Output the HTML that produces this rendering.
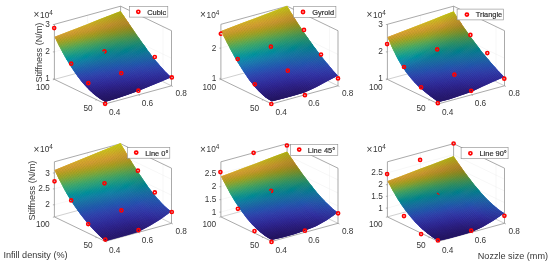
<!DOCTYPE html>
<html><head><meta charset="utf-8"><title>Stiffness surfaces</title>
<style>html,body{margin:0;padding:0;background:#fff}svg{display:block}text{font-family:"Liberation Sans",Arial,sans-serif;fill:#363636}</style>
</head><body>
<svg width="550" height="265" viewBox="0 0 550 265">
<rect width="550" height="265" fill="#fff"/>
<g><polyline points="54.4,51.8 120.6,33.7 171.5,58.2" fill="none" stroke="#efefef" stroke-width="0.5"/>
<line x1="163" y1="81.7" x2="163" y2="26.6" stroke="#efefef" stroke-width="0.5"/>
<line x1="87.5" y1="70.3" x2="87.5" y2="15.2" stroke="#efefef" stroke-width="0.5"/>
<polyline points="54.4,79.4 120.6,61.3 171.5,85.8" fill="none" stroke="#b0b0b0" stroke-width="0.6"/>
<polyline points="54.4,24.3 120.6,6.2 171.5,30.7" fill="none" stroke="#858585" stroke-width="0.7"/>
<line x1="120.6" y1="61.3" x2="120.6" y2="6.2" stroke="#858585" stroke-width="0.7"/>
<line x1="171.5" y1="85.8" x2="171.5" y2="30.7" stroke="#858585" stroke-width="0.7"/>
<line x1="54.4" y1="79.4" x2="54.4" y2="24.3" stroke="#858585" stroke-width="0.7"/>
<polyline points="54.4,79.4 105.3,103.9 171.5,85.8" fill="none" stroke="#858585" stroke-width="0.7"/>
<line x1="52.9" y1="24.5" x2="54.4" y2="24.5" stroke="#858585" stroke-width="0.6"/>
<line x1="52.9" y1="51.9" x2="54.4" y2="51.9" stroke="#858585" stroke-width="0.6"/>
<line x1="52.9" y1="78.9" x2="54.4" y2="78.9" stroke="#858585" stroke-width="0.6"/>
<line x1="105.3" y1="103.9" x2="106.6" y2="104.6" stroke="#858585" stroke-width="0.6"/>
<line x1="138.4" y1="94.8" x2="139.8" y2="95.5" stroke="#858585" stroke-width="0.6"/>
<line x1="171.5" y1="85.8" x2="172.8" y2="86.5" stroke="#858585" stroke-width="0.6"/>
<line x1="54.4" y1="79.4" x2="52.9" y2="79.8" stroke="#858585" stroke-width="0.6"/>
<line x1="96.8" y1="99.8" x2="95.4" y2="100.2" stroke="#858585" stroke-width="0.6"/>
<defs><linearGradient id="c00g0" gradientUnits="userSpaceOnUse" x1="54.8" y1="37.7" x2="121" y2="11.6"><stop offset="0" stop-color="#efb33b"/><stop offset="0.25" stop-color="#f4c033"/><stop offset="0.5" stop-color="#eccc2a"/><stop offset="0.75" stop-color="#dacf21"/><stop offset="1" stop-color="#cece14"/></linearGradient><linearGradient id="c00g1" gradientUnits="userSpaceOnUse" x1="55.6" y1="39.3" x2="121.8" y2="12.7"><stop offset="0" stop-color="#e1b32f"/><stop offset="0.25" stop-color="#f4b739"/><stop offset="0.5" stop-color="#efc42e"/><stop offset="0.75" stop-color="#dbc924"/><stop offset="1" stop-color="#cdca19"/></linearGradient><linearGradient id="c00g2" gradientUnits="userSpaceOnUse" x1="56.4" y1="40.9" x2="122.6" y2="13.9"><stop offset="0" stop-color="#d2b627"/><stop offset="0.25" stop-color="#ecb339"/><stop offset="0.5" stop-color="#f0bc32"/><stop offset="0.75" stop-color="#ddc227"/><stop offset="1" stop-color="#cdc51d"/></linearGradient><linearGradient id="c00g3" gradientUnits="userSpaceOnUse" x1="57.2" y1="42.5" x2="123.4" y2="15"><stop offset="0" stop-color="#c1b928"/><stop offset="0.25" stop-color="#e0b32e"/><stop offset="0.5" stop-color="#efb538"/><stop offset="0.75" stop-color="#e0bb2a"/><stop offset="1" stop-color="#cdc020"/></linearGradient><linearGradient id="c00g4" gradientUnits="userSpaceOnUse" x1="58" y1="44.1" x2="124.2" y2="16.2"><stop offset="0" stop-color="#aebd31"/><stop offset="0.25" stop-color="#d2b627"/><stop offset="0.5" stop-color="#e9af39"/><stop offset="0.75" stop-color="#e1b52d"/><stop offset="1" stop-color="#cebb22"/></linearGradient><linearGradient id="c00g5" gradientUnits="userSpaceOnUse" x1="58.8" y1="45.6" x2="125" y2="17.4"><stop offset="0" stop-color="#9ac03e"/><stop offset="0.25" stop-color="#c3b927"/><stop offset="0.5" stop-color="#dfae30"/><stop offset="0.75" stop-color="#e2ae31"/><stop offset="1" stop-color="#d0b625"/></linearGradient><linearGradient id="c00g6" gradientUnits="userSpaceOnUse" x1="59.6" y1="47.2" x2="125.8" y2="18.5"><stop offset="0" stop-color="#85c34e"/><stop offset="0.25" stop-color="#b2bc2e"/><stop offset="0.5" stop-color="#d2b028"/><stop offset="0.75" stop-color="#e1a836"/><stop offset="1" stop-color="#d3b127"/></linearGradient><linearGradient id="c00g7" gradientUnits="userSpaceOnUse" x1="60.4" y1="48.7" x2="126.6" y2="19.7"><stop offset="0" stop-color="#70c45e"/><stop offset="0.25" stop-color="#a0bf39"/><stop offset="0.5" stop-color="#c5b225"/><stop offset="0.75" stop-color="#daa535"/><stop offset="1" stop-color="#d5ac2a"/></linearGradient><linearGradient id="c00g8" gradientUnits="userSpaceOnUse" x1="61.2" y1="50.2" x2="127.4" y2="20.9"><stop offset="0" stop-color="#5dc46d"/><stop offset="0.25" stop-color="#8dc046"/><stop offset="0.5" stop-color="#b7b427"/><stop offset="0.75" stop-color="#d1a52d"/><stop offset="1" stop-color="#d6a62e"/></linearGradient><linearGradient id="c00g9" gradientUnits="userSpaceOnUse" x1="62" y1="51.7" x2="128.2" y2="22"><stop offset="0" stop-color="#4bc37c"/><stop offset="0.25" stop-color="#7ac254"/><stop offset="0.5" stop-color="#a7b62f"/><stop offset="0.75" stop-color="#c7a626"/><stop offset="1" stop-color="#d6a232"/></linearGradient><linearGradient id="c00g10" gradientUnits="userSpaceOnUse" x1="62.8" y1="53.1" x2="129" y2="23.2"><stop offset="0" stop-color="#3cc188"/><stop offset="0.25" stop-color="#67c262"/><stop offset="0.5" stop-color="#97b839"/><stop offset="0.75" stop-color="#bca823"/><stop offset="1" stop-color="#d39e33"/></linearGradient><linearGradient id="c00g11" gradientUnits="userSpaceOnUse" x1="63.5" y1="54.5" x2="129.7" y2="24.4"><stop offset="0" stop-color="#32be94"/><stop offset="0.25" stop-color="#56c06f"/><stop offset="0.5" stop-color="#87b944"/><stop offset="0.75" stop-color="#b1aa24"/><stop offset="1" stop-color="#cc9d2f"/></linearGradient><linearGradient id="c00g12" gradientUnits="userSpaceOnUse" x1="64.3" y1="56" x2="130.5" y2="25.5"><stop offset="0" stop-color="#2aba9e"/><stop offset="0.25" stop-color="#47be7b"/><stop offset="0.5" stop-color="#76ba50"/><stop offset="0.75" stop-color="#a4ac2a"/><stop offset="1" stop-color="#c59d28"/></linearGradient><linearGradient id="c00g13" gradientUnits="userSpaceOnUse" x1="65.1" y1="57.3" x2="131.3" y2="26.7"><stop offset="0" stop-color="#1cb6a8"/><stop offset="0.25" stop-color="#3abc85"/><stop offset="0.5" stop-color="#66ba5b"/><stop offset="0.75" stop-color="#97ad31"/><stop offset="1" stop-color="#bc9f23"/></linearGradient><linearGradient id="c00g14" gradientUnits="userSpaceOnUse" x1="65.9" y1="58.7" x2="132.1" y2="27.8"><stop offset="0" stop-color="#09b1b1"/><stop offset="0.25" stop-color="#31b88f"/><stop offset="0.5" stop-color="#57b867"/><stop offset="0.75" stop-color="#89af3a"/><stop offset="1" stop-color="#b3a121"/></linearGradient><linearGradient id="c00g15" gradientUnits="userSpaceOnUse" x1="66.7" y1="60.1" x2="132.9" y2="29"><stop offset="0" stop-color="#01acb9"/><stop offset="0.25" stop-color="#2ab497"/><stop offset="0.5" stop-color="#49b771"/><stop offset="0.75" stop-color="#7bb044"/><stop offset="1" stop-color="#a9a323"/></linearGradient><linearGradient id="c00g16" gradientUnits="userSpaceOnUse" x1="67.5" y1="61.4" x2="133.7" y2="30.2"><stop offset="0" stop-color="#08a6c0"/><stop offset="0.25" stop-color="#1fb0a0"/><stop offset="0.5" stop-color="#3cb47b"/><stop offset="0.75" stop-color="#6db04f"/><stop offset="1" stop-color="#9ea528"/></linearGradient><linearGradient id="c00g17" gradientUnits="userSpaceOnUse" x1="68.3" y1="62.7" x2="134.5" y2="31.3"><stop offset="0" stop-color="#13a0c6"/><stop offset="0.25" stop-color="#0faba8"/><stop offset="0.5" stop-color="#33b284"/><stop offset="0.75" stop-color="#5fb058"/><stop offset="1" stop-color="#93a72e"/></linearGradient><linearGradient id="c00g18" gradientUnits="userSpaceOnUse" x1="69.1" y1="64" x2="135.3" y2="32.5"><stop offset="0" stop-color="#1999c9"/><stop offset="0.25" stop-color="#02a7af"/><stop offset="0.5" stop-color="#2cae8b"/><stop offset="0.75" stop-color="#52b062"/><stop offset="1" stop-color="#87a836"/></linearGradient><linearGradient id="c00g19" gradientUnits="userSpaceOnUse" x1="69.9" y1="65.3" x2="136.1" y2="33.6"><stop offset="0" stop-color="#1d91ca"/><stop offset="0.25" stop-color="#03a2b5"/><stop offset="0.5" stop-color="#26ab93"/><stop offset="0.75" stop-color="#46ae6c"/><stop offset="1" stop-color="#7baa3f"/></linearGradient><linearGradient id="c00g20" gradientUnits="userSpaceOnUse" x1="70.7" y1="66.5" x2="136.9" y2="34.8"><stop offset="0" stop-color="#208acb"/><stop offset="0.25" stop-color="#0d9cbb"/><stop offset="0.5" stop-color="#1ba79a"/><stop offset="0.75" stop-color="#3bad74"/><stop offset="1" stop-color="#6eaa48"/></linearGradient><linearGradient id="c00g21" gradientUnits="userSpaceOnUse" x1="71.5" y1="67.8" x2="137.7" y2="35.9"><stop offset="0" stop-color="#2283cc"/><stop offset="0.25" stop-color="#1597bf"/><stop offset="0.5" stop-color="#0ca3a1"/><stop offset="0.75" stop-color="#32ab7c"/><stop offset="1" stop-color="#62ab51"/></linearGradient><linearGradient id="c00g22" gradientUnits="userSpaceOnUse" x1="72.3" y1="69" x2="138.5" y2="37.1"><stop offset="0" stop-color="#257ccd"/><stop offset="0.25" stop-color="#1990c1"/><stop offset="0.5" stop-color="#019fa8"/><stop offset="0.75" stop-color="#2ca883"/><stop offset="1" stop-color="#56ab5b"/></linearGradient><linearGradient id="c00g23" gradientUnits="userSpaceOnUse" x1="73.1" y1="70.2" x2="139.3" y2="38.2"><stop offset="0" stop-color="#2676cf"/><stop offset="0.25" stop-color="#1d8ac2"/><stop offset="0.5" stop-color="#039bae"/><stop offset="0.75" stop-color="#27a58a"/><stop offset="1" stop-color="#4baa64"/></linearGradient><linearGradient id="c00g24" gradientUnits="userSpaceOnUse" x1="73.9" y1="71.3" x2="140.1" y2="39.4"><stop offset="0" stop-color="#276fd0"/><stop offset="0.25" stop-color="#1f84c3"/><stop offset="0.5" stop-color="#0b97b3"/><stop offset="0.75" stop-color="#1fa291"/><stop offset="1" stop-color="#40a96c"/></linearGradient><linearGradient id="c00g25" gradientUnits="userSpaceOnUse" x1="74.7" y1="72.5" x2="140.9" y2="40.5"><stop offset="0" stop-color="#2869d1"/><stop offset="0.25" stop-color="#217ec5"/><stop offset="0.5" stop-color="#1392b7"/><stop offset="0.75" stop-color="#14a098"/><stop offset="1" stop-color="#37a874"/></linearGradient><linearGradient id="c00g26" gradientUnits="userSpaceOnUse" x1="75.5" y1="73.6" x2="141.7" y2="41.6"><stop offset="0" stop-color="#2c63d1"/><stop offset="0.25" stop-color="#2479c7"/><stop offset="0.5" stop-color="#188dba"/><stop offset="0.75" stop-color="#079d9e"/><stop offset="1" stop-color="#30a67b"/></linearGradient><linearGradient id="c00g27" gradientUnits="userSpaceOnUse" x1="76.3" y1="74.7" x2="142.5" y2="42.7"><stop offset="0" stop-color="#315ed1"/><stop offset="0.25" stop-color="#2573c9"/><stop offset="0.5" stop-color="#1b88bc"/><stop offset="0.75" stop-color="#0199a4"/><stop offset="1" stop-color="#2aa481"/></linearGradient><linearGradient id="c00g28" gradientUnits="userSpaceOnUse" x1="77.1" y1="75.8" x2="143.3" y2="43.9"><stop offset="0" stop-color="#3559d0"/><stop offset="0.25" stop-color="#266ecb"/><stop offset="0.5" stop-color="#1d83be"/><stop offset="0.75" stop-color="#0496aa"/><stop offset="1" stop-color="#26a288"/></linearGradient><linearGradient id="c00g29" gradientUnits="userSpaceOnUse" x1="77.9" y1="76.9" x2="144.1" y2="45"><stop offset="0" stop-color="#3754d0"/><stop offset="0.25" stop-color="#2769cd"/><stop offset="0.5" stop-color="#1f7ec0"/><stop offset="0.75" stop-color="#0d93af"/><stop offset="1" stop-color="#1e9f8f"/></linearGradient><linearGradient id="c00g30" gradientUnits="userSpaceOnUse" x1="78.7" y1="77.9" x2="144.9" y2="46.1"><stop offset="0" stop-color="#3950cf"/><stop offset="0.25" stop-color="#2a64cf"/><stop offset="0.5" stop-color="#217ac2"/><stop offset="0.75" stop-color="#138fb4"/><stop offset="1" stop-color="#149d95"/></linearGradient><linearGradient id="c00g31" gradientUnits="userSpaceOnUse" x1="79.5" y1="79" x2="145.7" y2="47.2"><stop offset="0" stop-color="#3a4ccd"/><stop offset="0.25" stop-color="#2f60d1"/><stop offset="0.5" stop-color="#2475c5"/><stop offset="0.75" stop-color="#178bb7"/><stop offset="1" stop-color="#089b9c"/></linearGradient><linearGradient id="c00g32" gradientUnits="userSpaceOnUse" x1="80.2" y1="80" x2="146.4" y2="48.3"><stop offset="0" stop-color="#3a48cb"/><stop offset="0.25" stop-color="#335bd1"/><stop offset="0.5" stop-color="#2571c9"/><stop offset="0.75" stop-color="#1a87ba"/><stop offset="1" stop-color="#0198a2"/></linearGradient><linearGradient id="c00g33" gradientUnits="userSpaceOnUse" x1="81" y1="81" x2="147.2" y2="49.4"><stop offset="0" stop-color="#3b45c9"/><stop offset="0.25" stop-color="#3657d0"/><stop offset="0.5" stop-color="#266dcb"/><stop offset="0.75" stop-color="#1d83bc"/><stop offset="1" stop-color="#0396a8"/></linearGradient><linearGradient id="c00g34" gradientUnits="userSpaceOnUse" x1="81.8" y1="81.9" x2="148" y2="50.4"><stop offset="0" stop-color="#3b41c7"/><stop offset="0.25" stop-color="#3853cf"/><stop offset="0.5" stop-color="#2768ce"/><stop offset="0.75" stop-color="#1f7fbe"/><stop offset="1" stop-color="#0a93ad"/></linearGradient><linearGradient id="c00g35" gradientUnits="userSpaceOnUse" x1="82.6" y1="82.9" x2="148.8" y2="51.5"><stop offset="0" stop-color="#3b3ec4"/><stop offset="0.25" stop-color="#394fce"/><stop offset="0.5" stop-color="#2b64cf"/><stop offset="0.75" stop-color="#217bc1"/><stop offset="1" stop-color="#1190b2"/></linearGradient><linearGradient id="c00g36" gradientUnits="userSpaceOnUse" x1="83.4" y1="83.8" x2="149.6" y2="52.6"><stop offset="0" stop-color="#3b3bc2"/><stop offset="0.25" stop-color="#3a4bcd"/><stop offset="0.5" stop-color="#2f5fd1"/><stop offset="0.75" stop-color="#2377c4"/><stop offset="1" stop-color="#168cb6"/></linearGradient><linearGradient id="c00g37" gradientUnits="userSpaceOnUse" x1="84.2" y1="84.7" x2="150.4" y2="53.6"><stop offset="0" stop-color="#3a38bf"/><stop offset="0.25" stop-color="#3a48cb"/><stop offset="0.5" stop-color="#335bd1"/><stop offset="0.75" stop-color="#2573c7"/><stop offset="1" stop-color="#1988b9"/></linearGradient><linearGradient id="c00g38" gradientUnits="userSpaceOnUse" x1="85" y1="85.6" x2="151.2" y2="54.7"><stop offset="0" stop-color="#3a35bc"/><stop offset="0.25" stop-color="#3b44c9"/><stop offset="0.5" stop-color="#3657d0"/><stop offset="0.75" stop-color="#256fca"/><stop offset="1" stop-color="#1c85bb"/></linearGradient><linearGradient id="c00g39" gradientUnits="userSpaceOnUse" x1="85.8" y1="86.5" x2="152" y2="55.7"><stop offset="0" stop-color="#3a33b9"/><stop offset="0.25" stop-color="#3b41c7"/><stop offset="0.5" stop-color="#3853cf"/><stop offset="0.75" stop-color="#266bcc"/><stop offset="1" stop-color="#1e81bd"/></linearGradient><linearGradient id="c00g40" gradientUnits="userSpaceOnUse" x1="86.6" y1="87.4" x2="152.8" y2="56.7"><stop offset="0" stop-color="#3930b5"/><stop offset="0.25" stop-color="#3b3ec4"/><stop offset="0.5" stop-color="#394fce"/><stop offset="0.75" stop-color="#2867ce"/><stop offset="1" stop-color="#1f7dbf"/></linearGradient><linearGradient id="c00g41" gradientUnits="userSpaceOnUse" x1="87.4" y1="88.2" x2="153.6" y2="57.7"><stop offset="0" stop-color="#392eb2"/><stop offset="0.25" stop-color="#3b3bc2"/><stop offset="0.5" stop-color="#3a4ccd"/><stop offset="0.75" stop-color="#2c63d0"/><stop offset="1" stop-color="#2279c2"/></linearGradient><linearGradient id="c00g42" gradientUnits="userSpaceOnUse" x1="88.2" y1="89" x2="154.4" y2="58.7"><stop offset="0" stop-color="#382dae"/><stop offset="0.25" stop-color="#3a38bf"/><stop offset="0.5" stop-color="#3a49cb"/><stop offset="0.75" stop-color="#305ed1"/><stop offset="1" stop-color="#2476c5"/></linearGradient><linearGradient id="c00g43" gradientUnits="userSpaceOnUse" x1="89" y1="89.8" x2="155.2" y2="59.7"><stop offset="0" stop-color="#382bab"/><stop offset="0.25" stop-color="#3a36bc"/><stop offset="0.5" stop-color="#3b45ca"/><stop offset="0.75" stop-color="#345ad1"/><stop offset="1" stop-color="#2572c8"/></linearGradient><linearGradient id="c00g44" gradientUnits="userSpaceOnUse" x1="89.8" y1="90.6" x2="156" y2="60.7"><stop offset="0" stop-color="#372aa7"/><stop offset="0.25" stop-color="#3a33b9"/><stop offset="0.5" stop-color="#3b42c7"/><stop offset="0.75" stop-color="#3657d0"/><stop offset="1" stop-color="#256ecb"/></linearGradient><linearGradient id="c00g45" gradientUnits="userSpaceOnUse" x1="90.6" y1="91.4" x2="156.8" y2="61.7"><stop offset="0" stop-color="#3728a4"/><stop offset="0.25" stop-color="#3a31b6"/><stop offset="0.5" stop-color="#3b3fc5"/><stop offset="0.75" stop-color="#3853cf"/><stop offset="1" stop-color="#266acd"/></linearGradient><linearGradient id="c00g46" gradientUnits="userSpaceOnUse" x1="91.4" y1="92.1" x2="157.6" y2="62.7"><stop offset="0" stop-color="#3627a1"/><stop offset="0.25" stop-color="#392fb3"/><stop offset="0.5" stop-color="#3b3dc3"/><stop offset="0.75" stop-color="#3950cf"/><stop offset="1" stop-color="#2966ce"/></linearGradient><linearGradient id="c00g47" gradientUnits="userSpaceOnUse" x1="92.2" y1="92.8" x2="158.4" y2="63.6"><stop offset="0" stop-color="#36269e"/><stop offset="0.25" stop-color="#392daf"/><stop offset="0.5" stop-color="#3b3ac1"/><stop offset="0.75" stop-color="#3a4ccd"/><stop offset="1" stop-color="#2c62d0"/></linearGradient><linearGradient id="c00g48" gradientUnits="userSpaceOnUse" x1="93" y1="93.5" x2="159.2" y2="64.5"><stop offset="0" stop-color="#36259b"/><stop offset="0.25" stop-color="#382cac"/><stop offset="0.5" stop-color="#3a37be"/><stop offset="0.75" stop-color="#3a49cc"/><stop offset="1" stop-color="#305ed1"/></linearGradient><linearGradient id="c00g49" gradientUnits="userSpaceOnUse" x1="93.8" y1="94.2" x2="160" y2="65.5"><stop offset="0" stop-color="#352499"/><stop offset="0.25" stop-color="#382aa9"/><stop offset="0.5" stop-color="#3a35bb"/><stop offset="0.75" stop-color="#3b46ca"/><stop offset="1" stop-color="#335bd1"/></linearGradient><linearGradient id="c00g50" gradientUnits="userSpaceOnUse" x1="94.6" y1="94.9" x2="160.8" y2="66.4"><stop offset="0" stop-color="#352396"/><stop offset="0.25" stop-color="#3729a5"/><stop offset="0.5" stop-color="#3a33b8"/><stop offset="0.75" stop-color="#3b44c8"/><stop offset="1" stop-color="#3657d0"/></linearGradient><linearGradient id="c00g51" gradientUnits="userSpaceOnUse" x1="95.4" y1="95.5" x2="161.6" y2="67.3"><stop offset="0" stop-color="#342394"/><stop offset="0.25" stop-color="#3728a2"/><stop offset="0.5" stop-color="#3931b6"/><stop offset="0.75" stop-color="#3b41c6"/><stop offset="1" stop-color="#3754d0"/></linearGradient><linearGradient id="c00g52" gradientUnits="userSpaceOnUse" x1="96.2" y1="96.1" x2="162.4" y2="68.2"><stop offset="0" stop-color="#342293"/><stop offset="0.25" stop-color="#36279f"/><stop offset="0.5" stop-color="#392fb2"/><stop offset="0.75" stop-color="#3b3ec4"/><stop offset="1" stop-color="#3951cf"/></linearGradient><linearGradient id="c00g53" gradientUnits="userSpaceOnUse" x1="96.9" y1="96.7" x2="163.1" y2="69"><stop offset="0" stop-color="#342291"/><stop offset="0.25" stop-color="#36269d"/><stop offset="0.5" stop-color="#392daf"/><stop offset="0.75" stop-color="#3b3cc2"/><stop offset="1" stop-color="#394ece"/></linearGradient><linearGradient id="c00g54" gradientUnits="userSpaceOnUse" x1="97.7" y1="97.3" x2="163.9" y2="69.9"><stop offset="0" stop-color="#34218f"/><stop offset="0.25" stop-color="#35259a"/><stop offset="0.5" stop-color="#382cac"/><stop offset="0.75" stop-color="#3b3ac0"/><stop offset="1" stop-color="#3a4bcc"/></linearGradient><linearGradient id="c00g55" gradientUnits="userSpaceOnUse" x1="98.5" y1="97.9" x2="164.7" y2="70.7"><stop offset="0" stop-color="#33218e"/><stop offset="0.25" stop-color="#352498"/><stop offset="0.5" stop-color="#382aa9"/><stop offset="0.75" stop-color="#3a37be"/><stop offset="1" stop-color="#3a48cb"/></linearGradient><linearGradient id="c00g56" gradientUnits="userSpaceOnUse" x1="99.3" y1="98.4" x2="165.5" y2="71.6"><stop offset="0" stop-color="#33208d"/><stop offset="0.25" stop-color="#352396"/><stop offset="0.5" stop-color="#3729a6"/><stop offset="0.75" stop-color="#3a35bc"/><stop offset="1" stop-color="#3b45c9"/></linearGradient><linearGradient id="c00g57" gradientUnits="userSpaceOnUse" x1="100.1" y1="98.9" x2="166.3" y2="72.4"><stop offset="0" stop-color="#33208c"/><stop offset="0.25" stop-color="#342394"/><stop offset="0.5" stop-color="#3728a3"/><stop offset="0.75" stop-color="#3a33b9"/><stop offset="1" stop-color="#3b43c8"/></linearGradient><linearGradient id="c00g58" gradientUnits="userSpaceOnUse" x1="100.9" y1="99.4" x2="167.1" y2="73.2"><stop offset="0" stop-color="#33208c"/><stop offset="0.25" stop-color="#342292"/><stop offset="0.5" stop-color="#3627a0"/><stop offset="0.75" stop-color="#3a31b7"/><stop offset="1" stop-color="#3b40c6"/></linearGradient><linearGradient id="c00g59" gradientUnits="userSpaceOnUse" x1="101.7" y1="99.9" x2="167.9" y2="74"><stop offset="0" stop-color="#33208b"/><stop offset="0.25" stop-color="#342291"/><stop offset="0.5" stop-color="#36269e"/><stop offset="0.75" stop-color="#3930b4"/><stop offset="1" stop-color="#3b3ec4"/></linearGradient><linearGradient id="c00g60" gradientUnits="userSpaceOnUse" x1="102.5" y1="100.4" x2="168.7" y2="74.7"><stop offset="0" stop-color="#33208b"/><stop offset="0.25" stop-color="#34218f"/><stop offset="0.5" stop-color="#36259b"/><stop offset="0.75" stop-color="#392eb1"/><stop offset="1" stop-color="#3b3cc2"/></linearGradient><linearGradient id="c00g61" gradientUnits="userSpaceOnUse" x1="103.3" y1="100.9" x2="169.5" y2="75.5"><stop offset="0" stop-color="#33208a"/><stop offset="0.25" stop-color="#33218e"/><stop offset="0.5" stop-color="#352599"/><stop offset="0.75" stop-color="#392daf"/><stop offset="1" stop-color="#3b3ac1"/></linearGradient><linearGradient id="c00g62" gradientUnits="userSpaceOnUse" x1="104.1" y1="101.3" x2="170.3" y2="76.2"><stop offset="0" stop-color="#331f8a"/><stop offset="0.25" stop-color="#33208d"/><stop offset="0.5" stop-color="#352498"/><stop offset="0.75" stop-color="#382cac"/><stop offset="1" stop-color="#3a38bf"/></linearGradient><linearGradient id="c00g63" gradientUnits="userSpaceOnUse" x1="104.9" y1="101.7" x2="171.1" y2="77"><stop offset="0" stop-color="#331f8a"/><stop offset="0.25" stop-color="#33208c"/><stop offset="0.5" stop-color="#352396"/><stop offset="0.75" stop-color="#382baa"/><stop offset="1" stop-color="#3a36bd"/></linearGradient></defs>
<clipPath id="c00"><polygon points="54.4,36.8 55.2,38.5 56,40.1 56.8,41.7 57.6,43.3 58.4,44.9 59.2,46.4 60,47.9 60.8,49.4 61.6,50.9 62.4,52.4 63.1,53.8 63.9,55.2 64.7,56.7 65.5,58 66.3,59.4 67.1,60.7 67.9,62.1 68.7,63.4 69.5,64.6 70.3,65.9 71.1,67.1 71.9,68.4 72.7,69.6 73.5,70.7 74.3,71.9 75.1,73.1 75.9,74.2 76.7,75.3 77.5,76.4 78.3,77.4 79.1,78.5 79.8,79.5 80.6,80.5 81.4,81.5 82.2,82.4 83,83.4 83.8,84.3 84.6,85.2 85.4,86.1 86.2,86.9 87,87.8 87.8,88.6 88.6,89.4 89.4,90.2 90.2,91 91,91.7 91.8,92.5 92.6,93.2 93.4,93.9 94.2,94.5 95,95.2 95.8,95.8 96.6,96.4 97.3,97 98.1,97.6 98.9,98.1 99.7,98.7 100.5,99.2 101.3,99.7 102.1,100.2 102.9,100.6 103.7,101.1 104.5,101.5 105.3,101.9 116.3,98.8 127.4,94.9 138.4,91.1 149.4,86.6 160.5,82 171.5,77.3 170.7,76.6 169.9,75.9 169.1,75.1 168.3,74.4 167.5,73.6 166.7,72.8 165.9,72 165.1,71.2 164.3,70.3 163.5,69.5 162.8,68.6 162,67.7 161.2,66.8 160.4,65.9 159.6,65 158.8,64.1 158,63.1 157.2,62.2 156.4,61.2 155.6,60.2 154.8,59.2 154,58.2 153.2,57.2 152.4,56.2 151.6,55.2 150.8,54.1 150,53.1 149.2,52 148.4,51 147.6,49.9 146.8,48.8 146.1,47.7 145.3,46.6 144.5,45.5 143.7,44.4 142.9,43.3 142.1,42.2 141.3,41.1 140.5,39.9 139.7,38.8 138.9,37.7 138.1,36.5 137.3,35.4 136.5,34.2 135.7,33.1 134.9,31.9 134.1,30.8 133.3,29.6 132.5,28.4 131.7,27.3 130.9,26.1 130.1,24.9 129.3,23.8 128.6,22.6 127.8,21.4 127,20.3 126.2,19.1 125.4,17.9 124.6,16.8 123.8,15.6 123,14.5 122.2,13.3 121.4,12.2 120.6,11 109.6,15.3 98.5,19.6 87.5,23.9 76.5,28.2 65.4,32.5"/></clipPath>
<g clip-path="url(#c00)" stroke-width="1" stroke-linejoin="round"><polygon points="54.4,36.8 65.4,32.5 76.5,28.2 87.5,23.9 98.5,19.6 109.6,15.3 120.6,11 121.4,12.2 110.4,16.5 99.3,20.9 88.3,25.3 77.3,29.7 66.2,34.1 55.2,38.5" fill="url(#c00g0)" stroke="url(#c00g0)"/><polygon points="55.2,38.5 66.2,34.1 77.3,29.7 88.3,25.3 99.3,20.9 110.4,16.5 121.4,12.2 122.2,13.3 111.2,17.8 100.1,22.2 89.1,26.7 78.1,31.2 67,35.6 56,40.1" fill="url(#c00g1)" stroke="url(#c00g1)"/><polygon points="56,40.1 67,35.6 78.1,31.2 89.1,26.7 100.1,22.2 111.2,17.8 122.2,13.3 123,14.5 112,19 100.9,23.6 89.9,28.1 78.9,32.6 67.8,37.2 56.8,41.7" fill="url(#c00g2)" stroke="url(#c00g2)"/><polygon points="56.8,41.7 67.8,37.2 78.9,32.6 89.9,28.1 100.9,23.6 112,19 123,14.5 123.8,15.6 112.7,20.2 101.7,24.9 90.7,29.5 79.6,34.1 68.6,38.7 57.6,43.3" fill="url(#c00g3)" stroke="url(#c00g3)"/><polygon points="57.6,43.3 68.6,38.7 79.6,34.1 90.7,29.5 101.7,24.9 112.7,20.2 123.8,15.6 124.6,16.8 113.5,21.5 102.5,26.2 91.5,30.9 80.4,35.5 69.4,40.2 58.4,44.9" fill="url(#c00g4)" stroke="url(#c00g4)"/><polygon points="58.4,44.9 69.4,40.2 80.4,35.5 91.5,30.9 102.5,26.2 113.5,21.5 124.6,16.8 125.4,17.9 114.3,22.7 103.3,27.5 92.3,32.2 81.2,37 70.2,41.7 59.2,46.4" fill="url(#c00g5)" stroke="url(#c00g5)"/><polygon points="59.2,46.4 70.2,41.7 81.2,37 92.3,32.2 103.3,27.5 114.3,22.7 125.4,17.9 126.2,19.1 115.1,23.9 104.1,28.8 93.1,33.6 82,38.4 71,43.2 60,47.9" fill="url(#c00g6)" stroke="url(#c00g6)"/><polygon points="60,47.9 71,43.2 82,38.4 93.1,33.6 104.1,28.8 115.1,23.9 126.2,19.1 127,20.3 115.9,25.2 104.9,30 93.9,34.9 82.8,39.8 71.8,44.6 60.8,49.4" fill="url(#c00g7)" stroke="url(#c00g7)"/><polygon points="60.8,49.4 71.8,44.6 82.8,39.8 93.9,34.9 104.9,30 115.9,25.2 127,20.3 127.8,21.4 116.7,26.4 105.7,31.3 94.7,36.3 83.6,41.2 72.6,46.1 61.6,50.9" fill="url(#c00g8)" stroke="url(#c00g8)"/><polygon points="61.6,50.9 72.6,46.1 83.6,41.2 94.7,36.3 105.7,31.3 116.7,26.4 127.8,21.4 128.6,22.6 117.5,27.6 106.5,32.6 95.5,37.6 84.4,42.5 73.4,47.5 62.4,52.4" fill="url(#c00g9)" stroke="url(#c00g9)"/><polygon points="62.4,52.4 73.4,47.5 84.4,42.5 95.5,37.6 106.5,32.6 117.5,27.6 128.6,22.6 129.3,23.8 118.3,28.8 107.3,33.9 96.2,38.9 85.2,43.9 74.2,48.9 63.1,53.8" fill="url(#c00g10)" stroke="url(#c00g10)"/><polygon points="63.1,53.8 74.2,48.9 85.2,43.9 96.2,38.9 107.3,33.9 118.3,28.8 129.3,23.8 130.1,24.9 119.1,30 108.1,35.1 97,40.2 86,45.2 75,50.3 63.9,55.2" fill="url(#c00g11)" stroke="url(#c00g11)"/><polygon points="63.9,55.2 75,50.3 86,45.2 97,40.2 108.1,35.1 119.1,30 130.1,24.9 130.9,26.1 119.9,31.2 108.9,36.4 97.8,41.5 86.8,46.6 75.8,51.6 64.7,56.7" fill="url(#c00g12)" stroke="url(#c00g12)"/><polygon points="64.7,56.7 75.8,51.6 86.8,46.6 97.8,41.5 108.9,36.4 119.9,31.2 130.9,26.1 131.7,27.3 120.7,32.5 109.7,37.6 98.6,42.8 87.6,47.9 76.6,53 65.5,58" fill="url(#c00g13)" stroke="url(#c00g13)"/><polygon points="65.5,58 76.6,53 87.6,47.9 98.6,42.8 109.7,37.6 120.7,32.5 131.7,27.3 132.5,28.4 121.5,33.7 110.5,38.9 99.4,44.1 88.4,49.2 77.4,54.3 66.3,59.4" fill="url(#c00g14)" stroke="url(#c00g14)"/><polygon points="66.3,59.4 77.4,54.3 88.4,49.2 99.4,44.1 110.5,38.9 121.5,33.7 132.5,28.4 133.3,29.6 122.3,34.9 111.3,40.1 100.2,45.4 89.2,50.5 78.2,55.7 67.1,60.7" fill="url(#c00g15)" stroke="url(#c00g15)"/><polygon points="67.1,60.7 78.2,55.7 89.2,50.5 100.2,45.4 111.3,40.1 122.3,34.9 133.3,29.6 134.1,30.8 123.1,36.1 112.1,41.3 101,46.6 90,51.8 79,57 67.9,62.1" fill="url(#c00g16)" stroke="url(#c00g16)"/><polygon points="67.9,62.1 79,57 90,51.8 101,46.6 112.1,41.3 123.1,36.1 134.1,30.8 134.9,31.9 123.9,37.2 112.8,42.6 101.8,47.9 90.8,53.1 79.7,58.3 68.7,63.4" fill="url(#c00g17)" stroke="url(#c00g17)"/><polygon points="68.7,63.4 79.7,58.3 90.8,53.1 101.8,47.9 112.8,42.6 123.9,37.2 134.9,31.9 135.7,33.1 124.7,38.4 113.6,43.8 102.6,49.1 91.6,54.3 80.5,59.5 69.5,64.6" fill="url(#c00g18)" stroke="url(#c00g18)"/><polygon points="69.5,64.6 80.5,59.5 91.6,54.3 102.6,49.1 113.6,43.8 124.7,38.4 135.7,33.1 136.5,34.2 125.5,39.6 114.4,45 103.4,50.3 92.4,55.6 81.3,60.8 70.3,65.9" fill="url(#c00g19)" stroke="url(#c00g19)"/><polygon points="70.3,65.9 81.3,60.8 92.4,55.6 103.4,50.3 114.4,45 125.5,39.6 136.5,34.2 137.3,35.4 126.3,40.8 115.2,46.2 104.2,51.5 93.2,56.8 82.1,62 71.1,67.1" fill="url(#c00g20)" stroke="url(#c00g20)"/><polygon points="71.1,67.1 82.1,62 93.2,56.8 104.2,51.5 115.2,46.2 126.3,40.8 137.3,35.4 138.1,36.5 127.1,41.9 116,47.4 105,52.8 94,58 82.9,63.3 71.9,68.4" fill="url(#c00g21)" stroke="url(#c00g21)"/><polygon points="71.9,68.4 82.9,63.3 94,58 105,52.8 116,47.4 127.1,41.9 138.1,36.5 138.9,37.7 127.9,43.1 116.8,48.5 105.8,53.9 94.8,59.2 83.7,64.5 72.7,69.6" fill="url(#c00g22)" stroke="url(#c00g22)"/><polygon points="72.7,69.6 83.7,64.5 94.8,59.2 105.8,53.9 116.8,48.5 127.9,43.1 138.9,37.7 139.7,38.8 128.7,44.3 117.6,49.7 106.6,55.1 95.6,60.4 84.5,65.6 73.5,70.7" fill="url(#c00g23)" stroke="url(#c00g23)"/><polygon points="73.5,70.7 84.5,65.6 95.6,60.4 106.6,55.1 117.6,49.7 128.7,44.3 139.7,38.8 140.5,39.9 129.4,45.4 118.4,50.9 107.4,56.3 96.3,61.5 85.3,66.8 74.3,71.9" fill="url(#c00g24)" stroke="url(#c00g24)"/><polygon points="74.3,71.9 85.3,66.8 96.3,61.5 107.4,56.3 118.4,50.9 129.4,45.4 140.5,39.9 141.3,41.1 130.2,46.5 119.2,52 108.2,57.5 97.1,62.7 86.1,68 75.1,73.1" fill="url(#c00g25)" stroke="url(#c00g25)"/><polygon points="75.1,73.1 86.1,68 97.1,62.7 108.2,57.5 119.2,52 130.2,46.5 141.3,41.1 142.1,42.2 131,47.7 120,53.2 109,58.6 97.9,63.8 86.9,69.1 75.9,74.2" fill="url(#c00g26)" stroke="url(#c00g26)"/><polygon points="75.9,74.2 86.9,69.1 97.9,63.8 109,58.6 120,53.2 131,47.7 142.1,42.2 142.9,43.3 131.8,48.8 120.8,54.3 109.8,59.7 98.7,65 87.7,70.2 76.7,75.3" fill="url(#c00g27)" stroke="url(#c00g27)"/><polygon points="76.7,75.3 87.7,70.2 98.7,65 109.8,59.7 120.8,54.3 131.8,48.8 142.9,43.3 143.7,44.4 132.6,49.9 121.6,55.4 110.6,60.9 99.5,66.1 88.5,71.3 77.5,76.4" fill="url(#c00g28)" stroke="url(#c00g28)"/><polygon points="77.5,76.4 88.5,71.3 99.5,66.1 110.6,60.9 121.6,55.4 132.6,49.9 143.7,44.4 144.5,45.5 133.4,51 122.4,56.5 111.4,62 100.3,67.2 89.3,72.4 78.3,77.4" fill="url(#c00g29)" stroke="url(#c00g29)"/><polygon points="78.3,77.4 89.3,72.4 100.3,67.2 111.4,62 122.4,56.5 133.4,51 144.5,45.5 145.3,46.6 134.2,52.1 123.2,57.6 112.2,63.1 101.1,68.3 90.1,73.5 79.1,78.5" fill="url(#c00g30)" stroke="url(#c00g30)"/><polygon points="79.1,78.5 90.1,73.5 101.1,68.3 112.2,63.1 123.2,57.6 134.2,52.1 145.3,46.6 146.1,47.7 135,53.2 124,58.7 113,64.1 101.9,69.3 90.9,74.5 79.8,79.5" fill="url(#c00g31)" stroke="url(#c00g31)"/><polygon points="79.8,79.5 90.9,74.5 101.9,69.3 113,64.1 124,58.7 135,53.2 146.1,47.7 146.8,48.8 135.8,54.3 124.8,59.8 113.7,65.2 102.7,70.4 91.7,75.6 80.6,80.5" fill="url(#c00g32)" stroke="url(#c00g32)"/><polygon points="80.6,80.5 91.7,75.6 102.7,70.4 113.7,65.2 124.8,59.8 135.8,54.3 146.8,48.8 147.6,49.9 136.6,55.4 125.6,60.8 114.5,66.3 103.5,71.4 92.5,76.6 81.4,81.5" fill="url(#c00g33)" stroke="url(#c00g33)"/><polygon points="81.4,81.5 92.5,76.6 103.5,71.4 114.5,66.3 125.6,60.8 136.6,55.4 147.6,49.9 148.4,51 137.4,56.4 126.4,61.9 115.3,67.3 104.3,72.4 93.3,77.6 82.2,82.4" fill="url(#c00g34)" stroke="url(#c00g34)"/><polygon points="82.2,82.4 93.3,77.6 104.3,72.4 115.3,67.3 126.4,61.9 137.4,56.4 148.4,51 149.2,52 138.2,57.5 127.2,62.9 116.1,68.3 105.1,73.4 94.1,78.6 83,83.4" fill="url(#c00g35)" stroke="url(#c00g35)"/><polygon points="83,83.4 94.1,78.6 105.1,73.4 116.1,68.3 127.2,62.9 138.2,57.5 149.2,52 150,53.1 139,58.5 128,64 116.9,69.4 105.9,74.4 94.9,79.5 83.8,84.3" fill="url(#c00g36)" stroke="url(#c00g36)"/><polygon points="83.8,84.3 94.9,79.5 105.9,74.4 116.9,69.4 128,64 139,58.5 150,53.1 150.8,54.1 139.8,59.6 128.8,65 117.7,70.4 106.7,75.4 95.7,80.5 84.6,85.2" fill="url(#c00g37)" stroke="url(#c00g37)"/><polygon points="84.6,85.2 95.7,80.5 106.7,75.4 117.7,70.4 128.8,65 139.8,59.6 150.8,54.1 151.6,55.2 140.6,60.6 129.6,66 118.5,71.4 107.5,76.4 96.5,81.4 85.4,86.1" fill="url(#c00g38)" stroke="url(#c00g38)"/><polygon points="85.4,86.1 96.5,81.4 107.5,76.4 118.5,71.4 129.6,66 140.6,60.6 151.6,55.2 152.4,56.2 141.4,61.6 130.3,67 119.3,72.3 108.3,77.3 97.2,82.3 86.2,86.9" fill="url(#c00g39)" stroke="url(#c00g39)"/><polygon points="86.2,86.9 97.2,82.3 108.3,77.3 119.3,72.3 130.3,67 141.4,61.6 152.4,56.2 153.2,57.2 142.2,62.6 131.1,68 120.1,73.3 109.1,78.2 98,83.2 87,87.8" fill="url(#c00g40)" stroke="url(#c00g40)"/><polygon points="87,87.8 98,83.2 109.1,78.2 120.1,73.3 131.1,68 142.2,62.6 153.2,57.2 154,58.2 143,63.6 131.9,68.9 120.9,74.2 109.9,79.1 98.8,84.1 87.8,88.6" fill="url(#c00g41)" stroke="url(#c00g41)"/><polygon points="87.8,88.6 98.8,84.1 109.9,79.1 120.9,74.2 131.9,68.9 143,63.6 154,58.2 154.8,59.2 143.8,64.6 132.7,69.9 121.7,75.2 110.7,80 99.6,84.9 88.6,89.4" fill="url(#c00g42)" stroke="url(#c00g42)"/><polygon points="88.6,89.4 99.6,84.9 110.7,80 121.7,75.2 132.7,69.9 143.8,64.6 154.8,59.2 155.6,60.2 144.6,65.6 133.5,70.8 122.5,76.1 111.5,80.9 100.4,85.8 89.4,90.2" fill="url(#c00g43)" stroke="url(#c00g43)"/><polygon points="89.4,90.2 100.4,85.8 111.5,80.9 122.5,76.1 133.5,70.8 144.6,65.6 155.6,60.2 156.4,61.2 145.4,66.5 134.3,71.8 123.3,77 112.3,81.8 101.2,86.6 90.2,91" fill="url(#c00g44)" stroke="url(#c00g44)"/><polygon points="90.2,91 101.2,86.6 112.3,81.8 123.3,77 134.3,71.8 145.4,66.5 156.4,61.2 157.2,62.2 146.2,67.5 135.1,72.7 124.1,77.9 113.1,82.6 102,87.4 91,91.7" fill="url(#c00g45)" stroke="url(#c00g45)"/><polygon points="91,91.7 102,87.4 113.1,82.6 124.1,77.9 135.1,72.7 146.2,67.5 157.2,62.2 158,63.1 146.9,68.4 135.9,73.6 124.9,78.8 113.8,83.5 102.8,88.2 91.8,92.5" fill="url(#c00g46)" stroke="url(#c00g46)"/><polygon points="91.8,92.5 102.8,88.2 113.8,83.5 124.9,78.8 135.9,73.6 146.9,68.4 158,63.1 158.8,64.1 147.7,69.3 136.7,74.5 125.7,79.6 114.6,84.3 103.6,88.9 92.6,93.2" fill="url(#c00g47)" stroke="url(#c00g47)"/><polygon points="92.6,93.2 103.6,88.9 114.6,84.3 125.7,79.6 136.7,74.5 147.7,69.3 158.8,64.1 159.6,65 148.5,70.2 137.5,75.4 126.5,80.5 115.4,85.1 104.4,89.7 93.4,93.9" fill="url(#c00g48)" stroke="url(#c00g48)"/><polygon points="93.4,93.9 104.4,89.7 115.4,85.1 126.5,80.5 137.5,75.4 148.5,70.2 159.6,65 160.4,65.9 149.3,71.1 138.3,76.2 127.3,81.3 116.2,85.8 105.2,90.4 94.2,94.5" fill="url(#c00g49)" stroke="url(#c00g49)"/><polygon points="94.2,94.5 105.2,90.4 116.2,85.8 127.3,81.3 138.3,76.2 149.3,71.1 160.4,65.9 161.2,66.8 150.1,72 139.1,77.1 128.1,82.1 117,86.6 106,91.1 95,95.2" fill="url(#c00g50)" stroke="url(#c00g50)"/><polygon points="95,95.2 106,91.1 117,86.6 128.1,82.1 139.1,77.1 150.1,72 161.2,66.8 162,67.7 150.9,72.8 139.9,77.9 128.9,82.9 117.8,87.3 106.8,91.8 95.8,95.8" fill="url(#c00g51)" stroke="url(#c00g51)"/><polygon points="95.8,95.8 106.8,91.8 117.8,87.3 128.9,82.9 139.9,77.9 150.9,72.8 162,67.7 162.8,68.6 151.7,73.7 140.7,78.7 129.7,83.7 118.6,88.1 107.6,92.5 96.6,96.4" fill="url(#c00g52)" stroke="url(#c00g52)"/><polygon points="96.6,96.4 107.6,92.5 118.6,88.1 129.7,83.7 140.7,78.7 151.7,73.7 162.8,68.6 163.5,69.5 152.5,74.5 141.5,79.5 130.4,84.4 119.4,88.8 108.4,93.2 97.3,97" fill="url(#c00g53)" stroke="url(#c00g53)"/><polygon points="97.3,97 108.4,93.2 119.4,88.8 130.4,84.4 141.5,79.5 152.5,74.5 163.5,69.5 164.3,70.3 153.3,75.3 142.3,80.3 131.2,85.2 120.2,89.5 109.2,93.8 98.1,97.6" fill="url(#c00g54)" stroke="url(#c00g54)"/><polygon points="98.1,97.6 109.2,93.8 120.2,89.5 131.2,85.2 142.3,80.3 153.3,75.3 164.3,70.3 165.1,71.2 154.1,76.1 143.1,81.1 132,85.9 121,90.2 110,94.4 98.9,98.1" fill="url(#c00g55)" stroke="url(#c00g55)"/><polygon points="98.9,98.1 110,94.4 121,90.2 132,85.9 143.1,81.1 154.1,76.1 165.1,71.2 165.9,72 154.9,76.9 143.9,81.8 132.8,86.6 121.8,90.8 110.8,95 99.7,98.7" fill="url(#c00g56)" stroke="url(#c00g56)"/><polygon points="99.7,98.7 110.8,95 121.8,90.8 132.8,86.6 143.9,81.8 154.9,76.9 165.9,72 166.7,72.8 155.7,77.7 144.7,82.5 133.6,87.3 122.6,91.5 111.6,95.6 100.5,99.2" fill="url(#c00g57)" stroke="url(#c00g57)"/><polygon points="100.5,99.2 111.6,95.6 122.6,91.5 133.6,87.3 144.7,82.5 155.7,77.7 166.7,72.8 167.5,73.6 156.5,78.5 145.5,83.3 134.4,88 123.4,92.1 112.4,96.2 101.3,99.7" fill="url(#c00g58)" stroke="url(#c00g58)"/><polygon points="101.3,99.7 112.4,96.2 123.4,92.1 134.4,88 145.5,83.3 156.5,78.5 167.5,73.6 168.3,74.4 157.3,79.2 146.3,84 135.2,88.7 124.2,92.7 113.2,96.7 102.1,100.2" fill="url(#c00g59)" stroke="url(#c00g59)"/><polygon points="102.1,100.2 113.2,96.7 124.2,92.7 135.2,88.7 146.3,84 157.3,79.2 168.3,74.4 169.1,75.1 158.1,79.9 147,84.7 136,89.3 125,93.3 113.9,97.3 102.9,100.6" fill="url(#c00g60)" stroke="url(#c00g60)"/><polygon points="102.9,100.6 113.9,97.3 125,93.3 136,89.3 147,84.7 158.1,79.9 169.1,75.1 169.9,75.9 158.9,80.6 147.8,85.3 136.8,89.9 125.8,93.8 114.7,97.8 103.7,101.1" fill="url(#c00g61)" stroke="url(#c00g61)"/><polygon points="103.7,101.1 114.7,97.8 125.8,93.8 136.8,89.9 147.8,85.3 158.9,80.6 169.9,75.9 170.7,76.6 159.7,81.3 148.6,86 137.6,90.5 126.6,94.4 115.5,98.3 104.5,101.5" fill="url(#c00g62)" stroke="url(#c00g62)"/><polygon points="104.5,101.5 115.5,98.3 126.6,94.4 137.6,90.5 148.6,86 159.7,81.3 170.7,76.6 171.5,77.3 160.5,82 149.4,86.6 138.4,91.1 127.4,94.9 116.3,98.8 105.3,101.9" fill="url(#c00g63)" stroke="url(#c00g63)"/><g fill="none" stroke="#000" stroke-width="0.5"><polyline stroke-opacity="0.27" points="54.4,36.83 70.95,30.37 87.5,23.92 104.05,17.46 120.6,11.01"/><polyline stroke-opacity="0.27" points="54.93,37.93 71.48,31.39 88.03,24.85 104.58,18.31 121.13,11.78"/><polyline stroke-opacity="0.27" points="55.46,39.02 72.01,32.4 88.56,25.79 105.11,19.16 121.66,12.54"/><polyline stroke-opacity="0.27" points="55.99,40.1 72.54,33.41 89.09,26.71 105.64,20.01 122.19,13.31"/><polyline stroke-opacity="0.27" points="56.52,41.18 73.07,34.41 89.62,27.64 106.17,20.86 122.72,14.08"/><polyline stroke-opacity="0.27" points="57.05,42.24 73.6,35.41 90.15,28.56 106.7,21.71 123.25,14.85"/><polyline stroke-opacity="0.27" points="57.58,43.3 74.13,36.4 90.68,29.48 107.23,22.56 123.78,15.62"/><polyline stroke-opacity="0.27" points="58.11,44.34 74.66,37.38 91.21,30.4 107.76,23.4 124.31,16.4"/><polyline stroke-opacity="0.27" points="58.64,45.38 75.19,38.36 91.74,31.31 108.29,24.24 124.84,17.17"/><polyline stroke-opacity="0.27" points="59.17,46.41 75.72,39.33 92.27,32.22 108.82,25.09 125.37,17.95"/><polyline stroke-opacity="0.27" points="59.7,47.43 76.25,40.29 92.8,33.12 109.35,25.93 125.9,18.72"/><polyline stroke-opacity="0.27" points="60.23,48.44 76.78,41.25 93.33,34.03 109.88,26.76 126.43,19.5"/><polyline stroke-opacity="0.27" points="60.76,49.44 77.31,42.2 93.86,34.92 110.41,27.6 126.96,20.27"/><polyline stroke-opacity="0.27" points="61.29,50.43 77.84,43.14 94.39,35.82 110.94,28.44 127.49,21.05"/><polyline stroke-opacity="0.27" points="61.82,51.41 78.37,44.08 94.92,36.7 111.47,29.27 128.02,21.83"/><polyline stroke-opacity="0.27" points="62.35,52.38 78.9,45.01 95.45,37.59 112,30.1 128.55,22.6"/><polyline stroke-opacity="0.27" points="62.88,53.35 79.43,45.94 95.98,38.47 112.53,30.93 129.08,23.38"/><polyline stroke-opacity="0.27" points="63.41,54.3 79.96,46.86 96.51,39.35 113.06,31.76 129.61,24.16"/><polyline stroke-opacity="0.27" points="63.94,55.25 80.49,47.77 97.04,40.22 113.59,32.58 130.14,24.94"/><polyline stroke-opacity="0.27" points="64.47,56.19 81.02,48.67 97.57,41.09 114.12,33.41 130.67,25.71"/><polyline stroke-opacity="0.27" points="65,57.12 81.55,49.57 98.1,41.95 114.65,34.23 131.2,26.49"/><polyline stroke-opacity="0.27" points="65.53,58.03 82.08,50.46 98.63,42.81 115.18,35.05 131.73,27.27"/><polyline stroke-opacity="0.27" points="66.06,58.95 82.61,51.35 99.16,43.66 115.71,35.86 132.26,28.04"/><polyline stroke-opacity="0.27" points="66.59,59.85 83.14,52.23 99.69,44.51 116.24,36.67 132.79,28.82"/><polyline stroke-opacity="0.27" points="67.12,60.74 83.68,53.1 100.23,45.36 116.78,37.49 133.33,29.59"/><polyline stroke-opacity="0.27" points="67.66,61.62 84.21,53.97 100.76,46.2 117.31,38.29 133.86,30.37"/><polyline stroke-opacity="0.27" points="68.19,62.5 84.74,54.82 101.29,47.03 117.84,39.1 134.39,31.14"/><polyline stroke-opacity="0.27" points="68.72,63.36 85.27,55.68 101.82,47.87 118.37,39.9 134.92,31.91"/><polyline stroke-opacity="0.27" points="69.25,64.22 85.8,56.52 102.35,48.69 118.9,40.7 135.45,32.68"/><polyline stroke-opacity="0.27" points="69.78,65.07 86.33,57.36 102.88,49.51 119.43,41.5 135.98,33.45"/><polyline stroke-opacity="0.27" points="70.31,65.9 86.86,58.19 103.41,50.33 119.96,42.29 136.51,34.22"/><polyline stroke-opacity="0.27" points="70.84,66.73 87.39,59.01 103.94,51.14 120.49,43.08 137.04,34.99"/><polyline stroke-opacity="0.27" points="71.37,67.55 87.92,59.83 104.47,51.95 121.02,43.87 137.57,35.75"/><polyline stroke-opacity="0.27" points="71.9,68.37 88.45,60.64 105,52.75 121.55,44.65 138.1,36.52"/><polyline stroke-opacity="0.27" points="72.43,69.17 88.98,61.45 105.53,53.55 122.08,45.43 138.63,37.28"/><polyline stroke-opacity="0.27" points="72.96,69.96 89.51,62.24 106.06,54.34 122.61,46.21 139.16,38.04"/><polyline stroke-opacity="0.27" points="73.49,70.75 90.04,63.03 106.59,55.13 123.14,46.98 139.69,38.8"/><polyline stroke-opacity="0.27" points="74.02,71.52 90.57,63.82 107.12,55.91 123.67,47.75 140.22,39.55"/><polyline stroke-opacity="0.27" points="74.55,72.29 91.1,64.59 107.65,56.68 124.2,48.52 140.75,40.31"/><polyline stroke-opacity="0.27" points="75.08,73.05 91.63,65.36 108.18,57.45 124.73,49.28 141.28,41.06"/><polyline stroke-opacity="0.27" points="75.61,73.8 92.16,66.12 108.71,58.22 125.26,50.04 141.81,41.81"/><polyline stroke-opacity="0.27" points="76.14,74.54 92.69,66.88 109.24,58.98 125.79,50.79 142.34,42.56"/><polyline stroke-opacity="0.27" points="76.67,75.27 93.22,67.62 109.77,59.73 126.32,51.55 142.87,43.31"/><polyline stroke-opacity="0.27" points="77.2,76 93.75,68.36 110.3,60.48 126.85,52.29 143.4,44.05"/><polyline stroke-opacity="0.27" points="77.73,76.71 94.28,69.1 110.83,61.23 127.38,53.04 143.93,44.79"/><polyline stroke-opacity="0.27" points="78.26,77.42 94.81,69.82 111.36,61.97 127.91,53.77 144.46,45.53"/><polyline stroke-opacity="0.27" points="78.79,78.11 95.34,70.54 111.89,62.7 128.44,54.51 144.99,46.26"/><polyline stroke-opacity="0.27" points="79.32,78.8 95.87,71.26 112.42,63.42 128.97,55.24 145.52,46.99"/><polyline stroke-opacity="0.27" points="79.85,79.48 96.4,71.96 112.95,64.15 129.5,55.97 146.05,47.72"/><polyline stroke-opacity="0.27" points="80.38,80.15 96.93,72.66 113.48,64.86 130.03,56.69 146.58,48.45"/><polyline stroke-opacity="0.27" points="80.91,80.81 97.46,73.35 114.01,65.57 130.56,57.4 147.11,49.17"/><polyline stroke-opacity="0.27" points="81.44,81.46 97.99,74.03 114.54,66.27 131.09,58.12 147.64,49.89"/><polyline stroke-opacity="0.27" points="81.97,82.11 98.52,74.71 115.07,66.97 131.62,58.82 148.17,50.61"/><polyline stroke-opacity="0.27" points="82.5,82.74 99.05,75.37 115.6,67.66 132.15,59.53 148.7,51.32"/><polyline stroke-opacity="0.27" points="83.03,83.37 99.58,76.04 116.13,68.35 132.68,60.23 149.23,52.03"/><polyline stroke-opacity="0.27" points="83.56,83.99 100.11,76.69 116.66,69.03 133.21,60.92 149.76,52.74"/><polyline stroke-opacity="0.27" points="84.09,84.6 100.64,77.34 117.19,69.7 133.74,61.61 150.29,53.44"/><polyline stroke-opacity="0.27" points="84.62,85.2 101.17,77.97 117.72,70.37 134.27,62.29 150.82,54.14"/><polyline stroke-opacity="0.27" points="85.15,85.79 101.7,78.61 118.25,71.03 134.8,62.97 151.35,54.83"/><polyline stroke-opacity="0.27" points="85.68,86.37 102.23,79.23 118.78,71.69 135.33,63.64 151.88,55.52"/><polyline stroke-opacity="0.27" points="86.21,86.95 102.76,79.85 119.31,72.34 135.86,64.31 152.41,56.2"/><polyline stroke-opacity="0.27" points="86.74,87.51 103.29,80.46 119.84,72.98 136.39,64.98 152.94,56.89"/><polyline stroke-opacity="0.27" points="87.27,88.07 103.82,81.06 120.37,73.61 136.92,65.63 153.47,57.56"/><polyline stroke-opacity="0.27" points="87.8,88.62 104.35,81.65 120.9,74.24 137.45,66.29 154,58.24"/><polyline stroke-opacity="0.27" points="88.33,89.16 104.88,82.24 121.43,74.87 137.98,66.93 154.53,58.9"/><polyline stroke-opacity="0.27" points="88.86,89.69 105.41,82.82 121.96,75.48 138.51,67.57 155.06,59.57"/><polyline stroke-opacity="0.27" points="89.39,90.21 105.94,83.39 122.49,76.09 139.04,68.21 155.59,60.23"/><polyline stroke-opacity="0.27" points="89.92,90.72 106.47,83.95 123.02,76.7 139.57,68.84 156.12,60.88"/><polyline stroke-opacity="0.27" points="90.45,91.23 107,84.51 123.55,77.3 140.1,69.46 156.65,61.53"/><polyline stroke-opacity="0.27" points="90.98,91.72 107.53,85.06 124.08,77.89 140.63,70.08 157.18,62.17"/><polyline stroke-opacity="0.27" points="91.51,92.21 108.06,85.6 124.61,78.47 141.16,70.69 157.71,62.81"/><polyline stroke-opacity="0.27" points="92.04,92.69 108.59,86.13 125.14,79.05 141.69,71.3 158.24,63.44"/><polyline stroke-opacity="0.27" points="92.57,93.16 109.12,86.66 125.67,79.62 142.22,71.9 158.78,64.07"/><polyline stroke-opacity="0.27" points="93.11,93.62 109.66,87.18 126.21,80.18 142.76,72.49 159.31,64.7"/><polyline stroke-opacity="0.27" points="93.64,94.08 110.19,87.69 126.74,80.74 143.29,73.08 159.84,65.31"/><polyline stroke-opacity="0.27" points="94.17,94.52 110.72,88.19 127.27,81.29 143.82,73.66 160.37,65.92"/><polyline stroke-opacity="0.27" points="94.7,94.96 111.25,88.69 127.8,81.83 144.35,74.24 160.9,66.53"/><polyline stroke-opacity="0.27" points="95.23,95.39 111.78,89.18 128.33,82.36 144.88,74.81 161.43,67.13"/><polyline stroke-opacity="0.27" points="95.76,95.81 112.31,89.66 128.86,82.89 145.41,75.37 161.96,67.72"/><polyline stroke-opacity="0.27" points="96.29,96.22 112.84,90.13 129.39,83.41 145.94,75.93 162.49,68.31"/><polyline stroke-opacity="0.27" points="96.82,96.62 113.37,90.59 129.92,83.93 146.47,76.48 163.02,68.9"/><polyline stroke-opacity="0.27" points="97.35,97.01 113.9,91.05 130.45,84.43 147,77.02 163.55,69.47"/><polyline stroke-opacity="0.27" points="97.88,97.4 114.43,91.5 130.98,84.93 147.53,77.56 164.08,70.04"/><polyline stroke-opacity="0.27" points="98.41,97.78 114.96,91.94 131.51,85.43 148.06,78.08 164.61,70.6"/><polyline stroke-opacity="0.27" points="98.94,98.14 115.49,92.37 132.04,85.91 148.59,78.61 165.14,71.16"/><polyline stroke-opacity="0.27" points="99.47,98.5 116.02,92.79 132.57,86.39 149.12,79.12 165.67,71.71"/><polyline stroke-opacity="0.27" points="100,98.85 116.55,93.21 133.1,86.86 149.65,79.63 166.2,72.25"/><polyline stroke-opacity="0.27" points="100.53,99.2 117.08,93.62 133.63,87.32 150.18,80.13 166.73,72.79"/><polyline stroke-opacity="0.27" points="101.06,99.53 117.61,94.02 134.16,87.78 150.71,80.62 167.26,73.32"/><polyline stroke-opacity="0.27" points="101.59,99.86 118.14,94.41 134.69,88.22 151.24,81.11 167.79,73.84"/><polyline stroke-opacity="0.27" points="102.12,100.18 118.67,94.8 135.22,88.66 151.77,81.59 168.32,74.36"/><polyline stroke-opacity="0.27" points="102.65,100.48 119.2,95.18 135.75,89.1 152.3,82.06 168.85,74.87"/><polyline stroke-opacity="0.27" points="103.18,100.79 119.73,95.54 136.28,89.52 152.83,82.53 169.38,75.37"/><polyline stroke-opacity="0.27" points="103.71,101.08 120.26,95.91 136.81,89.94 153.36,82.98 169.91,75.87"/><polyline stroke-opacity="0.27" points="104.24,101.36 120.79,96.26 137.34,90.35 153.89,83.43 170.44,76.35"/><polyline stroke-opacity="0.27" points="104.77,101.64 121.32,96.6 137.87,90.75 154.42,83.87 170.97,76.83"/><polyline stroke-opacity="0.27" points="105.3,101.9 121.85,96.94 138.4,91.14 154.95,84.31 171.5,77.3"/></g><g fill="none" stroke="#000" stroke-opacity="0.2" stroke-width="0.35"><polyline points="54.4,36.83 58.64,45.38 62.88,53.35 67.12,60.74 71.37,67.55 75.61,73.8 79.85,79.48 84.09,84.6 88.33,89.16 92.57,93.16 96.82,96.62 101.06,99.53 105.3,101.9"/><polyline points="55.72,36.31 59.97,44.82 64.21,52.76 68.45,60.13 72.69,66.94 76.93,73.19 81.17,78.89 85.42,84.03 89.66,88.62 93.9,92.66 98.14,96.16 102.38,99.12 106.62,101.54"/><polyline points="57.05,35.79 61.29,44.26 65.53,52.17 69.77,59.52 74.01,66.33 78.26,72.59 82.5,78.3 86.74,83.46 90.98,88.08 95.22,92.16 99.46,95.7 103.71,98.7 107.95,101.17"/><polyline points="58.37,35.28 62.61,43.69 66.86,51.57 71.1,58.92 75.34,65.72 79.58,71.98 83.82,77.7 88.06,82.89 92.31,87.54 96.55,91.65 100.79,95.23 105.03,98.28 109.27,100.79"/><polyline points="59.7,34.76 63.94,43.13 68.18,50.98 72.42,58.31 76.66,65.1 80.9,71.37 85.15,77.11 89.39,82.32 93.63,87 97.87,91.15 102.11,94.77 106.35,97.86 110.6,100.42"/><polyline points="61.02,34.24 65.26,42.57 69.5,50.39 73.75,57.7 77.99,64.49 82.23,70.76 86.47,76.51 90.71,81.75 94.95,86.45 99.19,90.64 103.44,94.3 107.68,97.43 111.92,100.04"/><polyline points="62.34,33.73 66.59,42.01 70.83,49.8 75.07,57.09 79.31,63.87 83.55,70.15 87.79,75.92 92.04,81.17 96.28,85.91 100.52,90.13 104.76,93.83 109,97.01 113.24,99.66"/><polyline points="63.67,33.21 67.91,41.45 72.15,49.21 76.39,56.48 80.63,63.26 84.88,69.54 89.12,75.32 93.36,80.6 97.6,85.36 101.84,89.62 106.08,93.36 110.33,96.58 114.57,99.27"/><polyline points="64.99,32.7 69.23,40.89 73.48,48.62 77.72,55.87 81.96,62.64 86.2,68.93 90.44,74.72 94.68,80.02 98.93,84.82 103.17,89.11 107.41,92.89 111.65,96.15 115.89,98.89"/><polyline points="66.32,32.18 70.56,40.33 74.8,48.02 79.04,55.26 83.28,62.03 87.52,68.32 91.77,74.13 96.01,79.45 100.25,84.27 104.49,88.59 108.73,92.41 112.97,95.71 117.22,98.5"/><polyline points="67.64,31.66 71.88,39.76 76.12,47.43 80.37,54.65 84.61,61.41 88.85,67.7 93.09,73.52 97.33,78.86 101.57,83.71 105.81,88.06 110.06,91.91 114.3,95.26 118.54,98.09"/><polyline points="68.96,31.15 73.21,39.2 77.45,46.83 81.69,54.03 85.93,60.78 90.17,67.07 94.41,72.9 98.66,78.25 102.9,83.13 107.14,87.51 111.38,91.4 115.62,94.78 119.86,97.64"/><polyline points="70.29,30.63 74.53,38.64 78.77,46.24 83.01,53.41 87.25,60.15 91.5,66.44 95.74,72.27 99.98,77.64 104.22,82.54 108.46,86.95 112.7,90.86 116.95,94.28 121.19,97.18"/><polyline points="71.61,30.11 75.85,38.07 80.1,45.64 84.34,52.79 88.58,59.52 92.82,65.8 97.06,71.64 101.3,77.03 105.55,81.94 109.79,86.37 114.03,90.32 118.27,93.76 122.51,96.7"/><polyline points="72.94,29.6 77.18,37.51 81.42,45.04 85.66,52.17 89.9,58.88 94.14,65.17 98.39,71.01 102.63,76.41 106.87,81.34 111.11,85.79 115.35,89.77 119.59,93.24 123.84,96.21"/><polyline points="74.26,29.08 78.5,36.95 82.74,44.44 86.98,51.54 91.23,58.24 95.47,64.53 99.71,70.38 103.95,75.78 108.19,80.73 112.43,85.22 116.68,89.22 120.92,92.72 125.16,95.72"/><polyline points="75.58,28.56 79.83,36.38 84.07,43.84 88.31,50.92 92.55,57.61 96.79,63.89 101.03,69.75 105.28,75.17 109.52,80.14 113.76,84.64 118,88.67 122.24,92.21 126.48,95.24"/><polyline points="76.91,28.05 81.15,35.82 85.39,43.24 89.63,50.3 93.87,56.98 98.12,63.26 102.36,69.12 106.6,74.55 110.84,79.54 115.08,84.08 119.32,88.13 123.57,91.71 127.81,94.78"/><polyline points="78.23,27.53 82.47,35.25 86.72,42.65 90.96,49.69 95.2,56.35 99.44,62.63 103.68,68.5 107.92,73.95 112.17,78.96 116.41,83.52 120.65,87.61 124.89,91.22 129.13,94.32"/><polyline points="79.56,27.02 83.8,34.69 88.04,42.05 92.28,49.07 96.52,55.72 100.76,62 105.01,67.88 109.25,73.34 113.49,78.38 117.73,82.97 121.97,87.09 126.21,90.73 130.46,93.88"/><polyline points="80.88,26.5 85.12,34.13 89.36,41.45 93.61,48.45 97.85,55.1 102.09,61.37 106.33,67.26 110.57,72.74 114.81,77.8 119.05,82.41 123.3,86.57 127.54,90.25 131.78,93.43"/><polyline points="82.2,25.98 86.45,33.57 90.69,40.86 94.93,47.83 99.17,54.47 103.41,60.75 107.65,66.64 111.9,72.14 116.14,77.22 120.38,81.86 124.62,86.05 128.86,89.77 133.1,92.99"/><polyline points="83.53,25.47 87.77,33 92.01,40.26 96.25,47.22 100.49,53.84 104.74,60.12 108.98,66.02 113.22,71.54 117.46,76.64 121.7,81.31 125.94,85.53 130.19,89.28 134.43,92.54"/><polyline points="84.85,24.95 89.09,32.44 93.34,39.67 97.58,46.6 101.82,53.21 106.06,59.49 110.3,65.4 114.54,70.93 118.79,76.05 123.03,80.75 127.27,85 131.51,88.79 135.75,92.08"/><polyline points="86.18,24.43 90.42,31.88 94.66,39.07 98.9,45.98 103.14,52.58 107.38,58.86 111.63,64.78 115.87,70.32 120.11,75.46 124.35,80.19 128.59,84.47 132.83,88.29 137.08,91.62"/><polyline points="87.5,23.92 91.74,31.31 95.98,38.47 100.23,45.36 104.47,51.95 108.71,58.22 112.95,64.15 117.19,69.7 121.43,74.87 125.67,79.62 129.92,83.93 134.16,87.78 138.4,91.14"/><polyline points="88.82,23.4 93.07,30.75 97.31,37.87 101.55,44.73 105.79,51.31 110.03,57.58 114.27,63.51 118.52,69.08 122.76,74.26 127,79.03 131.24,83.37 135.48,87.25 139.72,90.64"/><polyline points="90.15,22.88 94.39,30.18 98.63,37.27 102.87,44.11 107.11,50.67 111.36,56.93 115.6,62.86 119.84,68.44 124.08,73.64 128.32,78.43 132.56,82.79 136.81,86.7 141.05,90.12"/><polyline points="91.47,22.37 95.71,29.62 99.96,36.67 104.2,43.48 108.44,50.03 112.68,56.28 116.92,62.21 121.16,67.8 125.41,73.01 129.65,77.82 133.89,82.2 138.13,86.13 142.37,89.58"/><polyline points="92.8,21.85 97.04,29.05 101.28,36.06 105.52,42.85 109.76,49.38 114,55.62 118.25,61.56 122.49,67.15 126.73,72.37 130.97,77.2 135.21,81.6 139.45,85.56 143.7,89.03"/><polyline points="94.12,21.34 98.36,28.49 102.6,35.46 106.84,42.22 111.09,48.73 115.33,54.97 119.57,60.9 123.81,66.49 128.05,71.73 132.29,76.57 136.54,81 140.78,84.97 145.02,88.47"/><polyline points="95.44,20.82 99.69,27.92 103.93,34.85 108.17,41.58 112.41,48.08 116.65,54.31 120.89,60.24 125.14,65.84 129.38,71.09 133.62,75.94 137.86,80.39 142.1,84.39 146.34,87.91"/><polyline points="96.77,20.3 101.01,27.35 105.25,34.25 109.49,40.95 113.73,47.43 117.98,53.65 122.22,59.58 126.46,65.18 130.7,70.44 134.94,75.32 139.18,79.78 143.43,83.8 147.67,87.35"/><polyline points="98.09,19.79 102.33,26.79 106.58,33.65 110.82,40.32 115.06,46.78 119.3,52.99 123.54,58.92 127.78,64.53 132.03,69.8 136.27,74.69 140.51,79.18 144.75,83.22 148.99,86.79"/><polyline points="99.42,19.27 103.66,26.22 107.9,33.04 112.14,39.69 116.38,46.13 120.62,52.33 124.87,58.26 129.11,63.88 133.35,69.16 137.59,74.07 141.83,78.58 146.07,82.64 150.32,86.24"/><polyline points="100.74,18.75 104.98,25.66 109.22,32.44 113.47,39.06 117.71,45.49 121.95,51.68 126.19,57.61 130.43,63.23 134.67,68.53 138.92,73.45 143.16,77.98 147.4,82.07 151.64,85.69"/><polyline points="102.06,18.24 106.31,25.09 110.55,31.84 114.79,38.43 119.03,44.84 123.27,51.02 127.51,56.95 131.76,62.58 136,67.89 140.24,72.83 144.48,77.38 148.72,81.49 152.96,85.14"/><polyline points="103.39,17.72 107.63,24.53 111.87,31.23 116.11,37.8 120.35,44.19 124.6,50.37 128.84,56.29 133.08,61.93 137.32,67.25 141.56,72.21 145.8,76.78 150.05,80.91 154.29,84.58"/><polyline points="104.71,17.21 108.95,23.96 113.2,30.63 117.44,37.17 121.68,43.54 125.92,49.71 130.16,55.64 134.4,61.28 138.65,66.61 142.89,71.59 147.13,76.18 151.37,80.34 155.61,84.03"/><polyline points="106.04,16.69 110.28,23.39 114.52,30.03 118.76,36.54 123,42.89 127.24,49.05 131.49,54.98 135.73,60.63 139.97,65.97 144.21,70.97 148.45,75.57 152.69,79.76 156.94,83.48"/><polyline points="107.36,16.17 111.6,22.83 115.84,29.42 120.09,35.91 124.33,42.25 128.57,48.4 132.81,54.32 137.05,59.98 141.29,65.33 145.53,70.34 149.78,74.97 154.02,79.18 158.26,82.92"/><polyline points="108.68,15.66 112.93,22.26 117.17,28.82 121.41,35.28 125.65,41.6 129.89,47.74 134.13,53.66 138.38,59.33 142.62,64.69 146.86,69.72 151.1,74.37 155.34,78.6 159.58,82.36"/><polyline points="110.01,15.14 114.25,21.7 118.49,28.21 122.73,34.65 126.97,40.95 131.22,47.08 135.46,53.01 139.7,58.68 143.94,64.05 148.18,69.1 152.42,73.76 156.67,78.01 160.91,81.81"/><polyline points="111.33,14.62 115.57,21.13 119.82,27.61 124.06,34.01 128.3,40.3 132.54,46.43 136.78,52.35 141.02,58.02 145.27,63.41 149.51,68.47 153.75,73.16 157.99,77.43 162.23,81.25"/><polyline points="112.66,14.11 116.9,20.57 121.14,27.01 125.38,33.38 129.62,39.65 133.86,45.77 138.11,51.69 142.35,57.37 146.59,62.77 150.83,67.84 155.07,72.55 159.31,76.85 163.56,80.69"/><polyline points="113.98,13.59 118.22,20 122.46,26.4 126.71,32.75 130.95,39 135.19,45.11 139.43,51.03 143.67,56.72 147.91,62.13 152.16,67.22 156.4,71.94 160.64,76.26 164.88,80.13"/><polyline points="115.3,13.07 119.55,19.43 123.79,25.8 128.03,32.12 132.27,38.35 136.51,44.45 140.75,50.37 145,56.06 149.24,61.48 153.48,66.59 157.72,71.34 161.96,75.68 166.2,79.56"/><polyline points="116.63,12.56 120.87,18.87 125.11,25.19 129.35,31.49 133.59,37.7 137.84,43.79 142.08,49.71 146.32,55.41 150.56,60.84 154.8,65.96 159.04,70.73 163.29,75.09 167.53,79"/><polyline points="117.95,12.04 122.19,18.3 126.44,24.59 130.68,30.86 134.92,37.05 139.16,43.13 143.4,49.05 147.64,54.75 151.89,60.19 156.13,65.33 160.37,70.12 164.61,74.5 168.85,78.44"/><polyline points="119.28,11.53 123.52,17.74 127.76,23.99 132,30.22 136.24,36.4 140.48,42.47 144.73,48.39 148.97,54.09 153.21,59.55 157.45,64.7 161.69,69.51 165.93,73.91 170.18,77.87"/><polyline points="120.6,11.01 124.84,17.17 129.08,23.38 133.33,29.59 137.57,35.75 141.81,41.81 146.05,47.72 150.29,53.44 154.53,58.9 158.78,64.07 163.02,68.9 167.26,73.32 171.5,77.3"/></g></g>
<g fill="none" stroke="#ff0000" stroke-width="1.6"><circle cx="54.2" cy="28.1" r="1.55"/><circle cx="71.2" cy="63.7" r="1.55"/><circle cx="88.3" cy="83.2" r="1.55"/><circle cx="105.1" cy="103.8" r="1.55"/><circle cx="121.3" cy="73.2" r="1.55"/><circle cx="138.4" cy="90.7" r="1.55"/><circle cx="154.8" cy="57" r="1.55"/><circle cx="171.8" cy="77.4" r="1.55"/><path d="M102.9,51.5 A1.55,1.55 0 1 1 104.4,53"/></g>
<rect x="129.4" y="6.3" width="38.4" height="10.8" fill="#fff" stroke="#8a8a8a" stroke-width="0.6"/>
<circle cx="138.3" cy="11.8" r="1.55" fill="none" stroke="#ff0000" stroke-width="1.7"/>
<text transform="translate(147.2,14.5) scale(0.94,1)" font-size="7.9" fill="#151515" stroke="#151515" stroke-width="0.18">Cubic</text>
<text transform="translate(49.8,27) scale(0.94,1)" font-size="8.8" text-anchor="end">3</text>
<text transform="translate(49.8,54.4) scale(0.94,1)" font-size="8.8" text-anchor="end">2</text>
<text transform="translate(49.8,81.4) scale(0.94,1)" font-size="8.8" text-anchor="end">1</text>
<text transform="translate(49.7,89.5) scale(0.94,1)" font-size="8.8" text-anchor="end">100</text>
<text transform="translate(92.7,110.6) scale(0.94,1)" font-size="8.8" text-anchor="end">50</text>
<text transform="translate(108.9,115) scale(0.94,1)" font-size="8.8" text-anchor="start">0.4</text>
<text transform="translate(141.7,105.7) scale(0.94,1)" font-size="8.8" text-anchor="start">0.6</text>
<text transform="translate(175.4,96.4) scale(0.94,1)" font-size="8.8" text-anchor="start">0.8</text>
<text x="33.4" y="18.1" font-size="10" fill="#999">×</text>
<text transform="translate(40.1,17.9) scale(0.94,1)" font-size="8.8">10<tspan dy="-3.3" font-size="6.8">4</tspan></text></g>
<g><polyline points="220.9,48 287.1,29.9 338,54.4" fill="none" stroke="#efefef" stroke-width="0.5"/>
<line x1="329.5" y1="81.7" x2="329.5" y2="26.6" stroke="#efefef" stroke-width="0.5"/>
<line x1="254" y1="70.3" x2="254" y2="15.2" stroke="#efefef" stroke-width="0.5"/>
<polyline points="220.9,79.4 287.1,61.3 338,85.8" fill="none" stroke="#b0b0b0" stroke-width="0.6"/>
<polyline points="220.9,24.3 287.1,6.2 338,30.7" fill="none" stroke="#858585" stroke-width="0.7"/>
<line x1="287.1" y1="61.3" x2="287.1" y2="6.2" stroke="#858585" stroke-width="0.7"/>
<line x1="338" y1="85.8" x2="338" y2="30.7" stroke="#858585" stroke-width="0.7"/>
<line x1="220.9" y1="79.4" x2="220.9" y2="24.3" stroke="#858585" stroke-width="0.7"/>
<polyline points="220.9,79.4 271.8,103.9 338,85.8" fill="none" stroke="#858585" stroke-width="0.7"/>
<line x1="219.4" y1="48.1" x2="220.9" y2="48.1" stroke="#858585" stroke-width="0.6"/>
<line x1="219.4" y1="78.4" x2="220.9" y2="78.4" stroke="#858585" stroke-width="0.6"/>
<line x1="271.8" y1="103.9" x2="273.2" y2="104.6" stroke="#858585" stroke-width="0.6"/>
<line x1="304.9" y1="94.8" x2="306.2" y2="95.5" stroke="#858585" stroke-width="0.6"/>
<line x1="338" y1="85.8" x2="339.4" y2="86.5" stroke="#858585" stroke-width="0.6"/>
<line x1="220.9" y1="79.4" x2="219.5" y2="79.8" stroke="#858585" stroke-width="0.6"/>
<line x1="263.3" y1="99.8" x2="261.9" y2="100.2" stroke="#858585" stroke-width="0.6"/>
<defs><linearGradient id="c01g0" gradientUnits="userSpaceOnUse" x1="221.3" y1="31.9" x2="287.5" y2="6.4"><stop offset="0" stop-color="#f4ba37"/><stop offset="0.25" stop-color="#f2c72e"/><stop offset="0.5" stop-color="#edd428"/><stop offset="0.75" stop-color="#e7de21"/><stop offset="1" stop-color="#e3e216"/></linearGradient><linearGradient id="c01g1" gradientUnits="userSpaceOnUse" x1="222.1" y1="33.5" x2="288.3" y2="7.7"><stop offset="0" stop-color="#f0b43a"/><stop offset="0.25" stop-color="#f4bf34"/><stop offset="0.5" stop-color="#f0cc2c"/><stop offset="0.75" stop-color="#e7d625"/><stop offset="1" stop-color="#e0dc1c"/></linearGradient><linearGradient id="c01g2" gradientUnits="userSpaceOnUse" x1="222.9" y1="35.1" x2="289.1" y2="9"><stop offset="0" stop-color="#e5b332"/><stop offset="0.25" stop-color="#f4b739"/><stop offset="0.5" stop-color="#f3c430"/><stop offset="0.75" stop-color="#e9cf28"/><stop offset="1" stop-color="#ded520"/></linearGradient><linearGradient id="c01g3" gradientUnits="userSpaceOnUse" x1="223.7" y1="36.7" x2="289.9" y2="10.3"><stop offset="0" stop-color="#d8b429"/><stop offset="0.25" stop-color="#edb339"/><stop offset="0.5" stop-color="#f4bd35"/><stop offset="0.75" stop-color="#ebc72b"/><stop offset="1" stop-color="#dece23"/></linearGradient><linearGradient id="c01g4" gradientUnits="userSpaceOnUse" x1="224.5" y1="38.3" x2="290.7" y2="11.6"><stop offset="0" stop-color="#c9b726"/><stop offset="0.25" stop-color="#e2b32f"/><stop offset="0.5" stop-color="#f3b63a"/><stop offset="0.75" stop-color="#edc02f"/><stop offset="1" stop-color="#dec725"/></linearGradient><linearGradient id="c01g5" gradientUnits="userSpaceOnUse" x1="225.3" y1="39.8" x2="291.5" y2="12.8"><stop offset="0" stop-color="#b9bb2b"/><stop offset="0.25" stop-color="#d5b528"/><stop offset="0.5" stop-color="#ebb239"/><stop offset="0.75" stop-color="#eeb933"/><stop offset="1" stop-color="#e0c128"/></linearGradient><linearGradient id="c01g6" gradientUnits="userSpaceOnUse" x1="226.1" y1="41.4" x2="292.3" y2="14.1"><stop offset="0" stop-color="#a8be35"/><stop offset="0.25" stop-color="#c7b826"/><stop offset="0.5" stop-color="#e1b22f"/><stop offset="0.75" stop-color="#edb237"/><stop offset="1" stop-color="#e2ba2b"/></linearGradient><linearGradient id="c01g7" gradientUnits="userSpaceOnUse" x1="226.9" y1="42.9" x2="293.1" y2="15.4"><stop offset="0" stop-color="#96c141"/><stop offset="0.25" stop-color="#b8bb2b"/><stop offset="0.5" stop-color="#d5b428"/><stop offset="0.75" stop-color="#e8ae39"/><stop offset="1" stop-color="#e3b42e"/></linearGradient><linearGradient id="c01g8" gradientUnits="userSpaceOnUse" x1="227.7" y1="44.5" x2="293.9" y2="16.6"><stop offset="0" stop-color="#83c34f"/><stop offset="0.25" stop-color="#a8be34"/><stop offset="0.5" stop-color="#c8b625"/><stop offset="0.75" stop-color="#dead32"/><stop offset="1" stop-color="#e2ad32"/></linearGradient><linearGradient id="c01g9" gradientUnits="userSpaceOnUse" x1="228.5" y1="46" x2="294.7" y2="17.9"><stop offset="0" stop-color="#70c45d"/><stop offset="0.25" stop-color="#97c140"/><stop offset="0.5" stop-color="#bab929"/><stop offset="0.75" stop-color="#d4ad29"/><stop offset="1" stop-color="#e1a836"/></linearGradient><linearGradient id="c01g10" gradientUnits="userSpaceOnUse" x1="229.3" y1="47.5" x2="295.5" y2="19.1"><stop offset="0" stop-color="#5ec46c"/><stop offset="0.25" stop-color="#85c34d"/><stop offset="0.5" stop-color="#aabc31"/><stop offset="0.75" stop-color="#c9af25"/><stop offset="1" stop-color="#daa435"/></linearGradient><linearGradient id="c01g11" gradientUnits="userSpaceOnUse" x1="230" y1="49" x2="296.2" y2="20.4"><stop offset="0" stop-color="#4ec479"/><stop offset="0.25" stop-color="#73c45b"/><stop offset="0.5" stop-color="#9bbe3c"/><stop offset="0.75" stop-color="#bcb125"/><stop offset="1" stop-color="#d2a42e"/></linearGradient><linearGradient id="c01g12" gradientUnits="userSpaceOnUse" x1="230.8" y1="50.4" x2="297" y2="21.6"><stop offset="0" stop-color="#40c285"/><stop offset="0.25" stop-color="#62c468"/><stop offset="0.5" stop-color="#8abf47"/><stop offset="0.75" stop-color="#afb329"/><stop offset="1" stop-color="#c9a427"/></linearGradient><linearGradient id="c01g13" gradientUnits="userSpaceOnUse" x1="231.6" y1="51.9" x2="297.8" y2="22.9"><stop offset="0" stop-color="#35c090"/><stop offset="0.25" stop-color="#53c375"/><stop offset="0.5" stop-color="#7ac053"/><stop offset="0.75" stop-color="#a2b531"/><stop offset="1" stop-color="#bfa523"/></linearGradient><linearGradient id="c01g14" gradientUnits="userSpaceOnUse" x1="232.4" y1="53.3" x2="298.6" y2="24.1"><stop offset="0" stop-color="#2ebd9a"/><stop offset="0.25" stop-color="#44c180"/><stop offset="0.5" stop-color="#69c15f"/><stop offset="0.75" stop-color="#94b639"/><stop offset="1" stop-color="#b5a622"/></linearGradient><linearGradient id="c01g15" gradientUnits="userSpaceOnUse" x1="233.2" y1="54.8" x2="299.4" y2="25.3"><stop offset="0" stop-color="#24b9a4"/><stop offset="0.25" stop-color="#39bf8a"/><stop offset="0.5" stop-color="#5ac06b"/><stop offset="0.75" stop-color="#86b743"/><stop offset="1" stop-color="#aaa825"/></linearGradient><linearGradient id="c01g16" gradientUnits="userSpaceOnUse" x1="234" y1="56.2" x2="300.2" y2="26.5"><stop offset="0" stop-color="#15b5ae"/><stop offset="0.25" stop-color="#31bc94"/><stop offset="0.5" stop-color="#4cbe76"/><stop offset="0.75" stop-color="#77b84e"/><stop offset="1" stop-color="#9fa92a"/></linearGradient><linearGradient id="c01g17" gradientUnits="userSpaceOnUse" x1="234.8" y1="57.6" x2="301" y2="27.7"><stop offset="0" stop-color="#04b1b7"/><stop offset="0.25" stop-color="#2ab89c"/><stop offset="0.5" stop-color="#3fbc80"/><stop offset="0.75" stop-color="#69b858"/><stop offset="1" stop-color="#93ab31"/></linearGradient><linearGradient id="c01g18" gradientUnits="userSpaceOnUse" x1="235.6" y1="59" x2="301.8" y2="28.9"><stop offset="0" stop-color="#02adbf"/><stop offset="0.25" stop-color="#1eb4a6"/><stop offset="0.5" stop-color="#35ba89"/><stop offset="0.75" stop-color="#5bb762"/><stop offset="1" stop-color="#88ac38"/></linearGradient><linearGradient id="c01g19" gradientUnits="userSpaceOnUse" x1="236.4" y1="60.3" x2="302.6" y2="30.1"><stop offset="0" stop-color="#0ca8c6"/><stop offset="0.25" stop-color="#0eb1ae"/><stop offset="0.5" stop-color="#2eb792"/><stop offset="0.75" stop-color="#4fb66c"/><stop offset="1" stop-color="#7cad41"/></linearGradient><linearGradient id="c01g20" gradientUnits="userSpaceOnUse" x1="237.2" y1="61.7" x2="303.4" y2="31.2"><stop offset="0" stop-color="#16a2cb"/><stop offset="0.25" stop-color="#02acb5"/><stop offset="0.5" stop-color="#28b39a"/><stop offset="0.75" stop-color="#43b474"/><stop offset="1" stop-color="#70ad4a"/></linearGradient><linearGradient id="c01g21" gradientUnits="userSpaceOnUse" x1="238" y1="63" x2="304.2" y2="32.4"><stop offset="0" stop-color="#1b9bcf"/><stop offset="0.25" stop-color="#04a8bc"/><stop offset="0.5" stop-color="#1db0a2"/><stop offset="0.75" stop-color="#38b27c"/><stop offset="1" stop-color="#63ad52"/></linearGradient><linearGradient id="c01g22" gradientUnits="userSpaceOnUse" x1="238.8" y1="64.4" x2="305" y2="33.6"><stop offset="0" stop-color="#1f95d0"/><stop offset="0.25" stop-color="#0ea3c2"/><stop offset="0.5" stop-color="#0daca9"/><stop offset="0.75" stop-color="#31b084"/><stop offset="1" stop-color="#58ad5a"/></linearGradient><linearGradient id="c01g23" gradientUnits="userSpaceOnUse" x1="239.6" y1="65.7" x2="305.8" y2="34.7"><stop offset="0" stop-color="#218ed1"/><stop offset="0.25" stop-color="#169dc7"/><stop offset="0.5" stop-color="#02a8b0"/><stop offset="0.75" stop-color="#2cad8a"/><stop offset="1" stop-color="#4eac63"/></linearGradient><linearGradient id="c01g24" gradientUnits="userSpaceOnUse" x1="240.4" y1="67" x2="306.6" y2="35.9"><stop offset="0" stop-color="#2388d3"/><stop offset="0.25" stop-color="#1a97ca"/><stop offset="0.5" stop-color="#03a4b7"/><stop offset="0.75" stop-color="#26aa91"/><stop offset="1" stop-color="#44ab6a"/></linearGradient><linearGradient id="c01g25" gradientUnits="userSpaceOnUse" x1="241.2" y1="68.2" x2="307.4" y2="37"><stop offset="0" stop-color="#2681d4"/><stop offset="0.25" stop-color="#1e91cb"/><stop offset="0.5" stop-color="#0c9fbc"/><stop offset="0.75" stop-color="#1da798"/><stop offset="1" stop-color="#3aa971"/></linearGradient><linearGradient id="c01g26" gradientUnits="userSpaceOnUse" x1="242" y1="69.5" x2="308.2" y2="38.2"><stop offset="0" stop-color="#287ad6"/><stop offset="0.25" stop-color="#208bcc"/><stop offset="0.5" stop-color="#149ac1"/><stop offset="0.75" stop-color="#10a49f"/><stop offset="1" stop-color="#33a878"/></linearGradient><linearGradient id="c01g27" gradientUnits="userSpaceOnUse" x1="242.8" y1="70.7" x2="309" y2="39.3"><stop offset="0" stop-color="#2874d7"/><stop offset="0.25" stop-color="#2284cd"/><stop offset="0.5" stop-color="#1995c4"/><stop offset="0.75" stop-color="#05a0a5"/><stop offset="1" stop-color="#2da67e"/></linearGradient><linearGradient id="c01g28" gradientUnits="userSpaceOnUse" x1="243.6" y1="71.9" x2="309.8" y2="40.4"><stop offset="0" stop-color="#296dd7"/><stop offset="0.25" stop-color="#257ecf"/><stop offset="0.5" stop-color="#1c8fc6"/><stop offset="0.75" stop-color="#019daa"/><stop offset="1" stop-color="#29a484"/></linearGradient><linearGradient id="c01g29" gradientUnits="userSpaceOnUse" x1="244.4" y1="73.1" x2="310.6" y2="41.5"><stop offset="0" stop-color="#2d67d7"/><stop offset="0.25" stop-color="#2778d1"/><stop offset="0.5" stop-color="#1f89c7"/><stop offset="0.75" stop-color="#0599af"/><stop offset="1" stop-color="#24a28a"/></linearGradient><linearGradient id="c01g30" gradientUnits="userSpaceOnUse" x1="245.2" y1="74.3" x2="311.4" y2="42.7"><stop offset="0" stop-color="#3160d6"/><stop offset="0.25" stop-color="#2772d2"/><stop offset="0.5" stop-color="#2184c8"/><stop offset="0.75" stop-color="#0e95b4"/><stop offset="1" stop-color="#1d9f90"/></linearGradient><linearGradient id="c01g31" gradientUnits="userSpaceOnUse" x1="246" y1="75.5" x2="312.2" y2="43.8"><stop offset="0" stop-color="#355bd4"/><stop offset="0.25" stop-color="#286cd3"/><stop offset="0.5" stop-color="#237eca"/><stop offset="0.75" stop-color="#1491b8"/><stop offset="1" stop-color="#139d96"/></linearGradient><linearGradient id="c01g32" gradientUnits="userSpaceOnUse" x1="246.7" y1="76.6" x2="312.9" y2="44.9"><stop offset="0" stop-color="#3755d1"/><stop offset="0.25" stop-color="#2b67d3"/><stop offset="0.5" stop-color="#2579cc"/><stop offset="0.75" stop-color="#188dbb"/><stop offset="1" stop-color="#089b9c"/></linearGradient><linearGradient id="c01g33" gradientUnits="userSpaceOnUse" x1="247.5" y1="77.7" x2="313.7" y2="45.9"><stop offset="0" stop-color="#3951cf"/><stop offset="0.25" stop-color="#2f61d3"/><stop offset="0.5" stop-color="#2674ce"/><stop offset="0.75" stop-color="#1b89bc"/><stop offset="1" stop-color="#0199a1"/></linearGradient><linearGradient id="c01g34" gradientUnits="userSpaceOnUse" x1="248.3" y1="78.8" x2="314.5" y2="47"><stop offset="0" stop-color="#3a4dcd"/><stop offset="0.25" stop-color="#335cd2"/><stop offset="0.5" stop-color="#276ed0"/><stop offset="0.75" stop-color="#1d84be"/><stop offset="1" stop-color="#0196a6"/></linearGradient><linearGradient id="c01g35" gradientUnits="userSpaceOnUse" x1="249.1" y1="79.9" x2="315.3" y2="48.1"><stop offset="0" stop-color="#3a49cc"/><stop offset="0.25" stop-color="#3657d1"/><stop offset="0.5" stop-color="#2869d1"/><stop offset="0.75" stop-color="#1f80bf"/><stop offset="1" stop-color="#0794ab"/></linearGradient><linearGradient id="c01g36" gradientUnits="userSpaceOnUse" x1="249.9" y1="81" x2="316.1" y2="49.2"><stop offset="0" stop-color="#3b45c9"/><stop offset="0.25" stop-color="#3852cf"/><stop offset="0.5" stop-color="#2c64d1"/><stop offset="0.75" stop-color="#207cc2"/><stop offset="1" stop-color="#0f91b0"/></linearGradient><linearGradient id="c01g37" gradientUnits="userSpaceOnUse" x1="250.7" y1="82" x2="316.9" y2="50.2"><stop offset="0" stop-color="#3b42c7"/><stop offset="0.25" stop-color="#394ece"/><stop offset="0.5" stop-color="#305fd1"/><stop offset="0.75" stop-color="#2378c4"/><stop offset="1" stop-color="#148eb4"/></linearGradient><linearGradient id="c01g38" gradientUnits="userSpaceOnUse" x1="251.5" y1="83.1" x2="317.7" y2="51.3"><stop offset="0" stop-color="#3b3ec5"/><stop offset="0.25" stop-color="#3a4bcc"/><stop offset="0.5" stop-color="#345ad1"/><stop offset="0.75" stop-color="#2574c7"/><stop offset="1" stop-color="#178bb7"/></linearGradient><linearGradient id="c01g39" gradientUnits="userSpaceOnUse" x1="252.3" y1="84.1" x2="318.5" y2="52.3"><stop offset="0" stop-color="#3b3bc2"/><stop offset="0.25" stop-color="#3b47cb"/><stop offset="0.5" stop-color="#3756d0"/><stop offset="0.75" stop-color="#2570ca"/><stop offset="1" stop-color="#1a88b9"/></linearGradient><linearGradient id="c01g40" gradientUnits="userSpaceOnUse" x1="253.1" y1="85" x2="319.3" y2="53.4"><stop offset="0" stop-color="#3a38bf"/><stop offset="0.25" stop-color="#3b44c8"/><stop offset="0.5" stop-color="#3852cf"/><stop offset="0.75" stop-color="#266ccc"/><stop offset="1" stop-color="#1c84bb"/></linearGradient><linearGradient id="c01g41" gradientUnits="userSpaceOnUse" x1="253.9" y1="86" x2="320.1" y2="54.4"><stop offset="0" stop-color="#3a36bc"/><stop offset="0.25" stop-color="#3b40c6"/><stop offset="0.5" stop-color="#394ece"/><stop offset="0.75" stop-color="#2868ce"/><stop offset="1" stop-color="#1e81bd"/></linearGradient><linearGradient id="c01g42" gradientUnits="userSpaceOnUse" x1="254.7" y1="86.9" x2="320.9" y2="55.4"><stop offset="0" stop-color="#3a33b9"/><stop offset="0.25" stop-color="#3b3dc3"/><stop offset="0.5" stop-color="#3a4acc"/><stop offset="0.75" stop-color="#2b64cf"/><stop offset="1" stop-color="#1f7dbf"/></linearGradient><linearGradient id="c01g43" gradientUnits="userSpaceOnUse" x1="255.5" y1="87.9" x2="321.7" y2="56.4"><stop offset="0" stop-color="#3931b5"/><stop offset="0.25" stop-color="#3b3ac1"/><stop offset="0.5" stop-color="#3b47ca"/><stop offset="0.75" stop-color="#2f5fd1"/><stop offset="1" stop-color="#217ac2"/></linearGradient><linearGradient id="c01g44" gradientUnits="userSpaceOnUse" x1="256.3" y1="88.8" x2="322.5" y2="57.4"><stop offset="0" stop-color="#392fb2"/><stop offset="0.25" stop-color="#3a37be"/><stop offset="0.5" stop-color="#3b43c8"/><stop offset="0.75" stop-color="#335bd1"/><stop offset="1" stop-color="#2477c4"/></linearGradient><linearGradient id="c01g45" gradientUnits="userSpaceOnUse" x1="257.1" y1="89.6" x2="323.3" y2="58.4"><stop offset="0" stop-color="#382dae"/><stop offset="0.25" stop-color="#3a35bb"/><stop offset="0.5" stop-color="#3b40c6"/><stop offset="0.75" stop-color="#3558d0"/><stop offset="1" stop-color="#2573c7"/></linearGradient><linearGradient id="c01g46" gradientUnits="userSpaceOnUse" x1="257.9" y1="90.5" x2="324.1" y2="59.4"><stop offset="0" stop-color="#382baa"/><stop offset="0.25" stop-color="#3a32b7"/><stop offset="0.5" stop-color="#3b3dc3"/><stop offset="0.75" stop-color="#3754d0"/><stop offset="1" stop-color="#2570ca"/></linearGradient><linearGradient id="c01g47" gradientUnits="userSpaceOnUse" x1="258.7" y1="91.3" x2="324.9" y2="60.4"><stop offset="0" stop-color="#372aa7"/><stop offset="0.25" stop-color="#3930b4"/><stop offset="0.5" stop-color="#3b3ac0"/><stop offset="0.75" stop-color="#3950cf"/><stop offset="1" stop-color="#266ccc"/></linearGradient><linearGradient id="c01g48" gradientUnits="userSpaceOnUse" x1="259.5" y1="92.1" x2="325.7" y2="61.4"><stop offset="0" stop-color="#3728a4"/><stop offset="0.25" stop-color="#392eb0"/><stop offset="0.5" stop-color="#3a37bd"/><stop offset="0.75" stop-color="#3a4dce"/><stop offset="1" stop-color="#2769cd"/></linearGradient><linearGradient id="c01g49" gradientUnits="userSpaceOnUse" x1="260.3" y1="92.9" x2="326.5" y2="62.4"><stop offset="0" stop-color="#3627a0"/><stop offset="0.25" stop-color="#382cad"/><stop offset="0.5" stop-color="#3a34ba"/><stop offset="0.75" stop-color="#3a4acc"/><stop offset="1" stop-color="#2965cf"/></linearGradient><linearGradient id="c01g50" gradientUnits="userSpaceOnUse" x1="261.1" y1="93.7" x2="327.3" y2="63.4"><stop offset="0" stop-color="#36269d"/><stop offset="0.25" stop-color="#382aa9"/><stop offset="0.5" stop-color="#3a32b7"/><stop offset="0.75" stop-color="#3b47ca"/><stop offset="1" stop-color="#2d61d0"/></linearGradient><linearGradient id="c01g51" gradientUnits="userSpaceOnUse" x1="261.9" y1="94.4" x2="328.1" y2="64.3"><stop offset="0" stop-color="#36259b"/><stop offset="0.25" stop-color="#3729a5"/><stop offset="0.5" stop-color="#392fb3"/><stop offset="0.75" stop-color="#3b44c9"/><stop offset="1" stop-color="#315ed1"/></linearGradient><linearGradient id="c01g52" gradientUnits="userSpaceOnUse" x1="262.7" y1="95.1" x2="328.9" y2="65.3"><stop offset="0" stop-color="#352498"/><stop offset="0.25" stop-color="#3728a2"/><stop offset="0.5" stop-color="#392daf"/><stop offset="0.75" stop-color="#3b41c7"/><stop offset="1" stop-color="#345ad1"/></linearGradient><linearGradient id="c01g53" gradientUnits="userSpaceOnUse" x1="263.4" y1="95.8" x2="329.6" y2="66.2"><stop offset="0" stop-color="#352396"/><stop offset="0.25" stop-color="#36269e"/><stop offset="0.5" stop-color="#382bab"/><stop offset="0.75" stop-color="#3b3ec4"/><stop offset="1" stop-color="#3657d0"/></linearGradient><linearGradient id="c01g54" gradientUnits="userSpaceOnUse" x1="264.2" y1="96.4" x2="330.4" y2="67.2"><stop offset="0" stop-color="#342394"/><stop offset="0.25" stop-color="#36259b"/><stop offset="0.5" stop-color="#372aa7"/><stop offset="0.75" stop-color="#3b3cc2"/><stop offset="1" stop-color="#3854d0"/></linearGradient><linearGradient id="c01g55" gradientUnits="userSpaceOnUse" x1="265" y1="97.1" x2="331.2" y2="68.1"><stop offset="0" stop-color="#342293"/><stop offset="0.25" stop-color="#352498"/><stop offset="0.5" stop-color="#3728a3"/><stop offset="0.75" stop-color="#3b39c0"/><stop offset="1" stop-color="#3950cf"/></linearGradient><linearGradient id="c01g56" gradientUnits="userSpaceOnUse" x1="265.8" y1="97.7" x2="332" y2="69"><stop offset="0" stop-color="#342291"/><stop offset="0.25" stop-color="#352396"/><stop offset="0.5" stop-color="#3627a0"/><stop offset="0.75" stop-color="#3a36bd"/><stop offset="1" stop-color="#3a4dce"/></linearGradient><linearGradient id="c01g57" gradientUnits="userSpaceOnUse" x1="266.6" y1="98.3" x2="332.8" y2="69.9"><stop offset="0" stop-color="#342190"/><stop offset="0.25" stop-color="#342294"/><stop offset="0.5" stop-color="#36269c"/><stop offset="0.75" stop-color="#3a34ba"/><stop offset="1" stop-color="#3a4bcc"/></linearGradient><linearGradient id="c01g58" gradientUnits="userSpaceOnUse" x1="267.4" y1="98.8" x2="333.6" y2="70.8"><stop offset="0" stop-color="#33218f"/><stop offset="0.25" stop-color="#342291"/><stop offset="0.5" stop-color="#352499"/><stop offset="0.75" stop-color="#3a32b7"/><stop offset="1" stop-color="#3a48cb"/></linearGradient><linearGradient id="c01g59" gradientUnits="userSpaceOnUse" x1="268.2" y1="99.4" x2="334.4" y2="71.7"><stop offset="0" stop-color="#33218e"/><stop offset="0.25" stop-color="#342190"/><stop offset="0.5" stop-color="#352396"/><stop offset="0.75" stop-color="#3930b4"/><stop offset="1" stop-color="#3b45c9"/></linearGradient><linearGradient id="c01g60" gradientUnits="userSpaceOnUse" x1="269" y1="99.9" x2="335.2" y2="72.6"><stop offset="0" stop-color="#33208d"/><stop offset="0.25" stop-color="#33218e"/><stop offset="0.5" stop-color="#342293"/><stop offset="0.75" stop-color="#392eb1"/><stop offset="1" stop-color="#3b42c7"/></linearGradient><linearGradient id="c01g61" gradientUnits="userSpaceOnUse" x1="269.8" y1="100.4" x2="336" y2="73.5"><stop offset="0" stop-color="#33208c"/><stop offset="0.25" stop-color="#33208c"/><stop offset="0.5" stop-color="#342190"/><stop offset="0.75" stop-color="#382cad"/><stop offset="1" stop-color="#3b40c6"/></linearGradient><linearGradient id="c01g62" gradientUnits="userSpaceOnUse" x1="270.6" y1="100.8" x2="336.8" y2="74.4"><stop offset="0" stop-color="#33208c"/><stop offset="0.25" stop-color="#33208b"/><stop offset="0.5" stop-color="#33218e"/><stop offset="0.75" stop-color="#382baa"/><stop offset="1" stop-color="#3b3dc3"/></linearGradient><linearGradient id="c01g63" gradientUnits="userSpaceOnUse" x1="271.4" y1="101.3" x2="337.6" y2="75.3"><stop offset="0" stop-color="#33208c"/><stop offset="0.25" stop-color="#33208a"/><stop offset="0.5" stop-color="#33208c"/><stop offset="0.75" stop-color="#3729a6"/><stop offset="1" stop-color="#3b3bc1"/></linearGradient></defs>
<clipPath id="c01"><polygon points="220.9,31.1 221.7,32.7 222.5,34.3 223.3,35.9 224.1,37.5 224.9,39 225.7,40.6 226.5,42.2 227.3,43.7 228.1,45.2 228.9,46.7 229.6,48.2 230.4,49.7 231.2,51.2 232,52.6 232.8,54.1 233.6,55.5 234.4,56.9 235.2,58.3 236,59.7 236.8,61 237.6,62.4 238.4,63.7 239.2,65 240,66.3 240.8,67.6 241.6,68.9 242.4,70.1 243.2,71.3 244,72.5 244.8,73.7 245.6,74.9 246.4,76 247.1,77.2 247.9,78.3 248.7,79.4 249.5,80.5 250.3,81.5 251.1,82.6 251.9,83.6 252.7,84.6 253.5,85.5 254.3,86.5 255.1,87.4 255.9,88.3 256.7,89.2 257.5,90.1 258.3,90.9 259.1,91.7 259.9,92.5 260.7,93.3 261.5,94 262.3,94.7 263.1,95.4 263.8,96.1 264.6,96.8 265.4,97.4 266.2,98 267,98.6 267.8,99.1 268.6,99.6 269.4,100.1 270.2,100.6 271,101 271.8,101.5 282.8,98.8 293.9,95.8 304.9,92.5 315.9,87.5 327,81.4 338,75.7 337.2,74.8 336.4,74 335.6,73.1 334.8,72.2 334,71.3 333.2,70.4 332.4,69.5 331.6,68.5 330.8,67.6 330,66.7 329.3,65.7 328.5,64.8 327.7,63.8 326.9,62.9 326.1,61.9 325.3,60.9 324.5,59.9 323.7,58.9 322.9,57.9 322.1,56.9 321.3,55.9 320.5,54.9 319.7,53.9 318.9,52.8 318.1,51.8 317.3,50.7 316.5,49.7 315.7,48.6 314.9,47.6 314.1,46.5 313.3,45.4 312.6,44.3 311.8,43.2 311,42.1 310.2,41 309.4,39.9 308.6,38.7 307.8,37.6 307,36.5 306.2,35.3 305.4,34.2 304.6,33 303.8,31.8 303,30.7 302.2,29.5 301.4,28.3 300.6,27.1 299.8,25.9 299,24.7 298.2,23.5 297.4,22.2 296.6,21 295.8,19.8 295.1,18.5 294.3,17.3 293.5,16 292.7,14.8 291.9,13.5 291.1,12.2 290.3,10.9 289.5,9.6 288.7,8.3 287.9,7 287.1,5.7 276.1,9.9 265,14.2 254,18.4 243,22.6 231.9,26.8"/></clipPath>
<g clip-path="url(#c01)" stroke-width="1" stroke-linejoin="round"><polygon points="220.9,31.1 231.9,26.8 243,22.6 254,18.4 265,14.2 276.1,9.9 287.1,5.7 287.9,7 276.9,11.3 265.8,15.6 254.8,19.9 243.8,24.1 232.7,28.4 221.7,32.7" fill="url(#c01g0)" stroke="url(#c01g0)"/><polygon points="221.7,32.7 232.7,28.4 243.8,24.1 254.8,19.9 265.8,15.6 276.9,11.3 287.9,7 288.7,8.3 277.7,12.7 266.6,17 255.6,21.3 244.6,25.6 233.5,30 222.5,34.3" fill="url(#c01g1)" stroke="url(#c01g1)"/><polygon points="222.5,34.3 233.5,30 244.6,25.6 255.6,21.3 266.6,17 277.7,12.7 288.7,8.3 289.5,9.6 278.5,14 267.4,18.4 256.4,22.8 245.4,27.2 234.3,31.5 223.3,35.9" fill="url(#c01g2)" stroke="url(#c01g2)"/><polygon points="223.3,35.9 234.3,31.5 245.4,27.2 256.4,22.8 267.4,18.4 278.5,14 289.5,9.6 290.3,10.9 279.2,15.4 268.2,19.8 257.2,24.3 246.1,28.7 235.1,33.1 224.1,37.5" fill="url(#c01g3)" stroke="url(#c01g3)"/><polygon points="224.1,37.5 235.1,33.1 246.1,28.7 257.2,24.3 268.2,19.8 279.2,15.4 290.3,10.9 291.1,12.2 280,16.7 269,21.2 258,25.7 246.9,30.2 235.9,34.6 224.9,39" fill="url(#c01g4)" stroke="url(#c01g4)"/><polygon points="224.9,39 235.9,34.6 246.9,30.2 258,25.7 269,21.2 280,16.7 291.1,12.2 291.9,13.5 280.8,18 269.8,22.6 258.8,27.2 247.7,31.6 236.7,36.1 225.7,40.6" fill="url(#c01g5)" stroke="url(#c01g5)"/><polygon points="225.7,40.6 236.7,36.1 247.7,31.6 258.8,27.2 269.8,22.6 280.8,18 291.9,13.5 292.7,14.8 281.6,19.4 270.6,24 259.6,28.6 248.5,33.1 237.5,37.6 226.5,42.2" fill="url(#c01g6)" stroke="url(#c01g6)"/><polygon points="226.5,42.2 237.5,37.6 248.5,33.1 259.6,28.6 270.6,24 281.6,19.4 292.7,14.8 293.5,16 282.4,20.7 271.4,25.4 260.4,30 249.3,34.6 238.3,39.2 227.3,43.7" fill="url(#c01g7)" stroke="url(#c01g7)"/><polygon points="227.3,43.7 238.3,39.2 249.3,34.6 260.4,30 271.4,25.4 282.4,20.7 293.5,16 294.3,17.3 283.2,22 272.2,26.8 261.2,31.5 250.1,36.1 239.1,40.6 228.1,45.2" fill="url(#c01g8)" stroke="url(#c01g8)"/><polygon points="228.1,45.2 239.1,40.6 250.1,36.1 261.2,31.5 272.2,26.8 283.2,22 294.3,17.3 295.1,18.5 284,23.3 273,28.1 262,32.9 250.9,37.5 239.9,42.1 228.9,46.7" fill="url(#c01g9)" stroke="url(#c01g9)"/><polygon points="228.9,46.7 239.9,42.1 250.9,37.5 262,32.9 273,28.1 284,23.3 295.1,18.5 295.8,19.8 284.8,24.6 273.8,29.5 262.7,34.3 251.7,38.9 240.7,43.6 229.6,48.2" fill="url(#c01g10)" stroke="url(#c01g10)"/><polygon points="229.6,48.2 240.7,43.6 251.7,38.9 262.7,34.3 273.8,29.5 284.8,24.6 295.8,19.8 296.6,21 285.6,25.9 274.6,30.8 263.5,35.7 252.5,40.4 241.5,45.1 230.4,49.7" fill="url(#c01g11)" stroke="url(#c01g11)"/><polygon points="230.4,49.7 241.5,45.1 252.5,40.4 263.5,35.7 274.6,30.8 285.6,25.9 296.6,21 297.4,22.2 286.4,27.2 275.4,32.2 264.3,37.1 253.3,41.8 242.3,46.5 231.2,51.2" fill="url(#c01g12)" stroke="url(#c01g12)"/><polygon points="231.2,51.2 242.3,46.5 253.3,41.8 264.3,37.1 275.4,32.2 286.4,27.2 297.4,22.2 298.2,23.5 287.2,28.5 276.2,33.5 265.1,38.4 254.1,43.2 243.1,47.9 232,52.6" fill="url(#c01g13)" stroke="url(#c01g13)"/><polygon points="232,52.6 243.1,47.9 254.1,43.2 265.1,38.4 276.2,33.5 287.2,28.5 298.2,23.5 299,24.7 288,29.7 277,34.8 265.9,39.8 254.9,44.6 243.9,49.4 232.8,54.1" fill="url(#c01g14)" stroke="url(#c01g14)"/><polygon points="232.8,54.1 243.9,49.4 254.9,44.6 265.9,39.8 277,34.8 288,29.7 299,24.7 299.8,25.9 288.8,31 277.8,36.2 266.7,41.2 255.7,46 244.7,50.8 233.6,55.5" fill="url(#c01g15)" stroke="url(#c01g15)"/><polygon points="233.6,55.5 244.7,50.8 255.7,46 266.7,41.2 277.8,36.2 288.8,31 299.8,25.9 300.6,27.1 289.6,32.2 278.6,37.5 267.5,42.5 256.5,47.4 245.5,52.2 234.4,56.9" fill="url(#c01g16)" stroke="url(#c01g16)"/><polygon points="234.4,56.9 245.5,52.2 256.5,47.4 267.5,42.5 278.6,37.5 289.6,32.2 300.6,27.1 301.4,28.3 290.4,33.5 279.3,38.8 268.3,43.9 257.3,48.7 246.2,53.5 235.2,58.3" fill="url(#c01g17)" stroke="url(#c01g17)"/><polygon points="235.2,58.3 246.2,53.5 257.3,48.7 268.3,43.9 279.3,38.8 290.4,33.5 301.4,28.3 302.2,29.5 291.2,34.7 280.1,40.1 269.1,45.2 258.1,50.1 247,54.9 236,59.7" fill="url(#c01g18)" stroke="url(#c01g18)"/><polygon points="236,59.7 247,54.9 258.1,50.1 269.1,45.2 280.1,40.1 291.2,34.7 302.2,29.5 303,30.7 292,36 280.9,41.3 269.9,46.5 258.9,51.4 247.8,56.3 236.8,61" fill="url(#c01g19)" stroke="url(#c01g19)"/><polygon points="236.8,61 247.8,56.3 258.9,51.4 269.9,46.5 280.9,41.3 292,36 303,30.7 303.8,31.8 292.8,37.2 281.7,42.6 270.7,47.8 259.7,52.8 248.6,57.6 237.6,62.4" fill="url(#c01g20)" stroke="url(#c01g20)"/><polygon points="237.6,62.4 248.6,57.6 259.7,52.8 270.7,47.8 281.7,42.6 292.8,37.2 303.8,31.8 304.6,33 293.6,38.4 282.5,43.9 271.5,49.2 260.5,54.1 249.4,58.9 238.4,63.7" fill="url(#c01g21)" stroke="url(#c01g21)"/><polygon points="238.4,63.7 249.4,58.9 260.5,54.1 271.5,49.2 282.5,43.9 293.6,38.4 304.6,33 305.4,34.2 294.4,39.6 283.3,45.1 272.3,50.4 261.3,55.4 250.2,60.2 239.2,65" fill="url(#c01g22)" stroke="url(#c01g22)"/><polygon points="239.2,65 250.2,60.2 261.3,55.4 272.3,50.4 283.3,45.1 294.4,39.6 305.4,34.2 306.2,35.3 295.2,40.8 284.1,46.4 273.1,51.7 262.1,56.7 251,61.5 240,66.3" fill="url(#c01g23)" stroke="url(#c01g23)"/><polygon points="240,66.3 251,61.5 262.1,56.7 273.1,51.7 284.1,46.4 295.2,40.8 306.2,35.3 307,36.5 295.9,42 284.9,47.6 273.9,53 262.8,57.9 251.8,62.8 240.8,67.6" fill="url(#c01g24)" stroke="url(#c01g24)"/><polygon points="240.8,67.6 251.8,62.8 262.8,57.9 273.9,53 284.9,47.6 295.9,42 307,36.5 307.8,37.6 296.7,43.2 285.7,48.9 274.7,54.3 263.6,59.2 252.6,64.1 241.6,68.9" fill="url(#c01g25)" stroke="url(#c01g25)"/><polygon points="241.6,68.9 252.6,64.1 263.6,59.2 274.7,54.3 285.7,48.9 296.7,43.2 307.8,37.6 308.6,38.7 297.5,44.3 286.5,50.1 275.5,55.5 264.4,60.5 253.4,65.3 242.4,70.1" fill="url(#c01g26)" stroke="url(#c01g26)"/><polygon points="242.4,70.1 253.4,65.3 264.4,60.5 275.5,55.5 286.5,50.1 297.5,44.3 308.6,38.7 309.4,39.9 298.3,45.5 287.3,51.3 276.3,56.7 265.2,61.7 254.2,66.6 243.2,71.3" fill="url(#c01g27)" stroke="url(#c01g27)"/><polygon points="243.2,71.3 254.2,66.6 265.2,61.7 276.3,56.7 287.3,51.3 298.3,45.5 309.4,39.9 310.2,41 299.1,46.7 288.1,52.5 277.1,58 266,62.9 255,67.8 244,72.5" fill="url(#c01g28)" stroke="url(#c01g28)"/><polygon points="244,72.5 255,67.8 266,62.9 277.1,58 288.1,52.5 299.1,46.7 310.2,41 311,42.1 299.9,47.8 288.9,53.7 277.9,59.2 266.8,64.1 255.8,69 244.8,73.7" fill="url(#c01g29)" stroke="url(#c01g29)"/><polygon points="244.8,73.7 255.8,69 266.8,64.1 277.9,59.2 288.9,53.7 299.9,47.8 311,42.1 311.8,43.2 300.7,48.9 289.7,54.8 278.7,60.4 267.6,65.3 256.6,70.2 245.6,74.9" fill="url(#c01g30)" stroke="url(#c01g30)"/><polygon points="245.6,74.9 256.6,70.2 267.6,65.3 278.7,60.4 289.7,54.8 300.7,48.9 311.8,43.2 312.6,44.3 301.5,50.1 290.5,56 279.5,61.6 268.4,66.5 257.4,71.4 246.4,76" fill="url(#c01g31)" stroke="url(#c01g31)"/><polygon points="246.4,76 257.4,71.4 268.4,66.5 279.5,61.6 290.5,56 301.5,50.1 312.6,44.3 313.3,45.4 302.3,51.2 291.3,57.2 280.2,62.8 269.2,67.7 258.2,72.5 247.1,77.2" fill="url(#c01g32)" stroke="url(#c01g32)"/><polygon points="247.1,77.2 258.2,72.5 269.2,67.7 280.2,62.8 291.3,57.2 302.3,51.2 313.3,45.4 314.1,46.5 303.1,52.3 292.1,58.3 281,63.9 270,68.8 259,73.6 247.9,78.3" fill="url(#c01g33)" stroke="url(#c01g33)"/><polygon points="247.9,78.3 259,73.6 270,68.8 281,63.9 292.1,58.3 303.1,52.3 314.1,46.5 314.9,47.6 303.9,53.4 292.9,59.5 281.8,65.1 270.8,70 259.8,74.8 248.7,79.4" fill="url(#c01g34)" stroke="url(#c01g34)"/><polygon points="248.7,79.4 259.8,74.8 270.8,70 281.8,65.1 292.9,59.5 303.9,53.4 314.9,47.6 315.7,48.6 304.7,54.5 293.7,60.6 282.6,66.2 271.6,71.1 260.6,75.9 249.5,80.5" fill="url(#c01g35)" stroke="url(#c01g35)"/><polygon points="249.5,80.5 260.6,75.9 271.6,71.1 282.6,66.2 293.7,60.6 304.7,54.5 315.7,48.6 316.5,49.7 305.5,55.6 294.5,61.7 283.4,67.3 272.4,72.2 261.4,77 250.3,81.5" fill="url(#c01g36)" stroke="url(#c01g36)"/><polygon points="250.3,81.5 261.4,77 272.4,72.2 283.4,67.3 294.5,61.7 305.5,55.6 316.5,49.7 317.3,50.7 306.3,56.7 295.3,62.8 284.2,68.5 273.2,73.3 262.2,78 251.1,82.6" fill="url(#c01g37)" stroke="url(#c01g37)"/><polygon points="251.1,82.6 262.2,78 273.2,73.3 284.2,68.5 295.3,62.8 306.3,56.7 317.3,50.7 318.1,51.8 307.1,57.7 296.1,63.9 285,69.6 274,74.4 263,79.1 251.9,83.6" fill="url(#c01g38)" stroke="url(#c01g38)"/><polygon points="251.9,83.6 263,79.1 274,74.4 285,69.6 296.1,63.9 307.1,57.7 318.1,51.8 318.9,52.8 307.9,58.8 296.8,65 285.8,70.7 274.8,75.5 263.7,80.1 252.7,84.6" fill="url(#c01g39)" stroke="url(#c01g39)"/><polygon points="252.7,84.6 263.7,80.1 274.8,75.5 285.8,70.7 296.8,65 307.9,58.8 318.9,52.8 319.7,53.9 308.7,59.9 297.6,66.1 286.6,71.7 275.6,76.5 264.5,81.1 253.5,85.5" fill="url(#c01g40)" stroke="url(#c01g40)"/><polygon points="253.5,85.5 264.5,81.1 275.6,76.5 286.6,71.7 297.6,66.1 308.7,59.9 319.7,53.9 320.5,54.9 309.5,60.9 298.4,67.1 287.4,72.8 276.4,77.5 265.3,82.1 254.3,86.5" fill="url(#c01g41)" stroke="url(#c01g41)"/><polygon points="254.3,86.5 265.3,82.1 276.4,77.5 287.4,72.8 298.4,67.1 309.5,60.9 320.5,54.9 321.3,55.9 310.3,61.9 299.2,68.2 288.2,73.8 277.2,78.5 266.1,83.1 255.1,87.4" fill="url(#c01g42)" stroke="url(#c01g42)"/><polygon points="255.1,87.4 266.1,83.1 277.2,78.5 288.2,73.8 299.2,68.2 310.3,61.9 321.3,55.9 322.1,56.9 311.1,62.9 300,69.2 289,74.9 278,79.5 266.9,84 255.9,88.3" fill="url(#c01g43)" stroke="url(#c01g43)"/><polygon points="255.9,88.3 266.9,84 278,79.5 289,74.9 300,69.2 311.1,62.9 322.1,56.9 322.9,57.9 311.9,64 300.8,70.2 289.8,75.9 278.8,80.5 267.7,85 256.7,89.2" fill="url(#c01g44)" stroke="url(#c01g44)"/><polygon points="256.7,89.2 267.7,85 278.8,80.5 289.8,75.9 300.8,70.2 311.9,64 322.9,57.9 323.7,58.9 312.7,65 301.6,71.3 290.6,76.9 279.6,81.5 268.5,85.9 257.5,90.1" fill="url(#c01g45)" stroke="url(#c01g45)"/><polygon points="257.5,90.1 268.5,85.9 279.6,81.5 290.6,76.9 301.6,71.3 312.7,65 323.7,58.9 324.5,59.9 313.4,66 302.4,72.3 291.4,77.9 280.3,82.4 269.3,86.8 258.3,90.9" fill="url(#c01g46)" stroke="url(#c01g46)"/><polygon points="258.3,90.9 269.3,86.8 280.3,82.4 291.4,77.9 302.4,72.3 313.4,66 324.5,59.9 325.3,60.9 314.2,66.9 303.2,73.3 292.2,78.9 281.1,83.4 270.1,87.7 259.1,91.7" fill="url(#c01g47)" stroke="url(#c01g47)"/><polygon points="259.1,91.7 270.1,87.7 281.1,83.4 292.2,78.9 303.2,73.3 314.2,66.9 325.3,60.9 326.1,61.9 315,67.9 304,74.2 293,79.9 281.9,84.3 270.9,88.5 259.9,92.5" fill="url(#c01g48)" stroke="url(#c01g48)"/><polygon points="259.9,92.5 270.9,88.5 281.9,84.3 293,79.9 304,74.2 315,67.9 326.1,61.9 326.9,62.9 315.8,68.9 304.8,75.2 293.8,80.8 282.7,85.2 271.7,89.4 260.7,93.3" fill="url(#c01g49)" stroke="url(#c01g49)"/><polygon points="260.7,93.3 271.7,89.4 282.7,85.2 293.8,80.8 304.8,75.2 315.8,68.9 326.9,62.9 327.7,63.8 316.6,69.8 305.6,76.2 294.6,81.7 283.5,86.1 272.5,90.2 261.5,94" fill="url(#c01g50)" stroke="url(#c01g50)"/><polygon points="261.5,94 272.5,90.2 283.5,86.1 294.6,81.7 305.6,76.2 316.6,69.8 327.7,63.8 328.5,64.8 317.4,70.8 306.4,77.1 295.4,82.7 284.3,86.9 273.3,91 262.3,94.7" fill="url(#c01g51)" stroke="url(#c01g51)"/><polygon points="262.3,94.7 273.3,91 284.3,86.9 295.4,82.7 306.4,77.1 317.4,70.8 328.5,64.8 329.3,65.7 318.2,71.7 307.2,78 296.2,83.6 285.1,87.8 274.1,91.8 263.1,95.4" fill="url(#c01g52)" stroke="url(#c01g52)"/><polygon points="263.1,95.4 274.1,91.8 285.1,87.8 296.2,83.6 307.2,78 318.2,71.7 329.3,65.7 330,66.7 319,72.6 308,79 296.9,84.5 285.9,88.6 274.9,92.5 263.8,96.1" fill="url(#c01g53)" stroke="url(#c01g53)"/><polygon points="263.8,96.1 274.9,92.5 285.9,88.6 296.9,84.5 308,79 319,72.6 330,66.7 330.8,67.6 319.8,73.6 308.8,79.9 297.7,85.3 286.7,89.4 275.7,93.2 264.6,96.8" fill="url(#c01g54)" stroke="url(#c01g54)"/><polygon points="264.6,96.8 275.7,93.2 286.7,89.4 297.7,85.3 308.8,79.9 319.8,73.6 330.8,67.6 331.6,68.5 320.6,74.5 309.6,80.8 298.5,86.2 287.5,90.2 276.5,94 265.4,97.4" fill="url(#c01g55)" stroke="url(#c01g55)"/><polygon points="265.4,97.4 276.5,94 287.5,90.2 298.5,86.2 309.6,80.8 320.6,74.5 331.6,68.5 332.4,69.5 321.4,75.4 310.4,81.7 299.3,87 288.3,91 277.3,94.7 266.2,98" fill="url(#c01g56)" stroke="url(#c01g56)"/><polygon points="266.2,98 277.3,94.7 288.3,91 299.3,87 310.4,81.7 321.4,75.4 332.4,69.5 333.2,70.4 322.2,76.3 311.2,82.5 300.1,87.9 289.1,91.7 278.1,95.3 267,98.6" fill="url(#c01g57)" stroke="url(#c01g57)"/><polygon points="267,98.6 278.1,95.3 289.1,91.7 300.1,87.9 311.2,82.5 322.2,76.3 333.2,70.4 334,71.3 323,77.1 312,83.4 300.9,88.7 289.9,92.5 278.9,96 267.8,99.1" fill="url(#c01g58)" stroke="url(#c01g58)"/><polygon points="267.8,99.1 278.9,96 289.9,92.5 300.9,88.7 312,83.4 323,77.1 334,71.3 334.8,72.2 323.8,78 312.8,84.2 301.7,89.5 290.7,93.2 279.7,96.6 268.6,99.6" fill="url(#c01g59)" stroke="url(#c01g59)"/><polygon points="268.6,99.6 279.7,96.6 290.7,93.2 301.7,89.5 312.8,84.2 323.8,78 334.8,72.2 335.6,73.1 324.6,78.9 313.5,85.1 302.5,90.3 291.5,93.9 280.4,97.2 269.4,100.1" fill="url(#c01g60)" stroke="url(#c01g60)"/><polygon points="269.4,100.1 280.4,97.2 291.5,93.9 302.5,90.3 313.5,85.1 324.6,78.9 335.6,73.1 336.4,74 325.4,79.7 314.3,85.9 303.3,91 292.3,94.5 281.2,97.8 270.2,100.6" fill="url(#c01g61)" stroke="url(#c01g61)"/><polygon points="270.2,100.6 281.2,97.8 292.3,94.5 303.3,91 314.3,85.9 325.4,79.7 336.4,74 337.2,74.8 326.2,80.5 315.1,86.7 304.1,91.8 293.1,95.2 282,98.3 271,101" fill="url(#c01g62)" stroke="url(#c01g62)"/><polygon points="271,101 282,98.3 293.1,95.2 304.1,91.8 315.1,86.7 326.2,80.5 337.2,74.8 338,75.7 327,81.4 315.9,87.5 304.9,92.5 293.9,95.8 282.8,98.8 271.8,101.5" fill="url(#c01g63)" stroke="url(#c01g63)"/><g fill="none" stroke="#000" stroke-width="0.5"><polyline stroke-opacity="0.27" points="220.9,31.06 237.45,24.72 254,18.38 270.55,12.04 287.1,5.7"/><polyline stroke-opacity="0.27" points="221.43,32.14 237.98,25.75 254.53,19.36 271.08,12.97 287.63,6.58"/><polyline stroke-opacity="0.27" points="221.96,33.21 238.51,26.78 255.06,20.34 271.61,13.9 288.16,7.45"/><polyline stroke-opacity="0.27" points="222.49,34.29 239.04,27.81 255.59,21.33 272.14,14.82 288.69,8.32"/><polyline stroke-opacity="0.27" points="223.02,35.35 239.57,28.83 256.12,22.3 272.67,15.75 289.22,9.19"/><polyline stroke-opacity="0.27" points="223.55,36.41 240.1,29.85 256.65,23.28 273.2,16.67 289.75,10.05"/><polyline stroke-opacity="0.27" points="224.08,37.47 240.63,30.87 257.18,24.25 273.73,17.59 290.28,10.91"/><polyline stroke-opacity="0.27" points="224.61,38.52 241.16,31.88 257.71,25.22 274.26,18.5 290.81,11.77"/><polyline stroke-opacity="0.27" points="225.14,39.56 241.69,32.89 258.24,26.19 274.79,19.41 291.34,12.63"/><polyline stroke-opacity="0.27" points="225.67,40.6 242.22,33.89 258.77,27.15 275.32,20.32 291.87,13.48"/><polyline stroke-opacity="0.27" points="226.2,41.64 242.75,34.89 259.3,28.12 275.85,21.23 292.4,14.33"/><polyline stroke-opacity="0.27" points="226.73,42.67 243.28,35.88 259.83,29.07 276.38,22.13 292.93,15.17"/><polyline stroke-opacity="0.27" points="227.26,43.69 243.81,36.87 260.36,30.03 276.91,23.03 293.46,16.02"/><polyline stroke-opacity="0.27" points="227.79,44.71 244.34,37.86 260.89,30.98 277.44,23.93 293.99,16.86"/><polyline stroke-opacity="0.27" points="228.32,45.72 244.87,38.84 261.42,31.92 277.97,24.82 294.52,17.69"/><polyline stroke-opacity="0.27" points="228.85,46.72 245.4,39.82 261.95,32.87 278.5,25.71 295.05,18.53"/><polyline stroke-opacity="0.27" points="229.38,47.72 245.93,40.79 262.48,33.81 279.03,26.59 295.58,19.36"/><polyline stroke-opacity="0.27" points="229.91,48.71 246.46,41.75 263.01,34.74 279.56,27.48 296.11,20.18"/><polyline stroke-opacity="0.27" points="230.44,49.7 246.99,42.72 263.54,35.67 280.09,28.36 296.64,21.01"/><polyline stroke-opacity="0.27" points="230.97,50.68 247.52,43.67 264.07,36.6 280.62,29.23 297.17,21.83"/><polyline stroke-opacity="0.27" points="231.5,51.65 248.05,44.62 264.6,37.53 281.15,30.11 297.7,22.65"/><polyline stroke-opacity="0.27" points="232.03,52.62 248.58,45.57 265.13,38.45 281.68,30.97 298.23,23.46"/><polyline stroke-opacity="0.27" points="232.56,53.58 249.11,46.51 265.66,39.36 282.21,31.84 298.76,24.27"/><polyline stroke-opacity="0.27" points="233.09,54.54 249.64,47.45 266.19,40.27 282.74,32.7 299.29,25.08"/><polyline stroke-opacity="0.27" points="233.62,55.48 250.18,48.38 266.73,41.18 283.28,33.56 299.83,25.89"/><polyline stroke-opacity="0.27" points="234.16,56.43 250.71,49.3 267.26,42.08 283.81,34.41 300.36,26.69"/><polyline stroke-opacity="0.27" points="234.69,57.36 251.24,50.22 267.79,42.98 284.34,35.27 300.89,27.49"/><polyline stroke-opacity="0.27" points="235.22,58.29 251.77,51.13 268.32,43.88 284.87,36.11 301.42,28.29"/><polyline stroke-opacity="0.27" points="235.75,59.21 252.3,52.04 268.85,44.77 285.4,36.96 301.95,29.08"/><polyline stroke-opacity="0.27" points="236.28,60.12 252.83,52.95 269.38,45.65 285.93,37.8 302.48,29.87"/><polyline stroke-opacity="0.27" points="236.81,61.03 253.36,53.84 269.91,46.53 286.46,38.63 303.01,30.66"/><polyline stroke-opacity="0.27" points="237.34,61.93 253.89,54.73 270.44,47.41 286.99,39.47 303.54,31.45"/><polyline stroke-opacity="0.27" points="237.87,62.82 254.42,55.62 270.97,48.28 287.52,40.29 304.07,32.23"/><polyline stroke-opacity="0.27" points="238.4,63.7 254.95,56.5 271.5,49.15 288.05,41.12 304.6,33"/><polyline stroke-opacity="0.27" points="238.93,64.58 255.48,57.37 272.03,50.01 288.58,41.94 305.13,33.78"/><polyline stroke-opacity="0.27" points="239.46,65.45 256.01,58.24 272.56,50.87 289.11,42.76 305.66,34.55"/><polyline stroke-opacity="0.27" points="239.99,66.31 256.54,59.1 273.09,51.72 289.64,43.57 306.19,35.32"/><polyline stroke-opacity="0.27" points="240.52,67.17 257.07,59.96 273.62,52.57 290.17,44.38 306.72,36.09"/><polyline stroke-opacity="0.27" points="241.05,68.02 257.6,60.8 274.15,53.42 290.7,45.18 307.25,36.85"/><polyline stroke-opacity="0.27" points="241.58,68.86 258.13,61.65 274.68,54.26 291.23,45.98 307.78,37.61"/><polyline stroke-opacity="0.27" points="242.11,69.69 258.66,62.48 275.21,55.09 291.76,46.78 308.31,38.37"/><polyline stroke-opacity="0.27" points="242.64,70.51 259.19,63.31 275.74,55.92 292.29,47.57 308.84,39.12"/><polyline stroke-opacity="0.27" points="243.17,71.33 259.72,64.14 276.27,56.74 292.82,48.36 309.37,39.87"/><polyline stroke-opacity="0.27" points="243.7,72.13 260.25,64.95 276.8,57.56 293.35,49.15 309.9,40.62"/><polyline stroke-opacity="0.27" points="244.23,72.93 260.78,65.76 277.33,58.37 293.88,49.93 310.43,41.36"/><polyline stroke-opacity="0.27" points="244.76,73.73 261.31,66.57 277.86,59.18 294.41,50.71 310.96,42.1"/><polyline stroke-opacity="0.27" points="245.29,74.51 261.84,67.36 278.39,59.98 294.94,51.48 311.49,42.84"/><polyline stroke-opacity="0.27" points="245.82,75.28 262.37,68.15 278.92,60.78 295.47,52.25 312.02,43.57"/><polyline stroke-opacity="0.27" points="246.35,76.05 262.9,68.94 279.45,61.57 296,53.01 312.55,44.31"/><polyline stroke-opacity="0.27" points="246.88,76.81 263.43,69.71 279.98,62.36 296.53,53.77 313.08,45.03"/><polyline stroke-opacity="0.27" points="247.41,77.56 263.96,70.48 280.51,63.14 297.06,54.53 313.61,45.76"/><polyline stroke-opacity="0.27" points="247.94,78.3 264.49,71.24 281.04,63.92 297.59,55.28 314.14,46.48"/><polyline stroke-opacity="0.27" points="248.47,79.03 265.02,72 281.57,64.69 298.12,56.03 314.67,47.2"/><polyline stroke-opacity="0.27" points="249,79.75 265.55,72.75 282.1,65.45 298.65,56.77 315.2,47.92"/><polyline stroke-opacity="0.27" points="249.53,80.47 266.08,73.49 282.63,66.21 299.18,57.51 315.73,48.63"/><polyline stroke-opacity="0.27" points="250.06,81.17 266.61,74.22 283.16,66.97 299.71,58.24 316.26,49.34"/><polyline stroke-opacity="0.27" points="250.59,81.87 267.14,74.95 283.69,67.72 300.24,58.97 316.79,50.05"/><polyline stroke-opacity="0.27" points="251.12,82.55 267.67,75.67 284.22,68.46 300.77,59.7 317.32,50.75"/><polyline stroke-opacity="0.27" points="251.65,83.23 268.2,76.38 284.75,69.2 301.3,60.42 317.85,51.45"/><polyline stroke-opacity="0.27" points="252.18,83.9 268.73,77.08 285.28,69.93 301.83,61.13 318.38,52.15"/><polyline stroke-opacity="0.27" points="252.71,84.56 269.26,77.78 285.81,70.65 302.36,61.85 318.91,52.84"/><polyline stroke-opacity="0.27" points="253.24,85.21 269.79,78.47 286.34,71.37 302.89,62.55 319.44,53.53"/><polyline stroke-opacity="0.27" points="253.77,85.85 270.32,79.15 286.87,72.09 303.42,63.26 319.97,54.22"/><polyline stroke-opacity="0.27" points="254.3,86.48 270.85,79.82 287.4,72.79 303.95,63.95 320.5,54.9"/><polyline stroke-opacity="0.27" points="254.83,87.1 271.38,80.49 287.93,73.49 304.48,64.65 321.03,55.59"/><polyline stroke-opacity="0.27" points="255.36,87.71 271.91,81.15 288.46,74.19 305.01,65.34 321.56,56.26"/><polyline stroke-opacity="0.27" points="255.89,88.32 272.44,81.8 288.99,74.88 305.54,66.02 322.09,56.94"/><polyline stroke-opacity="0.27" points="256.42,88.91 272.97,82.44 289.52,75.56 306.07,66.7 322.62,57.61"/><polyline stroke-opacity="0.27" points="256.95,89.49 273.5,83.07 290.05,76.24 306.6,67.38 323.15,58.28"/><polyline stroke-opacity="0.27" points="257.48,90.06 274.03,83.7 290.58,76.91 307.13,68.05 323.68,58.94"/><polyline stroke-opacity="0.27" points="258.01,90.62 274.56,84.32 291.11,77.58 307.66,68.72 324.21,59.61"/><polyline stroke-opacity="0.27" points="258.54,91.18 275.09,84.93 291.64,78.23 308.19,69.38 324.74,60.27"/><polyline stroke-opacity="0.27" points="259.07,91.72 275.62,85.53 292.18,78.89 308.73,70.03 325.27,60.92"/><polyline stroke-opacity="0.27" points="259.61,92.25 276.16,86.12 292.71,79.53 309.26,70.69 325.81,61.57"/><polyline stroke-opacity="0.27" points="260.14,92.77 276.69,86.71 293.24,80.17 309.79,71.33 326.34,62.22"/><polyline stroke-opacity="0.27" points="260.67,93.28 277.22,87.28 293.77,80.8 310.32,71.98 326.87,62.87"/><polyline stroke-opacity="0.27" points="261.2,93.78 277.75,87.85 294.3,81.43 310.85,72.61 327.4,63.51"/><polyline stroke-opacity="0.27" points="261.73,94.27 278.28,88.41 294.83,82.05 311.38,73.25 327.93,64.15"/><polyline stroke-opacity="0.27" points="262.26,94.75 278.81,88.96 295.36,82.66 311.91,73.87 328.46,64.79"/><polyline stroke-opacity="0.27" points="262.79,95.22 279.34,89.5 295.89,83.27 312.44,74.5 328.99,65.42"/><polyline stroke-opacity="0.27" points="263.32,95.67 279.87,90.04 296.42,83.87 312.97,75.11 329.52,66.06"/><polyline stroke-opacity="0.27" points="263.85,96.12 280.4,90.56 296.95,84.46 313.5,75.73 330.05,66.68"/><polyline stroke-opacity="0.27" points="264.38,96.56 280.93,91.08 297.48,85.05 314.03,76.34 330.58,67.31"/><polyline stroke-opacity="0.27" points="264.91,96.98 281.46,91.59 298.01,85.63 314.56,76.94 331.11,67.93"/><polyline stroke-opacity="0.27" points="265.44,97.39 281.99,92.08 298.54,86.2 315.09,77.54 331.64,68.55"/><polyline stroke-opacity="0.27" points="265.97,97.8 282.52,92.57 299.07,86.77 315.62,78.13 332.17,69.16"/><polyline stroke-opacity="0.27" points="266.5,98.19 283.05,93.05 299.6,87.33 316.15,78.72 332.7,69.77"/><polyline stroke-opacity="0.27" points="267.03,98.57 283.58,93.53 300.13,87.88 316.68,79.3 333.23,70.38"/><polyline stroke-opacity="0.27" points="267.56,98.93 284.11,93.99 300.66,88.43 317.21,79.88 333.76,70.98"/><polyline stroke-opacity="0.27" points="268.09,99.29 284.64,94.44 301.19,88.96 317.74,80.45 334.29,71.59"/><polyline stroke-opacity="0.27" points="268.62,99.64 285.17,94.88 301.72,89.5 318.27,81.02 334.82,72.18"/><polyline stroke-opacity="0.27" points="269.15,99.97 285.7,95.32 302.25,90.02 318.8,81.58 335.35,72.78"/><polyline stroke-opacity="0.27" points="269.68,100.29 286.23,95.74 302.78,90.54 319.33,82.14 335.88,73.37"/><polyline stroke-opacity="0.27" points="270.21,100.6 286.76,96.16 303.31,91.05 319.86,82.69 336.41,73.96"/><polyline stroke-opacity="0.27" points="270.74,100.9 287.29,96.56 303.84,91.55 320.39,83.24 336.94,74.55"/><polyline stroke-opacity="0.27" points="271.27,101.18 287.82,96.96 304.37,92.05 320.92,83.78 337.47,75.13"/><polyline stroke-opacity="0.27" points="271.8,101.46 288.35,97.35 304.9,92.53 321.45,84.32 338,75.71"/></g><g fill="none" stroke="#000" stroke-opacity="0.2" stroke-width="0.35"><polyline points="220.9,31.06 225.14,39.56 229.38,47.72 233.62,55.48 237.87,62.82 242.11,69.69 246.35,76.05 250.59,81.87 254.83,87.1 259.07,91.72 263.32,95.67 267.56,98.93 271.8,101.46"/><polyline points="222.22,30.55 226.47,39.03 230.71,47.17 234.95,54.92 239.19,62.25 243.43,69.12 247.67,75.49 251.92,81.33 256.16,86.59 260.4,91.25 264.64,95.25 268.88,98.57 273.12,101.16"/><polyline points="223.55,30.04 227.79,38.5 232.03,46.62 236.27,54.36 240.51,61.68 244.76,68.55 249,74.94 253.24,80.79 257.48,86.08 261.72,90.77 265.96,94.82 270.21,98.2 274.45,100.87"/><polyline points="224.87,29.53 229.11,37.96 233.36,46.06 237.6,53.79 241.84,61.11 246.08,67.98 250.32,74.38 254.56,80.25 258.81,85.57 263.05,90.3 267.29,94.4 271.53,97.83 275.77,100.57"/><polyline points="226.2,29.03 230.44,37.43 234.68,45.51 238.92,53.23 243.16,60.54 247.4,67.41 251.65,73.82 255.89,79.71 260.13,85.05 264.37,89.82 268.61,93.96 272.85,97.46 277.1,100.26"/><polyline points="227.52,28.52 231.76,36.9 236,44.96 240.25,52.66 244.49,59.97 248.73,66.84 252.97,73.25 257.21,79.16 261.45,84.53 265.69,89.33 269.94,93.53 274.18,97.08 278.42,99.95"/><polyline points="228.84,28.01 233.09,36.36 237.33,44.4 241.57,52.09 245.81,59.39 250.05,66.27 254.29,72.69 258.54,78.61 262.78,84.01 267.02,88.84 271.26,93.08 275.5,96.69 279.74,99.63"/><polyline points="230.17,27.51 234.41,35.83 238.65,43.85 242.89,51.52 247.13,58.82 251.38,65.69 255.62,72.12 259.86,78.06 264.1,83.48 268.34,88.35 272.58,92.63 276.83,96.29 281.07,99.3"/><polyline points="231.49,27 235.73,35.29 239.98,43.29 244.22,50.95 248.46,58.24 252.7,65.11 256.94,71.55 261.18,77.5 265.43,82.94 269.67,87.85 273.91,92.17 278.15,95.89 282.39,98.96"/><polyline points="232.82,26.49 237.06,34.76 241.3,42.74 245.54,50.38 249.78,57.66 254.02,64.53 258.27,70.97 262.51,76.94 266.75,82.4 270.99,87.33 275.23,91.7 279.47,95.47 283.72,98.61"/><polyline points="234.14,25.98 238.38,34.22 242.62,42.18 246.87,49.81 251.11,57.07 255.35,63.94 259.59,70.39 263.83,76.37 268.07,81.86 272.31,86.82 276.56,91.23 280.8,95.05 285.04,98.25"/><polyline points="235.46,25.48 239.71,33.69 243.95,41.62 248.19,49.24 252.43,56.49 256.67,63.36 260.91,69.81 265.16,75.8 269.4,81.31 273.64,86.3 277.88,90.75 282.12,94.62 286.36,97.89"/><polyline points="236.79,24.97 241.03,33.15 245.27,41.07 249.51,48.66 253.75,55.91 258,62.77 262.24,69.23 266.48,75.23 270.72,80.76 274.96,85.79 279.2,90.28 283.45,94.2 287.69,97.53"/><polyline points="238.11,24.46 242.35,32.62 246.6,40.51 250.84,48.09 255.08,55.33 259.32,62.19 263.56,68.65 267.8,74.66 272.05,80.22 276.29,85.27 280.53,89.8 284.77,93.78 289.01,97.17"/><polyline points="239.44,23.96 243.68,32.08 247.92,39.95 252.16,47.52 256.4,54.75 260.64,61.6 264.89,68.06 269.13,74.1 273.37,79.67 277.61,84.76 281.85,89.33 286.09,93.35 290.34,96.8"/><polyline points="240.76,23.45 245,31.55 249.24,39.4 253.49,46.94 257.73,54.16 261.97,61.02 266.21,67.48 270.45,73.53 274.69,79.12 278.94,84.24 283.18,88.85 287.42,92.93 291.66,96.44"/><polyline points="242.08,22.94 246.33,31.01 250.57,38.84 254.81,46.37 259.05,53.58 263.29,60.43 267.53,66.9 271.78,72.96 276.02,78.58 280.26,83.72 284.5,88.38 288.74,92.5 292.98,96.08"/><polyline points="243.41,22.44 247.65,30.48 251.89,38.28 256.13,45.8 260.37,53 264.62,59.85 268.86,66.32 273.1,72.39 277.34,78.03 281.58,83.21 285.82,87.9 290.07,92.08 294.31,95.72"/><polyline points="244.73,21.93 248.97,29.94 253.22,37.72 257.46,45.23 261.7,52.42 265.94,59.26 270.18,65.74 274.42,71.82 278.67,77.48 282.91,82.69 287.15,87.42 291.39,91.65 295.63,95.36"/><polyline points="246.06,21.42 250.3,29.41 254.54,37.17 258.78,44.65 263.02,51.83 267.26,58.68 271.51,65.16 275.75,71.25 279.99,76.93 284.23,82.17 288.47,86.94 292.71,91.22 296.96,94.98"/><polyline points="247.38,20.91 251.62,28.87 255.86,36.61 260.11,44.08 264.35,51.24 268.59,58.08 272.83,64.57 277.07,70.67 281.31,76.37 285.56,81.63 289.8,86.44 294.04,90.77 298.28,94.6"/><polyline points="248.7,20.41 252.95,28.34 257.19,36.05 261.43,43.5 265.67,50.66 269.91,57.49 274.15,63.98 278.4,70.09 282.64,75.8 286.88,81.1 291.12,85.94 295.36,90.32 299.6,94.2"/><polyline points="250.03,19.9 254.27,27.8 258.51,35.49 262.75,42.92 266.99,50.06 271.24,56.89 275.48,63.38 279.72,69.5 283.96,75.23 288.2,80.55 292.44,85.43 296.69,89.86 300.93,93.8"/><polyline points="251.35,19.39 255.59,27.26 259.84,34.93 264.08,42.34 268.32,49.47 272.56,56.29 276.8,62.78 281.04,68.91 285.29,74.66 289.53,80 293.77,84.92 298.01,89.38 302.25,93.38"/><polyline points="252.68,18.89 256.92,26.73 261.16,34.37 265.4,41.76 269.64,48.88 273.88,55.69 278.13,62.18 282.37,68.31 286.61,74.08 290.85,79.44 295.09,84.4 299.33,88.91 303.58,92.96"/><polyline points="254,18.38 258.24,26.19 262.48,33.81 266.73,41.18 270.97,48.28 275.21,55.09 279.45,61.57 283.69,67.72 287.93,73.49 292.18,78.89 296.42,83.87 300.66,88.43 304.9,92.53"/><polyline points="255.32,17.87 259.57,25.65 263.81,33.24 268.05,40.6 272.29,47.68 276.53,54.48 280.77,60.96 285.02,67.1 289.26,72.89 293.5,78.3 297.74,83.32 301.98,87.91 306.22,92.07"/><polyline points="256.65,17.36 260.89,25.11 265.13,32.67 269.37,40 273.61,47.07 277.86,53.85 282.1,60.32 286.34,66.46 290.58,72.25 294.82,77.68 299.06,82.71 303.31,87.34 307.55,91.54"/><polyline points="257.97,16.86 262.21,24.57 266.46,32.1 270.7,39.4 274.94,46.44 279.18,53.2 283.42,59.66 287.66,65.8 291.91,71.59 296.15,77.02 300.39,82.08 304.63,86.73 308.87,90.97"/><polyline points="259.3,16.35 263.54,24.03 267.78,31.53 272.02,38.8 276.26,45.81 280.5,52.55 284.75,58.99 288.99,65.12 293.23,70.91 297.47,76.34 301.71,81.41 305.95,86.08 310.2,90.35"/><polyline points="260.62,15.84 264.86,23.49 269.1,30.95 273.35,38.19 277.59,45.18 281.83,51.89 286.07,58.31 290.31,64.42 294.55,70.21 298.8,75.65 303.04,80.72 307.28,85.42 311.52,89.71"/><polyline points="261.94,15.34 266.19,22.95 270.43,30.38 274.67,37.58 278.91,44.54 283.15,51.23 287.39,57.63 291.64,63.73 295.88,69.5 300.12,74.94 304.36,80.02 308.6,84.74 312.84,89.06"/><polyline points="263.27,14.83 267.51,22.41 271.75,29.8 275.99,36.97 280.23,43.9 284.48,50.56 288.72,56.95 292.96,63.03 297.2,68.8 301.44,74.24 305.68,79.33 309.93,84.05 314.17,88.41"/><polyline points="264.59,14.32 268.83,21.86 273.08,29.22 277.32,36.36 281.56,43.26 285.8,49.89 290.04,56.25 294.28,62.32 298.53,68.08 302.77,73.51 307.01,78.6 311.25,83.35 315.49,87.72"/><polyline points="265.92,13.82 270.16,21.32 274.4,28.64 278.64,35.74 282.88,42.6 287.12,49.21 291.37,55.54 295.61,61.58 299.85,67.32 304.09,72.75 308.33,77.84 312.57,82.59 316.82,86.98"/><polyline points="267.24,13.31 271.48,20.77 275.72,28.05 279.97,35.12 284.21,41.94 288.45,48.51 292.69,54.81 296.93,60.83 301.17,66.56 305.42,71.97 309.66,77.06 313.9,81.81 318.14,86.22"/><polyline points="268.56,12.8 272.81,20.23 277.05,27.47 281.29,34.49 285.53,41.28 289.77,47.81 294.01,54.09 298.26,60.08 302.5,65.78 306.74,71.18 310.98,76.27 315.22,81.03 319.46,85.44"/><polyline points="269.89,12.29 274.13,19.69 278.37,26.89 282.61,33.87 286.85,40.62 291.1,47.12 295.34,53.37 299.58,59.34 303.82,65.02 308.06,70.41 312.3,75.49 316.55,80.25 320.79,84.69"/><polyline points="271.21,11.79 275.45,19.14 279.7,26.3 283.94,33.25 288.18,39.97 292.42,46.44 296.66,52.66 300.9,58.61 305.15,64.28 309.39,69.66 313.63,74.74 317.87,79.51 322.11,83.96"/><polyline points="272.54,11.28 276.78,18.6 281.02,25.72 285.26,32.63 289.5,39.32 293.74,45.76 297.99,51.95 302.23,57.88 306.47,63.54 310.71,68.92 314.95,74 319.19,78.78 323.44,83.25"/><polyline points="273.86,10.77 278.1,18.05 282.34,25.14 286.59,32.02 290.83,38.67 295.07,45.08 299.31,51.25 303.55,57.16 307.79,62.8 312.04,68.17 316.28,73.26 320.52,78.05 324.76,82.54"/><polyline points="275.18,10.27 279.43,17.51 283.67,24.56 287.91,31.4 292.15,38.02 296.39,44.4 300.63,50.55 304.88,56.44 309.12,62.07 313.36,67.43 317.6,72.52 321.84,77.32 326.08,81.83"/><polyline points="276.51,9.76 280.75,16.97 284.99,23.98 289.23,30.79 293.47,37.37 297.72,43.73 301.96,49.84 306.2,55.72 310.44,61.34 314.68,66.69 318.92,71.78 323.17,76.6 327.41,81.13"/><polyline points="277.83,9.25 282.07,16.42 286.32,23.4 290.56,30.17 294.8,36.72 299.04,43.05 303.28,49.15 307.52,55 311.77,60.61 316.01,65.96 320.25,71.05 324.49,75.88 328.73,80.43"/><polyline points="279.16,8.74 283.4,15.88 287.64,22.82 291.88,29.56 296.12,36.08 300.36,42.38 304.61,48.45 308.85,54.28 313.09,59.88 317.33,65.23 321.57,70.33 325.81,75.16 330.06,79.74"/><polyline points="280.48,8.24 284.72,15.34 288.96,22.24 293.21,28.95 297.45,35.43 301.69,41.7 305.93,47.75 310.17,53.57 314.41,59.16 318.66,64.5 322.9,69.6 327.14,74.45 331.38,79.05"/><polyline points="281.8,7.73 286.05,14.8 290.29,21.67 294.53,28.33 298.77,34.79 303.01,41.03 307.25,47.06 311.5,52.86 315.74,58.43 319.98,63.78 324.22,68.88 328.46,73.75 332.7,78.37"/><polyline points="283.13,7.22 287.37,14.25 291.61,21.09 295.85,27.72 300.09,34.15 304.34,40.36 308.58,46.37 312.82,52.15 317.06,57.72 321.3,63.06 325.54,68.17 329.79,73.05 334.03,77.69"/><polyline points="284.45,6.72 288.69,13.71 292.94,20.51 297.18,27.11 301.42,33.51 305.66,39.7 309.9,45.68 314.14,51.45 318.39,57 322.63,62.34 326.87,67.46 331.11,72.35 335.35,77.03"/><polyline points="285.78,6.21 290.02,13.17 294.26,19.93 298.5,26.5 302.74,32.87 306.98,39.03 311.23,44.99 315.47,50.75 319.71,56.29 323.95,61.63 328.19,66.75 332.43,71.67 336.68,76.36"/><polyline points="287.1,5.7 291.34,12.63 295.58,19.36 299.83,25.89 304.07,32.23 308.31,38.37 312.55,44.31 316.79,50.05 321.03,55.59 325.27,60.92 329.52,66.06 333.76,70.98 338,75.71"/></g></g>
<g fill="none" stroke="#ff0000" stroke-width="1.6"><circle cx="237.7" cy="59.1" r="1.55"/><circle cx="254.8" cy="84.3" r="1.55"/><circle cx="271.3" cy="104" r="1.55"/><circle cx="270.9" cy="46.7" r="1.55"/><circle cx="287.8" cy="70.7" r="1.55"/><circle cx="304.9" cy="95.2" r="1.55"/><circle cx="304" cy="29.9" r="1.55"/><circle cx="321" cy="54.6" r="1.55"/><circle cx="338" cy="78.4" r="1.55"/><path d="M222.09,32.7 A1.55,1.55 0 1 0 222.09,34.7"/></g>
<rect x="293.7" y="6.5" width="42.2" height="10.8" fill="#fff" stroke="#8a8a8a" stroke-width="0.6"/>
<circle cx="303" cy="12" r="1.55" fill="none" stroke="#ff0000" stroke-width="1.7"/>
<text transform="translate(312.3,14.7) scale(0.94,1)" font-size="7.9" fill="#151515" stroke="#151515" stroke-width="0.18">Gyroid</text>
<text transform="translate(216.3,50.6) scale(0.94,1)" font-size="8.8" text-anchor="end">2</text>
<text transform="translate(216.3,80.9) scale(0.94,1)" font-size="8.8" text-anchor="end">1</text>
<text transform="translate(216.2,89.5) scale(0.94,1)" font-size="8.8" text-anchor="end">100</text>
<text transform="translate(259.2,110.6) scale(0.94,1)" font-size="8.8" text-anchor="end">50</text>
<text transform="translate(275.4,115) scale(0.94,1)" font-size="8.8" text-anchor="start">0.4</text>
<text transform="translate(308.2,105.7) scale(0.94,1)" font-size="8.8" text-anchor="start">0.6</text>
<text transform="translate(341.9,96.4) scale(0.94,1)" font-size="8.8" text-anchor="start">0.8</text>
<text x="199.9" y="18.1" font-size="10" fill="#999">×</text>
<text transform="translate(206.6,17.9) scale(0.94,1)" font-size="8.8">10<tspan dy="-3.3" font-size="6.8">4</tspan></text></g>
<g><polyline points="387.4,51.8 453.6,33.7 504.5,58.2" fill="none" stroke="#efefef" stroke-width="0.5"/>
<line x1="496" y1="81.7" x2="496" y2="26.6" stroke="#efefef" stroke-width="0.5"/>
<line x1="420.5" y1="70.3" x2="420.5" y2="15.2" stroke="#efefef" stroke-width="0.5"/>
<polyline points="387.4,79.4 453.6,61.3 504.5,85.8" fill="none" stroke="#b0b0b0" stroke-width="0.6"/>
<polyline points="387.4,24.3 453.6,6.2 504.5,30.7" fill="none" stroke="#858585" stroke-width="0.7"/>
<line x1="453.6" y1="61.3" x2="453.6" y2="6.2" stroke="#858585" stroke-width="0.7"/>
<line x1="504.5" y1="85.8" x2="504.5" y2="30.7" stroke="#858585" stroke-width="0.7"/>
<line x1="387.4" y1="79.4" x2="387.4" y2="24.3" stroke="#858585" stroke-width="0.7"/>
<polyline points="387.4,79.4 438.3,103.9 504.5,85.8" fill="none" stroke="#858585" stroke-width="0.7"/>
<line x1="385.9" y1="24.5" x2="387.4" y2="24.5" stroke="#858585" stroke-width="0.6"/>
<line x1="385.9" y1="51.9" x2="387.4" y2="51.9" stroke="#858585" stroke-width="0.6"/>
<line x1="385.9" y1="78.9" x2="387.4" y2="78.9" stroke="#858585" stroke-width="0.6"/>
<line x1="438.3" y1="103.9" x2="439.7" y2="104.6" stroke="#858585" stroke-width="0.6"/>
<line x1="471.4" y1="94.8" x2="472.8" y2="95.5" stroke="#858585" stroke-width="0.6"/>
<line x1="504.5" y1="85.8" x2="505.9" y2="86.5" stroke="#858585" stroke-width="0.6"/>
<line x1="387.4" y1="79.4" x2="385.9" y2="79.8" stroke="#858585" stroke-width="0.6"/>
<line x1="429.8" y1="99.8" x2="428.4" y2="100.2" stroke="#858585" stroke-width="0.6"/>
<defs><linearGradient id="c02g0" gradientUnits="userSpaceOnUse" x1="387.8" y1="38.1" x2="454" y2="11.9"><stop offset="0" stop-color="#efb33b"/><stop offset="0.25" stop-color="#f4bf33"/><stop offset="0.5" stop-color="#efcf2a"/><stop offset="0.75" stop-color="#eadd23"/><stop offset="1" stop-color="#dcdb15"/></linearGradient><linearGradient id="c02g1" gradientUnits="userSpaceOnUse" x1="388.6" y1="40" x2="454.8" y2="13.2"><stop offset="0" stop-color="#deb32c"/><stop offset="0.25" stop-color="#f3b63a"/><stop offset="0.5" stop-color="#f3c52f"/><stop offset="0.75" stop-color="#ead527"/><stop offset="1" stop-color="#d9d51b"/></linearGradient><linearGradient id="c02g2" gradientUnits="userSpaceOnUse" x1="389.4" y1="41.9" x2="455.6" y2="14.4"><stop offset="0" stop-color="#cab726"/><stop offset="0.25" stop-color="#e7b234"/><stop offset="0.5" stop-color="#f4bc35"/><stop offset="0.75" stop-color="#eccc2a"/><stop offset="1" stop-color="#d7ce1f"/></linearGradient><linearGradient id="c02g3" gradientUnits="userSpaceOnUse" x1="390.2" y1="43.7" x2="456.4" y2="15.7"><stop offset="0" stop-color="#b4bc2e"/><stop offset="0.25" stop-color="#d7b529"/><stop offset="0.5" stop-color="#f2b53a"/><stop offset="0.75" stop-color="#eec32e"/><stop offset="1" stop-color="#d7c722"/></linearGradient><linearGradient id="c02g4" gradientUnits="userSpaceOnUse" x1="391" y1="45.5" x2="457.2" y2="16.9"><stop offset="0" stop-color="#9cc03d"/><stop offset="0.25" stop-color="#c6b826"/><stop offset="0.5" stop-color="#e7b234"/><stop offset="0.75" stop-color="#efbb32"/><stop offset="1" stop-color="#d7c025"/></linearGradient><linearGradient id="c02g5" gradientUnits="userSpaceOnUse" x1="391.8" y1="47.3" x2="458" y2="18.1"><stop offset="0" stop-color="#83c34f"/><stop offset="0.25" stop-color="#b3bc2e"/><stop offset="0.5" stop-color="#dab42a"/><stop offset="0.75" stop-color="#edb337"/><stop offset="1" stop-color="#d9ba27"/></linearGradient><linearGradient id="c02g6" gradientUnits="userSpaceOnUse" x1="392.6" y1="49" x2="458.8" y2="19.3"><stop offset="0" stop-color="#6bc461"/><stop offset="0.25" stop-color="#9ec03b"/><stop offset="0.5" stop-color="#cbb726"/><stop offset="0.75" stop-color="#e7ad39"/><stop offset="1" stop-color="#dbb32a"/></linearGradient><linearGradient id="c02g7" gradientUnits="userSpaceOnUse" x1="393.4" y1="50.7" x2="459.6" y2="20.5"><stop offset="0" stop-color="#55c473"/><stop offset="0.25" stop-color="#89c24b"/><stop offset="0.5" stop-color="#bbba29"/><stop offset="0.75" stop-color="#dbab30"/><stop offset="1" stop-color="#dbad2d"/></linearGradient><linearGradient id="c02g8" gradientUnits="userSpaceOnUse" x1="394.2" y1="52.3" x2="460.4" y2="21.7"><stop offset="0" stop-color="#42c383"/><stop offset="0.25" stop-color="#74c45b"/><stop offset="0.5" stop-color="#aabd32"/><stop offset="0.75" stop-color="#cfac28"/><stop offset="1" stop-color="#daa731"/></linearGradient><linearGradient id="c02g9" gradientUnits="userSpaceOnUse" x1="395" y1="53.9" x2="461.2" y2="22.9"><stop offset="0" stop-color="#35c091"/><stop offset="0.25" stop-color="#60c56a"/><stop offset="0.5" stop-color="#98bf3e"/><stop offset="0.75" stop-color="#c2ad24"/><stop offset="1" stop-color="#d8a134"/></linearGradient><linearGradient id="c02g10" gradientUnits="userSpaceOnUse" x1="395.8" y1="55.5" x2="462" y2="24.1"><stop offset="0" stop-color="#2cbd9d"/><stop offset="0.25" stop-color="#4fc479"/><stop offset="0.5" stop-color="#85c04b"/><stop offset="0.75" stop-color="#b5ae25"/><stop offset="1" stop-color="#d19f32"/></linearGradient><linearGradient id="c02g11" gradientUnits="userSpaceOnUse" x1="396.5" y1="57" x2="462.7" y2="25.3"><stop offset="0" stop-color="#1eb9aa"/><stop offset="0.25" stop-color="#3fc186"/><stop offset="0.5" stop-color="#73bf58"/><stop offset="0.75" stop-color="#a7af2b"/><stop offset="1" stop-color="#c99e2b"/></linearGradient><linearGradient id="c02g12" gradientUnits="userSpaceOnUse" x1="397.3" y1="58.5" x2="463.5" y2="26.4"><stop offset="0" stop-color="#09b5b6"/><stop offset="0.25" stop-color="#34be90"/><stop offset="0.5" stop-color="#61be64"/><stop offset="0.75" stop-color="#98b032"/><stop offset="1" stop-color="#c09f25"/></linearGradient><linearGradient id="c02g13" gradientUnits="userSpaceOnUse" x1="398.1" y1="59.9" x2="464.3" y2="27.6"><stop offset="0" stop-color="#01b0bf"/><stop offset="0.25" stop-color="#2cba99"/><stop offset="0.5" stop-color="#51bc6f"/><stop offset="0.75" stop-color="#89b13c"/><stop offset="1" stop-color="#b6a022"/></linearGradient><linearGradient id="c02g14" gradientUnits="userSpaceOnUse" x1="398.9" y1="61.3" x2="465.1" y2="28.8"><stop offset="0" stop-color="#0ba9c7"/><stop offset="0.25" stop-color="#22b4a3"/><stop offset="0.5" stop-color="#43b979"/><stop offset="0.75" stop-color="#7ab146"/><stop offset="1" stop-color="#aca122"/></linearGradient><linearGradient id="c02g15" gradientUnits="userSpaceOnUse" x1="399.7" y1="62.7" x2="465.9" y2="29.9"><stop offset="0" stop-color="#16a2cc"/><stop offset="0.25" stop-color="#11afaa"/><stop offset="0.5" stop-color="#37b582"/><stop offset="0.75" stop-color="#6cb04f"/><stop offset="1" stop-color="#a1a325"/></linearGradient><linearGradient id="c02g16" gradientUnits="userSpaceOnUse" x1="400.5" y1="64" x2="466.7" y2="31"><stop offset="0" stop-color="#1b9ace"/><stop offset="0.25" stop-color="#02aab1"/><stop offset="0.5" stop-color="#2fb189"/><stop offset="0.75" stop-color="#5db059"/><stop offset="1" stop-color="#96a42b"/></linearGradient><linearGradient id="c02g17" gradientUnits="userSpaceOnUse" x1="401.3" y1="65.3" x2="467.5" y2="32.2"><stop offset="0" stop-color="#1f92ce"/><stop offset="0.25" stop-color="#03a3b7"/><stop offset="0.5" stop-color="#29ad90"/><stop offset="0.75" stop-color="#51ae62"/><stop offset="1" stop-color="#8ba632"/></linearGradient><linearGradient id="c02g18" gradientUnits="userSpaceOnUse" x1="402.1" y1="66.6" x2="468.3" y2="33.3"><stop offset="0" stop-color="#2189cd"/><stop offset="0.25" stop-color="#0d9dbb"/><stop offset="0.5" stop-color="#20a897"/><stop offset="0.75" stop-color="#45ac6b"/><stop offset="1" stop-color="#7fa73a"/></linearGradient><linearGradient id="c02g19" gradientUnits="userSpaceOnUse" x1="402.9" y1="67.8" x2="469.1" y2="34.4"><stop offset="0" stop-color="#2381cd"/><stop offset="0.25" stop-color="#1596be"/><stop offset="0.5" stop-color="#13a49d"/><stop offset="0.75" stop-color="#3aaa72"/><stop offset="1" stop-color="#73a843"/></linearGradient><linearGradient id="c02g20" gradientUnits="userSpaceOnUse" x1="403.7" y1="69" x2="469.9" y2="35.5"><stop offset="0" stop-color="#257acd"/><stop offset="0.25" stop-color="#1990c0"/><stop offset="0.5" stop-color="#06a0a3"/><stop offset="0.75" stop-color="#32a879"/><stop offset="1" stop-color="#68a84b"/></linearGradient><linearGradient id="c02g21" gradientUnits="userSpaceOnUse" x1="404.5" y1="70.2" x2="470.7" y2="36.6"><stop offset="0" stop-color="#2673cd"/><stop offset="0.25" stop-color="#1c89c0"/><stop offset="0.5" stop-color="#019ba8"/><stop offset="0.75" stop-color="#2ca580"/><stop offset="1" stop-color="#5ca853"/></linearGradient><linearGradient id="c02g22" gradientUnits="userSpaceOnUse" x1="405.3" y1="71.3" x2="471.5" y2="37.7"><stop offset="0" stop-color="#266cce"/><stop offset="0.25" stop-color="#1e83c0"/><stop offset="0.5" stop-color="#0697ad"/><stop offset="0.75" stop-color="#27a386"/><stop offset="1" stop-color="#51a85c"/></linearGradient><linearGradient id="c02g23" gradientUnits="userSpaceOnUse" x1="406.1" y1="72.4" x2="472.3" y2="38.8"><stop offset="0" stop-color="#2867ce"/><stop offset="0.25" stop-color="#207ec1"/><stop offset="0.5" stop-color="#0f93b2"/><stop offset="0.75" stop-color="#21a08c"/><stop offset="1" stop-color="#47a864"/></linearGradient><linearGradient id="c02g24" gradientUnits="userSpaceOnUse" x1="406.9" y1="73.5" x2="473.1" y2="39.9"><stop offset="0" stop-color="#2c62d0"/><stop offset="0.25" stop-color="#2279c3"/><stop offset="0.5" stop-color="#158eb5"/><stop offset="0.75" stop-color="#189e93"/><stop offset="1" stop-color="#3ea76c"/></linearGradient><linearGradient id="c02g25" gradientUnits="userSpaceOnUse" x1="407.7" y1="74.5" x2="473.9" y2="41"><stop offset="0" stop-color="#315dd1"/><stop offset="0.25" stop-color="#2474c6"/><stop offset="0.5" stop-color="#188ab8"/><stop offset="0.75" stop-color="#0c9b99"/><stop offset="1" stop-color="#36a673"/></linearGradient><linearGradient id="c02g26" gradientUnits="userSpaceOnUse" x1="408.5" y1="75.6" x2="474.7" y2="42.1"><stop offset="0" stop-color="#3459d1"/><stop offset="0.25" stop-color="#2570c9"/><stop offset="0.5" stop-color="#1b86ba"/><stop offset="0.75" stop-color="#03999f"/><stop offset="1" stop-color="#2fa579"/></linearGradient><linearGradient id="c02g27" gradientUnits="userSpaceOnUse" x1="409.3" y1="76.6" x2="475.5" y2="43.1"><stop offset="0" stop-color="#3755d0"/><stop offset="0.25" stop-color="#266ccc"/><stop offset="0.5" stop-color="#1d82bc"/><stop offset="0.75" stop-color="#0197a5"/><stop offset="1" stop-color="#2ba380"/></linearGradient><linearGradient id="c02g28" gradientUnits="userSpaceOnUse" x1="410.1" y1="77.5" x2="476.3" y2="44.2"><stop offset="0" stop-color="#3851cf"/><stop offset="0.25" stop-color="#2868ce"/><stop offset="0.5" stop-color="#1f7ebf"/><stop offset="0.75" stop-color="#0694aa"/><stop offset="1" stop-color="#26a186"/></linearGradient><linearGradient id="c02g29" gradientUnits="userSpaceOnUse" x1="410.9" y1="78.5" x2="477.1" y2="45.2"><stop offset="0" stop-color="#394ece"/><stop offset="0.25" stop-color="#2b63cf"/><stop offset="0.5" stop-color="#217ac2"/><stop offset="0.75" stop-color="#0e91af"/><stop offset="1" stop-color="#219f8c"/></linearGradient><linearGradient id="c02g30" gradientUnits="userSpaceOnUse" x1="411.7" y1="79.4" x2="477.9" y2="46.3"><stop offset="0" stop-color="#3a4bcd"/><stop offset="0.25" stop-color="#2f5fd1"/><stop offset="0.5" stop-color="#2476c4"/><stop offset="0.75" stop-color="#148eb3"/><stop offset="1" stop-color="#189e92"/></linearGradient><linearGradient id="c02g31" gradientUnits="userSpaceOnUse" x1="412.5" y1="80.3" x2="478.7" y2="47.3"><stop offset="0" stop-color="#3a48cb"/><stop offset="0.25" stop-color="#335bd1"/><stop offset="0.5" stop-color="#2572c8"/><stop offset="0.75" stop-color="#178bb7"/><stop offset="1" stop-color="#0d9c98"/></linearGradient><linearGradient id="c02g32" gradientUnits="userSpaceOnUse" x1="413.2" y1="81.2" x2="479.4" y2="48.3"><stop offset="0" stop-color="#3b45c9"/><stop offset="0.25" stop-color="#3658d0"/><stop offset="0.5" stop-color="#256fca"/><stop offset="0.75" stop-color="#1a88b9"/><stop offset="1" stop-color="#049a9e"/></linearGradient><linearGradient id="c02g33" gradientUnits="userSpaceOnUse" x1="414" y1="82" x2="480.2" y2="49.4"><stop offset="0" stop-color="#3b42c7"/><stop offset="0.25" stop-color="#3754d0"/><stop offset="0.5" stop-color="#266bcd"/><stop offset="0.75" stop-color="#1c84bb"/><stop offset="1" stop-color="#0197a4"/></linearGradient><linearGradient id="c02g34" gradientUnits="userSpaceOnUse" x1="414.8" y1="82.9" x2="481" y2="50.4"><stop offset="0" stop-color="#3b40c5"/><stop offset="0.25" stop-color="#3951cf"/><stop offset="0.5" stop-color="#2867ce"/><stop offset="0.75" stop-color="#1e81bd"/><stop offset="1" stop-color="#0495a9"/></linearGradient><linearGradient id="c02g35" gradientUnits="userSpaceOnUse" x1="415.6" y1="83.7" x2="481.8" y2="51.4"><stop offset="0" stop-color="#3b3dc3"/><stop offset="0.25" stop-color="#394ece"/><stop offset="0.5" stop-color="#2b63d0"/><stop offset="0.75" stop-color="#1f7dbf"/><stop offset="1" stop-color="#0b92ae"/></linearGradient><linearGradient id="c02g36" gradientUnits="userSpaceOnUse" x1="416.4" y1="84.5" x2="482.6" y2="52.4"><stop offset="0" stop-color="#3b3bc1"/><stop offset="0.25" stop-color="#3a4bcc"/><stop offset="0.5" stop-color="#2f5fd1"/><stop offset="0.75" stop-color="#217ac2"/><stop offset="1" stop-color="#1190b2"/></linearGradient><linearGradient id="c02g37" gradientUnits="userSpaceOnUse" x1="417.2" y1="85.3" x2="483.4" y2="53.4"><stop offset="0" stop-color="#3a39bf"/><stop offset="0.25" stop-color="#3a48cb"/><stop offset="0.5" stop-color="#335bd1"/><stop offset="0.75" stop-color="#2476c4"/><stop offset="1" stop-color="#158db5"/></linearGradient><linearGradient id="c02g38" gradientUnits="userSpaceOnUse" x1="418" y1="86" x2="484.2" y2="54.4"><stop offset="0" stop-color="#3a37bd"/><stop offset="0.25" stop-color="#3b45c9"/><stop offset="0.5" stop-color="#3558d0"/><stop offset="0.75" stop-color="#2573c7"/><stop offset="1" stop-color="#1889b8"/></linearGradient><linearGradient id="c02g39" gradientUnits="userSpaceOnUse" x1="418.8" y1="86.8" x2="485" y2="55.3"><stop offset="0" stop-color="#3a35bb"/><stop offset="0.25" stop-color="#3b43c8"/><stop offset="0.5" stop-color="#3754d0"/><stop offset="0.75" stop-color="#256fca"/><stop offset="1" stop-color="#1b86ba"/></linearGradient><linearGradient id="c02g40" gradientUnits="userSpaceOnUse" x1="419.6" y1="87.5" x2="485.8" y2="56.3"><stop offset="0" stop-color="#3a33b9"/><stop offset="0.25" stop-color="#3b40c6"/><stop offset="0.5" stop-color="#3951cf"/><stop offset="0.75" stop-color="#266ccc"/><stop offset="1" stop-color="#1d83bc"/></linearGradient><linearGradient id="c02g41" gradientUnits="userSpaceOnUse" x1="420.4" y1="88.2" x2="486.6" y2="57.3"><stop offset="0" stop-color="#3a31b6"/><stop offset="0.25" stop-color="#3b3ec4"/><stop offset="0.5" stop-color="#394ece"/><stop offset="0.75" stop-color="#2768ce"/><stop offset="1" stop-color="#1f7fbe"/></linearGradient><linearGradient id="c02g42" gradientUnits="userSpaceOnUse" x1="421.2" y1="88.9" x2="487.4" y2="58.2"><stop offset="0" stop-color="#3930b4"/><stop offset="0.25" stop-color="#3b3bc2"/><stop offset="0.5" stop-color="#3a4bcd"/><stop offset="0.75" stop-color="#2965cf"/><stop offset="1" stop-color="#207cc0"/></linearGradient><linearGradient id="c02g43" gradientUnits="userSpaceOnUse" x1="422" y1="89.6" x2="488.2" y2="59.2"><stop offset="0" stop-color="#392eb1"/><stop offset="0.25" stop-color="#3b39c0"/><stop offset="0.5" stop-color="#3a48cb"/><stop offset="0.75" stop-color="#2d61d0"/><stop offset="1" stop-color="#2279c3"/></linearGradient><linearGradient id="c02g44" gradientUnits="userSpaceOnUse" x1="422.8" y1="90.3" x2="489" y2="60.1"><stop offset="0" stop-color="#392daf"/><stop offset="0.25" stop-color="#3a37be"/><stop offset="0.5" stop-color="#3b46ca"/><stop offset="0.75" stop-color="#315ed1"/><stop offset="1" stop-color="#2475c5"/></linearGradient><linearGradient id="c02g45" gradientUnits="userSpaceOnUse" x1="423.6" y1="91" x2="489.8" y2="61.1"><stop offset="0" stop-color="#382cad"/><stop offset="0.25" stop-color="#3a35bb"/><stop offset="0.5" stop-color="#3b43c8"/><stop offset="0.75" stop-color="#345ad1"/><stop offset="1" stop-color="#2572c8"/></linearGradient><linearGradient id="c02g46" gradientUnits="userSpaceOnUse" x1="424.4" y1="91.6" x2="490.6" y2="62"><stop offset="0" stop-color="#382baa"/><stop offset="0.25" stop-color="#3a33b9"/><stop offset="0.5" stop-color="#3b40c6"/><stop offset="0.75" stop-color="#3657d0"/><stop offset="1" stop-color="#256ecb"/></linearGradient><linearGradient id="c02g47" gradientUnits="userSpaceOnUse" x1="425.2" y1="92.3" x2="491.4" y2="62.9"><stop offset="0" stop-color="#382aa8"/><stop offset="0.25" stop-color="#3a31b6"/><stop offset="0.5" stop-color="#3b3ec4"/><stop offset="0.75" stop-color="#3754d0"/><stop offset="1" stop-color="#266bcc"/></linearGradient><linearGradient id="c02g48" gradientUnits="userSpaceOnUse" x1="426" y1="92.9" x2="492.2" y2="63.8"><stop offset="0" stop-color="#3729a6"/><stop offset="0.25" stop-color="#3930b4"/><stop offset="0.5" stop-color="#3b3bc2"/><stop offset="0.75" stop-color="#3951cf"/><stop offset="1" stop-color="#2867ce"/></linearGradient><linearGradient id="c02g49" gradientUnits="userSpaceOnUse" x1="426.8" y1="93.5" x2="493" y2="64.7"><stop offset="0" stop-color="#3728a4"/><stop offset="0.25" stop-color="#392eb1"/><stop offset="0.5" stop-color="#3b39c0"/><stop offset="0.75" stop-color="#394ece"/><stop offset="1" stop-color="#2b64cf"/></linearGradient><linearGradient id="c02g50" gradientUnits="userSpaceOnUse" x1="427.6" y1="94.2" x2="493.8" y2="65.6"><stop offset="0" stop-color="#3728a1"/><stop offset="0.25" stop-color="#382dae"/><stop offset="0.5" stop-color="#3a37bd"/><stop offset="0.75" stop-color="#3a4bcd"/><stop offset="1" stop-color="#2e60d1"/></linearGradient><linearGradient id="c02g51" gradientUnits="userSpaceOnUse" x1="428.4" y1="94.8" x2="494.6" y2="66.5"><stop offset="0" stop-color="#36279f"/><stop offset="0.25" stop-color="#382bab"/><stop offset="0.5" stop-color="#3a34bb"/><stop offset="0.75" stop-color="#3a48cb"/><stop offset="1" stop-color="#325dd1"/></linearGradient><linearGradient id="c02g52" gradientUnits="userSpaceOnUse" x1="429.2" y1="95.4" x2="495.4" y2="67.4"><stop offset="0" stop-color="#36269e"/><stop offset="0.25" stop-color="#382aa8"/><stop offset="0.5" stop-color="#3a32b8"/><stop offset="0.75" stop-color="#3b46ca"/><stop offset="1" stop-color="#3459d1"/></linearGradient><linearGradient id="c02g53" gradientUnits="userSpaceOnUse" x1="429.9" y1="96" x2="496.1" y2="68.3"><stop offset="0" stop-color="#36259c"/><stop offset="0.25" stop-color="#3729a5"/><stop offset="0.5" stop-color="#3930b5"/><stop offset="0.75" stop-color="#3b43c8"/><stop offset="1" stop-color="#3756d0"/></linearGradient><linearGradient id="c02g54" gradientUnits="userSpaceOnUse" x1="430.7" y1="96.6" x2="496.9" y2="69.2"><stop offset="0" stop-color="#35259a"/><stop offset="0.25" stop-color="#3728a3"/><stop offset="0.5" stop-color="#392fb2"/><stop offset="0.75" stop-color="#3b41c6"/><stop offset="1" stop-color="#3853cf"/></linearGradient><linearGradient id="c02g55" gradientUnits="userSpaceOnUse" x1="431.5" y1="97.2" x2="497.7" y2="70"><stop offset="0" stop-color="#352498"/><stop offset="0.25" stop-color="#3627a0"/><stop offset="0.5" stop-color="#392daf"/><stop offset="0.75" stop-color="#3b3ec4"/><stop offset="1" stop-color="#3950cf"/></linearGradient><linearGradient id="c02g56" gradientUnits="userSpaceOnUse" x1="432.3" y1="97.8" x2="498.5" y2="70.9"><stop offset="0" stop-color="#352497"/><stop offset="0.25" stop-color="#36269d"/><stop offset="0.5" stop-color="#382bab"/><stop offset="0.75" stop-color="#3b3cc2"/><stop offset="1" stop-color="#3a4dce"/></linearGradient><linearGradient id="c02g57" gradientUnits="userSpaceOnUse" x1="433.1" y1="98.4" x2="499.3" y2="71.7"><stop offset="0" stop-color="#352395"/><stop offset="0.25" stop-color="#35259b"/><stop offset="0.5" stop-color="#382aa8"/><stop offset="0.75" stop-color="#3b3ac0"/><stop offset="1" stop-color="#3a4acc"/></linearGradient><linearGradient id="c02g58" gradientUnits="userSpaceOnUse" x1="433.9" y1="98.9" x2="500.1" y2="72.6"><stop offset="0" stop-color="#342294"/><stop offset="0.25" stop-color="#352498"/><stop offset="0.5" stop-color="#3729a4"/><stop offset="0.75" stop-color="#3a37be"/><stop offset="1" stop-color="#3a47cb"/></linearGradient><linearGradient id="c02g59" gradientUnits="userSpaceOnUse" x1="434.7" y1="99.5" x2="500.9" y2="73.4"><stop offset="0" stop-color="#342292"/><stop offset="0.25" stop-color="#352396"/><stop offset="0.5" stop-color="#3727a1"/><stop offset="0.75" stop-color="#3a35bc"/><stop offset="1" stop-color="#3b45c9"/></linearGradient><linearGradient id="c02g60" gradientUnits="userSpaceOnUse" x1="435.5" y1="100.1" x2="501.7" y2="74.2"><stop offset="0" stop-color="#342190"/><stop offset="0.25" stop-color="#342294"/><stop offset="0.5" stop-color="#36269e"/><stop offset="0.75" stop-color="#3a33b9"/><stop offset="1" stop-color="#3b42c7"/></linearGradient><linearGradient id="c02g61" gradientUnits="userSpaceOnUse" x1="436.3" y1="100.7" x2="502.5" y2="75.1"><stop offset="0" stop-color="#33218f"/><stop offset="0.25" stop-color="#342291"/><stop offset="0.5" stop-color="#36259b"/><stop offset="0.75" stop-color="#3a31b6"/><stop offset="1" stop-color="#3b40c6"/></linearGradient><linearGradient id="c02g62" gradientUnits="userSpaceOnUse" x1="437.1" y1="101.3" x2="503.3" y2="75.9"><stop offset="0" stop-color="#33218e"/><stop offset="0.25" stop-color="#34218f"/><stop offset="0.5" stop-color="#352498"/><stop offset="0.75" stop-color="#392fb3"/><stop offset="1" stop-color="#3b3dc4"/></linearGradient><linearGradient id="c02g63" gradientUnits="userSpaceOnUse" x1="437.9" y1="101.9" x2="504.1" y2="76.7"><stop offset="0" stop-color="#33208c"/><stop offset="0.25" stop-color="#33208d"/><stop offset="0.5" stop-color="#352395"/><stop offset="0.75" stop-color="#392eb0"/><stop offset="1" stop-color="#3b3bc2"/></linearGradient></defs>
<clipPath id="c02"><polygon points="387.4,37.1 388.2,39 389,40.9 389.8,42.8 390.6,44.6 391.4,46.4 392.2,48.2 393,49.9 393.8,51.5 394.6,53.1 395.4,54.7 396.1,56.2 396.9,57.7 397.7,59.2 398.5,60.6 399.3,62 400.1,63.3 400.9,64.7 401.7,65.9 402.5,67.2 403.3,68.4 404.1,69.6 404.9,70.7 405.7,71.9 406.5,72.9 407.3,74 408.1,75 408.9,76.1 409.7,77 410.5,78 411.3,78.9 412.1,79.9 412.9,80.7 413.6,81.6 414.4,82.5 415.2,83.3 416,84.1 416.8,84.9 417.6,85.7 418.4,86.4 419.2,87.2 420,87.9 420.8,88.6 421.6,89.3 422.4,90 423.2,90.6 424,91.3 424.8,92 425.6,92.6 426.4,93.2 427.2,93.9 428,94.5 428.8,95.1 429.6,95.7 430.3,96.3 431.1,96.9 431.9,97.5 432.7,98.1 433.5,98.7 434.3,99.2 435.1,99.8 435.9,100.4 436.7,101 437.5,101.6 438.3,102.2 449.3,99.6 460.4,95.7 471.4,92 482.4,86.8 493.5,81.8 504.5,77.1 503.7,76.3 502.9,75.5 502.1,74.6 501.3,73.8 500.5,73 499.7,72.1 498.9,71.3 498.1,70.4 497.3,69.6 496.5,68.7 495.8,67.8 495,67 494.2,66.1 493.4,65.2 492.6,64.3 491.8,63.4 491,62.4 490.2,61.5 489.4,60.6 488.6,59.6 487.8,58.7 487,57.7 486.2,56.8 485.4,55.8 484.6,54.8 483.8,53.9 483,52.9 482.2,51.9 481.4,50.9 480.6,49.9 479.8,48.8 479.1,47.8 478.3,46.8 477.5,45.8 476.7,44.7 475.9,43.7 475.1,42.6 474.3,41.5 473.5,40.5 472.7,39.4 471.9,38.3 471.1,37.2 470.3,36.1 469.5,35 468.7,33.9 467.9,32.7 467.1,31.6 466.3,30.5 465.5,29.3 464.7,28.2 463.9,27 463.1,25.9 462.3,24.7 461.6,23.5 460.8,22.3 460,21.1 459.2,19.9 458.4,18.7 457.6,17.5 456.8,16.3 456,15 455.2,13.8 454.4,12.6 453.6,11.3 442.6,15.6 431.5,19.9 420.5,24.2 409.5,28.5 398.4,32.8"/></clipPath>
<g clip-path="url(#c02)" stroke-width="1" stroke-linejoin="round"><polygon points="387.4,37.1 398.4,32.8 409.5,28.5 420.5,24.2 431.5,19.9 442.6,15.6 453.6,11.3 454.4,12.6 443.4,17 432.3,21.4 421.3,25.8 410.3,30.2 399.2,34.6 388.2,39" fill="url(#c02g0)" stroke="url(#c02g0)"/><polygon points="388.2,39 399.2,34.6 410.3,30.2 421.3,25.8 432.3,21.4 443.4,17 454.4,12.6 455.2,13.8 444.2,18.3 433.1,22.9 422.1,27.4 411.1,31.9 400,36.4 389,40.9" fill="url(#c02g1)" stroke="url(#c02g1)"/><polygon points="389,40.9 400,36.4 411.1,31.9 422.1,27.4 433.1,22.9 444.2,18.3 455.2,13.8 456,15 445,19.7 433.9,24.3 422.9,29 411.9,33.6 400.8,38.2 389.8,42.8" fill="url(#c02g2)" stroke="url(#c02g2)"/><polygon points="389.8,42.8 400.8,38.2 411.9,33.6 422.9,29 433.9,24.3 445,19.7 456,15 456.8,16.3 445.7,21 434.7,25.8 423.7,30.5 412.6,35.2 401.6,39.9 390.6,44.6" fill="url(#c02g3)" stroke="url(#c02g3)"/><polygon points="390.6,44.6 401.6,39.9 412.6,35.2 423.7,30.5 434.7,25.8 445.7,21 456.8,16.3 457.6,17.5 446.5,22.3 435.5,27.2 424.5,32 413.4,36.8 402.4,41.6 391.4,46.4" fill="url(#c02g4)" stroke="url(#c02g4)"/><polygon points="391.4,46.4 402.4,41.6 413.4,36.8 424.5,32 435.5,27.2 446.5,22.3 457.6,17.5 458.4,18.7 447.3,23.6 436.3,28.6 425.3,33.5 414.2,38.4 403.2,43.3 392.2,48.2" fill="url(#c02g5)" stroke="url(#c02g5)"/><polygon points="392.2,48.2 403.2,43.3 414.2,38.4 425.3,33.5 436.3,28.6 447.3,23.6 458.4,18.7 459.2,19.9 448.1,24.9 437.1,29.9 426.1,35 415,40 404,44.9 393,49.9" fill="url(#c02g6)" stroke="url(#c02g6)"/><polygon points="393,49.9 404,44.9 415,40 426.1,35 437.1,29.9 448.1,24.9 459.2,19.9 460,21.1 448.9,26.2 437.9,31.3 426.9,36.4 415.8,41.5 404.8,46.5 393.8,51.5" fill="url(#c02g7)" stroke="url(#c02g7)"/><polygon points="393.8,51.5 404.8,46.5 415.8,41.5 426.9,36.4 437.9,31.3 448.9,26.2 460,21.1 460.8,22.3 449.7,27.5 438.7,32.7 427.7,37.8 416.6,43 405.6,48.1 394.6,53.1" fill="url(#c02g8)" stroke="url(#c02g8)"/><polygon points="394.6,53.1 405.6,48.1 416.6,43 427.7,37.8 438.7,32.7 449.7,27.5 460.8,22.3 461.6,23.5 450.5,28.7 439.5,34 428.5,39.2 417.4,44.4 406.4,49.6 395.4,54.7" fill="url(#c02g9)" stroke="url(#c02g9)"/><polygon points="395.4,54.7 406.4,49.6 417.4,44.4 428.5,39.2 439.5,34 450.5,28.7 461.6,23.5 462.3,24.7 451.3,30 440.3,35.3 429.2,40.6 418.2,45.9 407.2,51.1 396.1,56.2" fill="url(#c02g10)" stroke="url(#c02g10)"/><polygon points="396.1,56.2 407.2,51.1 418.2,45.9 429.2,40.6 440.3,35.3 451.3,30 462.3,24.7 463.1,25.9 452.1,31.2 441.1,36.6 430,42 419,47.3 408,52.5 396.9,57.7" fill="url(#c02g11)" stroke="url(#c02g11)"/><polygon points="396.9,57.7 408,52.5 419,47.3 430,42 441.1,36.6 452.1,31.2 463.1,25.9 463.9,27 452.9,32.4 441.9,37.9 430.8,43.3 419.8,48.6 408.8,54 397.7,59.2" fill="url(#c02g12)" stroke="url(#c02g12)"/><polygon points="397.7,59.2 408.8,54 419.8,48.6 430.8,43.3 441.9,37.9 452.9,32.4 463.9,27 464.7,28.2 453.7,33.6 442.7,39.1 431.6,44.6 420.6,50 409.6,55.4 398.5,60.6" fill="url(#c02g13)" stroke="url(#c02g13)"/><polygon points="398.5,60.6 409.6,55.4 420.6,50 431.6,44.6 442.7,39.1 453.7,33.6 464.7,28.2 465.5,29.3 454.5,34.8 443.5,40.4 432.4,45.9 421.4,51.3 410.4,56.7 399.3,62" fill="url(#c02g14)" stroke="url(#c02g14)"/><polygon points="399.3,62 410.4,56.7 421.4,51.3 432.4,45.9 443.5,40.4 454.5,34.8 465.5,29.3 466.3,30.5 455.3,36 444.3,41.6 433.2,47.2 422.2,52.6 411.2,58.1 400.1,63.3" fill="url(#c02g15)" stroke="url(#c02g15)"/><polygon points="400.1,63.3 411.2,58.1 422.2,52.6 433.2,47.2 444.3,41.6 455.3,36 466.3,30.5 467.1,31.6 456.1,37.2 445.1,42.8 434,48.5 423,53.9 412,59.4 400.9,64.7" fill="url(#c02g16)" stroke="url(#c02g16)"/><polygon points="400.9,64.7 412,59.4 423,53.9 434,48.5 445.1,42.8 456.1,37.2 467.1,31.6 467.9,32.7 456.9,38.4 445.8,44 434.8,49.7 423.8,55.1 412.7,60.6 401.7,65.9" fill="url(#c02g17)" stroke="url(#c02g17)"/><polygon points="401.7,65.9 412.7,60.6 423.8,55.1 434.8,49.7 445.8,44 456.9,38.4 467.9,32.7 468.7,33.9 457.7,39.5 446.6,45.2 435.6,50.9 424.6,56.4 413.5,61.9 402.5,67.2" fill="url(#c02g18)" stroke="url(#c02g18)"/><polygon points="402.5,67.2 413.5,61.9 424.6,56.4 435.6,50.9 446.6,45.2 457.7,39.5 468.7,33.9 469.5,35 458.5,40.6 447.4,46.4 436.4,52.1 425.4,57.6 414.3,63.1 403.3,68.4" fill="url(#c02g19)" stroke="url(#c02g19)"/><polygon points="403.3,68.4 414.3,63.1 425.4,57.6 436.4,52.1 447.4,46.4 458.5,40.6 469.5,35 470.3,36.1 459.3,41.8 448.2,47.5 437.2,53.3 426.2,58.8 415.1,64.3 404.1,69.6" fill="url(#c02g20)" stroke="url(#c02g20)"/><polygon points="404.1,69.6 415.1,64.3 426.2,58.8 437.2,53.3 448.2,47.5 459.3,41.8 470.3,36.1 471.1,37.2 460.1,42.9 449,48.6 438,54.4 427,59.9 415.9,65.4 404.9,70.7" fill="url(#c02g21)" stroke="url(#c02g21)"/><polygon points="404.9,70.7 415.9,65.4 427,59.9 438,54.4 449,48.6 460.1,42.9 471.1,37.2 471.9,38.3 460.9,44 449.8,49.8 438.8,55.6 427.8,61.1 416.7,66.6 405.7,71.9" fill="url(#c02g22)" stroke="url(#c02g22)"/><polygon points="405.7,71.9 416.7,66.6 427.8,61.1 438.8,55.6 449.8,49.8 460.9,44 471.9,38.3 472.7,39.4 461.7,45.1 450.6,50.9 439.6,56.7 428.6,62.2 417.5,67.7 406.5,72.9" fill="url(#c02g23)" stroke="url(#c02g23)"/><polygon points="406.5,72.9 417.5,67.7 428.6,62.2 439.6,56.7 450.6,50.9 461.7,45.1 472.7,39.4 473.5,40.5 462.4,46.2 451.4,52 440.4,57.8 429.3,63.3 418.3,68.8 407.3,74" fill="url(#c02g24)" stroke="url(#c02g24)"/><polygon points="407.3,74 418.3,68.8 429.3,63.3 440.4,57.8 451.4,52 462.4,46.2 473.5,40.5 474.3,41.5 463.2,47.3 452.2,53 441.2,58.9 430.1,64.4 419.1,69.9 408.1,75" fill="url(#c02g25)" stroke="url(#c02g25)"/><polygon points="408.1,75 419.1,69.9 430.1,64.4 441.2,58.9 452.2,53 463.2,47.3 474.3,41.5 475.1,42.6 464,48.3 453,54.1 442,60 430.9,65.4 419.9,70.9 408.9,76.1" fill="url(#c02g26)" stroke="url(#c02g26)"/><polygon points="408.9,76.1 419.9,70.9 430.9,65.4 442,60 453,54.1 464,48.3 475.1,42.6 475.9,43.7 464.8,49.4 453.8,55.2 442.8,61 431.7,66.5 420.7,71.9 409.7,77" fill="url(#c02g27)" stroke="url(#c02g27)"/><polygon points="409.7,77 420.7,71.9 431.7,66.5 442.8,61 453.8,55.2 464.8,49.4 475.9,43.7 476.7,44.7 465.6,50.4 454.6,56.2 443.6,62.1 432.5,67.5 421.5,72.9 410.5,78" fill="url(#c02g28)" stroke="url(#c02g28)"/><polygon points="410.5,78 421.5,72.9 432.5,67.5 443.6,62.1 454.6,56.2 465.6,50.4 476.7,44.7 477.5,45.8 466.4,51.5 455.4,57.2 444.4,63.1 433.3,68.5 422.3,73.9 411.3,78.9" fill="url(#c02g29)" stroke="url(#c02g29)"/><polygon points="411.3,78.9 422.3,73.9 433.3,68.5 444.4,63.1 455.4,57.2 466.4,51.5 477.5,45.8 478.3,46.8 467.2,52.5 456.2,58.3 445.2,64.1 434.1,69.5 423.1,74.9 412.1,79.9" fill="url(#c02g30)" stroke="url(#c02g30)"/><polygon points="412.1,79.9 423.1,74.9 434.1,69.5 445.2,64.1 456.2,58.3 467.2,52.5 478.3,46.8 479.1,47.8 468,53.5 457,59.3 446,65.1 434.9,70.4 423.9,75.8 412.9,80.7" fill="url(#c02g31)" stroke="url(#c02g31)"/><polygon points="412.9,80.7 423.9,75.8 434.9,70.4 446,65.1 457,59.3 468,53.5 479.1,47.8 479.8,48.8 468.8,54.5 457.8,60.3 446.7,66.1 435.7,71.4 424.7,76.7 413.6,81.6" fill="url(#c02g32)" stroke="url(#c02g32)"/><polygon points="413.6,81.6 424.7,76.7 435.7,71.4 446.7,66.1 457.8,60.3 468.8,54.5 479.8,48.8 480.6,49.9 469.6,55.5 458.6,61.2 447.5,67.1 436.5,72.3 425.5,77.6 414.4,82.5" fill="url(#c02g33)" stroke="url(#c02g33)"/><polygon points="414.4,82.5 425.5,77.6 436.5,72.3 447.5,67.1 458.6,61.2 469.6,55.5 480.6,49.9 481.4,50.9 470.4,56.5 459.4,62.2 448.3,68 437.3,73.2 426.3,78.5 415.2,83.3" fill="url(#c02g34)" stroke="url(#c02g34)"/><polygon points="415.2,83.3 426.3,78.5 437.3,73.2 448.3,68 459.4,62.2 470.4,56.5 481.4,50.9 482.2,51.9 471.2,57.5 460.2,63.2 449.1,69 438.1,74.2 427.1,79.4 416,84.1" fill="url(#c02g35)" stroke="url(#c02g35)"/><polygon points="416,84.1 427.1,79.4 438.1,74.2 449.1,69 460.2,63.2 471.2,57.5 482.2,51.9 483,52.9 472,58.5 461,64.1 449.9,69.9 438.9,75 427.9,80.2 416.8,84.9" fill="url(#c02g36)" stroke="url(#c02g36)"/><polygon points="416.8,84.9 427.9,80.2 438.9,75 449.9,69.9 461,64.1 472,58.5 483,52.9 483.8,53.9 472.8,59.4 461.8,65.1 450.7,70.9 439.7,75.9 428.7,81.1 417.6,85.7" fill="url(#c02g37)" stroke="url(#c02g37)"/><polygon points="417.6,85.7 428.7,81.1 439.7,75.9 450.7,70.9 461.8,65.1 472.8,59.4 483.8,53.9 484.6,54.8 473.6,60.4 462.6,66 451.5,71.8 440.5,76.8 429.5,81.9 418.4,86.4" fill="url(#c02g38)" stroke="url(#c02g38)"/><polygon points="418.4,86.4 429.5,81.9 440.5,76.8 451.5,71.8 462.6,66 473.6,60.4 484.6,54.8 485.4,55.8 474.4,61.3 463.3,66.9 452.3,72.7 441.3,77.6 430.2,82.7 419.2,87.2" fill="url(#c02g39)" stroke="url(#c02g39)"/><polygon points="419.2,87.2 430.2,82.7 441.3,77.6 452.3,72.7 463.3,66.9 474.4,61.3 485.4,55.8 486.2,56.8 475.2,62.3 464.1,67.8 453.1,73.6 442.1,78.5 431,83.5 420,87.9" fill="url(#c02g40)" stroke="url(#c02g40)"/><polygon points="420,87.9 431,83.5 442.1,78.5 453.1,73.6 464.1,67.8 475.2,62.3 486.2,56.8 487,57.7 476,63.2 464.9,68.7 453.9,74.4 442.9,79.3 431.8,84.3 420.8,88.6" fill="url(#c02g41)" stroke="url(#c02g41)"/><polygon points="420.8,88.6 431.8,84.3 442.9,79.3 453.9,74.4 464.9,68.7 476,63.2 487,57.7 487.8,58.7 476.8,64.1 465.7,69.6 454.7,75.3 443.7,80.1 432.6,85 421.6,89.3" fill="url(#c02g42)" stroke="url(#c02g42)"/><polygon points="421.6,89.3 432.6,85 443.7,80.1 454.7,75.3 465.7,69.6 476.8,64.1 487.8,58.7 488.6,59.6 477.6,65 466.5,70.5 455.5,76.2 444.5,80.9 433.4,85.8 422.4,90" fill="url(#c02g43)" stroke="url(#c02g43)"/><polygon points="422.4,90 433.4,85.8 444.5,80.9 455.5,76.2 466.5,70.5 477.6,65 488.6,59.6 489.4,60.6 478.4,65.9 467.3,71.4 456.3,77 445.3,81.7 434.2,86.5 423.2,90.6" fill="url(#c02g44)" stroke="url(#c02g44)"/><polygon points="423.2,90.6 434.2,86.5 445.3,81.7 456.3,77 467.3,71.4 478.4,65.9 489.4,60.6 490.2,61.5 479.2,66.8 468.1,72.3 457.1,77.9 446.1,82.5 435,87.3 424,91.3" fill="url(#c02g45)" stroke="url(#c02g45)"/><polygon points="424,91.3 435,87.3 446.1,82.5 457.1,77.9 468.1,72.3 479.2,66.8 490.2,61.5 491,62.4 479.9,67.7 468.9,73.1 457.9,78.7 446.8,83.3 435.8,88 424.8,92" fill="url(#c02g46)" stroke="url(#c02g46)"/><polygon points="424.8,92 435.8,88 446.8,83.3 457.9,78.7 468.9,73.1 479.9,67.7 491,62.4 491.8,63.4 480.7,68.6 469.7,74 458.7,79.5 447.6,84.1 436.6,88.7 425.6,92.6" fill="url(#c02g47)" stroke="url(#c02g47)"/><polygon points="425.6,92.6 436.6,88.7 447.6,84.1 458.7,79.5 469.7,74 480.7,68.6 491.8,63.4 492.6,64.3 481.5,69.5 470.5,74.8 459.5,80.3 448.4,84.8 437.4,89.4 426.4,93.2" fill="url(#c02g48)" stroke="url(#c02g48)"/><polygon points="426.4,93.2 437.4,89.4 448.4,84.8 459.5,80.3 470.5,74.8 481.5,69.5 492.6,64.3 493.4,65.2 482.3,70.3 471.3,75.6 460.3,81.2 449.2,85.6 438.2,90.1 427.2,93.9" fill="url(#c02g49)" stroke="url(#c02g49)"/><polygon points="427.2,93.9 438.2,90.1 449.2,85.6 460.3,81.2 471.3,75.6 482.3,70.3 493.4,65.2 494.2,66.1 483.1,71.2 472.1,76.5 461.1,82 450,86.3 439,90.8 428,94.5" fill="url(#c02g50)" stroke="url(#c02g50)"/><polygon points="428,94.5 439,90.8 450,86.3 461.1,82 472.1,76.5 483.1,71.2 494.2,66.1 495,67 483.9,72.1 472.9,77.3 461.9,82.8 450.8,87.1 439.8,91.5 428.8,95.1" fill="url(#c02g51)" stroke="url(#c02g51)"/><polygon points="428.8,95.1 439.8,91.5 450.8,87.1 461.9,82.8 472.9,77.3 483.9,72.1 495,67 495.8,67.8 484.7,72.9 473.7,78.1 462.7,83.6 451.6,87.8 440.6,92.2 429.6,95.7" fill="url(#c02g52)" stroke="url(#c02g52)"/><polygon points="429.6,95.7 440.6,92.2 451.6,87.8 462.7,83.6 473.7,78.1 484.7,72.9 495.8,67.8 496.5,68.7 485.5,73.7 474.5,78.9 463.4,84.3 452.4,88.6 441.4,92.9 430.3,96.3" fill="url(#c02g53)" stroke="url(#c02g53)"/><polygon points="430.3,96.3 441.4,92.9 452.4,88.6 463.4,84.3 474.5,78.9 485.5,73.7 496.5,68.7 497.3,69.6 486.3,74.6 475.3,79.7 464.2,85.1 453.2,89.3 442.2,93.6 431.1,96.9" fill="url(#c02g54)" stroke="url(#c02g54)"/><polygon points="431.1,96.9 442.2,93.6 453.2,89.3 464.2,85.1 475.3,79.7 486.3,74.6 497.3,69.6 498.1,70.4 487.1,75.4 476.1,80.5 465,85.9 454,90 443,94.2 431.9,97.5" fill="url(#c02g55)" stroke="url(#c02g55)"/><polygon points="431.9,97.5 443,94.2 454,90 465,85.9 476.1,80.5 487.1,75.4 498.1,70.4 498.9,71.3 487.9,76.2 476.9,81.3 465.8,86.7 454.8,90.7 443.8,94.9 432.7,98.1" fill="url(#c02g56)" stroke="url(#c02g56)"/><polygon points="432.7,98.1 443.8,94.9 454.8,90.7 465.8,86.7 476.9,81.3 487.9,76.2 498.9,71.3 499.7,72.1 488.7,77 477.7,82.1 466.6,87.5 455.6,91.4 444.6,95.6 433.5,98.7" fill="url(#c02g57)" stroke="url(#c02g57)"/><polygon points="433.5,98.7 444.6,95.6 455.6,91.4 466.6,87.5 477.7,82.1 488.7,77 499.7,72.1 500.5,73 489.5,77.9 478.5,82.9 467.4,88.2 456.4,92.2 445.4,96.2 434.3,99.2" fill="url(#c02g58)" stroke="url(#c02g58)"/><polygon points="434.3,99.2 445.4,96.2 456.4,92.2 467.4,88.2 478.5,82.9 489.5,77.9 500.5,73 501.3,73.8 490.3,78.7 479.3,83.7 468.2,89 457.2,92.9 446.2,96.9 435.1,99.8" fill="url(#c02g59)" stroke="url(#c02g59)"/><polygon points="435.1,99.8 446.2,96.9 457.2,92.9 468.2,89 479.3,83.7 490.3,78.7 501.3,73.8 502.1,74.6 491.1,79.5 480,84.5 469,89.7 458,93.6 446.9,97.6 435.9,100.4" fill="url(#c02g60)" stroke="url(#c02g60)"/><polygon points="435.9,100.4 446.9,97.6 458,93.6 469,89.7 480,84.5 491.1,79.5 502.1,74.6 502.9,75.5 491.9,80.3 480.8,85.2 469.8,90.5 458.8,94.3 447.7,98.2 436.7,101" fill="url(#c02g61)" stroke="url(#c02g61)"/><polygon points="436.7,101 447.7,98.2 458.8,94.3 469.8,90.5 480.8,85.2 491.9,80.3 502.9,75.5 503.7,76.3 492.7,81 481.6,86 470.6,91.3 459.6,95 448.5,98.9 437.5,101.6" fill="url(#c02g62)" stroke="url(#c02g62)"/><polygon points="437.5,101.6 448.5,98.9 459.6,95 470.6,91.3 481.6,86 492.7,81 503.7,76.3 504.5,77.1 493.5,81.8 482.4,86.8 471.4,92 460.4,95.7 449.3,99.6 438.3,102.2" fill="url(#c02g63)" stroke="url(#c02g63)"/><g fill="none" stroke="#000" stroke-width="0.5"><polyline stroke-opacity="0.27" points="387.4,37.06 403.95,30.63 420.5,24.19 437.05,17.75 453.6,11.31"/><polyline stroke-opacity="0.27" points="387.93,38.38 404.48,31.82 421.03,25.27 437.58,18.71 454.13,12.15"/><polyline stroke-opacity="0.27" points="388.46,39.67 405.01,33 421.56,26.33 438.11,19.66 454.66,12.98"/><polyline stroke-opacity="0.27" points="388.99,40.95 405.54,34.17 422.09,27.39 438.64,20.6 455.19,13.81"/><polyline stroke-opacity="0.27" points="389.52,42.2 406.07,35.32 422.62,28.44 439.17,21.53 455.72,14.63"/><polyline stroke-opacity="0.27" points="390.05,43.43 406.6,36.46 423.15,29.47 439.7,22.46 456.25,15.46"/><polyline stroke-opacity="0.27" points="390.58,44.65 407.13,37.58 423.68,30.5 440.23,23.38 456.78,16.27"/><polyline stroke-opacity="0.27" points="391.11,45.84 407.66,38.68 424.21,31.51 440.76,24.3 457.31,17.09"/><polyline stroke-opacity="0.27" points="391.64,47.01 408.19,39.77 424.74,32.51 441.29,25.2 457.84,17.9"/><polyline stroke-opacity="0.27" points="392.17,48.17 408.72,40.85 425.27,33.51 441.82,26.1 458.37,18.71"/><polyline stroke-opacity="0.27" points="392.7,49.3 409.25,41.91 425.8,34.49 442.35,27 458.9,19.52"/><polyline stroke-opacity="0.27" points="393.23,50.42 409.78,42.96 426.33,35.46 442.88,27.88 459.43,20.32"/><polyline stroke-opacity="0.27" points="393.76,51.52 410.31,43.99 426.86,36.42 443.41,28.76 459.96,21.12"/><polyline stroke-opacity="0.27" points="394.29,52.6 410.84,45.01 427.39,37.38 443.94,29.63 460.49,21.92"/><polyline stroke-opacity="0.27" points="394.82,53.66 411.37,46.02 427.92,38.32 444.47,30.5 461.02,22.71"/><polyline stroke-opacity="0.27" points="395.35,54.7 411.9,47.01 428.45,39.25 445,31.36 461.55,23.5"/><polyline stroke-opacity="0.27" points="395.88,55.73 412.43,47.98 428.98,40.17 445.53,32.21 462.08,24.29"/><polyline stroke-opacity="0.27" points="396.41,56.74 412.96,48.95 429.51,41.08 446.06,33.06 462.61,25.07"/><polyline stroke-opacity="0.27" points="396.94,57.73 413.49,49.9 430.04,41.99 446.59,33.9 463.14,25.86"/><polyline stroke-opacity="0.27" points="397.47,58.71 414.02,50.84 430.57,42.88 447.12,34.73 463.67,26.63"/><polyline stroke-opacity="0.27" points="398,59.67 414.55,51.76 431.1,43.76 447.65,35.56 464.2,27.41"/><polyline stroke-opacity="0.27" points="398.53,60.61 415.08,52.67 431.63,44.64 448.18,36.38 464.73,28.18"/><polyline stroke-opacity="0.27" points="399.06,61.53 415.61,53.57 432.16,45.5 448.71,37.2 465.26,28.95"/><polyline stroke-opacity="0.27" points="399.59,62.44 416.14,54.46 432.69,46.36 449.24,38 465.79,29.71"/><polyline stroke-opacity="0.27" points="400.12,63.34 416.68,55.33 433.23,47.21 449.78,38.81 466.33,30.48"/><polyline stroke-opacity="0.27" points="400.66,64.22 417.21,56.2 433.76,48.04 450.31,39.6 466.86,31.24"/><polyline stroke-opacity="0.27" points="401.19,65.08 417.74,57.05 434.29,48.87 450.84,40.39 467.39,31.99"/><polyline stroke-opacity="0.27" points="401.72,65.93 418.27,57.88 434.82,49.69 451.37,41.18 467.92,32.74"/><polyline stroke-opacity="0.27" points="402.25,66.77 418.8,58.71 435.35,50.5 451.9,41.96 468.45,33.49"/><polyline stroke-opacity="0.27" points="402.78,67.59 419.33,59.53 435.88,51.31 452.43,42.73 468.98,34.24"/><polyline stroke-opacity="0.27" points="403.31,68.39 419.86,60.33 436.41,52.1 452.96,43.5 469.51,34.98"/><polyline stroke-opacity="0.27" points="403.84,69.19 420.39,61.13 436.94,52.89 453.49,44.26 470.04,35.72"/><polyline stroke-opacity="0.27" points="404.37,69.96 420.92,61.91 437.47,53.67 454.02,45.01 470.57,36.46"/><polyline stroke-opacity="0.27" points="404.9,70.73 421.45,62.68 438,54.44 454.55,45.76 471.1,37.19"/><polyline stroke-opacity="0.27" points="405.43,71.48 421.98,63.44 438.53,55.2 455.08,46.51 471.63,37.92"/><polyline stroke-opacity="0.27" points="405.96,72.22 422.51,64.19 439.06,55.96 455.61,47.25 472.16,38.65"/><polyline stroke-opacity="0.27" points="406.49,72.94 423.04,64.94 439.59,56.71 456.14,47.98 472.69,39.38"/><polyline stroke-opacity="0.27" points="407.02,73.66 423.57,65.67 440.12,57.45 456.67,48.71 473.22,40.1"/><polyline stroke-opacity="0.27" points="407.55,74.36 424.1,66.39 440.65,58.18 457.2,49.43 473.75,40.82"/><polyline stroke-opacity="0.27" points="408.08,75.05 424.63,67.1 441.18,58.91 457.73,50.15 474.28,41.53"/><polyline stroke-opacity="0.27" points="408.61,75.73 425.16,67.8 441.71,59.62 458.26,50.86 474.81,42.24"/><polyline stroke-opacity="0.27" points="409.14,76.39 425.69,68.5 442.24,60.33 458.79,51.57 475.34,42.95"/><polyline stroke-opacity="0.27" points="409.67,77.05 426.22,69.18 442.77,61.04 459.32,52.27 475.87,43.66"/><polyline stroke-opacity="0.27" points="410.2,77.69 426.75,69.86 443.3,61.74 459.85,52.97 476.4,44.36"/><polyline stroke-opacity="0.27" points="410.73,78.32 427.28,70.52 443.83,62.43 460.38,53.66 476.93,45.06"/><polyline stroke-opacity="0.27" points="411.26,78.94 427.81,71.18 444.36,63.11 460.91,54.35 477.46,45.75"/><polyline stroke-opacity="0.27" points="411.79,79.55 428.34,71.83 444.89,63.79 461.44,55.03 477.99,46.45"/><polyline stroke-opacity="0.27" points="412.32,80.16 428.87,72.47 445.42,64.46 461.97,55.71 478.52,47.14"/><polyline stroke-opacity="0.27" points="412.85,80.75 429.4,73.11 445.95,65.13 462.5,56.38 479.05,47.82"/><polyline stroke-opacity="0.27" points="413.38,81.33 429.93,73.73 446.48,65.78 463.03,57.05 479.58,48.51"/><polyline stroke-opacity="0.27" points="413.91,81.9 430.46,74.35 447.01,66.44 463.56,57.71 480.11,49.19"/><polyline stroke-opacity="0.27" points="414.44,82.46 430.99,74.96 447.54,67.08 464.09,58.37 480.64,49.86"/><polyline stroke-opacity="0.27" points="414.97,83.02 431.52,75.56 448.07,67.73 464.62,59.03 481.17,50.54"/><polyline stroke-opacity="0.27" points="415.5,83.56 432.05,76.16 448.6,68.36 465.15,59.68 481.7,51.21"/><polyline stroke-opacity="0.27" points="416.03,84.1 432.58,76.75 449.13,68.99 465.68,60.32 482.23,51.88"/><polyline stroke-opacity="0.27" points="416.56,84.63 433.11,77.33 449.66,69.62 466.21,60.96 482.76,52.54"/><polyline stroke-opacity="0.27" points="417.09,85.15 433.64,77.91 450.19,70.24 466.74,61.6 483.29,53.2"/><polyline stroke-opacity="0.27" points="417.62,85.66 434.17,78.48 450.72,70.85 467.27,62.23 483.82,53.86"/><polyline stroke-opacity="0.27" points="418.15,86.17 434.7,79.04 451.25,71.46 467.8,62.86 484.35,54.52"/><polyline stroke-opacity="0.27" points="418.68,86.67 435.23,79.6 451.78,72.06 468.33,63.49 484.88,55.17"/><polyline stroke-opacity="0.27" points="419.21,87.16 435.76,80.15 452.31,72.66 468.86,64.11 485.41,55.82"/><polyline stroke-opacity="0.27" points="419.74,87.64 436.29,80.69 452.84,73.26 469.39,64.73 485.94,56.46"/><polyline stroke-opacity="0.27" points="420.27,88.12 436.82,81.24 453.37,73.85 469.92,65.34 486.47,57.11"/><polyline stroke-opacity="0.27" points="420.8,88.59 437.35,81.77 453.9,74.43 470.45,65.95 487,57.75"/><polyline stroke-opacity="0.27" points="421.33,89.06 437.88,82.3 454.43,75.01 470.98,66.55 487.53,58.38"/><polyline stroke-opacity="0.27" points="421.86,89.52 438.41,82.82 454.96,75.59 471.51,67.15 488.06,59.01"/><polyline stroke-opacity="0.27" points="422.39,89.97 438.94,83.34 455.49,76.16 472.04,67.75 488.59,59.64"/><polyline stroke-opacity="0.27" points="422.92,90.42 439.47,83.86 456.02,76.73 472.57,68.35 489.12,60.27"/><polyline stroke-opacity="0.27" points="423.45,90.87 440,84.37 456.55,77.3 473.1,68.94 489.65,60.89"/><polyline stroke-opacity="0.27" points="423.98,91.31 440.53,84.88 457.08,77.86 473.63,69.53 490.18,61.52"/><polyline stroke-opacity="0.27" points="424.51,91.74 441.06,85.38 457.61,78.42 474.16,70.11 490.71,62.13"/><polyline stroke-opacity="0.27" points="425.04,92.17 441.59,85.88 458.14,78.97 474.69,70.69 491.24,62.75"/><polyline stroke-opacity="0.27" points="425.57,92.6 442.12,86.37 458.68,79.52 475.23,71.27 491.78,63.36"/><polyline stroke-opacity="0.27" points="426.11,93.02 442.66,86.86 459.21,80.07 475.76,71.84 492.31,63.97"/><polyline stroke-opacity="0.27" points="426.64,93.44 443.19,87.35 459.74,80.61 476.29,72.41 492.84,64.57"/><polyline stroke-opacity="0.27" points="427.17,93.85 443.72,87.84 460.27,81.15 476.82,72.98 493.37,65.17"/><polyline stroke-opacity="0.27" points="427.7,94.27 444.25,88.32 460.8,81.69 477.35,73.54 493.9,65.77"/><polyline stroke-opacity="0.27" points="428.23,94.67 444.78,88.8 461.33,82.23 477.88,74.11 494.43,66.37"/><polyline stroke-opacity="0.27" points="428.76,95.08 445.31,89.27 461.86,82.76 478.41,74.66 494.96,66.96"/><polyline stroke-opacity="0.27" points="429.29,95.48 445.84,89.75 462.39,83.29 478.94,75.22 495.49,67.55"/><polyline stroke-opacity="0.27" points="429.82,95.89 446.37,90.22 462.92,83.82 479.47,75.77 496.02,68.13"/><polyline stroke-opacity="0.27" points="430.35,96.29 446.9,90.69 463.45,84.34 480,76.32 496.55,68.72"/><polyline stroke-opacity="0.27" points="430.88,96.68 447.43,91.15 463.98,84.87 480.53,76.87 497.08,69.29"/><polyline stroke-opacity="0.27" points="431.41,97.08 447.96,91.62 464.51,85.39 481.06,77.42 497.61,69.87"/><polyline stroke-opacity="0.27" points="431.94,97.47 448.49,92.08 465.04,85.91 481.59,77.96 498.14,70.44"/><polyline stroke-opacity="0.27" points="432.47,97.87 449.02,92.55 465.57,86.42 482.12,78.5 498.67,71.01"/><polyline stroke-opacity="0.27" points="433,98.26 449.55,93.01 466.1,86.94 482.65,79.03 499.2,71.58"/><polyline stroke-opacity="0.27" points="433.53,98.66 450.08,93.47 466.63,87.45 483.18,79.57 499.73,72.15"/><polyline stroke-opacity="0.27" points="434.06,99.05 450.61,93.93 467.16,87.96 483.71,80.1 500.26,72.71"/><polyline stroke-opacity="0.27" points="434.59,99.44 451.14,94.39 467.69,88.47 484.24,80.63 500.79,73.26"/><polyline stroke-opacity="0.27" points="435.12,99.83 451.67,94.85 468.22,88.98 484.77,81.16 501.32,73.82"/><polyline stroke-opacity="0.27" points="435.65,100.23 452.2,95.3 468.75,89.49 485.3,81.68 501.85,74.37"/><polyline stroke-opacity="0.27" points="436.18,100.62 452.73,95.76 469.28,90 485.83,82.21 502.38,74.92"/><polyline stroke-opacity="0.27" points="436.71,101.01 453.26,96.22 469.81,90.51 486.36,82.73 502.91,75.46"/><polyline stroke-opacity="0.27" points="437.24,101.41 453.79,96.68 470.34,91.01 486.89,83.25 503.44,76"/><polyline stroke-opacity="0.27" points="437.77,101.81 454.32,97.14 470.87,91.52 487.42,83.77 503.97,76.54"/><polyline stroke-opacity="0.27" points="438.3,102.21 454.85,97.59 471.4,92.02 487.95,84.28 504.5,77.08"/></g><g fill="none" stroke="#000" stroke-opacity="0.2" stroke-width="0.35"><polyline points="387.4,37.06 391.64,47.01 395.88,55.73 400.12,63.34 404.37,69.96 408.61,75.73 412.85,80.75 417.09,85.15 421.33,89.06 425.57,92.6 429.82,95.89 434.06,99.05 438.3,102.21"/><polyline points="388.72,36.55 392.97,46.44 397.21,55.12 401.45,62.72 405.69,69.34 409.93,75.13 414.17,80.18 418.42,84.63 422.66,88.59 426.9,92.19 431.14,95.53 435.38,98.75 439.62,101.97"/><polyline points="390.05,36.03 394.29,45.86 398.53,54.51 402.77,62.09 407.01,68.72 411.26,74.52 415.5,79.61 419.74,84.1 423.98,88.11 428.22,91.76 432.46,95.16 436.71,98.44 440.95,101.71"/><polyline points="391.37,35.52 395.61,45.28 399.86,53.89 404.1,61.46 408.34,68.09 412.58,73.91 416.82,79.03 421.06,83.56 425.31,87.62 429.55,91.32 433.79,94.78 438.03,98.11 442.27,101.43"/><polyline points="392.7,35 396.94,44.71 401.18,53.28 405.42,60.83 409.66,67.46 413.9,73.3 418.15,78.44 422.39,83.01 426.63,87.11 430.87,90.86 435.11,94.37 439.35,97.76 443.6,101.13"/><polyline points="394.02,34.49 398.26,44.13 402.5,52.66 406.75,60.19 410.99,66.83 415.23,72.68 419.47,77.85 423.71,82.45 427.95,86.6 432.19,90.4 436.44,93.96 440.68,97.39 444.92,100.8"/><polyline points="395.34,33.97 399.59,43.55 403.83,52.04 408.07,59.56 412.31,66.19 416.55,72.05 420.79,77.25 425.04,81.88 429.28,86.07 433.52,89.92 437.76,93.52 442,97.01 446.24,100.46"/><polyline points="396.67,33.46 400.91,42.97 405.15,51.42 409.39,58.92 413.63,65.55 417.88,71.42 422.12,76.64 426.36,81.31 430.6,85.53 434.84,89.42 439.08,93.08 443.33,96.6 447.57,100.1"/><polyline points="397.99,32.94 402.23,42.39 406.48,50.8 410.72,58.27 414.96,64.89 419.2,70.78 423.44,76.01 427.68,80.71 431.93,84.98 436.17,88.9 440.41,92.6 444.65,96.16 448.89,99.7"/><polyline points="399.32,32.43 403.56,41.81 407.8,50.18 412.04,57.62 416.28,64.24 420.52,70.12 424.77,75.38 429.01,80.1 433.25,84.4 437.49,88.36 441.73,92.09 445.97,95.69 450.22,99.26"/><polyline points="400.64,31.91 404.88,41.23 409.12,49.55 413.37,56.97 417.61,63.57 421.85,69.46 426.09,74.73 430.33,79.48 434.57,83.81 438.81,87.8 443.06,91.57 447.3,95.2 451.54,98.8"/><polyline points="401.96,31.4 406.21,40.65 410.45,48.93 414.69,56.32 418.93,62.91 423.17,68.8 427.41,74.08 431.66,78.85 435.9,83.21 440.14,87.23 444.38,91.03 448.62,94.7 452.86,98.32"/><polyline points="403.29,30.88 407.53,40.07 411.77,48.3 416.01,55.66 420.25,62.24 424.5,68.14 428.74,73.43 432.98,78.22 437.22,82.6 441.46,86.66 445.7,90.49 449.95,94.18 454.19,97.84"/><polyline points="404.61,30.37 408.85,39.48 413.1,47.67 417.34,55.01 421.58,61.58 425.82,67.47 430.06,72.78 434.3,77.59 438.55,82 442.79,86.09 447.03,89.95 451.27,93.67 455.51,97.35"/><polyline points="405.94,29.85 410.18,38.9 414.42,47.04 418.66,54.35 422.9,60.91 427.14,66.81 431.39,72.13 435.63,76.97 439.87,81.4 444.11,85.52 448.35,89.42 452.59,93.17 456.84,96.88"/><polyline points="407.26,29.34 411.5,38.32 415.74,46.42 419.99,53.7 424.23,60.25 428.47,66.15 432.71,71.49 436.95,76.35 441.19,80.82 445.44,84.97 449.68,88.9 453.92,92.69 458.16,96.43"/><polyline points="408.58,28.82 412.83,37.74 417.07,45.79 421.31,53.05 425.55,59.59 429.79,65.5 434.03,70.86 438.28,75.74 442.52,80.24 446.76,84.43 451,88.4 455.24,92.22 459.48,95.99"/><polyline points="409.91,28.31 414.15,37.16 418.39,45.17 422.63,52.4 426.87,58.94 431.12,64.85 435.36,70.23 439.6,75.14 443.84,79.67 448.08,83.89 452.32,87.9 456.57,91.76 460.81,95.57"/><polyline points="411.23,27.79 415.47,36.58 419.72,44.55 423.96,51.76 428.2,58.28 432.44,64.2 436.68,69.59 440.92,74.53 445.17,79.09 449.41,83.36 453.65,87.4 457.89,91.3 462.13,95.14"/><polyline points="412.56,27.28 416.8,36 421.04,43.92 425.28,51.11 429.52,57.63 433.76,63.56 438.01,68.96 442.25,73.93 446.49,78.52 450.73,82.83 454.97,86.91 459.21,90.85 463.46,94.72"/><polyline points="413.88,26.76 418.12,35.42 422.36,43.3 426.61,50.46 430.85,56.97 435.09,62.91 439.33,68.33 443.57,73.32 447.81,77.95 452.06,82.29 456.3,86.41 460.54,90.39 464.78,94.29"/><polyline points="415.2,26.25 419.45,34.84 423.69,42.68 427.93,49.81 432.17,56.32 436.41,62.26 440.65,67.7 444.9,72.72 449.14,77.38 453.38,81.75 457.62,85.91 461.86,89.92 466.1,93.86"/><polyline points="416.53,25.73 420.77,34.26 425.01,42.05 429.25,49.16 433.49,55.66 437.74,61.6 441.98,67.07 446.22,72.11 450.46,76.8 454.7,81.21 458.94,85.41 463.19,89.45 467.43,93.42"/><polyline points="417.85,25.22 422.09,33.68 426.34,41.43 430.58,48.51 434.82,55 439.06,60.95 443.3,66.43 447.54,71.49 451.79,76.21 456.03,80.66 460.27,84.89 464.51,88.97 468.75,92.97"/><polyline points="419.18,24.7 423.42,33.1 427.66,40.8 431.9,47.86 436.14,54.34 440.38,60.29 444.63,65.78 448.87,70.87 453.11,75.62 457.35,80.1 461.59,84.36 465.83,88.48 470.08,92.51"/><polyline points="420.5,24.19 424.74,32.51 428.98,40.17 433.23,47.21 437.47,53.67 441.71,59.62 445.95,65.13 450.19,70.24 454.43,75.01 458.68,79.52 462.92,83.82 467.16,87.96 471.4,92.02"/><polyline points="421.82,23.67 426.07,31.93 430.31,39.54 434.55,46.54 438.79,52.99 443.03,58.94 447.27,64.45 451.52,69.58 455.76,74.38 460,78.91 464.24,83.23 468.48,87.4 472.72,91.47"/><polyline points="423.15,23.16 427.39,31.35 431.63,38.9 435.87,45.87 440.11,52.3 444.36,58.25 448.6,63.76 452.84,68.89 457.08,73.71 461.32,78.26 465.56,82.6 469.81,86.78 474.05,90.87"/><polyline points="424.47,22.64 428.71,30.76 432.96,38.27 437.2,45.2 441.44,51.61 445.68,57.54 449.92,63.05 454.16,68.2 458.41,73.02 462.65,77.59 466.89,81.94 471.13,86.14 475.37,90.23"/><polyline points="425.8,22.13 430.04,30.18 434.28,37.63 438.52,44.52 442.76,50.91 447,56.83 451.25,62.34 455.49,67.49 459.73,72.32 463.97,76.9 468.21,81.27 472.45,85.47 476.7,89.57"/><polyline points="427.12,21.61 431.36,29.59 435.6,36.99 439.85,43.84 444.09,50.2 448.33,56.11 452.57,61.62 456.81,66.77 461.05,71.62 465.3,76.21 469.54,80.58 473.78,84.8 478.02,88.9"/><polyline points="428.44,21.1 432.69,29 436.93,36.35 441.17,43.17 445.41,49.5 449.65,55.4 453.89,60.9 458.14,66.06 462.38,70.92 466.62,75.52 470.86,79.91 475.1,84.13 479.34,88.24"/><polyline points="429.77,20.58 434.01,28.42 438.25,35.71 442.49,42.49 446.73,48.8 450.98,54.69 455.22,60.2 459.46,65.36 463.7,70.22 467.94,74.84 472.18,79.24 476.43,83.48 480.67,87.59"/><polyline points="431.09,20.07 435.33,27.83 439.58,35.07 443.82,41.82 448.06,48.11 452.3,53.99 456.54,59.5 460.78,64.67 465.03,69.55 469.27,74.18 473.51,78.6 477.75,82.85 481.99,86.98"/><polyline points="432.42,19.55 436.66,27.25 440.9,34.44 445.14,41.15 449.38,47.42 453.62,53.3 457.87,58.8 462.11,63.99 466.35,68.88 470.59,73.53 474.83,77.97 479.07,82.24 483.32,86.38"/><polyline points="433.74,19.04 437.98,26.66 442.22,33.8 446.47,40.48 450.71,46.73 454.95,52.6 459.19,58.11 463.43,63.3 467.67,68.22 471.92,72.88 476.16,77.34 480.4,81.63 484.64,85.77"/><polyline points="435.06,18.52 439.31,26.08 443.55,33.17 447.79,39.81 452.03,46.05 456.27,51.9 460.51,57.42 464.76,62.62 469,67.55 473.24,72.24 477.48,76.71 481.72,81.01 485.96,85.18"/><polyline points="436.39,18.01 440.63,25.49 444.87,32.53 449.11,39.14 453.35,45.36 457.6,51.21 461.84,56.73 466.08,61.94 470.32,66.89 474.56,71.59 478.8,76.09 483.05,80.4 487.29,84.58"/><polyline points="437.71,17.49 441.95,24.91 446.2,31.9 450.44,38.47 454.68,44.67 458.92,50.51 463.16,56.04 467.4,61.26 471.65,66.22 475.89,70.94 480.13,75.46 484.37,79.8 488.61,83.99"/><polyline points="439.04,16.98 443.28,24.33 447.52,31.26 451.76,37.8 456,43.98 460.24,49.82 464.49,55.35 468.73,60.58 472.97,65.56 477.21,70.3 481.45,74.84 485.69,79.19 489.94,83.39"/><polyline points="440.36,16.46 444.6,23.74 448.84,30.63 453.09,37.14 457.33,43.3 461.57,49.13 465.81,54.66 470.05,59.91 474.29,64.9 478.54,69.66 482.78,74.22 487.02,78.59 491.26,82.8"/><polyline points="441.68,15.95 445.93,23.16 450.17,29.99 454.41,36.47 458.65,42.61 462.89,48.44 467.13,53.97 471.38,59.23 475.62,64.24 479.86,69.02 484.1,73.6 488.34,77.99 492.58,82.22"/><polyline points="443.01,15.43 447.25,22.57 451.49,29.36 455.73,35.8 459.97,41.92 464.22,47.74 468.46,53.28 472.7,58.55 476.94,63.58 481.18,68.38 485.42,72.98 489.67,77.39 493.91,81.63"/><polyline points="444.33,14.92 448.57,21.99 452.82,28.72 457.06,35.13 461.3,41.24 465.54,47.05 469.78,52.59 474.02,57.88 478.27,62.93 482.51,67.75 486.75,72.37 490.99,76.8 495.23,81.05"/><polyline points="445.66,14.4 449.9,21.41 454.14,28.09 458.38,34.47 462.62,40.55 466.86,46.36 471.11,51.91 475.35,57.21 479.59,62.27 483.83,67.11 488.07,71.75 492.31,76.2 496.56,80.47"/><polyline points="446.98,13.89 451.22,20.82 455.46,27.46 459.71,33.8 463.95,39.87 468.19,45.67 472.43,51.23 476.67,56.54 480.91,61.62 485.16,66.48 489.4,71.14 493.64,75.61 497.88,79.9"/><polyline points="448.3,13.37 452.55,20.24 456.79,26.82 461.03,33.14 465.27,39.19 469.51,44.99 473.75,50.54 478,55.87 482.24,60.97 486.48,65.85 490.72,70.54 494.96,75.02 499.2,79.33"/><polyline points="449.63,12.86 453.87,19.65 458.11,26.19 462.35,32.47 466.59,38.5 470.84,44.3 475.08,49.86 479.32,55.2 483.56,60.32 487.8,65.23 492.04,69.93 496.29,74.44 500.53,78.76"/><polyline points="450.95,12.34 455.19,19.07 459.44,25.56 463.68,31.8 467.92,37.82 472.16,43.61 476.4,49.18 480.64,54.53 484.89,59.67 489.13,64.6 493.37,69.33 497.61,73.86 501.85,78.2"/><polyline points="452.28,11.83 456.52,18.49 460.76,24.92 465,31.14 469.24,37.14 473.48,42.93 477.73,48.5 481.97,53.87 486.21,59.02 490.45,63.98 494.69,68.73 498.93,73.28 503.18,77.63"/><polyline points="453.6,11.31 457.84,17.9 462.08,24.29 466.33,30.48 470.57,36.46 474.81,42.24 479.05,47.82 483.29,53.2 487.53,58.38 491.78,63.36 496.02,68.13 500.26,72.71 504.5,77.08"/></g></g>
<g fill="none" stroke="#ff0000" stroke-width="1.6"><circle cx="387.1" cy="44.1" r="1.55"/><circle cx="404" cy="67" r="1.55"/><circle cx="421.1" cy="87.3" r="1.55"/><circle cx="437.8" cy="103.2" r="1.55"/><circle cx="437.2" cy="49.4" r="1.55"/><circle cx="454.4" cy="74.7" r="1.55"/><circle cx="471.2" cy="90.8" r="1.55"/><circle cx="470.4" cy="34.9" r="1.55"/><circle cx="487.3" cy="53.1" r="1.55"/><circle cx="504.3" cy="78.7" r="1.55"/></g>
<rect x="457.1" y="9.1" width="46.5" height="10.8" fill="#fff" stroke="#8a8a8a" stroke-width="0.6"/>
<circle cx="466.9" cy="14.6" r="1.55" fill="none" stroke="#ff0000" stroke-width="1.7"/>
<text transform="translate(475.7,17.3) scale(0.94,1)" font-size="7.9" fill="#151515" stroke="#151515" stroke-width="0.18">Triangle</text>
<text transform="translate(382.8,27) scale(0.94,1)" font-size="8.8" text-anchor="end">3</text>
<text transform="translate(382.8,54.4) scale(0.94,1)" font-size="8.8" text-anchor="end">2</text>
<text transform="translate(382.8,81.4) scale(0.94,1)" font-size="8.8" text-anchor="end">1</text>
<text transform="translate(382.7,89.5) scale(0.94,1)" font-size="8.8" text-anchor="end">100</text>
<text transform="translate(425.7,110.6) scale(0.94,1)" font-size="8.8" text-anchor="end">50</text>
<text transform="translate(441.9,115) scale(0.94,1)" font-size="8.8" text-anchor="start">0.4</text>
<text transform="translate(474.7,105.7) scale(0.94,1)" font-size="8.8" text-anchor="start">0.6</text>
<text transform="translate(508.4,96.4) scale(0.94,1)" font-size="8.8" text-anchor="start">0.8</text>
<text x="366.4" y="18.1" font-size="10" fill="#999">×</text>
<text transform="translate(373.1,17.9) scale(0.94,1)" font-size="8.8">10<tspan dy="-3.3" font-size="6.8">4</tspan></text></g>
<g><polyline points="54.4,172.9 120.6,154.8 171.5,179.3" fill="none" stroke="#efefef" stroke-width="0.5"/>
<polyline points="54.4,188.8 120.6,170.7 171.5,195.2" fill="none" stroke="#efefef" stroke-width="0.5"/>
<polyline points="54.4,204.7 120.6,186.6 171.5,211.1" fill="none" stroke="#efefef" stroke-width="0.5"/>
<line x1="163" y1="219.2" x2="163" y2="164.1" stroke="#efefef" stroke-width="0.5"/>
<line x1="87.5" y1="207.8" x2="87.5" y2="152.8" stroke="#efefef" stroke-width="0.5"/>
<polyline points="54.4,216.9 120.6,198.8 171.5,223.3" fill="none" stroke="#b0b0b0" stroke-width="0.6"/>
<polyline points="54.4,161.8 120.6,143.7 171.5,168.2" fill="none" stroke="#858585" stroke-width="0.7"/>
<line x1="120.6" y1="198.8" x2="120.6" y2="143.7" stroke="#858585" stroke-width="0.7"/>
<line x1="171.5" y1="223.3" x2="171.5" y2="168.2" stroke="#858585" stroke-width="0.7"/>
<line x1="54.4" y1="216.9" x2="54.4" y2="161.8" stroke="#858585" stroke-width="0.7"/>
<polyline points="54.4,216.9 105.3,241.4 171.5,223.3" fill="none" stroke="#858585" stroke-width="0.7"/>
<line x1="52.9" y1="173" x2="54.4" y2="173" stroke="#858585" stroke-width="0.6"/>
<line x1="52.9" y1="188.9" x2="54.4" y2="188.9" stroke="#858585" stroke-width="0.6"/>
<line x1="52.9" y1="204.8" x2="54.4" y2="204.8" stroke="#858585" stroke-width="0.6"/>
<line x1="105.3" y1="241.4" x2="106.6" y2="242.1" stroke="#858585" stroke-width="0.6"/>
<line x1="138.4" y1="232.4" x2="139.8" y2="233" stroke="#858585" stroke-width="0.6"/>
<line x1="171.5" y1="223.3" x2="172.8" y2="224" stroke="#858585" stroke-width="0.6"/>
<line x1="54.4" y1="216.9" x2="52.9" y2="217.3" stroke="#858585" stroke-width="0.6"/>
<line x1="96.8" y1="237.3" x2="95.4" y2="237.7" stroke="#858585" stroke-width="0.6"/>
<defs><linearGradient id="c10g0" gradientUnits="userSpaceOnUse" x1="54.8" y1="170.9" x2="121" y2="143.7"><stop offset="0" stop-color="#efb33b"/><stop offset="0.25" stop-color="#f4c033"/><stop offset="0.5" stop-color="#efcf2a"/><stop offset="0.75" stop-color="#eade23"/><stop offset="1" stop-color="#e7e717"/></linearGradient><linearGradient id="c10g1" gradientUnits="userSpaceOnUse" x1="55.6" y1="172.6" x2="121.8" y2="145.1"><stop offset="0" stop-color="#e3b331"/><stop offset="0.25" stop-color="#f4b839"/><stop offset="0.5" stop-color="#f2c72e"/><stop offset="0.75" stop-color="#ebd726"/><stop offset="1" stop-color="#e6e11c"/></linearGradient><linearGradient id="c10g2" gradientUnits="userSpaceOnUse" x1="56.4" y1="174.3" x2="122.6" y2="146.4"><stop offset="0" stop-color="#d6b528"/><stop offset="0.25" stop-color="#eeb33a"/><stop offset="0.5" stop-color="#f4bf33"/><stop offset="0.75" stop-color="#eed02a"/><stop offset="1" stop-color="#e4db21"/></linearGradient><linearGradient id="c10g3" gradientUnits="userSpaceOnUse" x1="57.2" y1="175.9" x2="123.4" y2="147.8"><stop offset="0" stop-color="#c6b826"/><stop offset="0.25" stop-color="#e2b330"/><stop offset="0.5" stop-color="#f4b838"/><stop offset="0.75" stop-color="#f1c82d"/><stop offset="1" stop-color="#e4d424"/></linearGradient><linearGradient id="c10g4" gradientUnits="userSpaceOnUse" x1="58" y1="177.6" x2="124.2" y2="149.1"><stop offset="0" stop-color="#b6bb2c"/><stop offset="0.25" stop-color="#d6b528"/><stop offset="0.5" stop-color="#efb33b"/><stop offset="0.75" stop-color="#f2c131"/><stop offset="1" stop-color="#e6ce27"/></linearGradient><linearGradient id="c10g5" gradientUnits="userSpaceOnUse" x1="58.8" y1="179.2" x2="125" y2="150.5"><stop offset="0" stop-color="#a5bf36"/><stop offset="0.25" stop-color="#c8b826"/><stop offset="0.5" stop-color="#e5b332"/><stop offset="0.75" stop-color="#f3ba36"/><stop offset="1" stop-color="#e8c72a"/></linearGradient><linearGradient id="c10g6" gradientUnits="userSpaceOnUse" x1="59.6" y1="180.7" x2="125.8" y2="151.8"><stop offset="0" stop-color="#93c143"/><stop offset="0.25" stop-color="#b9bb2b"/><stop offset="0.5" stop-color="#d9b42a"/><stop offset="0.75" stop-color="#f1b43a"/><stop offset="1" stop-color="#eac02d"/></linearGradient><linearGradient id="c10g7" gradientUnits="userSpaceOnUse" x1="60.4" y1="182.3" x2="126.6" y2="153.1"><stop offset="0" stop-color="#80c351"/><stop offset="0.25" stop-color="#a9be34"/><stop offset="0.5" stop-color="#cdb726"/><stop offset="0.75" stop-color="#e9b137"/><stop offset="1" stop-color="#ebba30"/></linearGradient><linearGradient id="c10g8" gradientUnits="userSpaceOnUse" x1="61.2" y1="183.8" x2="127.4" y2="154.4"><stop offset="0" stop-color="#6ec45f"/><stop offset="0.25" stop-color="#98c13f"/><stop offset="0.5" stop-color="#bfba28"/><stop offset="0.75" stop-color="#dfb12e"/><stop offset="1" stop-color="#ebb435"/></linearGradient><linearGradient id="c10g9" gradientUnits="userSpaceOnUse" x1="62" y1="185.3" x2="128.2" y2="155.8"><stop offset="0" stop-color="#5dc46d"/><stop offset="0.25" stop-color="#87c34c"/><stop offset="0.5" stop-color="#b0bc2f"/><stop offset="0.75" stop-color="#d3b328"/><stop offset="1" stop-color="#e9ae38"/></linearGradient><linearGradient id="c10g10" gradientUnits="userSpaceOnUse" x1="62.8" y1="186.8" x2="129" y2="157.1"><stop offset="0" stop-color="#4ec47a"/><stop offset="0.25" stop-color="#76c459"/><stop offset="0.5" stop-color="#a0bf39"/><stop offset="0.75" stop-color="#c7b525"/><stop offset="1" stop-color="#e2ab36"/></linearGradient><linearGradient id="c10g11" gradientUnits="userSpaceOnUse" x1="63.5" y1="188.2" x2="129.7" y2="158.4"><stop offset="0" stop-color="#40c285"/><stop offset="0.25" stop-color="#65c466"/><stop offset="0.5" stop-color="#90c145"/><stop offset="0.75" stop-color="#bab728"/><stop offset="1" stop-color="#d9ab2e"/></linearGradient><linearGradient id="c10g12" gradientUnits="userSpaceOnUse" x1="64.3" y1="189.7" x2="130.5" y2="159.7"><stop offset="0" stop-color="#36bf8f"/><stop offset="0.25" stop-color="#56c372"/><stop offset="0.5" stop-color="#7fc251"/><stop offset="0.75" stop-color="#acba2f"/><stop offset="1" stop-color="#d0ac28"/></linearGradient><linearGradient id="c10g13" gradientUnits="userSpaceOnUse" x1="65.1" y1="191.1" x2="131.3" y2="161"><stop offset="0" stop-color="#2fbc98"/><stop offset="0.25" stop-color="#47c17d"/><stop offset="0.5" stop-color="#6ec35d"/><stop offset="0.75" stop-color="#9dbb38"/><stop offset="1" stop-color="#c5ae25"/></linearGradient><linearGradient id="c10g14" gradientUnits="userSpaceOnUse" x1="65.9" y1="192.5" x2="132.1" y2="162.3"><stop offset="0" stop-color="#27b8a0"/><stop offset="0.25" stop-color="#3bbf87"/><stop offset="0.5" stop-color="#5fc269"/><stop offset="0.75" stop-color="#8ebd43"/><stop offset="1" stop-color="#baaf25"/></linearGradient><linearGradient id="c10g15" gradientUnits="userSpaceOnUse" x1="66.7" y1="193.9" x2="132.9" y2="163.6"><stop offset="0" stop-color="#1ab4a9"/><stop offset="0.25" stop-color="#33bc90"/><stop offset="0.5" stop-color="#50c175"/><stop offset="0.75" stop-color="#7fbe4e"/><stop offset="1" stop-color="#aeb129"/></linearGradient><linearGradient id="c10g16" gradientUnits="userSpaceOnUse" x1="67.5" y1="195.2" x2="133.7" y2="164.8"><stop offset="0" stop-color="#09afb0"/><stop offset="0.25" stop-color="#2cb898"/><stop offset="0.5" stop-color="#43bf7f"/><stop offset="0.75" stop-color="#70be59"/><stop offset="1" stop-color="#a1b330"/></linearGradient><linearGradient id="c10g17" gradientUnits="userSpaceOnUse" x1="68.3" y1="196.5" x2="134.5" y2="166.1"><stop offset="0" stop-color="#01aab6"/><stop offset="0.25" stop-color="#23b4a0"/><stop offset="0.5" stop-color="#38bd88"/><stop offset="0.75" stop-color="#61be63"/><stop offset="1" stop-color="#94b438"/></linearGradient><linearGradient id="c10g18" gradientUnits="userSpaceOnUse" x1="69.1" y1="197.8" x2="135.3" y2="167.4"><stop offset="0" stop-color="#05a5bc"/><stop offset="0.25" stop-color="#16b0a8"/><stop offset="0.5" stop-color="#31ba91"/><stop offset="0.75" stop-color="#53bd6e"/><stop offset="1" stop-color="#87b541"/></linearGradient><linearGradient id="c10g19" gradientUnits="userSpaceOnUse" x1="69.9" y1="199.1" x2="136.1" y2="168.6"><stop offset="0" stop-color="#0fa0c0"/><stop offset="0.25" stop-color="#07acae"/><stop offset="0.5" stop-color="#2bb699"/><stop offset="0.75" stop-color="#47bb78"/><stop offset="1" stop-color="#7ab64a"/></linearGradient><linearGradient id="c10g20" gradientUnits="userSpaceOnUse" x1="70.7" y1="200.4" x2="136.9" y2="169.9"><stop offset="0" stop-color="#169ac3"/><stop offset="0.25" stop-color="#01a7b5"/><stop offset="0.5" stop-color="#21b2a1"/><stop offset="0.75" stop-color="#3bb980"/><stop offset="1" stop-color="#6cb654"/></linearGradient><linearGradient id="c10g21" gradientUnits="userSpaceOnUse" x1="71.5" y1="201.7" x2="137.7" y2="171.1"><stop offset="0" stop-color="#1a94c5"/><stop offset="0.25" stop-color="#06a3ba"/><stop offset="0.5" stop-color="#13afa8"/><stop offset="0.75" stop-color="#33b688"/><stop offset="1" stop-color="#5fb55d"/></linearGradient><linearGradient id="c10g22" gradientUnits="userSpaceOnUse" x1="72.3" y1="202.9" x2="138.5" y2="172.4"><stop offset="0" stop-color="#1d8dc5"/><stop offset="0.25" stop-color="#109dbe"/><stop offset="0.5" stop-color="#05abaf"/><stop offset="0.75" stop-color="#2db390"/><stop offset="1" stop-color="#53b466"/></linearGradient><linearGradient id="c10g23" gradientUnits="userSpaceOnUse" x1="73.1" y1="204.1" x2="139.3" y2="173.6"><stop offset="0" stop-color="#1f87c5"/><stop offset="0.25" stop-color="#1698c2"/><stop offset="0.5" stop-color="#01a7b6"/><stop offset="0.75" stop-color="#27b097"/><stop offset="1" stop-color="#48b36e"/></linearGradient><linearGradient id="c10g24" gradientUnits="userSpaceOnUse" x1="73.9" y1="205.3" x2="140.1" y2="174.8"><stop offset="0" stop-color="#2082c6"/><stop offset="0.25" stop-color="#1a92c4"/><stop offset="0.5" stop-color="#07a2bb"/><stop offset="0.75" stop-color="#1dac9e"/><stop offset="1" stop-color="#3eb176"/></linearGradient><linearGradient id="c10g25" gradientUnits="userSpaceOnUse" x1="74.7" y1="206.5" x2="140.9" y2="176"><stop offset="0" stop-color="#237cc7"/><stop offset="0.25" stop-color="#1d8cc4"/><stop offset="0.5" stop-color="#119dc0"/><stop offset="0.75" stop-color="#10a9a5"/><stop offset="1" stop-color="#35af7d"/></linearGradient><linearGradient id="c10g26" gradientUnits="userSpaceOnUse" x1="75.5" y1="207.6" x2="141.7" y2="177.2"><stop offset="0" stop-color="#2577c8"/><stop offset="0.25" stop-color="#1f86c5"/><stop offset="0.5" stop-color="#1798c3"/><stop offset="0.75" stop-color="#04a5ab"/><stop offset="1" stop-color="#2fac83"/></linearGradient><linearGradient id="c10g27" gradientUnits="userSpaceOnUse" x1="76.3" y1="208.8" x2="142.5" y2="178.4"><stop offset="0" stop-color="#2572ca"/><stop offset="0.25" stop-color="#2181c6"/><stop offset="0.5" stop-color="#1b92c5"/><stop offset="0.75" stop-color="#01a1b0"/><stop offset="1" stop-color="#2aa989"/></linearGradient><linearGradient id="c10g28" gradientUnits="userSpaceOnUse" x1="77.1" y1="209.9" x2="143.3" y2="179.5"><stop offset="0" stop-color="#266dcc"/><stop offset="0.25" stop-color="#237cc7"/><stop offset="0.5" stop-color="#1e8cc6"/><stop offset="0.75" stop-color="#079db5"/><stop offset="1" stop-color="#25a68f"/></linearGradient><linearGradient id="c10g29" gradientUnits="userSpaceOnUse" x1="77.9" y1="211" x2="144.1" y2="180.7"><stop offset="0" stop-color="#2769cd"/><stop offset="0.25" stop-color="#2576c9"/><stop offset="0.5" stop-color="#2087c7"/><stop offset="0.75" stop-color="#1099ba"/><stop offset="1" stop-color="#1da395"/></linearGradient><linearGradient id="c10g30" gradientUnits="userSpaceOnUse" x1="78.7" y1="212.1" x2="144.9" y2="181.9"><stop offset="0" stop-color="#2a65cf"/><stop offset="0.25" stop-color="#2571cb"/><stop offset="0.5" stop-color="#2181c8"/><stop offset="0.75" stop-color="#1694bd"/><stop offset="1" stop-color="#12a09a"/></linearGradient><linearGradient id="c10g31" gradientUnits="userSpaceOnUse" x1="79.5" y1="213.2" x2="145.7" y2="183"><stop offset="0" stop-color="#2e60d0"/><stop offset="0.25" stop-color="#266dcc"/><stop offset="0.5" stop-color="#247cca"/><stop offset="0.75" stop-color="#198fbf"/><stop offset="1" stop-color="#079d9f"/></linearGradient><linearGradient id="c10g32" gradientUnits="userSpaceOnUse" x1="80.2" y1="214.2" x2="146.4" y2="184.1"><stop offset="0" stop-color="#325cd1"/><stop offset="0.25" stop-color="#2868ce"/><stop offset="0.5" stop-color="#2676cc"/><stop offset="0.75" stop-color="#1c8ac1"/><stop offset="1" stop-color="#019aa4"/></linearGradient><linearGradient id="c10g33" gradientUnits="userSpaceOnUse" x1="81" y1="215.3" x2="147.2" y2="185.2"><stop offset="0" stop-color="#3558d0"/><stop offset="0.25" stop-color="#2b64cf"/><stop offset="0.5" stop-color="#2671ce"/><stop offset="0.75" stop-color="#1e85c1"/><stop offset="1" stop-color="#0297a9"/></linearGradient><linearGradient id="c10g34" gradientUnits="userSpaceOnUse" x1="81.8" y1="216.3" x2="148" y2="186.3"><stop offset="0" stop-color="#3755d0"/><stop offset="0.25" stop-color="#2f5fd1"/><stop offset="0.5" stop-color="#276ccf"/><stop offset="0.75" stop-color="#2080c3"/><stop offset="1" stop-color="#0994ad"/></linearGradient><linearGradient id="c10g35" gradientUnits="userSpaceOnUse" x1="82.6" y1="217.3" x2="148.8" y2="187.4"><stop offset="0" stop-color="#3851cf"/><stop offset="0.25" stop-color="#335bd1"/><stop offset="0.5" stop-color="#2967d0"/><stop offset="0.75" stop-color="#227cc5"/><stop offset="1" stop-color="#1091b1"/></linearGradient><linearGradient id="c10g36" gradientUnits="userSpaceOnUse" x1="83.4" y1="218.3" x2="149.6" y2="188.5"><stop offset="0" stop-color="#394ece"/><stop offset="0.25" stop-color="#3657d0"/><stop offset="0.5" stop-color="#2d62d1"/><stop offset="0.75" stop-color="#2477c6"/><stop offset="1" stop-color="#148eb4"/></linearGradient><linearGradient id="c10g37" gradientUnits="userSpaceOnUse" x1="84.2" y1="219.3" x2="150.4" y2="189.5"><stop offset="0" stop-color="#3a4bcd"/><stop offset="0.25" stop-color="#3853d0"/><stop offset="0.5" stop-color="#315dd1"/><stop offset="0.75" stop-color="#2573c9"/><stop offset="1" stop-color="#178bb7"/></linearGradient><linearGradient id="c10g38" gradientUnits="userSpaceOnUse" x1="85" y1="220.3" x2="151.2" y2="190.6"><stop offset="0" stop-color="#3a48cb"/><stop offset="0.25" stop-color="#3950cf"/><stop offset="0.5" stop-color="#3459d1"/><stop offset="0.75" stop-color="#266ecb"/><stop offset="1" stop-color="#1a87ba"/></linearGradient><linearGradient id="c10g39" gradientUnits="userSpaceOnUse" x1="85.8" y1="221.2" x2="152" y2="191.6"><stop offset="0" stop-color="#3b45c9"/><stop offset="0.25" stop-color="#3a4ccd"/><stop offset="0.5" stop-color="#3755d0"/><stop offset="0.75" stop-color="#266acd"/><stop offset="1" stop-color="#1c84bb"/></linearGradient><linearGradient id="c10g40" gradientUnits="userSpaceOnUse" x1="86.6" y1="222.2" x2="152.8" y2="192.6"><stop offset="0" stop-color="#3b42c7"/><stop offset="0.25" stop-color="#3a49cc"/><stop offset="0.5" stop-color="#3951cf"/><stop offset="0.75" stop-color="#2966ce"/><stop offset="1" stop-color="#1e81bd"/></linearGradient><linearGradient id="c10g41" gradientUnits="userSpaceOnUse" x1="87.4" y1="223.1" x2="153.6" y2="193.6"><stop offset="0" stop-color="#3b3fc5"/><stop offset="0.25" stop-color="#3b46ca"/><stop offset="0.5" stop-color="#3a4dce"/><stop offset="0.75" stop-color="#2c62d0"/><stop offset="1" stop-color="#1f7ebf"/></linearGradient><linearGradient id="c10g42" gradientUnits="userSpaceOnUse" x1="88.2" y1="224" x2="154.4" y2="194.6"><stop offset="0" stop-color="#3b3dc3"/><stop offset="0.25" stop-color="#3b43c8"/><stop offset="0.5" stop-color="#3a4acc"/><stop offset="0.75" stop-color="#305ed1"/><stop offset="1" stop-color="#217bc1"/></linearGradient><linearGradient id="c10g43" gradientUnits="userSpaceOnUse" x1="89" y1="224.9" x2="155.2" y2="195.6"><stop offset="0" stop-color="#3b3ac1"/><stop offset="0.25" stop-color="#3b40c6"/><stop offset="0.5" stop-color="#3b46ca"/><stop offset="0.75" stop-color="#345ad1"/><stop offset="1" stop-color="#2378c3"/></linearGradient><linearGradient id="c10g44" gradientUnits="userSpaceOnUse" x1="89.8" y1="225.8" x2="156" y2="196.5"><stop offset="0" stop-color="#3a38be"/><stop offset="0.25" stop-color="#3b3dc3"/><stop offset="0.5" stop-color="#3b43c8"/><stop offset="0.75" stop-color="#3657d0"/><stop offset="1" stop-color="#2474c6"/></linearGradient><linearGradient id="c10g45" gradientUnits="userSpaceOnUse" x1="90.6" y1="226.7" x2="156.8" y2="197.5"><stop offset="0" stop-color="#3a35bc"/><stop offset="0.25" stop-color="#3b3ac1"/><stop offset="0.5" stop-color="#3b40c6"/><stop offset="0.75" stop-color="#3853cf"/><stop offset="1" stop-color="#2571c8"/></linearGradient><linearGradient id="c10g46" gradientUnits="userSpaceOnUse" x1="91.4" y1="227.6" x2="157.6" y2="198.4"><stop offset="0" stop-color="#3a33b9"/><stop offset="0.25" stop-color="#3a38be"/><stop offset="0.5" stop-color="#3b3dc3"/><stop offset="0.75" stop-color="#3950cf"/><stop offset="1" stop-color="#256ecb"/></linearGradient><linearGradient id="c10g47" gradientUnits="userSpaceOnUse" x1="92.2" y1="228.5" x2="158.4" y2="199.3"><stop offset="0" stop-color="#3a31b6"/><stop offset="0.25" stop-color="#3a35bc"/><stop offset="0.5" stop-color="#3b3ac1"/><stop offset="0.75" stop-color="#3a4dcd"/><stop offset="1" stop-color="#266ccc"/></linearGradient><linearGradient id="c10g48" gradientUnits="userSpaceOnUse" x1="93" y1="229.3" x2="159.2" y2="200.2"><stop offset="0" stop-color="#392fb3"/><stop offset="0.25" stop-color="#3a33b8"/><stop offset="0.5" stop-color="#3a37be"/><stop offset="0.75" stop-color="#3a4acc"/><stop offset="1" stop-color="#2769cd"/></linearGradient><linearGradient id="c10g49" gradientUnits="userSpaceOnUse" x1="93.8" y1="230.1" x2="160" y2="201.1"><stop offset="0" stop-color="#392eb0"/><stop offset="0.25" stop-color="#3931b5"/><stop offset="0.5" stop-color="#3a34bb"/><stop offset="0.75" stop-color="#3b47ca"/><stop offset="1" stop-color="#2966cf"/></linearGradient><linearGradient id="c10g50" gradientUnits="userSpaceOnUse" x1="94.6" y1="231" x2="160.8" y2="201.9"><stop offset="0" stop-color="#382cad"/><stop offset="0.25" stop-color="#392fb2"/><stop offset="0.5" stop-color="#3a32b7"/><stop offset="0.75" stop-color="#3b44c9"/><stop offset="1" stop-color="#2b63d0"/></linearGradient><linearGradient id="c10g51" gradientUnits="userSpaceOnUse" x1="95.4" y1="231.8" x2="161.6" y2="202.8"><stop offset="0" stop-color="#382ba9"/><stop offset="0.25" stop-color="#392dae"/><stop offset="0.5" stop-color="#3930b4"/><stop offset="0.75" stop-color="#3b41c7"/><stop offset="1" stop-color="#2e60d1"/></linearGradient><linearGradient id="c10g52" gradientUnits="userSpaceOnUse" x1="96.2" y1="232.6" x2="162.4" y2="203.6"><stop offset="0" stop-color="#3729a6"/><stop offset="0.25" stop-color="#382bab"/><stop offset="0.5" stop-color="#392eb0"/><stop offset="0.75" stop-color="#3b3fc5"/><stop offset="1" stop-color="#315ed1"/></linearGradient><linearGradient id="c10g53" gradientUnits="userSpaceOnUse" x1="96.9" y1="233.4" x2="163.1" y2="204.4"><stop offset="0" stop-color="#3728a3"/><stop offset="0.25" stop-color="#372aa7"/><stop offset="0.5" stop-color="#382cac"/><stop offset="0.75" stop-color="#3b3cc3"/><stop offset="1" stop-color="#335bd1"/></linearGradient><linearGradient id="c10g54" gradientUnits="userSpaceOnUse" x1="97.7" y1="234.2" x2="163.9" y2="205.1"><stop offset="0" stop-color="#3627a0"/><stop offset="0.25" stop-color="#3728a3"/><stop offset="0.5" stop-color="#382aa8"/><stop offset="0.75" stop-color="#3b3ac1"/><stop offset="1" stop-color="#3559d1"/></linearGradient><linearGradient id="c10g55" gradientUnits="userSpaceOnUse" x1="98.5" y1="235" x2="164.7" y2="205.9"><stop offset="0" stop-color="#36269d"/><stop offset="0.25" stop-color="#3627a0"/><stop offset="0.5" stop-color="#3729a4"/><stop offset="0.75" stop-color="#3a38be"/><stop offset="1" stop-color="#3657d0"/></linearGradient><linearGradient id="c10g56" gradientUnits="userSpaceOnUse" x1="99.3" y1="235.7" x2="165.5" y2="206.6"><stop offset="0" stop-color="#35259a"/><stop offset="0.25" stop-color="#36269c"/><stop offset="0.5" stop-color="#3627a0"/><stop offset="0.75" stop-color="#3a36bc"/><stop offset="1" stop-color="#3755d0"/></linearGradient><linearGradient id="c10g57" gradientUnits="userSpaceOnUse" x1="100.1" y1="236.5" x2="166.3" y2="207.3"><stop offset="0" stop-color="#352497"/><stop offset="0.25" stop-color="#352599"/><stop offset="0.5" stop-color="#36269d"/><stop offset="0.75" stop-color="#3a34ba"/><stop offset="1" stop-color="#3853cf"/></linearGradient><linearGradient id="c10g58" gradientUnits="userSpaceOnUse" x1="100.9" y1="237.3" x2="167.1" y2="208"><stop offset="0" stop-color="#352395"/><stop offset="0.25" stop-color="#352397"/><stop offset="0.5" stop-color="#352599"/><stop offset="0.75" stop-color="#3a32b7"/><stop offset="1" stop-color="#3851cf"/></linearGradient><linearGradient id="c10g59" gradientUnits="userSpaceOnUse" x1="101.7" y1="238" x2="167.9" y2="208.7"><stop offset="0" stop-color="#342292"/><stop offset="0.25" stop-color="#342294"/><stop offset="0.5" stop-color="#352396"/><stop offset="0.75" stop-color="#3930b5"/><stop offset="1" stop-color="#3950cf"/></linearGradient><linearGradient id="c10g60" gradientUnits="userSpaceOnUse" x1="102.5" y1="238.8" x2="168.7" y2="209.4"><stop offset="0" stop-color="#342190"/><stop offset="0.25" stop-color="#342291"/><stop offset="0.5" stop-color="#342293"/><stop offset="0.75" stop-color="#392fb2"/><stop offset="1" stop-color="#394ece"/></linearGradient><linearGradient id="c10g61" gradientUnits="userSpaceOnUse" x1="103.3" y1="239.5" x2="169.5" y2="210"><stop offset="0" stop-color="#33218e"/><stop offset="0.25" stop-color="#33218f"/><stop offset="0.5" stop-color="#342191"/><stop offset="0.75" stop-color="#392daf"/><stop offset="1" stop-color="#3a4dce"/></linearGradient><linearGradient id="c10g62" gradientUnits="userSpaceOnUse" x1="104.1" y1="240.2" x2="170.3" y2="210.6"><stop offset="0" stop-color="#33208c"/><stop offset="0.25" stop-color="#33208d"/><stop offset="0.5" stop-color="#33218e"/><stop offset="0.75" stop-color="#382cad"/><stop offset="1" stop-color="#3a4ccd"/></linearGradient><linearGradient id="c10g63" gradientUnits="userSpaceOnUse" x1="104.9" y1="241" x2="171.1" y2="211.2"><stop offset="0" stop-color="#33208b"/><stop offset="0.25" stop-color="#33208b"/><stop offset="0.5" stop-color="#33208c"/><stop offset="0.75" stop-color="#382baa"/><stop offset="1" stop-color="#3a4bcc"/></linearGradient></defs>
<clipPath id="c10"><polygon points="54.4,170.1 55.2,171.8 56,173.5 56.8,175.1 57.6,176.7 58.4,178.4 59.2,179.9 60,181.5 60.8,183 61.6,184.6 62.4,186 63.1,187.5 63.9,189 64.7,190.4 65.5,191.8 66.3,193.2 67.1,194.5 67.9,195.9 68.7,197.2 69.5,198.5 70.3,199.8 71.1,201 71.9,202.3 72.7,203.5 73.5,204.7 74.3,205.9 75.1,207.1 75.9,208.2 76.7,209.3 77.5,210.5 78.3,211.6 79.1,212.6 79.8,213.7 80.6,214.8 81.4,215.8 82.2,216.8 83,217.8 83.8,218.8 84.6,219.8 85.4,220.8 86.2,221.7 87,222.7 87.8,223.6 88.6,224.5 89.4,225.4 90.2,226.3 91,227.2 91.8,228 92.6,228.9 93.4,229.7 94.2,230.6 95,231.4 95.8,232.2 96.6,233 97.3,233.8 98.1,234.6 98.9,235.4 99.7,236.1 100.5,236.9 101.3,237.6 102.1,238.4 102.9,239.1 103.7,239.9 104.5,240.6 105.3,241.3 116.3,238.3 127.4,235.2 138.4,232 149.4,226.3 160.5,219.6 171.5,211.5 170.7,210.9 169.9,210.3 169.1,209.7 168.3,209.1 167.5,208.4 166.7,207.7 165.9,207 165.1,206.3 164.3,205.5 163.5,204.8 162.8,204 162,203.2 161.2,202.3 160.4,201.5 159.6,200.6 158.8,199.8 158,198.9 157.2,197.9 156.4,197 155.6,196.1 154.8,195.1 154,194.1 153.2,193.1 152.4,192.1 151.6,191.1 150.8,190.1 150,189 149.2,187.9 148.4,186.9 147.6,185.8 146.8,184.7 146.1,183.6 145.3,182.4 144.5,181.3 143.7,180.1 142.9,179 142.1,177.8 141.3,176.6 140.5,175.4 139.7,174.2 138.9,173 138.1,171.7 137.3,170.5 136.5,169.3 135.7,168 134.9,166.8 134.1,165.5 133.3,164.2 132.5,162.9 131.7,161.6 130.9,160.3 130.1,159 129.3,157.7 128.6,156.4 127.8,155.1 127,153.8 126.2,152.5 125.4,151.1 124.6,149.8 123.8,148.4 123,147.1 122.2,145.8 121.4,144.4 120.6,143.1 109.6,147.6 98.5,152.1 87.5,156.6 76.5,161.1 65.4,165.6"/></clipPath>
<g clip-path="url(#c10)" stroke-width="1" stroke-linejoin="round"><polygon points="54.4,170.1 65.4,165.6 76.5,161.1 87.5,156.6 98.5,152.1 109.6,147.6 120.6,143.1 121.4,144.4 110.4,149 99.3,153.5 88.3,158.1 77.3,162.7 66.2,167.2 55.2,171.8" fill="url(#c10g0)" stroke="url(#c10g0)"/><polygon points="55.2,171.8 66.2,167.2 77.3,162.7 88.3,158.1 99.3,153.5 110.4,149 121.4,144.4 122.2,145.8 111.2,150.4 100.1,155 89.1,159.6 78.1,164.2 67,168.9 56,173.5" fill="url(#c10g1)" stroke="url(#c10g1)"/><polygon points="56,173.5 67,168.9 78.1,164.2 89.1,159.6 100.1,155 111.2,150.4 122.2,145.8 123,147.1 112,151.8 100.9,156.5 89.9,161.2 78.9,165.8 67.8,170.5 56.8,175.1" fill="url(#c10g2)" stroke="url(#c10g2)"/><polygon points="56.8,175.1 67.8,170.5 78.9,165.8 89.9,161.2 100.9,156.5 112,151.8 123,147.1 123.8,148.4 112.7,153.2 101.7,158 90.7,162.7 79.6,167.4 68.6,172.1 57.6,176.7" fill="url(#c10g3)" stroke="url(#c10g3)"/><polygon points="57.6,176.7 68.6,172.1 79.6,167.4 90.7,162.7 101.7,158 112.7,153.2 123.8,148.4 124.6,149.8 113.5,154.6 102.5,159.4 91.5,164.2 80.4,168.9 69.4,173.6 58.4,178.4" fill="url(#c10g4)" stroke="url(#c10g4)"/><polygon points="58.4,178.4 69.4,173.6 80.4,168.9 91.5,164.2 102.5,159.4 113.5,154.6 124.6,149.8 125.4,151.1 114.3,156 103.3,160.9 92.3,165.7 81.2,170.4 70.2,175.2 59.2,179.9" fill="url(#c10g5)" stroke="url(#c10g5)"/><polygon points="59.2,179.9 70.2,175.2 81.2,170.4 92.3,165.7 103.3,160.9 114.3,156 125.4,151.1 126.2,152.5 115.1,157.4 104.1,162.3 93.1,167.2 82,172 71,176.7 60,181.5" fill="url(#c10g6)" stroke="url(#c10g6)"/><polygon points="60,181.5 71,176.7 82,172 93.1,167.2 104.1,162.3 115.1,157.4 126.2,152.5 127,153.8 115.9,158.8 104.9,163.7 93.9,168.7 82.8,173.5 71.8,178.2 60.8,183" fill="url(#c10g7)" stroke="url(#c10g7)"/><polygon points="60.8,183 71.8,178.2 82.8,173.5 93.9,168.7 104.9,163.7 115.9,158.8 127,153.8 127.8,155.1 116.7,160.2 105.7,165.2 94.7,170.1 83.6,174.9 72.6,179.7 61.6,184.6" fill="url(#c10g8)" stroke="url(#c10g8)"/><polygon points="61.6,184.6 72.6,179.7 83.6,174.9 94.7,170.1 105.7,165.2 116.7,160.2 127.8,155.1 128.6,156.4 117.5,161.5 106.5,166.6 95.5,171.6 84.4,176.4 73.4,181.2 62.4,186" fill="url(#c10g9)" stroke="url(#c10g9)"/><polygon points="62.4,186 73.4,181.2 84.4,176.4 95.5,171.6 106.5,166.6 117.5,161.5 128.6,156.4 129.3,157.7 118.3,162.9 107.3,168 96.2,173 85.2,177.9 74.2,182.7 63.1,187.5" fill="url(#c10g10)" stroke="url(#c10g10)"/><polygon points="63.1,187.5 74.2,182.7 85.2,177.9 96.2,173 107.3,168 118.3,162.9 129.3,157.7 130.1,159 119.1,164.3 108.1,169.4 97,174.5 86,179.3 75,184.1 63.9,189" fill="url(#c10g11)" stroke="url(#c10g11)"/><polygon points="63.9,189 75,184.1 86,179.3 97,174.5 108.1,169.4 119.1,164.3 130.1,159 130.9,160.3 119.9,165.6 108.9,170.8 97.8,175.9 86.8,180.7 75.8,185.6 64.7,190.4" fill="url(#c10g12)" stroke="url(#c10g12)"/><polygon points="64.7,190.4 75.8,185.6 86.8,180.7 97.8,175.9 108.9,170.8 119.9,165.6 130.9,160.3 131.7,161.6 120.7,167 109.7,172.2 98.6,177.3 87.6,182.1 76.6,187 65.5,191.8" fill="url(#c10g13)" stroke="url(#c10g13)"/><polygon points="65.5,191.8 76.6,187 87.6,182.1 98.6,177.3 109.7,172.2 120.7,167 131.7,161.6 132.5,162.9 121.5,168.3 110.5,173.6 99.4,178.7 88.4,183.5 77.4,188.4 66.3,193.2" fill="url(#c10g14)" stroke="url(#c10g14)"/><polygon points="66.3,193.2 77.4,188.4 88.4,183.5 99.4,178.7 110.5,173.6 121.5,168.3 132.5,162.9 133.3,164.2 122.3,169.6 111.3,174.9 100.2,180.1 89.2,184.9 78.2,189.7 67.1,194.5" fill="url(#c10g15)" stroke="url(#c10g15)"/><polygon points="67.1,194.5 78.2,189.7 89.2,184.9 100.2,180.1 111.3,174.9 122.3,169.6 133.3,164.2 134.1,165.5 123.1,171 112.1,176.3 101,181.4 90,186.3 79,191.1 67.9,195.9" fill="url(#c10g16)" stroke="url(#c10g16)"/><polygon points="67.9,195.9 79,191.1 90,186.3 101,181.4 112.1,176.3 123.1,171 134.1,165.5 134.9,166.8 123.9,172.3 112.8,177.6 101.8,182.8 90.8,187.6 79.7,192.4 68.7,197.2" fill="url(#c10g17)" stroke="url(#c10g17)"/><polygon points="68.7,197.2 79.7,192.4 90.8,187.6 101.8,182.8 112.8,177.6 123.9,172.3 134.9,166.8 135.7,168 124.7,173.6 113.6,179 102.6,184.2 91.6,189 80.5,193.7 69.5,198.5" fill="url(#c10g18)" stroke="url(#c10g18)"/><polygon points="69.5,198.5 80.5,193.7 91.6,189 102.6,184.2 113.6,179 124.7,173.6 135.7,168 136.5,169.3 125.5,174.9 114.4,180.3 103.4,185.5 92.4,190.3 81.3,195 70.3,199.8" fill="url(#c10g19)" stroke="url(#c10g19)"/><polygon points="70.3,199.8 81.3,195 92.4,190.3 103.4,185.5 114.4,180.3 125.5,174.9 136.5,169.3 137.3,170.5 126.3,176.2 115.2,181.6 104.2,186.8 93.2,191.6 82.1,196.3 71.1,201" fill="url(#c10g20)" stroke="url(#c10g20)"/><polygon points="71.1,201 82.1,196.3 93.2,191.6 104.2,186.8 115.2,181.6 126.3,176.2 137.3,170.5 138.1,171.7 127.1,177.5 116,182.9 105,188.1 94,192.9 82.9,197.6 71.9,202.3" fill="url(#c10g21)" stroke="url(#c10g21)"/><polygon points="71.9,202.3 82.9,197.6 94,192.9 105,188.1 116,182.9 127.1,177.5 138.1,171.7 138.9,173 127.9,178.7 116.8,184.2 105.8,189.4 94.8,194.2 83.7,198.8 72.7,203.5" fill="url(#c10g22)" stroke="url(#c10g22)"/><polygon points="72.7,203.5 83.7,198.8 94.8,194.2 105.8,189.4 116.8,184.2 127.9,178.7 138.9,173 139.7,174.2 128.7,180 117.6,185.5 106.6,190.7 95.6,195.4 84.5,200.1 73.5,204.7" fill="url(#c10g23)" stroke="url(#c10g23)"/><polygon points="73.5,204.7 84.5,200.1 95.6,195.4 106.6,190.7 117.6,185.5 128.7,180 139.7,174.2 140.5,175.4 129.4,181.2 118.4,186.7 107.4,192 96.3,196.7 85.3,201.3 74.3,205.9" fill="url(#c10g24)" stroke="url(#c10g24)"/><polygon points="74.3,205.9 85.3,201.3 96.3,196.7 107.4,192 118.4,186.7 129.4,181.2 140.5,175.4 141.3,176.6 130.2,182.5 119.2,188 108.2,193.3 97.1,197.9 86.1,202.5 75.1,207.1" fill="url(#c10g25)" stroke="url(#c10g25)"/><polygon points="75.1,207.1 86.1,202.5 97.1,197.9 108.2,193.3 119.2,188 130.2,182.5 141.3,176.6 142.1,177.8 131,183.7 120,189.3 109,194.5 97.9,199.1 86.9,203.7 75.9,208.2" fill="url(#c10g26)" stroke="url(#c10g26)"/><polygon points="75.9,208.2 86.9,203.7 97.9,199.1 109,194.5 120,189.3 131,183.7 142.1,177.8 142.9,179 131.8,184.9 120.8,190.5 109.8,195.8 98.7,200.3 87.7,204.8 76.7,209.3" fill="url(#c10g27)" stroke="url(#c10g27)"/><polygon points="76.7,209.3 87.7,204.8 98.7,200.3 109.8,195.8 120.8,190.5 131.8,184.9 142.9,179 143.7,180.1 132.6,186.1 121.6,191.7 110.6,197 99.5,201.5 88.5,206 77.5,210.5" fill="url(#c10g28)" stroke="url(#c10g28)"/><polygon points="77.5,210.5 88.5,206 99.5,201.5 110.6,197 121.6,191.7 132.6,186.1 143.7,180.1 144.5,181.3 133.4,187.3 122.4,192.9 111.4,198.2 100.3,202.7 89.3,207.1 78.3,211.6" fill="url(#c10g29)" stroke="url(#c10g29)"/><polygon points="78.3,211.6 89.3,207.1 100.3,202.7 111.4,198.2 122.4,192.9 133.4,187.3 144.5,181.3 145.3,182.4 134.2,188.5 123.2,194.1 112.2,199.4 101.1,203.9 90.1,208.3 79.1,212.6" fill="url(#c10g30)" stroke="url(#c10g30)"/><polygon points="79.1,212.6 90.1,208.3 101.1,203.9 112.2,199.4 123.2,194.1 134.2,188.5 145.3,182.4 146.1,183.6 135,189.7 124,195.3 113,200.6 101.9,205 90.9,209.4 79.8,213.7" fill="url(#c10g31)" stroke="url(#c10g31)"/><polygon points="79.8,213.7 90.9,209.4 101.9,205 113,200.6 124,195.3 135,189.7 146.1,183.6 146.8,184.7 135.8,190.8 124.8,196.5 113.7,201.8 102.7,206.2 91.7,210.5 80.6,214.8" fill="url(#c10g32)" stroke="url(#c10g32)"/><polygon points="80.6,214.8 91.7,210.5 102.7,206.2 113.7,201.8 124.8,196.5 135.8,190.8 146.8,184.7 147.6,185.8 136.6,192 125.6,197.7 114.5,203 103.5,207.3 92.5,211.5 81.4,215.8" fill="url(#c10g33)" stroke="url(#c10g33)"/><polygon points="81.4,215.8 92.5,211.5 103.5,207.3 114.5,203 125.6,197.7 136.6,192 147.6,185.8 148.4,186.9 137.4,193.1 126.4,198.8 115.3,204.1 104.3,208.4 93.3,212.6 82.2,216.8" fill="url(#c10g34)" stroke="url(#c10g34)"/><polygon points="82.2,216.8 93.3,212.6 104.3,208.4 115.3,204.1 126.4,198.8 137.4,193.1 148.4,186.9 149.2,187.9 138.2,194.2 127.2,200 116.1,205.3 105.1,209.5 94.1,213.7 83,217.8" fill="url(#c10g35)" stroke="url(#c10g35)"/><polygon points="83,217.8 94.1,213.7 105.1,209.5 116.1,205.3 127.2,200 138.2,194.2 149.2,187.9 150,189 139,195.3 128,201.1 116.9,206.4 105.9,210.6 94.9,214.7 83.8,218.8" fill="url(#c10g36)" stroke="url(#c10g36)"/><polygon points="83.8,218.8 94.9,214.7 105.9,210.6 116.9,206.4 128,201.1 139,195.3 150,189 150.8,190.1 139.8,196.4 128.8,202.2 117.7,207.5 106.7,211.7 95.7,215.7 84.6,219.8" fill="url(#c10g37)" stroke="url(#c10g37)"/><polygon points="84.6,219.8 95.7,215.7 106.7,211.7 117.7,207.5 128.8,202.2 139.8,196.4 150.8,190.1 151.6,191.1 140.6,197.5 129.6,203.3 118.5,208.6 107.5,212.7 96.5,216.7 85.4,220.8" fill="url(#c10g38)" stroke="url(#c10g38)"/><polygon points="85.4,220.8 96.5,216.7 107.5,212.7 118.5,208.6 129.6,203.3 140.6,197.5 151.6,191.1 152.4,192.1 141.4,198.6 130.3,204.4 119.3,209.7 108.3,213.8 97.2,217.7 86.2,221.7" fill="url(#c10g39)" stroke="url(#c10g39)"/><polygon points="86.2,221.7 97.2,217.7 108.3,213.8 119.3,209.7 130.3,204.4 141.4,198.6 152.4,192.1 153.2,193.1 142.2,199.6 131.1,205.5 120.1,210.8 109.1,214.8 98,218.7 87,222.7" fill="url(#c10g40)" stroke="url(#c10g40)"/><polygon points="87,222.7 98,218.7 109.1,214.8 120.1,210.8 131.1,205.5 142.2,199.6 153.2,193.1 154,194.1 143,200.7 131.9,206.5 120.9,211.8 109.9,215.8 98.8,219.7 87.8,223.6" fill="url(#c10g41)" stroke="url(#c10g41)"/><polygon points="87.8,223.6 98.8,219.7 109.9,215.8 120.9,211.8 131.9,206.5 143,200.7 154,194.1 154.8,195.1 143.8,201.7 132.7,207.6 121.7,212.9 110.7,216.8 99.6,220.7 88.6,224.5" fill="url(#c10g42)" stroke="url(#c10g42)"/><polygon points="88.6,224.5 99.6,220.7 110.7,216.8 121.7,212.9 132.7,207.6 143.8,201.7 154.8,195.1 155.6,196.1 144.6,202.7 133.5,208.6 122.5,213.9 111.5,217.8 100.4,221.6 89.4,225.4" fill="url(#c10g43)" stroke="url(#c10g43)"/><polygon points="89.4,225.4 100.4,221.6 111.5,217.8 122.5,213.9 133.5,208.6 144.6,202.7 155.6,196.1 156.4,197 145.4,203.7 134.3,209.6 123.3,215 112.3,218.8 101.2,222.5 90.2,226.3" fill="url(#c10g44)" stroke="url(#c10g44)"/><polygon points="90.2,226.3 101.2,222.5 112.3,218.8 123.3,215 134.3,209.6 145.4,203.7 156.4,197 157.2,197.9 146.2,204.7 135.1,210.6 124.1,216 113.1,219.8 102,223.5 91,227.2" fill="url(#c10g45)" stroke="url(#c10g45)"/><polygon points="91,227.2 102,223.5 113.1,219.8 124.1,216 135.1,210.6 146.2,204.7 157.2,197.9 158,198.9 146.9,205.7 135.9,211.6 124.9,217 113.8,220.7 102.8,224.4 91.8,228" fill="url(#c10g46)" stroke="url(#c10g46)"/><polygon points="91.8,228 102.8,224.4 113.8,220.7 124.9,217 135.9,211.6 146.9,205.7 158,198.9 158.8,199.8 147.7,206.6 136.7,212.6 125.7,218 114.6,221.7 103.6,225.3 92.6,228.9" fill="url(#c10g47)" stroke="url(#c10g47)"/><polygon points="92.6,228.9 103.6,225.3 114.6,221.7 125.7,218 136.7,212.6 147.7,206.6 158.8,199.8 159.6,200.6 148.5,207.6 137.5,213.6 126.5,218.9 115.4,222.6 104.4,226.2 93.4,229.7" fill="url(#c10g48)" stroke="url(#c10g48)"/><polygon points="93.4,229.7 104.4,226.2 115.4,222.6 126.5,218.9 137.5,213.6 148.5,207.6 159.6,200.6 160.4,201.5 149.3,208.5 138.3,214.5 127.3,219.9 116.2,223.5 105.2,227.1 94.2,230.6" fill="url(#c10g49)" stroke="url(#c10g49)"/><polygon points="94.2,230.6 105.2,227.1 116.2,223.5 127.3,219.9 138.3,214.5 149.3,208.5 160.4,201.5 161.2,202.3 150.1,209.4 139.1,215.5 128.1,220.8 117,224.5 106,227.9 95,231.4" fill="url(#c10g50)" stroke="url(#c10g50)"/><polygon points="95,231.4 106,227.9 117,224.5 128.1,220.8 139.1,215.5 150.1,209.4 161.2,202.3 162,203.2 150.9,210.3 139.9,216.4 128.9,221.8 117.8,225.4 106.8,228.8 95.8,232.2" fill="url(#c10g51)" stroke="url(#c10g51)"/><polygon points="95.8,232.2 106.8,228.8 117.8,225.4 128.9,221.8 139.9,216.4 150.9,210.3 162,203.2 162.8,204 151.7,211.1 140.7,217.3 129.7,222.7 118.6,226.2 107.6,229.6 96.6,233" fill="url(#c10g52)" stroke="url(#c10g52)"/><polygon points="96.6,233 107.6,229.6 118.6,226.2 129.7,222.7 140.7,217.3 151.7,211.1 162.8,204 163.5,204.8 152.5,212 141.5,218.2 130.4,223.6 119.4,227.1 108.4,230.5 97.3,233.8" fill="url(#c10g53)" stroke="url(#c10g53)"/><polygon points="97.3,233.8 108.4,230.5 119.4,227.1 130.4,223.6 141.5,218.2 152.5,212 163.5,204.8 164.3,205.5 153.3,212.8 142.3,219.1 131.2,224.5 120.2,228 109.2,231.3 98.1,234.6" fill="url(#c10g54)" stroke="url(#c10g54)"/><polygon points="98.1,234.6 109.2,231.3 120.2,228 131.2,224.5 142.3,219.1 153.3,212.8 164.3,205.5 165.1,206.3 154.1,213.6 143.1,219.9 132,225.4 121,228.8 110,232.1 98.9,235.4" fill="url(#c10g55)" stroke="url(#c10g55)"/><polygon points="98.9,235.4 110,232.1 121,228.8 132,225.4 143.1,219.9 154.1,213.6 165.1,206.3 165.9,207 154.9,214.5 143.9,220.8 132.8,226.3 121.8,229.7 110.8,232.9 99.7,236.1" fill="url(#c10g56)" stroke="url(#c10g56)"/><polygon points="99.7,236.1 110.8,232.9 121.8,229.7 132.8,226.3 143.9,220.8 154.9,214.5 165.9,207 166.7,207.7 155.7,215.2 144.7,221.6 133.6,227.1 122.6,230.5 111.6,233.7 100.5,236.9" fill="url(#c10g57)" stroke="url(#c10g57)"/><polygon points="100.5,236.9 111.6,233.7 122.6,230.5 133.6,227.1 144.7,221.6 155.7,215.2 166.7,207.7 167.5,208.4 156.5,216 145.5,222.4 134.4,228 123.4,231.3 112.4,234.5 101.3,237.6" fill="url(#c10g58)" stroke="url(#c10g58)"/><polygon points="101.3,237.6 112.4,234.5 123.4,231.3 134.4,228 145.5,222.4 156.5,216 167.5,208.4 168.3,209.1 157.3,216.8 146.3,223.2 135.2,228.8 124.2,232.1 113.2,235.3 102.1,238.4" fill="url(#c10g59)" stroke="url(#c10g59)"/><polygon points="102.1,238.4 113.2,235.3 124.2,232.1 135.2,228.8 146.3,223.2 157.3,216.8 168.3,209.1 169.1,209.7 158.1,217.5 147,224 136,229.6 125,232.9 113.9,236 102.9,239.1" fill="url(#c10g60)" stroke="url(#c10g60)"/><polygon points="102.9,239.1 113.9,236 125,232.9 136,229.6 147,224 158.1,217.5 169.1,209.7 169.9,210.3 158.9,218.2 147.8,224.8 136.8,230.4 125.8,233.7 114.7,236.8 103.7,239.9" fill="url(#c10g61)" stroke="url(#c10g61)"/><polygon points="103.7,239.9 114.7,236.8 125.8,233.7 136.8,230.4 147.8,224.8 158.9,218.2 169.9,210.3 170.7,210.9 159.7,218.9 148.6,225.5 137.6,231.2 126.6,234.5 115.5,237.5 104.5,240.6" fill="url(#c10g62)" stroke="url(#c10g62)"/><polygon points="104.5,240.6 115.5,237.5 126.6,234.5 137.6,231.2 148.6,225.5 159.7,218.9 170.7,210.9 171.5,211.5 160.5,219.6 149.4,226.3 138.4,232 127.4,235.2 116.3,238.3 105.3,241.3" fill="url(#c10g63)" stroke="url(#c10g63)"/><g fill="none" stroke="#000" stroke-width="0.5"><polyline stroke-opacity="0.27" points="54.4,170.07 70.95,163.32 87.5,156.57 104.05,149.82 120.6,143.07"/><polyline stroke-opacity="0.27" points="54.93,171.21 71.48,164.4 88.03,157.59 104.58,150.78 121.13,143.96"/><polyline stroke-opacity="0.27" points="55.46,172.34 72.01,165.48 88.56,158.62 105.11,151.74 121.66,144.86"/><polyline stroke-opacity="0.27" points="55.99,173.46 72.54,166.55 89.09,159.64 105.64,152.71 122.19,145.76"/><polyline stroke-opacity="0.27" points="56.52,174.57 73.07,167.61 89.62,160.66 106.17,153.67 122.72,146.66"/><polyline stroke-opacity="0.27" points="57.05,175.66 73.6,168.67 90.15,161.67 106.7,154.63 123.25,147.55"/><polyline stroke-opacity="0.27" points="57.58,176.75 74.13,169.72 90.68,162.69 107.23,155.59 123.78,148.45"/><polyline stroke-opacity="0.27" points="58.11,177.82 74.66,170.76 91.21,163.69 107.76,156.54 124.31,149.34"/><polyline stroke-opacity="0.27" points="58.64,178.89 75.19,171.79 91.74,164.69 108.29,157.49 124.84,150.23"/><polyline stroke-opacity="0.27" points="59.17,179.94 75.72,172.82 92.27,165.69 108.82,158.44 125.37,151.12"/><polyline stroke-opacity="0.27" points="59.7,180.99 76.25,173.84 92.8,166.69 109.35,159.39 125.9,152.01"/><polyline stroke-opacity="0.27" points="60.23,182.02 76.78,174.85 93.33,167.67 109.88,160.33 126.43,152.89"/><polyline stroke-opacity="0.27" points="60.76,183.04 77.31,175.85 93.86,168.66 110.41,161.28 126.96,153.78"/><polyline stroke-opacity="0.27" points="61.29,184.05 77.84,176.85 94.39,169.64 110.94,162.21 127.49,154.66"/><polyline stroke-opacity="0.27" points="61.82,185.06 78.37,177.84 94.92,170.61 111.47,163.15 128.02,155.54"/><polyline stroke-opacity="0.27" points="62.35,186.05 78.9,178.82 95.45,171.58 112,164.08 128.55,156.42"/><polyline stroke-opacity="0.27" points="62.88,187.03 79.43,179.79 95.98,172.54 112.53,165.01 129.08,157.29"/><polyline stroke-opacity="0.27" points="63.41,188 79.96,180.76 96.51,173.5 113.06,165.93 129.61,158.17"/><polyline stroke-opacity="0.27" points="63.94,188.96 80.49,181.72 97.04,174.46 113.59,166.85 130.14,159.04"/><polyline stroke-opacity="0.27" points="64.47,189.92 81.02,182.67 97.57,175.4 114.12,167.77 130.67,159.91"/><polyline stroke-opacity="0.27" points="65,190.86 81.55,183.61 98.1,176.35 114.65,168.69 131.2,160.77"/><polyline stroke-opacity="0.27" points="65.53,191.79 82.08,184.55 98.63,177.29 115.18,169.6 131.73,161.64"/><polyline stroke-opacity="0.27" points="66.06,192.72 82.61,185.48 99.16,178.22 115.71,170.5 132.26,162.5"/><polyline stroke-opacity="0.27" points="66.59,193.63 83.14,186.4 99.69,179.15 116.24,171.4 132.79,163.35"/><polyline stroke-opacity="0.27" points="67.12,194.53 83.68,187.32 100.23,180.07 116.78,172.3 133.33,164.21"/><polyline stroke-opacity="0.27" points="67.66,195.43 84.21,188.22 100.76,180.99 117.31,173.2 133.86,165.06"/><polyline stroke-opacity="0.27" points="68.19,196.32 84.74,189.12 101.29,181.9 117.84,174.09 134.39,165.91"/><polyline stroke-opacity="0.27" points="68.72,197.2 85.27,190.02 101.82,182.81 118.37,174.98 134.92,166.75"/><polyline stroke-opacity="0.27" points="69.25,198.06 85.8,190.9 102.35,183.71 118.9,175.86 135.45,167.59"/><polyline stroke-opacity="0.27" points="69.78,198.92 86.33,191.78 102.88,184.61 119.43,176.74 135.98,168.43"/><polyline stroke-opacity="0.27" points="70.31,199.78 86.86,192.65 103.41,185.5 119.96,177.61 136.51,169.26"/><polyline stroke-opacity="0.27" points="70.84,200.62 87.39,193.52 103.94,186.38 120.49,178.48 137.04,170.09"/><polyline stroke-opacity="0.27" points="71.37,201.45 87.92,194.38 104.47,187.26 121.02,179.35 137.57,170.92"/><polyline stroke-opacity="0.27" points="71.9,202.28 88.45,195.23 105,188.14 121.55,180.21 138.1,171.74"/><polyline stroke-opacity="0.27" points="72.43,203.1 88.98,196.07 105.53,189.01 122.08,181.06 138.63,172.56"/><polyline stroke-opacity="0.27" points="72.96,203.91 89.51,196.91 106.06,189.87 122.61,181.91 139.16,173.38"/><polyline stroke-opacity="0.27" points="73.49,204.71 90.04,197.74 106.59,190.73 123.14,182.76 139.69,174.19"/><polyline stroke-opacity="0.27" points="74.02,205.5 90.57,198.57 107.12,191.59 123.67,183.6 140.22,174.99"/><polyline stroke-opacity="0.27" points="74.55,206.28 91.1,199.38 107.65,192.43 124.2,184.44 140.75,175.8"/><polyline stroke-opacity="0.27" points="75.08,207.06 91.63,200.19 108.18,193.28 124.73,185.27 141.28,176.59"/><polyline stroke-opacity="0.27" points="75.61,207.83 92.16,201 108.71,194.11 125.26,186.1 141.81,177.39"/><polyline stroke-opacity="0.27" points="76.14,208.59 92.69,201.8 109.24,194.94 125.79,186.93 142.34,178.17"/><polyline stroke-opacity="0.27" points="76.67,209.35 93.22,202.59 109.77,195.77 126.32,187.74 142.87,178.96"/><polyline stroke-opacity="0.27" points="77.2,210.09 93.75,203.37 110.3,196.59 126.85,188.56 143.4,179.74"/><polyline stroke-opacity="0.27" points="77.73,210.83 94.28,204.15 110.83,197.41 127.38,189.36 143.93,180.51"/><polyline stroke-opacity="0.27" points="78.26,211.56 94.81,204.92 111.36,198.22 127.91,190.17 144.46,181.28"/><polyline stroke-opacity="0.27" points="78.79,212.29 95.34,205.69 111.89,199.02 128.44,190.97 144.99,182.04"/><polyline stroke-opacity="0.27" points="79.32,213 95.87,206.45 112.42,199.82 128.97,191.76 145.52,182.8"/><polyline stroke-opacity="0.27" points="79.85,213.71 96.4,207.2 112.95,200.61 129.5,192.54 146.05,183.55"/><polyline stroke-opacity="0.27" points="80.38,214.42 96.93,207.95 113.48,201.4 130.03,193.33 146.58,184.3"/><polyline stroke-opacity="0.27" points="80.91,215.11 97.46,208.69 114.01,202.18 130.56,194.1 147.11,185.04"/><polyline stroke-opacity="0.27" points="81.44,215.8 97.99,209.42 114.54,202.96 131.09,194.87 147.64,185.78"/><polyline stroke-opacity="0.27" points="81.97,216.49 98.52,210.15 115.07,203.73 131.62,195.64 148.17,186.51"/><polyline stroke-opacity="0.27" points="82.5,217.16 99.05,210.87 115.6,204.49 132.15,196.4 148.7,187.23"/><polyline stroke-opacity="0.27" points="83.03,217.83 99.58,211.59 116.13,205.25 132.68,197.15 149.23,187.95"/><polyline stroke-opacity="0.27" points="83.56,218.5 100.11,212.3 116.66,206.01 133.21,197.9 149.76,188.66"/><polyline stroke-opacity="0.27" points="84.09,219.15 100.64,213 117.19,206.75 133.74,198.65 150.29,189.37"/><polyline stroke-opacity="0.27" points="84.62,219.8 101.17,213.7 117.72,207.5 134.27,199.38 150.82,190.07"/><polyline stroke-opacity="0.27" points="85.15,220.45 101.7,214.39 118.25,208.23 134.8,200.11 151.35,190.76"/><polyline stroke-opacity="0.27" points="85.68,221.09 102.23,215.08 118.78,208.96 135.33,200.84 151.88,191.45"/><polyline stroke-opacity="0.27" points="86.21,221.72 102.76,215.76 119.31,209.69 135.86,201.56 152.41,192.13"/><polyline stroke-opacity="0.27" points="86.74,222.35 103.29,216.43 119.84,210.41 136.39,202.27 152.94,192.8"/><polyline stroke-opacity="0.27" points="87.27,222.97 103.82,217.1 120.37,211.12 136.92,202.98 153.47,193.47"/><polyline stroke-opacity="0.27" points="87.8,223.58 104.35,217.76 120.9,211.83 137.45,203.68 154,194.13"/><polyline stroke-opacity="0.27" points="88.33,224.19 104.88,218.42 121.43,212.54 137.98,204.38 154.53,194.79"/><polyline stroke-opacity="0.27" points="88.86,224.8 105.41,219.07 121.96,213.23 138.51,205.06 155.06,195.43"/><polyline stroke-opacity="0.27" points="89.39,225.4 105.94,219.72 122.49,213.92 139.04,205.75 155.59,196.07"/><polyline stroke-opacity="0.27" points="89.92,225.99 106.47,220.36 123.02,214.61 139.57,206.42 156.12,196.71"/><polyline stroke-opacity="0.27" points="90.45,226.58 107,221 123.55,215.29 140.1,207.09 156.65,197.33"/><polyline stroke-opacity="0.27" points="90.98,227.16 107.53,221.63 124.08,215.97 140.63,207.76 157.18,197.95"/><polyline stroke-opacity="0.27" points="91.51,227.74 108.06,222.25 124.61,216.63 141.16,208.41 157.71,198.56"/><polyline stroke-opacity="0.27" points="92.04,228.31 108.59,222.87 125.14,217.3 141.69,209.06 158.24,199.16"/><polyline stroke-opacity="0.27" points="92.57,228.88 109.12,223.49 125.67,217.95 142.22,209.71 158.78,199.76"/><polyline stroke-opacity="0.27" points="93.11,229.45 109.66,224.09 126.21,218.61 142.76,210.35 159.31,200.35"/><polyline stroke-opacity="0.27" points="93.64,230.01 110.19,224.7 126.74,219.25 143.29,210.98 159.84,200.93"/><polyline stroke-opacity="0.27" points="94.17,230.56 110.72,225.3 127.27,219.89 143.82,211.6 160.37,201.5"/><polyline stroke-opacity="0.27" points="94.7,231.11 111.25,225.89 127.8,220.53 144.35,212.22 160.9,202.06"/><polyline stroke-opacity="0.27" points="95.23,231.66 111.78,226.48 128.33,221.16 144.88,212.83 161.43,202.62"/><polyline stroke-opacity="0.27" points="95.76,232.2 112.31,227.06 128.86,221.78 145.41,213.43 161.96,203.16"/><polyline stroke-opacity="0.27" points="96.29,232.74 112.84,227.64 129.39,222.4 145.94,214.03 162.49,203.7"/><polyline stroke-opacity="0.27" points="96.82,233.27 113.37,228.22 129.92,223.01 146.47,214.62 163.02,204.23"/><polyline stroke-opacity="0.27" points="97.35,233.8 113.9,228.78 130.45,223.61 147,215.2 163.55,204.75"/><polyline stroke-opacity="0.27" points="97.88,234.32 114.43,229.35 130.98,224.21 147.53,215.77 164.08,205.27"/><polyline stroke-opacity="0.27" points="98.41,234.84 114.96,229.91 131.51,224.81 148.06,216.34 164.61,205.77"/><polyline stroke-opacity="0.27" points="98.94,235.36 115.49,230.46 132.04,225.39 148.59,216.9 165.14,206.27"/><polyline stroke-opacity="0.27" points="99.47,235.88 116.02,231.01 132.57,225.98 149.12,217.46 165.67,206.75"/><polyline stroke-opacity="0.27" points="100,236.39 116.55,231.56 133.1,226.55 149.65,218 166.2,207.23"/><polyline stroke-opacity="0.27" points="100.53,236.89 117.08,232.1 133.63,227.12 150.18,218.54 166.73,207.7"/><polyline stroke-opacity="0.27" points="101.06,237.4 117.61,232.63 134.16,227.69 150.71,219.08 167.26,208.16"/><polyline stroke-opacity="0.27" points="101.59,237.9 118.14,233.16 134.69,228.25 151.24,219.6 167.79,208.61"/><polyline stroke-opacity="0.27" points="102.12,238.39 118.67,233.69 135.22,228.8 151.77,220.12 168.32,209.05"/><polyline stroke-opacity="0.27" points="102.65,238.89 119.2,234.21 135.75,229.35 152.3,220.63 168.85,209.48"/><polyline stroke-opacity="0.27" points="103.18,239.38 119.73,234.73 136.28,229.89 152.83,221.13 169.38,209.9"/><polyline stroke-opacity="0.27" points="103.71,239.87 120.26,235.24 136.81,230.43 153.36,221.62 169.91,210.31"/><polyline stroke-opacity="0.27" points="104.24,240.35 120.79,235.75 137.34,230.96 153.89,222.11 170.44,210.72"/><polyline stroke-opacity="0.27" points="104.77,240.84 121.32,236.26 137.87,231.48 154.42,222.59 170.97,211.11"/><polyline stroke-opacity="0.27" points="105.3,241.32 121.85,236.76 138.4,232 154.95,223.06 171.5,211.49"/></g><g fill="none" stroke="#000" stroke-opacity="0.2" stroke-width="0.35"><polyline points="54.4,170.07 58.64,178.89 62.88,187.03 67.12,194.53 71.37,201.45 75.61,207.83 79.85,213.71 84.09,219.15 88.33,224.19 92.57,228.88 96.82,233.27 101.06,237.4 105.3,241.32"/><polyline points="55.72,169.53 59.97,178.32 64.21,186.45 68.45,193.96 72.69,200.89 76.93,207.28 81.17,213.19 85.42,218.66 89.66,223.73 93.9,228.45 98.14,232.86 102.38,237.02 106.62,240.95"/><polyline points="57.05,168.99 61.29,177.75 65.53,185.87 69.77,193.38 74.01,200.32 78.26,206.74 82.5,212.67 86.74,218.17 90.98,223.27 95.22,228.02 99.46,232.46 103.71,236.63 107.95,240.59"/><polyline points="58.37,168.45 62.61,177.19 66.86,185.29 71.1,192.8 75.34,199.75 79.58,206.19 83.82,212.15 88.06,217.68 92.31,222.81 96.55,227.59 100.79,232.06 105.03,236.25 109.27,240.22"/><polyline points="59.7,167.91 63.94,176.62 68.18,184.71 72.42,192.22 76.66,199.19 80.9,205.64 85.15,211.63 89.39,217.18 93.63,222.35 97.87,227.16 102.11,231.65 106.35,235.87 110.6,239.86"/><polyline points="61.02,167.37 65.26,176.05 69.5,184.13 73.75,191.65 77.99,198.62 82.23,205.1 86.47,211.11 90.71,216.69 94.95,221.88 99.19,226.72 103.44,231.25 107.68,235.49 111.92,239.49"/><polyline points="62.34,166.83 66.59,175.48 70.83,183.56 75.07,191.07 79.31,198.06 83.55,204.55 87.79,210.59 92.04,216.2 96.28,221.42 100.52,226.29 104.76,230.84 109,235.11 113.24,239.13"/><polyline points="63.67,166.29 67.91,174.92 72.15,182.98 76.39,190.49 80.63,197.49 84.88,204 89.12,210.07 93.36,215.71 97.6,220.96 101.84,225.86 106.08,230.44 110.33,234.73 114.57,238.76"/><polyline points="64.99,165.75 69.23,174.35 73.48,182.4 77.72,189.91 81.96,196.92 86.2,203.46 90.44,209.54 94.68,215.21 98.93,220.5 103.17,225.43 107.41,230.03 111.65,234.35 115.89,238.4"/><polyline points="66.32,165.21 70.56,173.78 74.8,181.82 79.04,189.34 83.28,196.36 87.52,202.91 91.77,209.02 96.01,214.72 100.25,220.04 104.49,225 108.73,229.63 112.97,233.97 117.22,238.04"/><polyline points="67.64,164.67 71.88,173.21 76.12,181.24 80.37,188.76 84.61,195.79 88.85,202.37 93.09,208.5 97.33,214.23 101.57,219.58 105.81,224.57 110.06,229.23 114.3,233.59 118.54,237.67"/><polyline points="68.96,164.13 73.21,172.65 77.45,180.66 81.69,188.18 85.93,195.23 90.17,201.82 94.41,207.98 98.66,213.74 102.9,219.11 107.14,224.13 111.38,228.82 115.62,233.2 119.86,237.31"/><polyline points="70.29,163.59 74.53,172.08 78.77,180.08 83.01,187.6 87.25,194.66 91.5,201.27 95.74,207.46 99.98,213.25 104.22,218.65 108.46,223.7 112.7,228.42 116.95,232.82 121.19,236.94"/><polyline points="71.61,163.05 75.85,171.51 80.1,179.5 84.34,187.03 88.58,194.1 92.82,200.73 97.06,206.94 101.3,212.75 105.55,218.19 109.79,223.27 114.03,228.01 118.27,232.44 122.51,236.58"/><polyline points="72.94,162.51 77.18,170.94 81.42,178.92 85.66,186.45 89.9,193.53 94.14,200.18 98.39,206.42 102.63,212.26 106.87,217.73 111.11,222.84 115.35,227.61 119.59,232.06 123.84,236.21"/><polyline points="74.26,161.97 78.5,170.38 82.74,178.35 86.98,185.87 91.23,192.96 95.47,199.63 99.71,205.9 103.95,211.77 108.19,217.27 112.43,222.41 116.68,227.2 120.92,231.68 125.16,235.85"/><polyline points="75.58,161.43 79.83,169.81 84.07,177.77 88.31,185.29 92.55,192.4 96.79,199.09 101.03,205.37 105.28,211.28 109.52,216.8 113.76,221.97 118,226.8 122.24,231.3 126.48,235.48"/><polyline points="76.91,160.89 81.15,169.24 85.39,177.19 89.63,184.72 93.87,191.83 98.12,198.54 102.36,204.85 106.6,210.78 110.84,216.34 115.08,221.54 119.32,226.4 123.57,230.92 127.81,235.12"/><polyline points="78.23,160.35 82.47,168.67 86.72,176.61 90.96,184.14 95.2,191.26 99.44,197.99 103.68,204.33 107.92,210.29 112.17,215.88 116.41,221.11 120.65,225.99 124.89,230.53 129.13,234.75"/><polyline points="79.56,159.81 83.8,168.1 88.04,176.03 92.28,183.56 96.52,190.7 100.76,197.44 105.01,203.81 109.25,209.79 113.49,215.41 117.73,220.67 121.97,225.58 126.21,230.14 130.46,234.38"/><polyline points="80.88,159.27 85.12,167.54 89.36,175.45 93.61,182.98 97.85,190.13 102.09,196.89 106.33,203.28 110.57,209.29 114.81,214.94 119.05,220.23 123.3,225.16 127.54,229.75 131.78,233.99"/><polyline points="82.2,158.73 86.45,166.97 90.69,174.87 94.93,182.4 99.17,189.56 103.41,196.34 107.65,202.75 111.9,208.79 116.14,214.46 120.38,219.78 124.62,224.74 128.86,229.34 133.1,233.61"/><polyline points="83.53,158.19 87.77,166.4 92.01,174.29 96.25,181.82 100.49,188.98 104.74,195.78 108.98,202.22 113.22,208.28 117.46,213.99 121.7,219.33 125.94,224.31 130.19,228.94 134.43,233.21"/><polyline points="84.85,157.65 89.09,165.83 93.34,173.71 97.58,181.24 101.82,188.41 106.06,195.23 110.3,201.68 114.54,207.78 118.79,213.51 123.03,218.87 127.27,223.88 131.51,228.53 135.75,232.81"/><polyline points="86.18,157.11 90.42,165.26 94.66,173.12 98.9,180.65 103.14,187.84 107.38,194.67 111.63,201.15 115.87,207.27 120.11,213.02 124.35,218.42 128.59,223.44 132.83,228.11 137.08,232.41"/><polyline points="87.5,156.57 91.74,164.69 95.98,172.54 100.23,180.07 104.47,187.26 108.71,194.11 112.95,200.61 117.19,206.75 121.43,212.54 125.67,217.95 129.92,223.01 134.16,227.69 138.4,232"/><polyline points="88.82,156.03 93.07,164.12 97.31,171.96 101.55,179.48 105.79,186.68 110.03,193.54 114.27,200.05 118.52,206.21 122.76,212.01 127,217.45 131.24,222.52 135.48,227.21 139.72,231.52"/><polyline points="90.15,155.49 94.39,163.55 98.63,171.36 102.87,178.88 107.11,186.07 111.36,192.93 115.6,199.46 119.84,205.63 124.08,211.44 128.32,216.88 132.56,221.95 136.81,226.64 141.05,230.95"/><polyline points="91.47,154.95 95.71,162.98 99.96,170.76 104.2,178.26 108.44,185.45 112.68,192.31 116.92,198.83 121.16,205.01 125.41,210.82 129.65,216.26 133.89,221.33 138.13,226.01 142.37,230.3"/><polyline points="92.8,154.41 97.04,162.4 101.28,170.16 105.52,177.64 109.76,184.82 114,191.67 118.25,198.19 122.49,204.36 126.73,210.17 130.97,215.61 135.21,220.66 139.45,225.33 143.7,229.59"/><polyline points="94.12,153.87 98.36,161.82 102.6,169.56 106.84,177.02 111.09,184.18 115.33,191.02 119.57,197.53 123.81,203.69 128.05,209.5 132.29,214.92 136.54,219.97 140.78,224.61 145.02,228.83"/><polyline points="95.44,153.33 99.69,161.25 103.93,168.95 108.17,176.39 112.41,183.53 116.65,190.36 120.89,196.86 125.14,203.02 129.38,208.81 133.62,214.23 137.86,219.25 142.1,223.87 146.34,228.06"/><polyline points="96.77,152.79 101.01,160.67 105.25,168.34 109.49,175.76 113.73,182.89 117.98,189.71 122.22,196.2 126.46,202.34 130.7,208.13 134.94,213.53 139.18,218.53 143.43,223.12 147.67,227.28"/><polyline points="98.09,152.25 102.33,160.09 106.58,167.74 110.82,175.13 115.06,182.24 119.3,189.05 123.54,195.54 127.78,201.67 132.03,207.45 136.27,212.84 140.51,217.82 144.75,222.39 148.99,226.52"/><polyline points="99.42,151.71 103.66,159.52 107.9,167.13 112.14,174.51 116.38,181.6 120.62,188.4 124.87,194.88 129.11,201.01 133.35,206.78 137.59,212.16 141.83,217.13 146.07,221.68 150.32,225.78"/><polyline points="100.74,151.17 104.98,158.94 109.22,166.53 113.47,173.88 117.71,180.96 121.95,187.75 126.19,194.22 130.43,200.35 134.67,206.1 138.92,211.47 143.16,216.43 147.4,220.95 151.64,225.02"/><polyline points="102.06,150.63 106.31,158.36 110.55,165.92 114.79,173.25 119.03,180.32 123.27,187.1 127.51,193.55 131.76,199.67 136,205.42 140.24,210.77 144.48,215.71 148.72,220.21 152.96,224.25"/><polyline points="103.39,150.09 107.63,157.78 111.87,165.31 116.11,172.62 120.35,179.67 124.6,186.43 128.84,192.88 133.08,198.99 137.32,204.73 141.56,210.07 145.8,214.99 150.05,219.46 154.29,223.46"/><polyline points="104.71,149.55 108.95,157.2 113.2,164.7 117.44,171.99 121.68,179.02 125.92,185.77 130.16,192.21 134.4,198.3 138.65,204.02 142.89,209.35 147.13,214.25 151.37,218.69 155.61,222.65"/><polyline points="106.04,149.01 110.28,156.63 114.52,164.09 118.76,171.35 123,178.37 127.24,185.1 131.49,191.52 135.73,197.6 139.97,203.31 144.21,208.62 148.45,213.49 152.69,217.91 156.94,221.83"/><polyline points="107.36,148.47 111.6,156.05 115.84,163.48 120.09,170.71 124.33,177.71 128.57,184.43 132.81,190.83 137.05,196.9 141.29,202.59 145.53,207.88 149.78,212.73 154.02,217.11 158.26,220.99"/><polyline points="108.68,147.93 112.93,155.47 117.17,162.87 121.41,170.08 125.65,177.05 129.89,183.75 134.13,190.14 138.38,196.19 142.62,201.86 146.86,207.13 151.1,211.95 155.34,216.3 159.58,220.14"/><polyline points="110.01,147.39 114.25,154.89 118.49,162.26 122.73,169.44 126.97,176.38 131.22,183.06 135.46,189.44 139.7,195.47 143.94,201.13 148.18,206.37 152.42,211.16 156.67,215.47 160.91,219.27"/><polyline points="111.33,146.85 115.57,154.31 119.82,161.64 124.06,168.79 128.3,175.72 132.54,182.38 136.78,188.73 141.02,194.75 145.27,200.38 149.51,205.6 153.75,210.36 157.99,214.63 162.23,218.38"/><polyline points="112.66,146.31 116.9,153.73 121.14,161.03 125.38,168.15 129.62,175.05 133.86,181.68 138.11,188.02 142.35,194.01 146.59,199.62 150.83,204.81 155.07,209.54 159.31,213.77 163.56,217.46"/><polyline points="113.98,145.77 118.22,153.15 122.46,160.41 126.71,167.5 130.95,174.37 135.19,180.98 139.43,187.29 143.67,193.26 147.91,198.84 152.16,204 156.4,208.7 160.64,212.88 164.88,216.52"/><polyline points="115.3,145.23 119.55,152.56 123.79,159.79 128.03,166.84 132.27,173.69 136.51,180.27 140.75,186.56 145,192.5 149.24,198.06 153.48,203.18 157.72,207.84 161.96,211.98 166.2,215.56"/><polyline points="116.63,144.69 120.87,151.98 125.11,159.17 129.35,166.19 133.59,173 137.84,179.56 142.08,185.82 146.32,191.73 150.56,197.25 154.8,202.34 159.04,206.96 163.29,211.05 167.53,214.57"/><polyline points="117.95,144.15 122.19,151.4 126.44,158.54 130.68,165.53 134.92,172.31 139.16,178.84 143.4,185.07 147.64,190.95 151.89,196.44 156.13,201.49 160.37,206.06 164.61,210.1 168.85,213.56"/><polyline points="119.28,143.61 123.52,150.81 127.76,157.92 132,164.87 136.24,171.62 140.48,178.12 144.73,184.31 148.97,190.16 153.21,195.62 157.45,200.63 161.69,205.15 165.93,209.14 170.18,212.54"/><polyline points="120.6,143.07 124.84,150.23 129.08,157.29 133.33,164.21 137.57,170.92 141.81,177.39 146.05,183.55 150.29,189.37 154.53,194.79 158.78,199.76 163.02,204.23 167.26,208.16 171.5,211.49"/></g></g>
<g fill="none" stroke="#ff0000" stroke-width="1.6"><circle cx="54.5" cy="181.3" r="1.55"/><circle cx="71.2" cy="200.4" r="1.55"/><circle cx="88.2" cy="224.1" r="1.55"/><circle cx="105.3" cy="239.6" r="1.55"/><circle cx="104.5" cy="183.3" r="1.55"/><circle cx="121.4" cy="210.4" r="1.55"/><circle cx="138.5" cy="230.2" r="1.55"/><circle cx="137.9" cy="170.7" r="1.55"/><circle cx="154.8" cy="192.4" r="1.55"/><circle cx="171.8" cy="212" r="1.55"/></g>
<rect x="127.4" y="147.6" width="42.4" height="10.6" fill="#fff" stroke="#8a8a8a" stroke-width="0.6"/>
<circle cx="136.2" cy="152.6" r="1.55" fill="none" stroke="#ff0000" stroke-width="1.7"/>
<text transform="translate(145.2,155.7) scale(0.94,1)" font-size="7.9" fill="#151515" stroke="#151515" stroke-width="0.18">Line 0°</text>
<text transform="translate(49.8,175.5) scale(0.94,1)" font-size="8.8" text-anchor="end">3</text>
<text transform="translate(49.8,191.4) scale(0.94,1)" font-size="8.8" text-anchor="end">2.5</text>
<text transform="translate(49.8,207.3) scale(0.94,1)" font-size="8.8" text-anchor="end">2</text>
<text transform="translate(49.7,227) scale(0.94,1)" font-size="8.8" text-anchor="end">100</text>
<text transform="translate(92.7,248.1) scale(0.94,1)" font-size="8.8" text-anchor="end">50</text>
<text transform="translate(108.9,252.5) scale(0.94,1)" font-size="8.8" text-anchor="start">0.4</text>
<text transform="translate(141.7,243.2) scale(0.94,1)" font-size="8.8" text-anchor="start">0.6</text>
<text transform="translate(175.4,233.9) scale(0.94,1)" font-size="8.8" text-anchor="start">0.8</text>
<text x="33.4" y="152.6" font-size="10" fill="#999">×</text>
<text transform="translate(40.1,152.4) scale(0.94,1)" font-size="8.8">10<tspan dy="-3.3" font-size="6.8">4</tspan></text></g>
<g><polyline points="220.9,173.5 287.1,155.4 338,179.9" fill="none" stroke="#efefef" stroke-width="0.5"/>
<polyline points="220.9,186.6 287.1,168.5 338,193" fill="none" stroke="#efefef" stroke-width="0.5"/>
<polyline points="220.9,199.6 287.1,181.5 338,206" fill="none" stroke="#efefef" stroke-width="0.5"/>
<polyline points="220.9,212 287.1,193.9 338,218.4" fill="none" stroke="#efefef" stroke-width="0.5"/>
<line x1="329.5" y1="219.2" x2="329.5" y2="164.1" stroke="#efefef" stroke-width="0.5"/>
<line x1="254" y1="207.8" x2="254" y2="152.8" stroke="#efefef" stroke-width="0.5"/>
<polyline points="220.9,216.9 287.1,198.8 338,223.3" fill="none" stroke="#b0b0b0" stroke-width="0.6"/>
<polyline points="220.9,161.8 287.1,143.7 338,168.2" fill="none" stroke="#858585" stroke-width="0.7"/>
<line x1="287.1" y1="198.8" x2="287.1" y2="143.7" stroke="#858585" stroke-width="0.7"/>
<line x1="338" y1="223.3" x2="338" y2="168.2" stroke="#858585" stroke-width="0.7"/>
<line x1="220.9" y1="216.9" x2="220.9" y2="161.8" stroke="#858585" stroke-width="0.7"/>
<polyline points="220.9,216.9 271.8,241.4 338,223.3" fill="none" stroke="#858585" stroke-width="0.7"/>
<line x1="219.4" y1="173.6" x2="220.9" y2="173.6" stroke="#858585" stroke-width="0.6"/>
<line x1="219.4" y1="186.7" x2="220.9" y2="186.7" stroke="#858585" stroke-width="0.6"/>
<line x1="219.4" y1="199.7" x2="220.9" y2="199.7" stroke="#858585" stroke-width="0.6"/>
<line x1="219.4" y1="212.1" x2="220.9" y2="212.1" stroke="#858585" stroke-width="0.6"/>
<line x1="271.8" y1="241.4" x2="273.2" y2="242.1" stroke="#858585" stroke-width="0.6"/>
<line x1="304.9" y1="232.4" x2="306.2" y2="233" stroke="#858585" stroke-width="0.6"/>
<line x1="338" y1="223.3" x2="339.4" y2="224" stroke="#858585" stroke-width="0.6"/>
<line x1="220.9" y1="216.9" x2="219.5" y2="217.3" stroke="#858585" stroke-width="0.6"/>
<line x1="263.3" y1="237.3" x2="261.9" y2="237.7" stroke="#858585" stroke-width="0.6"/>
<defs><linearGradient id="c11g0" gradientUnits="userSpaceOnUse" x1="221.3" y1="177.1" x2="287.5" y2="152"><stop offset="0" stop-color="#f4b63a"/><stop offset="0.25" stop-color="#f3c430"/><stop offset="0.5" stop-color="#eacf28"/><stop offset="0.75" stop-color="#dbd120"/><stop offset="1" stop-color="#d0cf14"/></linearGradient><linearGradient id="c11g1" gradientUnits="userSpaceOnUse" x1="222.1" y1="178.7" x2="288.3" y2="153.2"><stop offset="0" stop-color="#e9b336"/><stop offset="0.25" stop-color="#f4bb36"/><stop offset="0.5" stop-color="#edc62c"/><stop offset="0.75" stop-color="#dccb23"/><stop offset="1" stop-color="#ceca19"/></linearGradient><linearGradient id="c11g2" gradientUnits="userSpaceOnUse" x1="222.9" y1="180.3" x2="289.1" y2="154.4"><stop offset="0" stop-color="#dbb42b"/><stop offset="0.25" stop-color="#f0b43a"/><stop offset="0.5" stop-color="#efbe31"/><stop offset="0.75" stop-color="#dec326"/><stop offset="1" stop-color="#cdc51d"/></linearGradient><linearGradient id="c11g3" gradientUnits="userSpaceOnUse" x1="223.7" y1="181.8" x2="289.9" y2="155.5"><stop offset="0" stop-color="#cbb726"/><stop offset="0.25" stop-color="#e5b233"/><stop offset="0.5" stop-color="#efb636"/><stop offset="0.75" stop-color="#e1bc2a"/><stop offset="1" stop-color="#cdbf20"/></linearGradient><linearGradient id="c11g4" gradientUnits="userSpaceOnUse" x1="224.5" y1="183.4" x2="290.7" y2="156.7"><stop offset="0" stop-color="#b9bb2a"/><stop offset="0.25" stop-color="#d8b429"/><stop offset="0.5" stop-color="#eab039"/><stop offset="0.75" stop-color="#e3b52d"/><stop offset="1" stop-color="#ceba23"/></linearGradient><linearGradient id="c11g5" gradientUnits="userSpaceOnUse" x1="225.3" y1="184.9" x2="291.5" y2="157.9"><stop offset="0" stop-color="#a6be35"/><stop offset="0.25" stop-color="#c9b725"/><stop offset="0.5" stop-color="#e0ae32"/><stop offset="0.75" stop-color="#e3ae32"/><stop offset="1" stop-color="#d1b425"/></linearGradient><linearGradient id="c11g6" gradientUnits="userSpaceOnUse" x1="226.1" y1="186.4" x2="292.3" y2="159"><stop offset="0" stop-color="#92c144"/><stop offset="0.25" stop-color="#b8ba2a"/><stop offset="0.5" stop-color="#d4af29"/><stop offset="0.75" stop-color="#e1a836"/><stop offset="1" stop-color="#d3ae28"/></linearGradient><linearGradient id="c11g7" gradientUnits="userSpaceOnUse" x1="226.9" y1="187.8" x2="293.1" y2="160.2"><stop offset="0" stop-color="#7dc354"/><stop offset="0.25" stop-color="#a6bc34"/><stop offset="0.5" stop-color="#c6b125"/><stop offset="0.75" stop-color="#daa534"/><stop offset="1" stop-color="#d4a92b"/></linearGradient><linearGradient id="c11g8" gradientUnits="userSpaceOnUse" x1="227.7" y1="189.3" x2="293.9" y2="161.3"><stop offset="0" stop-color="#69c463"/><stop offset="0.25" stop-color="#93bf41"/><stop offset="0.5" stop-color="#b7b327"/><stop offset="0.75" stop-color="#d0a52b"/><stop offset="1" stop-color="#d4a32f"/></linearGradient><linearGradient id="c11g9" gradientUnits="userSpaceOnUse" x1="228.5" y1="190.7" x2="294.7" y2="162.5"><stop offset="0" stop-color="#56c372"/><stop offset="0.25" stop-color="#80c04f"/><stop offset="0.5" stop-color="#a8b52e"/><stop offset="0.75" stop-color="#c5a625"/><stop offset="1" stop-color="#d49e32"/></linearGradient><linearGradient id="c11g10" gradientUnits="userSpaceOnUse" x1="229.3" y1="192.2" x2="295.5" y2="163.6"><stop offset="0" stop-color="#45c17f"/><stop offset="0.25" stop-color="#6dc05c"/><stop offset="0.5" stop-color="#97b738"/><stop offset="0.75" stop-color="#b9a823"/><stop offset="1" stop-color="#cf9b33"/></linearGradient><linearGradient id="c11g11" gradientUnits="userSpaceOnUse" x1="230" y1="193.5" x2="296.2" y2="164.8"><stop offset="0" stop-color="#38be8a"/><stop offset="0.25" stop-color="#5bbf69"/><stop offset="0.5" stop-color="#86b844"/><stop offset="0.75" stop-color="#acaa25"/><stop offset="1" stop-color="#c79b2c"/></linearGradient><linearGradient id="c11g12" gradientUnits="userSpaceOnUse" x1="230.8" y1="194.9" x2="297" y2="165.9"><stop offset="0" stop-color="#2fba94"/><stop offset="0.25" stop-color="#4bbd76"/><stop offset="0.5" stop-color="#75b950"/><stop offset="0.75" stop-color="#9fac2c"/><stop offset="1" stop-color="#bf9c25"/></linearGradient><linearGradient id="c11g13" gradientUnits="userSpaceOnUse" x1="231.6" y1="196.3" x2="297.8" y2="167"><stop offset="0" stop-color="#26b59e"/><stop offset="0.25" stop-color="#3cba81"/><stop offset="0.5" stop-color="#64b95c"/><stop offset="0.75" stop-color="#91ae35"/><stop offset="1" stop-color="#b69d22"/></linearGradient><linearGradient id="c11g14" gradientUnits="userSpaceOnUse" x1="232.4" y1="197.6" x2="298.6" y2="168.2"><stop offset="0" stop-color="#17b0a7"/><stop offset="0.25" stop-color="#32b78a"/><stop offset="0.5" stop-color="#55b768"/><stop offset="0.75" stop-color="#82af3f"/><stop offset="1" stop-color="#ad9f21"/></linearGradient><linearGradient id="c11g15" gradientUnits="userSpaceOnUse" x1="233.2" y1="198.9" x2="299.4" y2="169.3"><stop offset="0" stop-color="#06abaf"/><stop offset="0.25" stop-color="#2bb392"/><stop offset="0.5" stop-color="#46b572"/><stop offset="0.75" stop-color="#74b049"/><stop offset="1" stop-color="#a3a123"/></linearGradient><linearGradient id="c11g16" gradientUnits="userSpaceOnUse" x1="234" y1="200.2" x2="300.2" y2="170.4"><stop offset="0" stop-color="#01a6b6"/><stop offset="0.25" stop-color="#22ae9b"/><stop offset="0.5" stop-color="#3ab37c"/><stop offset="0.75" stop-color="#65b053"/><stop offset="1" stop-color="#98a229"/></linearGradient><linearGradient id="c11g17" gradientUnits="userSpaceOnUse" x1="234.8" y1="201.5" x2="301" y2="171.5"><stop offset="0" stop-color="#0ba0bc"/><stop offset="0.25" stop-color="#13aaa3"/><stop offset="0.5" stop-color="#31b085"/><stop offset="0.75" stop-color="#57b05e"/><stop offset="1" stop-color="#8da42f"/></linearGradient><linearGradient id="c11g18" gradientUnits="userSpaceOnUse" x1="235.6" y1="202.8" x2="301.8" y2="172.6"><stop offset="0" stop-color="#1599c0"/><stop offset="0.25" stop-color="#04a5ab"/><stop offset="0.5" stop-color="#2bad8c"/><stop offset="0.75" stop-color="#4bae68"/><stop offset="1" stop-color="#81a637"/></linearGradient><linearGradient id="c11g19" gradientUnits="userSpaceOnUse" x1="236.4" y1="204" x2="302.6" y2="173.7"><stop offset="0" stop-color="#1992c3"/><stop offset="0.25" stop-color="#01a0b1"/><stop offset="0.5" stop-color="#23a994"/><stop offset="0.75" stop-color="#3fad71"/><stop offset="1" stop-color="#76a740"/></linearGradient><linearGradient id="c11g20" gradientUnits="userSpaceOnUse" x1="237.2" y1="205.2" x2="303.4" y2="174.8"><stop offset="0" stop-color="#1d8bc4"/><stop offset="0.25" stop-color="#0b9bb7"/><stop offset="0.5" stop-color="#16a59c"/><stop offset="0.75" stop-color="#35ab79"/><stop offset="1" stop-color="#6aa849"/></linearGradient><linearGradient id="c11g21" gradientUnits="userSpaceOnUse" x1="238" y1="206.4" x2="304.2" y2="175.9"><stop offset="0" stop-color="#1f85c4"/><stop offset="0.25" stop-color="#1495bb"/><stop offset="0.5" stop-color="#08a1a3"/><stop offset="0.75" stop-color="#2ea880"/><stop offset="1" stop-color="#5ea851"/></linearGradient><linearGradient id="c11g22" gradientUnits="userSpaceOnUse" x1="238.8" y1="207.6" x2="305" y2="177"><stop offset="0" stop-color="#217ec6"/><stop offset="0.25" stop-color="#188fbe"/><stop offset="0.5" stop-color="#019da9"/><stop offset="0.75" stop-color="#28a687"/><stop offset="1" stop-color="#53a85a"/></linearGradient><linearGradient id="c11g23" gradientUnits="userSpaceOnUse" x1="239.6" y1="208.8" x2="305.8" y2="178"><stop offset="0" stop-color="#2478c7"/><stop offset="0.25" stop-color="#1c89bf"/><stop offset="0.5" stop-color="#0699af"/><stop offset="0.75" stop-color="#21a38f"/><stop offset="1" stop-color="#49a862"/></linearGradient><linearGradient id="c11g24" gradientUnits="userSpaceOnUse" x1="240.4" y1="209.9" x2="306.6" y2="179.1"><stop offset="0" stop-color="#2572ca"/><stop offset="0.25" stop-color="#1e83c0"/><stop offset="0.5" stop-color="#0f94b4"/><stop offset="0.75" stop-color="#17a096"/><stop offset="1" stop-color="#40a76a"/></linearGradient><linearGradient id="c11g25" gradientUnits="userSpaceOnUse" x1="241.2" y1="211" x2="307.4" y2="180.2"><stop offset="0" stop-color="#266dcc"/><stop offset="0.25" stop-color="#207ec2"/><stop offset="0.5" stop-color="#158fb8"/><stop offset="0.75" stop-color="#099d9c"/><stop offset="1" stop-color="#37a671"/></linearGradient><linearGradient id="c11g26" gradientUnits="userSpaceOnUse" x1="242" y1="212.2" x2="308.2" y2="181.2"><stop offset="0" stop-color="#2868ce"/><stop offset="0.25" stop-color="#2378c4"/><stop offset="0.5" stop-color="#198abb"/><stop offset="0.75" stop-color="#019aa3"/><stop offset="1" stop-color="#30a578"/></linearGradient><linearGradient id="c11g27" gradientUnits="userSpaceOnUse" x1="242.8" y1="213.2" x2="309" y2="182.3"><stop offset="0" stop-color="#2c63d0"/><stop offset="0.25" stop-color="#2573c7"/><stop offset="0.5" stop-color="#1c85bc"/><stop offset="0.75" stop-color="#0396a8"/><stop offset="1" stop-color="#2ba37f"/></linearGradient><linearGradient id="c11g28" gradientUnits="userSpaceOnUse" x1="243.6" y1="214.3" x2="309.8" y2="183.3"><stop offset="0" stop-color="#315ed1"/><stop offset="0.25" stop-color="#256ecb"/><stop offset="0.5" stop-color="#1e80be"/><stop offset="0.75" stop-color="#0b93ae"/><stop offset="1" stop-color="#27a285"/></linearGradient><linearGradient id="c11g29" gradientUnits="userSpaceOnUse" x1="244.4" y1="215.4" x2="310.6" y2="184.3"><stop offset="0" stop-color="#3559d1"/><stop offset="0.25" stop-color="#2769cd"/><stop offset="0.5" stop-color="#207bc1"/><stop offset="0.75" stop-color="#128fb3"/><stop offset="1" stop-color="#21a08b"/></linearGradient><linearGradient id="c11g30" gradientUnits="userSpaceOnUse" x1="245.2" y1="216.4" x2="311.4" y2="185.3"><stop offset="0" stop-color="#3754d0"/><stop offset="0.25" stop-color="#2a65cf"/><stop offset="0.5" stop-color="#2377c4"/><stop offset="0.75" stop-color="#178bb7"/><stop offset="1" stop-color="#199e92"/></linearGradient><linearGradient id="c11g31" gradientUnits="userSpaceOnUse" x1="246" y1="217.4" x2="312.2" y2="186.3"><stop offset="0" stop-color="#3950cf"/><stop offset="0.25" stop-color="#2f60d1"/><stop offset="0.5" stop-color="#2572c8"/><stop offset="0.75" stop-color="#1a87ba"/><stop offset="1" stop-color="#0f9c98"/></linearGradient><linearGradient id="c11g32" gradientUnits="userSpaceOnUse" x1="246.7" y1="218.4" x2="312.9" y2="187.3"><stop offset="0" stop-color="#3a4dcd"/><stop offset="0.25" stop-color="#335bd1"/><stop offset="0.5" stop-color="#256ecb"/><stop offset="0.75" stop-color="#1d83bc"/><stop offset="1" stop-color="#059a9d"/></linearGradient><linearGradient id="c11g33" gradientUnits="userSpaceOnUse" x1="247.5" y1="219.3" x2="313.7" y2="188.3"><stop offset="0" stop-color="#3a49cc"/><stop offset="0.25" stop-color="#3657d0"/><stop offset="0.5" stop-color="#2769cd"/><stop offset="0.75" stop-color="#1f7fbe"/><stop offset="1" stop-color="#0198a3"/></linearGradient><linearGradient id="c11g34" gradientUnits="userSpaceOnUse" x1="248.3" y1="220.3" x2="314.5" y2="189.3"><stop offset="0" stop-color="#3b45ca"/><stop offset="0.25" stop-color="#3852cf"/><stop offset="0.5" stop-color="#2a65cf"/><stop offset="0.75" stop-color="#207bc1"/><stop offset="1" stop-color="#0395a8"/></linearGradient><linearGradient id="c11g35" gradientUnits="userSpaceOnUse" x1="249.1" y1="221.2" x2="315.3" y2="190.3"><stop offset="0" stop-color="#3b42c7"/><stop offset="0.25" stop-color="#394ece"/><stop offset="0.5" stop-color="#2e60d1"/><stop offset="0.75" stop-color="#2377c4"/><stop offset="1" stop-color="#0a93ad"/></linearGradient><linearGradient id="c11g36" gradientUnits="userSpaceOnUse" x1="249.9" y1="222.1" x2="316.1" y2="191.2"><stop offset="0" stop-color="#3b3fc5"/><stop offset="0.25" stop-color="#3a4bcd"/><stop offset="0.5" stop-color="#335cd1"/><stop offset="0.75" stop-color="#2573c7"/><stop offset="1" stop-color="#1090b1"/></linearGradient><linearGradient id="c11g37" gradientUnits="userSpaceOnUse" x1="250.7" y1="223" x2="316.9" y2="192.2"><stop offset="0" stop-color="#3b3cc2"/><stop offset="0.25" stop-color="#3b47cb"/><stop offset="0.5" stop-color="#3657d0"/><stop offset="0.75" stop-color="#256fca"/><stop offset="1" stop-color="#158db5"/></linearGradient><linearGradient id="c11g38" gradientUnits="userSpaceOnUse" x1="251.5" y1="223.9" x2="317.7" y2="193.1"><stop offset="0" stop-color="#3b39c0"/><stop offset="0.25" stop-color="#3b44c9"/><stop offset="0.5" stop-color="#3853cf"/><stop offset="0.75" stop-color="#266bcc"/><stop offset="1" stop-color="#188ab8"/></linearGradient><linearGradient id="c11g39" gradientUnits="userSpaceOnUse" x1="252.3" y1="224.8" x2="318.5" y2="194"><stop offset="0" stop-color="#3a37bd"/><stop offset="0.25" stop-color="#3b41c6"/><stop offset="0.5" stop-color="#394fce"/><stop offset="0.75" stop-color="#2867ce"/><stop offset="1" stop-color="#1a87ba"/></linearGradient><linearGradient id="c11g40" gradientUnits="userSpaceOnUse" x1="253.1" y1="225.6" x2="319.3" y2="195"><stop offset="0" stop-color="#3a34ba"/><stop offset="0.25" stop-color="#3b3ec4"/><stop offset="0.5" stop-color="#3a4ccd"/><stop offset="0.75" stop-color="#2c63d0"/><stop offset="1" stop-color="#1c84bb"/></linearGradient><linearGradient id="c11g41" gradientUnits="userSpaceOnUse" x1="253.9" y1="226.4" x2="320.1" y2="195.9"><stop offset="0" stop-color="#3a32b7"/><stop offset="0.25" stop-color="#3b3bc1"/><stop offset="0.5" stop-color="#3a48cb"/><stop offset="0.75" stop-color="#305ed1"/><stop offset="1" stop-color="#1e81bd"/></linearGradient><linearGradient id="c11g42" gradientUnits="userSpaceOnUse" x1="254.7" y1="227.2" x2="320.9" y2="196.8"><stop offset="0" stop-color="#3930b4"/><stop offset="0.25" stop-color="#3a38be"/><stop offset="0.5" stop-color="#3b45c9"/><stop offset="0.75" stop-color="#345ad1"/><stop offset="1" stop-color="#1f7ebf"/></linearGradient><linearGradient id="c11g43" gradientUnits="userSpaceOnUse" x1="255.5" y1="228" x2="321.7" y2="197.6"><stop offset="0" stop-color="#392eb1"/><stop offset="0.25" stop-color="#3a35bb"/><stop offset="0.5" stop-color="#3b42c7"/><stop offset="0.75" stop-color="#3657d0"/><stop offset="1" stop-color="#217bc1"/></linearGradient><linearGradient id="c11g44" gradientUnits="userSpaceOnUse" x1="256.3" y1="228.8" x2="322.5" y2="198.5"><stop offset="0" stop-color="#382cad"/><stop offset="0.25" stop-color="#3a33b8"/><stop offset="0.5" stop-color="#3b3fc5"/><stop offset="0.75" stop-color="#3853cf"/><stop offset="1" stop-color="#2378c3"/></linearGradient><linearGradient id="c11g45" gradientUnits="userSpaceOnUse" x1="257.1" y1="229.5" x2="323.3" y2="199.4"><stop offset="0" stop-color="#382baa"/><stop offset="0.25" stop-color="#3930b5"/><stop offset="0.5" stop-color="#3b3cc2"/><stop offset="0.75" stop-color="#3950cf"/><stop offset="1" stop-color="#2475c6"/></linearGradient><linearGradient id="c11g46" gradientUnits="userSpaceOnUse" x1="257.9" y1="230.3" x2="324.1" y2="200.2"><stop offset="0" stop-color="#372aa7"/><stop offset="0.25" stop-color="#392eb1"/><stop offset="0.5" stop-color="#3b39c0"/><stop offset="0.75" stop-color="#3a4ccd"/><stop offset="1" stop-color="#2572c8"/></linearGradient><linearGradient id="c11g47" gradientUnits="userSpaceOnUse" x1="258.7" y1="231" x2="324.9" y2="201"><stop offset="0" stop-color="#3728a4"/><stop offset="0.25" stop-color="#382dae"/><stop offset="0.5" stop-color="#3a36bd"/><stop offset="0.75" stop-color="#3a49cc"/><stop offset="1" stop-color="#256fca"/></linearGradient><linearGradient id="c11g48" gradientUnits="userSpaceOnUse" x1="259.5" y1="231.7" x2="325.7" y2="201.8"><stop offset="0" stop-color="#3727a1"/><stop offset="0.25" stop-color="#382baa"/><stop offset="0.5" stop-color="#3a34ba"/><stop offset="0.75" stop-color="#3b46ca"/><stop offset="1" stop-color="#266ccc"/></linearGradient><linearGradient id="c11g49" gradientUnits="userSpaceOnUse" x1="260.3" y1="232.3" x2="326.5" y2="202.6"><stop offset="0" stop-color="#36269e"/><stop offset="0.25" stop-color="#372aa7"/><stop offset="0.5" stop-color="#3a31b7"/><stop offset="0.75" stop-color="#3b44c8"/><stop offset="1" stop-color="#2769cd"/></linearGradient><linearGradient id="c11g50" gradientUnits="userSpaceOnUse" x1="261.1" y1="233" x2="327.3" y2="203.4"><stop offset="0" stop-color="#36269c"/><stop offset="0.25" stop-color="#3728a3"/><stop offset="0.5" stop-color="#392fb3"/><stop offset="0.75" stop-color="#3b41c6"/><stop offset="1" stop-color="#2966ce"/></linearGradient><linearGradient id="c11g51" gradientUnits="userSpaceOnUse" x1="261.9" y1="233.6" x2="328.1" y2="204.2"><stop offset="0" stop-color="#35259a"/><stop offset="0.25" stop-color="#3627a0"/><stop offset="0.5" stop-color="#392eb0"/><stop offset="0.75" stop-color="#3b3ec4"/><stop offset="1" stop-color="#2b63cf"/></linearGradient><linearGradient id="c11g52" gradientUnits="userSpaceOnUse" x1="262.7" y1="234.2" x2="328.9" y2="205"><stop offset="0" stop-color="#352498"/><stop offset="0.25" stop-color="#36269d"/><stop offset="0.5" stop-color="#382cac"/><stop offset="0.75" stop-color="#3b3cc2"/><stop offset="1" stop-color="#2e61d0"/></linearGradient><linearGradient id="c11g53" gradientUnits="userSpaceOnUse" x1="263.4" y1="234.8" x2="329.6" y2="205.7"><stop offset="0" stop-color="#352396"/><stop offset="0.25" stop-color="#35259b"/><stop offset="0.5" stop-color="#382aa9"/><stop offset="0.75" stop-color="#3b39c0"/><stop offset="1" stop-color="#305ed1"/></linearGradient><linearGradient id="c11g54" gradientUnits="userSpaceOnUse" x1="264.2" y1="235.4" x2="330.4" y2="206.4"><stop offset="0" stop-color="#342395"/><stop offset="0.25" stop-color="#352498"/><stop offset="0.5" stop-color="#3729a6"/><stop offset="0.75" stop-color="#3a37be"/><stop offset="1" stop-color="#335cd1"/></linearGradient><linearGradient id="c11g55" gradientUnits="userSpaceOnUse" x1="265" y1="236" x2="331.2" y2="207.2"><stop offset="0" stop-color="#342293"/><stop offset="0.25" stop-color="#352396"/><stop offset="0.5" stop-color="#3728a2"/><stop offset="0.75" stop-color="#3a35bc"/><stop offset="1" stop-color="#3459d1"/></linearGradient><linearGradient id="c11g56" gradientUnits="userSpaceOnUse" x1="265.8" y1="236.5" x2="332" y2="207.9"><stop offset="0" stop-color="#342292"/><stop offset="0.25" stop-color="#342294"/><stop offset="0.5" stop-color="#36279f"/><stop offset="0.75" stop-color="#3a33b9"/><stop offset="1" stop-color="#3657d0"/></linearGradient><linearGradient id="c11g57" gradientUnits="userSpaceOnUse" x1="266.6" y1="237" x2="332.8" y2="208.5"><stop offset="0" stop-color="#342291"/><stop offset="0.25" stop-color="#342292"/><stop offset="0.5" stop-color="#36269c"/><stop offset="0.75" stop-color="#3a31b7"/><stop offset="1" stop-color="#3755d0"/></linearGradient><linearGradient id="c11g58" gradientUnits="userSpaceOnUse" x1="267.4" y1="237.6" x2="333.6" y2="209.2"><stop offset="0" stop-color="#342190"/><stop offset="0.25" stop-color="#342190"/><stop offset="0.5" stop-color="#35259a"/><stop offset="0.75" stop-color="#3930b4"/><stop offset="1" stop-color="#3853cf"/></linearGradient><linearGradient id="c11g59" gradientUnits="userSpaceOnUse" x1="268.2" y1="238" x2="334.4" y2="209.9"><stop offset="0" stop-color="#34218f"/><stop offset="0.25" stop-color="#33218f"/><stop offset="0.5" stop-color="#352497"/><stop offset="0.75" stop-color="#392eb1"/><stop offset="1" stop-color="#3851cf"/></linearGradient><linearGradient id="c11g60" gradientUnits="userSpaceOnUse" x1="269" y1="238.5" x2="335.2" y2="210.5"><stop offset="0" stop-color="#33218e"/><stop offset="0.25" stop-color="#33208d"/><stop offset="0.5" stop-color="#352395"/><stop offset="0.75" stop-color="#392daf"/><stop offset="1" stop-color="#3950cf"/></linearGradient><linearGradient id="c11g61" gradientUnits="userSpaceOnUse" x1="269.8" y1="239" x2="336" y2="211.1"><stop offset="0" stop-color="#33218e"/><stop offset="0.25" stop-color="#33208c"/><stop offset="0.5" stop-color="#342293"/><stop offset="0.75" stop-color="#382cac"/><stop offset="1" stop-color="#394ece"/></linearGradient><linearGradient id="c11g62" gradientUnits="userSpaceOnUse" x1="270.6" y1="239.4" x2="336.8" y2="211.7"><stop offset="0" stop-color="#33218e"/><stop offset="0.25" stop-color="#33208b"/><stop offset="0.5" stop-color="#342291"/><stop offset="0.75" stop-color="#382baa"/><stop offset="1" stop-color="#3a4dce"/></linearGradient><linearGradient id="c11g63" gradientUnits="userSpaceOnUse" x1="271.4" y1="239.8" x2="337.6" y2="212.3"><stop offset="0" stop-color="#33208d"/><stop offset="0.25" stop-color="#33208a"/><stop offset="0.5" stop-color="#342190"/><stop offset="0.75" stop-color="#382aa7"/><stop offset="1" stop-color="#3a4bcd"/></linearGradient></defs>
<clipPath id="c11"><polygon points="220.9,176.3 221.7,177.9 222.5,179.5 223.3,181 224.1,182.6 224.9,184.1 225.7,185.6 226.5,187.1 227.3,188.6 228.1,190 228.9,191.4 229.6,192.9 230.4,194.2 231.2,195.6 232,197 232.8,198.3 233.6,199.6 234.4,200.9 235.2,202.1 236,203.4 236.8,204.6 237.6,205.8 238.4,207 239.2,208.2 240,209.4 240.8,210.5 241.6,211.6 242.4,212.7 243.2,213.8 244,214.8 244.8,215.9 245.6,216.9 246.4,217.9 247.1,218.9 247.9,219.8 248.7,220.8 249.5,221.7 250.3,222.6 251.1,223.5 251.9,224.4 252.7,225.2 253.5,226 254.3,226.8 255.1,227.6 255.9,228.4 256.7,229.2 257.5,229.9 258.3,230.6 259.1,231.3 259.9,232 260.7,232.7 261.5,233.3 262.3,233.9 263.1,234.5 263.8,235.1 264.6,235.7 265.4,236.3 266.2,236.8 267,237.3 267.8,237.8 268.6,238.3 269.4,238.7 270.2,239.2 271,239.6 271.8,240 282.8,237.6 293.9,234.4 304.9,230.7 315.9,226.4 327,220.2 338,212.6 337.2,212 336.4,211.4 335.6,210.8 334.8,210.2 334,209.5 333.2,208.9 332.4,208.2 331.6,207.5 330.8,206.8 330,206.1 329.3,205.3 328.5,204.6 327.7,203.8 326.9,203 326.1,202.2 325.3,201.4 324.5,200.6 323.7,199.8 322.9,198.9 322.1,198.1 321.3,197.2 320.5,196.3 319.7,195.4 318.9,194.5 318.1,193.6 317.3,192.7 316.5,191.7 315.7,190.8 314.9,189.8 314.1,188.8 313.3,187.8 312.6,186.8 311.8,185.8 311,184.8 310.2,183.8 309.4,182.8 308.6,181.7 307.8,180.7 307,179.6 306.2,178.6 305.4,177.5 304.6,176.4 303.8,175.4 303,174.3 302.2,173.2 301.4,172.1 300.6,171 299.8,169.8 299,168.7 298.2,167.6 297.4,166.5 296.6,165.3 295.8,164.2 295.1,163.1 294.3,161.9 293.5,160.8 292.7,159.6 291.9,158.4 291.1,157.3 290.3,156.1 289.5,155 288.7,153.8 287.9,152.6 287.1,151.5 276.1,155.6 265,159.7 254,163.9 243,168 231.9,172.2"/></clipPath>
<g clip-path="url(#c11)" stroke-width="1" stroke-linejoin="round"><polygon points="220.9,176.3 231.9,172.2 243,168 254,163.9 265,159.7 276.1,155.6 287.1,151.5 287.9,152.6 276.9,156.8 265.8,161.1 254.8,165.3 243.8,169.5 232.7,173.7 221.7,177.9" fill="url(#c11g0)" stroke="url(#c11g0)"/><polygon points="221.7,177.9 232.7,173.7 243.8,169.5 254.8,165.3 265.8,161.1 276.9,156.8 287.9,152.6 288.7,153.8 277.7,158.1 266.6,162.4 255.6,166.7 244.6,170.9 233.5,175.2 222.5,179.5" fill="url(#c11g1)" stroke="url(#c11g1)"/><polygon points="222.5,179.5 233.5,175.2 244.6,170.9 255.6,166.7 266.6,162.4 277.7,158.1 288.7,153.8 289.5,155 278.5,159.3 267.4,163.7 256.4,168 245.4,172.4 234.3,176.7 223.3,181" fill="url(#c11g2)" stroke="url(#c11g2)"/><polygon points="223.3,181 234.3,176.7 245.4,172.4 256.4,168 267.4,163.7 278.5,159.3 289.5,155 290.3,156.1 279.2,160.6 268.2,165 257.2,169.4 246.1,173.8 235.1,178.2 224.1,182.6" fill="url(#c11g3)" stroke="url(#c11g3)"/><polygon points="224.1,182.6 235.1,178.2 246.1,173.8 257.2,169.4 268.2,165 279.2,160.6 290.3,156.1 291.1,157.3 280,161.8 269,166.3 258,170.8 246.9,175.3 235.9,179.7 224.9,184.1" fill="url(#c11g4)" stroke="url(#c11g4)"/><polygon points="224.9,184.1 235.9,179.7 246.9,175.3 258,170.8 269,166.3 280,161.8 291.1,157.3 291.9,158.4 280.8,163.1 269.8,167.6 258.8,172.2 247.7,176.7 236.7,181.2 225.7,185.6" fill="url(#c11g5)" stroke="url(#c11g5)"/><polygon points="225.7,185.6 236.7,181.2 247.7,176.7 258.8,172.2 269.8,167.6 280.8,163.1 291.9,158.4 292.7,159.6 281.6,164.3 270.6,168.9 259.6,173.5 248.5,178.1 237.5,182.6 226.5,187.1" fill="url(#c11g6)" stroke="url(#c11g6)"/><polygon points="226.5,187.1 237.5,182.6 248.5,178.1 259.6,173.5 270.6,168.9 281.6,164.3 292.7,159.6 293.5,160.8 282.4,165.5 271.4,170.2 260.4,174.9 249.3,179.5 238.3,184 227.3,188.6" fill="url(#c11g7)" stroke="url(#c11g7)"/><polygon points="227.3,188.6 238.3,184 249.3,179.5 260.4,174.9 271.4,170.2 282.4,165.5 293.5,160.8 294.3,161.9 283.2,166.8 272.2,171.5 261.2,176.2 250.1,180.8 239.1,185.4 228.1,190" fill="url(#c11g8)" stroke="url(#c11g8)"/><polygon points="228.1,190 239.1,185.4 250.1,180.8 261.2,176.2 272.2,171.5 283.2,166.8 294.3,161.9 295.1,163.1 284,168 273,172.8 262,177.5 250.9,182.2 239.9,186.8 228.9,191.4" fill="url(#c11g9)" stroke="url(#c11g9)"/><polygon points="228.9,191.4 239.9,186.8 250.9,182.2 262,177.5 273,172.8 284,168 295.1,163.1 295.8,164.2 284.8,169.2 273.8,174.1 262.7,178.8 251.7,183.5 240.7,188.2 229.6,192.9" fill="url(#c11g10)" stroke="url(#c11g10)"/><polygon points="229.6,192.9 240.7,188.2 251.7,183.5 262.7,178.8 273.8,174.1 284.8,169.2 295.8,164.2 296.6,165.3 285.6,170.4 274.6,175.3 263.5,180.1 252.5,184.9 241.5,189.6 230.4,194.2" fill="url(#c11g11)" stroke="url(#c11g11)"/><polygon points="230.4,194.2 241.5,189.6 252.5,184.9 263.5,180.1 274.6,175.3 285.6,170.4 296.6,165.3 297.4,166.5 286.4,171.6 275.4,176.6 264.3,181.4 253.3,186.2 242.3,190.9 231.2,195.6" fill="url(#c11g12)" stroke="url(#c11g12)"/><polygon points="231.2,195.6 242.3,190.9 253.3,186.2 264.3,181.4 275.4,176.6 286.4,171.6 297.4,166.5 298.2,167.6 287.2,172.8 276.2,177.9 265.1,182.7 254.1,187.5 243.1,192.3 232,197" fill="url(#c11g13)" stroke="url(#c11g13)"/><polygon points="232,197 243.1,192.3 254.1,187.5 265.1,182.7 276.2,177.9 287.2,172.8 298.2,167.6 299,168.7 288,174 277,179.1 265.9,184 254.9,188.8 243.9,193.6 232.8,198.3" fill="url(#c11g14)" stroke="url(#c11g14)"/><polygon points="232.8,198.3 243.9,193.6 254.9,188.8 265.9,184 277,179.1 288,174 299,168.7 299.8,169.8 288.8,175.2 277.8,180.3 266.7,185.3 255.7,190.1 244.7,194.9 233.6,199.6" fill="url(#c11g15)" stroke="url(#c11g15)"/><polygon points="233.6,199.6 244.7,194.9 255.7,190.1 266.7,185.3 277.8,180.3 288.8,175.2 299.8,169.8 300.6,171 289.6,176.4 278.6,181.6 267.5,186.5 256.5,191.4 245.5,196.2 234.4,200.9" fill="url(#c11g16)" stroke="url(#c11g16)"/><polygon points="234.4,200.9 245.5,196.2 256.5,191.4 267.5,186.5 278.6,181.6 289.6,176.4 300.6,171 301.4,172.1 290.4,177.5 279.3,182.8 268.3,187.8 257.3,192.6 246.2,197.5 235.2,202.1" fill="url(#c11g17)" stroke="url(#c11g17)"/><polygon points="235.2,202.1 246.2,197.5 257.3,192.6 268.3,187.8 279.3,182.8 290.4,177.5 301.4,172.1 302.2,173.2 291.2,178.7 280.1,184 269.1,189 258.1,193.9 247,198.7 236,203.4" fill="url(#c11g18)" stroke="url(#c11g18)"/><polygon points="236,203.4 247,198.7 258.1,193.9 269.1,189 280.1,184 291.2,178.7 302.2,173.2 303,174.3 292,179.8 280.9,185.2 269.9,190.2 258.9,195.1 247.8,199.9 236.8,204.6" fill="url(#c11g19)" stroke="url(#c11g19)"/><polygon points="236.8,204.6 247.8,199.9 258.9,195.1 269.9,190.2 280.9,185.2 292,179.8 303,174.3 303.8,175.4 292.8,181 281.7,186.4 270.7,191.4 259.7,196.3 248.6,201.2 237.6,205.8" fill="url(#c11g20)" stroke="url(#c11g20)"/><polygon points="237.6,205.8 248.6,201.2 259.7,196.3 270.7,191.4 281.7,186.4 292.8,181 303.8,175.4 304.6,176.4 293.6,182.1 282.5,187.6 271.5,192.6 260.5,197.5 249.4,202.4 238.4,207" fill="url(#c11g21)" stroke="url(#c11g21)"/><polygon points="238.4,207 249.4,202.4 260.5,197.5 271.5,192.6 282.5,187.6 293.6,182.1 304.6,176.4 305.4,177.5 294.4,183.3 283.3,188.7 272.3,193.8 261.3,198.7 250.2,203.6 239.2,208.2" fill="url(#c11g22)" stroke="url(#c11g22)"/><polygon points="239.2,208.2 250.2,203.6 261.3,198.7 272.3,193.8 283.3,188.7 294.4,183.3 305.4,177.5 306.2,178.6 295.2,184.4 284.1,189.9 273.1,195 262.1,199.9 251,204.7 240,209.4" fill="url(#c11g23)" stroke="url(#c11g23)"/><polygon points="240,209.4 251,204.7 262.1,199.9 273.1,195 284.1,189.9 295.2,184.4 306.2,178.6 307,179.6 295.9,185.5 284.9,191.1 273.9,196.1 262.8,201.1 251.8,205.9 240.8,210.5" fill="url(#c11g24)" stroke="url(#c11g24)"/><polygon points="240.8,210.5 251.8,205.9 262.8,201.1 273.9,196.1 284.9,191.1 295.9,185.5 307,179.6 307.8,180.7 296.7,186.6 285.7,192.2 274.7,197.3 263.6,202.2 252.6,207 241.6,211.6" fill="url(#c11g25)" stroke="url(#c11g25)"/><polygon points="241.6,211.6 252.6,207 263.6,202.2 274.7,197.3 285.7,192.2 296.7,186.6 307.8,180.7 308.6,181.7 297.5,187.7 286.5,193.3 275.5,198.4 264.4,203.3 253.4,208.1 242.4,212.7" fill="url(#c11g26)" stroke="url(#c11g26)"/><polygon points="242.4,212.7 253.4,208.1 264.4,203.3 275.5,198.4 286.5,193.3 297.5,187.7 308.6,181.7 309.4,182.8 298.3,188.8 287.3,194.5 276.3,199.6 265.2,204.5 254.2,209.2 243.2,213.8" fill="url(#c11g27)" stroke="url(#c11g27)"/><polygon points="243.2,213.8 254.2,209.2 265.2,204.5 276.3,199.6 287.3,194.5 298.3,188.8 309.4,182.8 310.2,183.8 299.1,189.9 288.1,195.6 277.1,200.7 266,205.6 255,210.3 244,214.8" fill="url(#c11g28)" stroke="url(#c11g28)"/><polygon points="244,214.8 255,210.3 266,205.6 277.1,200.7 288.1,195.6 299.1,189.9 310.2,183.8 311,184.8 299.9,191 288.9,196.7 277.9,201.8 266.8,206.6 255.8,211.4 244.8,215.9" fill="url(#c11g29)" stroke="url(#c11g29)"/><polygon points="244.8,215.9 255.8,211.4 266.8,206.6 277.9,201.8 288.9,196.7 299.9,191 311,184.8 311.8,185.8 300.7,192 289.7,197.8 278.7,202.9 267.6,207.7 256.6,212.4 245.6,216.9" fill="url(#c11g30)" stroke="url(#c11g30)"/><polygon points="245.6,216.9 256.6,212.4 267.6,207.7 278.7,202.9 289.7,197.8 300.7,192 311.8,185.8 312.6,186.8 301.5,193.1 290.5,198.8 279.5,203.9 268.4,208.8 257.4,213.5 246.4,217.9" fill="url(#c11g31)" stroke="url(#c11g31)"/><polygon points="246.4,217.9 257.4,213.5 268.4,208.8 279.5,203.9 290.5,198.8 301.5,193.1 312.6,186.8 313.3,187.8 302.3,194.1 291.3,199.9 280.2,205 269.2,209.8 258.2,214.5 247.1,218.9" fill="url(#c11g32)" stroke="url(#c11g32)"/><polygon points="247.1,218.9 258.2,214.5 269.2,209.8 280.2,205 291.3,199.9 302.3,194.1 313.3,187.8 314.1,188.8 303.1,195.2 292.1,200.9 281,206 270,210.8 259,215.5 247.9,219.8" fill="url(#c11g33)" stroke="url(#c11g33)"/><polygon points="247.9,219.8 259,215.5 270,210.8 281,206 292.1,200.9 303.1,195.2 314.1,188.8 314.9,189.8 303.9,196.2 292.9,202 281.8,207.1 270.8,211.9 259.8,216.5 248.7,220.8" fill="url(#c11g34)" stroke="url(#c11g34)"/><polygon points="248.7,220.8 259.8,216.5 270.8,211.9 281.8,207.1 292.9,202 303.9,196.2 314.9,189.8 315.7,190.8 304.7,197.2 293.7,203 282.6,208.1 271.6,212.9 260.6,217.5 249.5,221.7" fill="url(#c11g35)" stroke="url(#c11g35)"/><polygon points="249.5,221.7 260.6,217.5 271.6,212.9 282.6,208.1 293.7,203 304.7,197.2 315.7,190.8 316.5,191.7 305.5,198.2 294.5,204 283.4,209.1 272.4,213.8 261.4,218.4 250.3,222.6" fill="url(#c11g36)" stroke="url(#c11g36)"/><polygon points="250.3,222.6 261.4,218.4 272.4,213.8 283.4,209.1 294.5,204 305.5,198.2 316.5,191.7 317.3,192.7 306.3,199.2 295.3,205 284.2,210.1 273.2,214.8 262.2,219.3 251.1,223.5" fill="url(#c11g37)" stroke="url(#c11g37)"/><polygon points="251.1,223.5 262.2,219.3 273.2,214.8 284.2,210.1 295.3,205 306.3,199.2 317.3,192.7 318.1,193.6 307.1,200.1 296.1,206 285,211.1 274,215.8 263,220.3 251.9,224.4" fill="url(#c11g38)" stroke="url(#c11g38)"/><polygon points="251.9,224.4 263,220.3 274,215.8 285,211.1 296.1,206 307.1,200.1 318.1,193.6 318.9,194.5 307.9,201.1 296.8,207 285.8,212 274.8,216.7 263.7,221.2 252.7,225.2" fill="url(#c11g39)" stroke="url(#c11g39)"/><polygon points="252.7,225.2 263.7,221.2 274.8,216.7 285.8,212 296.8,207 307.9,201.1 318.9,194.5 319.7,195.4 308.7,202.1 297.6,208 286.6,213 275.6,217.6 264.5,222 253.5,226" fill="url(#c11g40)" stroke="url(#c11g40)"/><polygon points="253.5,226 264.5,222 275.6,217.6 286.6,213 297.6,208 308.7,202.1 319.7,195.4 320.5,196.3 309.5,203 298.4,209 287.4,213.9 276.4,218.5 265.3,222.9 254.3,226.8" fill="url(#c11g41)" stroke="url(#c11g41)"/><polygon points="254.3,226.8 265.3,222.9 276.4,218.5 287.4,213.9 298.4,209 309.5,203 320.5,196.3 321.3,197.2 310.3,203.9 299.2,209.9 288.2,214.9 277.2,219.4 266.1,223.8 255.1,227.6" fill="url(#c11g42)" stroke="url(#c11g42)"/><polygon points="255.1,227.6 266.1,223.8 277.2,219.4 288.2,214.9 299.2,209.9 310.3,203.9 321.3,197.2 322.1,198.1 311.1,204.8 300,210.8 289,215.8 278,220.3 266.9,224.6 255.9,228.4" fill="url(#c11g43)" stroke="url(#c11g43)"/><polygon points="255.9,228.4 266.9,224.6 278,220.3 289,215.8 300,210.8 311.1,204.8 322.1,198.1 322.9,198.9 311.9,205.7 300.8,211.7 289.8,216.7 278.8,221.1 267.7,225.4 256.7,229.2" fill="url(#c11g44)" stroke="url(#c11g44)"/><polygon points="256.7,229.2 267.7,225.4 278.8,221.1 289.8,216.7 300.8,211.7 311.9,205.7 322.9,198.9 323.7,199.8 312.7,206.6 301.6,212.6 290.6,217.5 279.6,222 268.5,226.2 257.5,229.9" fill="url(#c11g45)" stroke="url(#c11g45)"/><polygon points="257.5,229.9 268.5,226.2 279.6,222 290.6,217.5 301.6,212.6 312.7,206.6 323.7,199.8 324.5,200.6 313.4,207.5 302.4,213.5 291.4,218.4 280.3,222.8 269.3,227 258.3,230.6" fill="url(#c11g46)" stroke="url(#c11g46)"/><polygon points="258.3,230.6 269.3,227 280.3,222.8 291.4,218.4 302.4,213.5 313.4,207.5 324.5,200.6 325.3,201.4 314.2,208.4 303.2,214.4 292.2,219.3 281.1,223.6 270.1,227.8 259.1,231.3" fill="url(#c11g47)" stroke="url(#c11g47)"/><polygon points="259.1,231.3 270.1,227.8 281.1,223.6 292.2,219.3 303.2,214.4 314.2,208.4 325.3,201.4 326.1,202.2 315,209.2 304,215.3 293,220.1 281.9,224.4 270.9,228.5 259.9,232" fill="url(#c11g48)" stroke="url(#c11g48)"/><polygon points="259.9,232 270.9,228.5 281.9,224.4 293,220.1 304,215.3 315,209.2 326.1,202.2 326.9,203 315.8,210.1 304.8,216.1 293.8,220.9 282.7,225.2 271.7,229.2 260.7,232.7" fill="url(#c11g49)" stroke="url(#c11g49)"/><polygon points="260.7,232.7 271.7,229.2 282.7,225.2 293.8,220.9 304.8,216.1 315.8,210.1 326.9,203 327.7,203.8 316.6,210.9 305.6,216.9 294.6,221.7 283.5,226 272.5,229.9 261.5,233.3" fill="url(#c11g50)" stroke="url(#c11g50)"/><polygon points="261.5,233.3 272.5,229.9 283.5,226 294.6,221.7 305.6,216.9 316.6,210.9 327.7,203.8 328.5,204.6 317.4,211.7 306.4,217.8 295.4,222.5 284.3,226.7 273.3,230.6 262.3,233.9" fill="url(#c11g51)" stroke="url(#c11g51)"/><polygon points="262.3,233.9 273.3,230.6 284.3,226.7 295.4,222.5 306.4,217.8 317.4,211.7 328.5,204.6 329.3,205.3 318.2,212.5 307.2,218.6 296.2,223.3 285.1,227.4 274.1,231.3 263.1,234.5" fill="url(#c11g52)" stroke="url(#c11g52)"/><polygon points="263.1,234.5 274.1,231.3 285.1,227.4 296.2,223.3 307.2,218.6 318.2,212.5 329.3,205.3 330,206.1 319,213.3 308,219.4 296.9,224 285.9,228.2 274.9,232 263.8,235.1" fill="url(#c11g53)" stroke="url(#c11g53)"/><polygon points="263.8,235.1 274.9,232 285.9,228.2 296.9,224 308,219.4 319,213.3 330,206.1 330.8,206.8 319.8,214 308.8,220.1 297.7,224.8 286.7,228.9 275.7,232.6 264.6,235.7" fill="url(#c11g54)" stroke="url(#c11g54)"/><polygon points="264.6,235.7 275.7,232.6 286.7,228.9 297.7,224.8 308.8,220.1 319.8,214 330.8,206.8 331.6,207.5 320.6,214.8 309.6,220.9 298.5,225.5 287.5,229.5 276.5,233.2 265.4,236.3" fill="url(#c11g55)" stroke="url(#c11g55)"/><polygon points="265.4,236.3 276.5,233.2 287.5,229.5 298.5,225.5 309.6,220.9 320.6,214.8 331.6,207.5 332.4,208.2 321.4,215.5 310.4,221.6 299.3,226.2 288.3,230.2 277.3,233.9 266.2,236.8" fill="url(#c11g56)" stroke="url(#c11g56)"/><polygon points="266.2,236.8 277.3,233.9 288.3,230.2 299.3,226.2 310.4,221.6 321.4,215.5 332.4,208.2 333.2,208.9 322.2,216.2 311.2,222.3 300.1,226.9 289.1,230.8 278.1,234.4 267,237.3" fill="url(#c11g57)" stroke="url(#c11g57)"/><polygon points="267,237.3 278.1,234.4 289.1,230.8 300.1,226.9 311.2,222.3 322.2,216.2 333.2,208.9 334,209.5 323,216.9 312,223.1 300.9,227.6 289.9,231.5 278.9,235 267.8,237.8" fill="url(#c11g58)" stroke="url(#c11g58)"/><polygon points="267.8,237.8 278.9,235 289.9,231.5 300.9,227.6 312,223.1 323,216.9 334,209.5 334.8,210.2 323.8,217.6 312.8,223.8 301.7,228.3 290.7,232.1 279.7,235.6 268.6,238.3" fill="url(#c11g59)" stroke="url(#c11g59)"/><polygon points="268.6,238.3 279.7,235.6 290.7,232.1 301.7,228.3 312.8,223.8 323.8,217.6 334.8,210.2 335.6,210.8 324.6,218.3 313.5,224.4 302.5,228.9 291.5,232.7 280.4,236.1 269.4,238.7" fill="url(#c11g60)" stroke="url(#c11g60)"/><polygon points="269.4,238.7 280.4,236.1 291.5,232.7 302.5,228.9 313.5,224.4 324.6,218.3 335.6,210.8 336.4,211.4 325.4,218.9 314.3,225.1 303.3,229.5 292.3,233.3 281.2,236.6 270.2,239.2" fill="url(#c11g61)" stroke="url(#c11g61)"/><polygon points="270.2,239.2 281.2,236.6 292.3,233.3 303.3,229.5 314.3,225.1 325.4,218.9 336.4,211.4 337.2,212 326.2,219.6 315.1,225.7 304.1,230.1 293.1,233.8 282,237.1 271,239.6" fill="url(#c11g62)" stroke="url(#c11g62)"/><polygon points="271,239.6 282,237.1 293.1,233.8 304.1,230.1 315.1,225.7 326.2,219.6 337.2,212 338,212.6 327,220.2 315.9,226.4 304.9,230.7 293.9,234.4 282.8,237.6 271.8,240" fill="url(#c11g63)" stroke="url(#c11g63)"/><g fill="none" stroke="#000" stroke-width="0.5"><polyline stroke-opacity="0.27" points="220.9,176.29 237.45,170.09 254,163.88 270.55,157.67 287.1,151.46"/><polyline stroke-opacity="0.27" points="221.43,177.37 237.98,171.09 254.53,164.81 271.08,158.52 287.63,152.24"/><polyline stroke-opacity="0.27" points="221.96,178.43 238.51,172.09 255.06,165.74 271.61,159.38 288.16,153.02"/><polyline stroke-opacity="0.27" points="222.49,179.48 239.04,173.08 255.59,166.66 272.14,160.24 288.69,153.79"/><polyline stroke-opacity="0.27" points="223.02,180.53 239.57,174.06 256.12,167.59 272.67,161.1 289.22,154.57"/><polyline stroke-opacity="0.27" points="223.55,181.57 240.1,175.05 256.65,168.51 273.2,161.95 289.75,155.35"/><polyline stroke-opacity="0.27" points="224.08,182.59 240.63,176.02 257.18,169.43 273.73,162.8 290.28,156.13"/><polyline stroke-opacity="0.27" points="224.61,183.61 241.16,176.99 257.71,170.34 274.26,163.66 290.81,156.9"/><polyline stroke-opacity="0.27" points="225.14,184.62 241.69,177.96 258.24,171.25 274.79,164.51 291.34,157.67"/><polyline stroke-opacity="0.27" points="225.67,185.62 242.22,178.91 258.77,172.16 275.32,165.36 291.87,158.45"/><polyline stroke-opacity="0.27" points="226.2,186.62 242.75,179.86 259.3,173.07 275.85,166.2 292.4,159.22"/><polyline stroke-opacity="0.27" points="226.73,187.6 243.28,180.81 259.83,173.97 276.38,167.05 292.93,159.99"/><polyline stroke-opacity="0.27" points="227.26,188.57 243.81,181.75 260.36,174.86 276.91,167.89 293.46,160.76"/><polyline stroke-opacity="0.27" points="227.79,189.54 244.34,182.68 260.89,175.75 277.44,168.73 293.99,161.52"/><polyline stroke-opacity="0.27" points="228.32,190.5 244.87,183.61 261.42,176.64 277.97,169.56 294.52,162.29"/><polyline stroke-opacity="0.27" points="228.85,191.45 245.4,184.53 261.95,177.52 278.5,170.4 295.05,163.05"/><polyline stroke-opacity="0.27" points="229.38,192.39 245.93,185.44 262.48,178.4 279.03,171.23 295.58,163.82"/><polyline stroke-opacity="0.27" points="229.91,193.32 246.46,186.35 263.01,179.28 279.56,172.06 296.11,164.58"/><polyline stroke-opacity="0.27" points="230.44,194.24 246.99,187.25 263.54,180.15 280.09,172.88 296.64,165.33"/><polyline stroke-opacity="0.27" points="230.97,195.15 247.52,188.14 264.07,181.01 280.62,173.71 297.17,166.09"/><polyline stroke-opacity="0.27" points="231.5,196.06 248.05,189.03 264.6,181.87 281.15,174.53 297.7,166.84"/><polyline stroke-opacity="0.27" points="232.03,196.95 248.58,189.91 265.13,182.73 281.68,175.34 298.23,167.6"/><polyline stroke-opacity="0.27" points="232.56,197.84 249.11,190.79 265.66,183.58 282.21,176.16 298.76,168.35"/><polyline stroke-opacity="0.27" points="233.09,198.72 249.64,191.65 266.19,184.43 282.74,176.97 299.29,169.1"/><polyline stroke-opacity="0.27" points="233.62,199.59 250.18,192.51 266.73,185.27 283.28,177.78 299.83,169.84"/><polyline stroke-opacity="0.27" points="234.16,200.45 250.71,193.37 267.26,186.11 283.81,178.58 300.36,170.58"/><polyline stroke-opacity="0.27" points="234.69,201.3 251.24,194.22 267.79,186.94 284.34,179.38 300.89,171.32"/><polyline stroke-opacity="0.27" points="235.22,202.15 251.77,195.06 268.32,187.76 284.87,180.18 301.42,172.06"/><polyline stroke-opacity="0.27" points="235.75,202.98 252.3,195.89 268.85,188.59 285.4,180.97 301.95,172.8"/><polyline stroke-opacity="0.27" points="236.28,203.81 252.83,196.72 269.38,189.4 285.93,181.76 302.48,173.53"/><polyline stroke-opacity="0.27" points="236.81,204.63 253.36,197.54 269.91,190.22 286.46,182.55 303.01,174.26"/><polyline stroke-opacity="0.27" points="237.34,205.44 253.89,198.36 270.44,191.02 286.99,183.33 303.54,174.99"/><polyline stroke-opacity="0.27" points="237.87,206.24 254.42,199.16 270.97,191.83 287.52,184.11 304.07,175.71"/><polyline stroke-opacity="0.27" points="238.4,207.03 254.95,199.96 271.5,192.62 288.05,184.89 304.6,176.43"/><polyline stroke-opacity="0.27" points="238.93,207.81 255.48,200.76 272.03,193.42 288.58,185.66 305.13,177.15"/><polyline stroke-opacity="0.27" points="239.46,208.59 256.01,201.55 272.56,194.2 289.11,186.42 305.66,177.87"/><polyline stroke-opacity="0.27" points="239.99,209.35 256.54,202.33 273.09,194.98 289.64,187.19 306.19,178.58"/><polyline stroke-opacity="0.27" points="240.52,210.11 257.07,203.1 273.62,195.76 290.17,187.95 306.72,179.29"/><polyline stroke-opacity="0.27" points="241.05,210.86 257.6,203.87 274.15,196.53 290.7,188.7 307.25,179.99"/><polyline stroke-opacity="0.27" points="241.58,211.6 258.13,204.63 274.68,197.29 291.23,189.45 307.78,180.69"/><polyline stroke-opacity="0.27" points="242.11,212.33 258.66,205.38 275.21,198.05 291.76,190.2 308.31,181.39"/><polyline stroke-opacity="0.27" points="242.64,213.06 259.19,206.13 275.74,198.81 292.29,190.94 308.84,182.09"/><polyline stroke-opacity="0.27" points="243.17,213.77 259.72,206.86 276.27,199.56 292.82,191.68 309.37,182.78"/><polyline stroke-opacity="0.27" points="243.7,214.48 260.25,207.6 276.8,200.3 293.35,192.41 309.9,183.47"/><polyline stroke-opacity="0.27" points="244.23,215.18 260.78,208.32 277.33,201.04 293.88,193.14 310.43,184.15"/><polyline stroke-opacity="0.27" points="244.76,215.87 261.31,209.04 277.86,201.77 294.41,193.87 310.96,184.83"/><polyline stroke-opacity="0.27" points="245.29,216.55 261.84,209.75 278.39,202.5 294.94,194.59 311.49,185.5"/><polyline stroke-opacity="0.27" points="245.82,217.22 262.37,210.45 278.92,203.22 295.47,195.3 312.02,186.18"/><polyline stroke-opacity="0.27" points="246.35,217.89 262.9,211.15 279.45,203.93 296,196.01 312.55,186.84"/><polyline stroke-opacity="0.27" points="246.88,218.54 263.43,211.84 279.98,204.64 296.53,196.72 313.08,187.51"/><polyline stroke-opacity="0.27" points="247.41,219.19 263.96,212.52 280.51,205.34 297.06,197.42 313.61,188.17"/><polyline stroke-opacity="0.27" points="247.94,219.83 264.49,213.2 281.04,206.04 297.59,198.11 314.14,188.82"/><polyline stroke-opacity="0.27" points="248.47,220.46 265.02,213.87 281.57,206.73 298.12,198.81 314.67,189.47"/><polyline stroke-opacity="0.27" points="249,221.08 265.55,214.53 282.1,207.42 298.65,199.49 315.2,190.12"/><polyline stroke-opacity="0.27" points="249.53,221.69 266.08,215.19 282.63,208.09 299.18,200.17 315.73,190.76"/><polyline stroke-opacity="0.27" points="250.06,222.3 266.61,215.83 283.16,208.77 299.71,200.85 316.26,191.39"/><polyline stroke-opacity="0.27" points="250.59,222.9 267.14,216.47 283.69,209.43 300.24,201.52 316.79,192.03"/><polyline stroke-opacity="0.27" points="251.12,223.49 267.67,217.11 284.22,210.1 300.77,202.18 317.32,192.65"/><polyline stroke-opacity="0.27" points="251.65,224.07 268.2,217.73 284.75,210.75 301.3,202.84 317.85,193.28"/><polyline stroke-opacity="0.27" points="252.18,224.64 268.73,218.35 285.28,211.4 301.83,203.5 318.38,193.89"/><polyline stroke-opacity="0.27" points="252.71,225.2 269.26,218.96 285.81,212.04 302.36,204.15 318.91,194.5"/><polyline stroke-opacity="0.27" points="253.24,225.76 269.79,219.57 286.34,212.68 302.89,204.79 319.44,195.11"/><polyline stroke-opacity="0.27" points="253.77,226.3 270.32,220.16 286.87,213.31 303.42,205.43 319.97,195.71"/><polyline stroke-opacity="0.27" points="254.3,226.84 270.85,220.75 287.4,213.93 303.95,206.06 320.5,196.31"/><polyline stroke-opacity="0.27" points="254.83,227.37 271.38,221.34 287.93,214.55 304.48,206.69 321.03,196.9"/><polyline stroke-opacity="0.27" points="255.36,227.9 271.91,221.91 288.46,215.16 305.01,207.31 321.56,197.49"/><polyline stroke-opacity="0.27" points="255.89,228.41 272.44,222.48 288.99,215.76 305.54,207.93 322.09,198.07"/><polyline stroke-opacity="0.27" points="256.42,228.91 272.97,223.04 289.52,216.36 306.07,208.53 322.62,198.65"/><polyline stroke-opacity="0.27" points="256.95,229.41 273.5,223.59 290.05,216.95 306.6,209.14 323.15,199.22"/><polyline stroke-opacity="0.27" points="257.48,229.9 274.03,224.14 290.58,217.54 307.13,209.74 323.68,199.78"/><polyline stroke-opacity="0.27" points="258.01,230.38 274.56,224.68 291.11,218.12 307.66,210.33 324.21,200.34"/><polyline stroke-opacity="0.27" points="258.54,230.85 275.09,225.21 291.64,218.69 308.19,210.91 324.74,200.89"/><polyline stroke-opacity="0.27" points="259.07,231.32 275.62,225.73 292.18,219.25 308.73,211.49 325.27,201.44"/><polyline stroke-opacity="0.27" points="259.61,231.77 276.16,226.25 292.71,219.81 309.26,212.07 325.81,201.98"/><polyline stroke-opacity="0.27" points="260.14,232.22 276.69,226.76 293.24,220.36 309.79,212.63 326.34,202.51"/><polyline stroke-opacity="0.27" points="260.67,232.66 277.22,227.26 293.77,220.91 310.32,213.2 326.87,203.04"/><polyline stroke-opacity="0.27" points="261.2,233.09 277.75,227.76 294.3,221.45 310.85,213.75 327.4,203.56"/><polyline stroke-opacity="0.27" points="261.73,233.52 278.28,228.24 294.83,221.98 311.38,214.3 327.93,204.08"/><polyline stroke-opacity="0.27" points="262.26,233.93 278.81,228.72 295.36,222.5 311.91,214.84 328.46,204.59"/><polyline stroke-opacity="0.27" points="262.79,234.34 279.34,229.19 295.89,223.02 312.44,215.38 328.99,205.09"/><polyline stroke-opacity="0.27" points="263.32,234.74 279.87,229.66 296.42,223.53 312.97,215.91 329.52,205.59"/><polyline stroke-opacity="0.27" points="263.85,235.13 280.4,230.12 296.95,224.04 313.5,216.43 330.05,206.08"/><polyline stroke-opacity="0.27" points="264.38,235.51 280.93,230.57 297.48,224.53 314.03,216.94 330.58,206.56"/><polyline stroke-opacity="0.27" points="264.91,235.88 281.46,231.01 298.01,225.02 314.56,217.45 331.11,207.04"/><polyline stroke-opacity="0.27" points="265.44,236.25 281.99,231.44 298.54,225.5 315.09,217.95 331.64,207.51"/><polyline stroke-opacity="0.27" points="265.97,236.61 282.52,231.87 299.07,225.98 315.62,218.45 332.17,207.97"/><polyline stroke-opacity="0.27" points="266.5,236.96 283.05,232.29 299.6,226.45 316.15,218.94 332.7,208.43"/><polyline stroke-opacity="0.27" points="267.03,237.3 283.58,232.7 300.13,226.91 316.68,219.42 333.23,208.88"/><polyline stroke-opacity="0.27" points="267.56,237.63 284.11,233.1 300.66,227.36 317.21,219.89 333.76,209.32"/><polyline stroke-opacity="0.27" points="268.09,237.96 284.64,233.5 301.19,227.81 317.74,220.36 334.29,209.76"/><polyline stroke-opacity="0.27" points="268.62,238.28 285.17,233.89 301.72,228.25 318.27,220.82 334.82,210.18"/><polyline stroke-opacity="0.27" points="269.15,238.59 285.7,234.27 302.25,228.68 318.8,221.28 335.35,210.6"/><polyline stroke-opacity="0.27" points="269.68,238.89 286.23,234.65 302.78,229.11 319.33,221.72 335.88,211.02"/><polyline stroke-opacity="0.27" points="270.21,239.18 286.76,235.01 303.31,229.53 319.86,222.16 336.41,211.42"/><polyline stroke-opacity="0.27" points="270.74,239.47 287.29,235.37 303.84,229.94 320.39,222.59 336.94,211.82"/><polyline stroke-opacity="0.27" points="271.27,239.75 287.82,235.72 304.37,230.34 320.92,223.02 337.47,212.21"/><polyline stroke-opacity="0.27" points="271.8,240.01 288.35,236.06 304.9,230.73 321.45,223.43 338,212.6"/></g><g fill="none" stroke="#000" stroke-opacity="0.2" stroke-width="0.35"><polyline points="220.9,176.29 225.14,184.62 229.38,192.39 233.62,199.59 237.87,206.24 242.11,212.33 246.35,217.89 250.59,222.9 254.83,227.37 259.07,231.32 263.32,234.74 267.56,237.63 271.8,240.01"/><polyline points="222.22,175.8 226.47,184.09 230.71,191.83 234.95,199.03 239.19,205.68 243.43,211.8 247.67,217.37 251.92,222.42 256.16,226.93 260.4,230.92 264.64,234.39 268.88,237.34 273.12,239.77"/><polyline points="223.55,175.3 227.79,183.56 232.03,191.28 236.27,198.47 240.51,205.13 244.76,211.26 249,216.86 253.24,221.93 257.48,226.48 261.72,230.51 265.96,234.03 270.21,237.03 274.45,239.52"/><polyline points="224.87,174.8 229.11,183.03 233.36,190.73 237.6,197.91 241.84,204.57 246.08,210.72 250.32,216.34 254.56,221.44 258.81,226.03 263.05,230.1 267.29,233.66 271.53,236.71 275.77,239.25"/><polyline points="226.2,174.31 230.44,182.49 234.68,190.18 238.92,197.35 243.16,204.02 247.4,210.17 251.65,215.81 255.89,220.94 260.13,225.57 264.37,229.68 268.61,233.29 272.85,236.38 277.1,238.98"/><polyline points="227.52,173.81 231.76,181.96 236,189.62 240.25,196.79 244.49,203.46 248.73,209.62 252.97,215.28 257.21,220.44 261.45,225.1 265.69,229.25 269.94,232.9 274.18,236.05 278.42,238.69"/><polyline points="228.84,173.31 233.09,181.43 237.33,189.07 241.57,196.23 245.81,202.89 250.05,209.07 254.29,214.75 258.54,219.93 262.78,224.62 267.02,228.81 271.26,232.5 275.5,235.7 279.74,238.39"/><polyline points="230.17,172.82 234.41,180.9 238.65,188.51 242.89,195.66 247.13,202.33 251.38,208.51 255.62,214.21 259.86,219.42 264.1,224.14 268.34,228.37 272.58,232.1 276.83,235.33 281.07,238.07"/><polyline points="231.49,172.32 235.73,180.36 239.98,187.96 244.22,195.09 248.46,201.76 252.7,207.95 256.94,213.67 261.18,218.9 265.43,223.65 269.67,227.91 273.91,231.68 278.15,234.96 282.39,237.74"/><polyline points="232.82,171.82 237.06,179.83 241.3,187.4 245.54,194.52 249.78,201.19 254.02,207.39 258.27,213.11 262.51,218.37 266.75,223.15 270.99,227.44 275.23,231.25 279.47,234.56 283.72,237.39"/><polyline points="234.14,171.33 238.38,179.29 242.62,186.84 246.87,193.95 251.11,200.61 255.35,206.82 259.59,212.56 263.83,217.83 268.07,222.64 272.31,226.96 276.56,230.8 280.8,234.16 285.04,237.02"/><polyline points="235.46,170.83 239.71,178.76 243.95,186.28 248.19,193.38 252.43,200.03 256.67,206.24 260.91,212 265.16,217.29 269.4,222.12 273.64,226.48 277.88,230.35 282.12,233.74 286.36,236.65"/><polyline points="236.79,170.33 241.03,178.22 245.27,185.72 249.51,192.8 253.75,199.45 258,205.67 262.24,211.43 266.48,216.75 270.72,221.6 274.96,225.98 279.2,229.89 283.45,233.32 287.69,236.26"/><polyline points="238.11,169.84 242.35,177.69 246.6,185.16 250.84,192.23 255.08,198.87 259.32,205.09 263.56,210.87 267.8,216.2 272.05,221.07 276.29,225.48 280.53,229.42 284.77,232.89 289.01,235.86"/><polyline points="239.44,169.34 243.68,177.15 247.92,184.6 252.16,191.65 256.4,198.29 260.64,204.51 264.89,210.3 269.13,215.65 273.37,220.54 277.61,224.98 281.85,228.95 286.09,232.45 290.34,235.46"/><polyline points="240.76,168.84 245,176.62 249.24,184.04 253.49,191.07 257.73,197.71 261.97,203.93 266.21,209.73 270.45,215.09 274.69,220.01 278.94,224.48 283.18,228.48 287.42,232.01 291.66,235.06"/><polyline points="242.08,168.35 246.33,176.08 250.57,183.47 254.81,190.49 259.05,197.12 263.29,203.35 267.53,209.16 271.78,214.54 276.02,219.48 280.26,223.97 284.5,228 288.74,231.56 292.98,234.65"/><polyline points="243.41,167.85 247.65,175.55 251.89,182.91 256.13,189.92 260.37,196.54 264.62,202.77 268.86,208.58 273.1,213.98 277.34,218.94 281.58,223.46 285.82,227.52 290.07,231.12 294.31,234.24"/><polyline points="244.73,167.35 248.97,175.01 253.22,182.35 257.46,189.34 261.7,195.96 265.94,202.19 270.18,208.01 274.42,213.42 278.67,218.41 282.91,222.95 287.15,227.04 291.39,230.67 295.63,233.83"/><polyline points="246.06,166.86 250.3,174.47 254.54,181.79 258.78,188.76 263.02,195.37 267.26,201.6 271.51,207.44 275.75,212.86 279.99,217.87 284.23,222.44 288.47,226.56 292.71,230.22 296.96,233.41"/><polyline points="247.38,166.36 251.62,173.94 255.86,181.22 260.11,188.18 264.35,194.78 268.59,201.01 272.83,206.86 277.07,212.3 281.31,217.33 285.56,221.92 289.8,226.07 294.04,229.76 298.28,232.98"/><polyline points="248.7,165.86 252.95,173.4 257.19,180.66 261.43,187.6 265.67,194.19 269.91,200.43 274.15,206.28 278.4,211.73 282.64,216.78 286.88,221.4 291.12,225.57 295.36,229.29 299.6,232.54"/><polyline points="250.03,165.37 254.27,172.87 258.51,180.1 262.75,187.02 266.99,193.6 271.24,199.84 275.48,205.69 279.72,211.16 283.96,216.23 288.2,220.87 292.44,225.07 296.69,228.82 300.93,232.1"/><polyline points="251.35,164.87 255.59,172.33 259.84,179.53 264.08,186.44 268.32,193.01 272.56,199.24 276.8,205.11 281.04,210.59 285.29,215.67 289.53,220.33 293.77,224.56 298.01,228.34 302.25,231.65"/><polyline points="252.68,164.37 256.92,171.79 261.16,178.97 265.4,185.85 269.64,192.42 273.88,198.65 278.13,204.52 282.37,210.01 286.61,215.11 290.85,219.8 295.09,224.05 299.33,227.85 303.58,231.2"/><polyline points="254,163.88 258.24,171.25 262.48,178.4 266.73,185.27 270.97,191.83 275.21,198.05 279.45,203.93 283.69,209.43 287.93,214.55 292.18,219.25 296.42,223.53 300.66,227.36 304.9,230.73"/><polyline points="255.32,163.38 259.57,170.72 263.81,177.84 268.05,184.68 272.29,191.23 276.53,197.46 280.77,203.34 285.02,208.85 289.26,213.98 293.5,218.71 297.74,223.01 301.98,226.87 306.22,230.26"/><polyline points="256.65,162.88 260.89,170.18 265.13,177.27 269.37,184.1 273.61,190.63 277.86,196.86 282.1,202.74 286.34,208.26 290.58,213.41 294.82,218.15 299.06,222.48 303.31,226.36 307.55,229.78"/><polyline points="257.97,162.38 262.21,169.64 266.46,176.7 270.7,183.51 274.94,190.03 279.18,196.25 283.42,202.14 287.66,207.67 291.91,212.83 296.15,217.59 300.39,221.94 304.63,225.84 308.87,229.29"/><polyline points="259.3,161.89 263.54,169.1 267.78,176.13 272.02,182.92 276.26,189.43 280.5,195.64 284.75,201.53 288.99,207.07 293.23,212.24 297.47,217.02 301.71,221.38 305.95,225.31 310.2,228.78"/><polyline points="260.62,161.39 264.86,168.57 269.1,175.56 273.35,182.33 277.59,188.83 281.83,195.03 286.07,200.92 290.31,206.47 294.55,211.65 298.8,216.44 303.04,220.82 307.28,224.77 311.52,228.26"/><polyline points="261.94,160.89 266.19,168.03 270.43,174.99 274.67,181.73 278.91,188.22 283.15,194.42 287.39,200.3 291.64,205.85 295.88,211.04 300.12,215.85 304.36,220.25 308.6,224.21 312.84,227.72"/><polyline points="263.27,160.4 267.51,167.49 271.75,174.42 275.99,181.14 280.23,187.61 284.48,193.8 288.72,199.68 292.96,205.23 297.2,210.43 301.44,215.25 305.68,219.66 309.93,223.64 314.17,227.17"/><polyline points="264.59,159.9 268.83,166.95 273.08,173.85 277.32,180.54 281.56,186.99 285.8,193.17 290.04,199.04 294.28,204.6 298.53,209.8 302.77,214.62 307.01,219.04 311.25,223.04 315.49,226.58"/><polyline points="265.92,159.4 270.16,166.41 274.4,173.27 278.64,179.93 282.88,186.36 287.12,192.52 291.37,198.39 295.61,203.94 299.85,209.14 304.09,213.96 308.33,218.39 312.57,222.39 316.82,225.93"/><polyline points="267.24,158.91 271.48,165.87 275.72,172.69 279.97,179.32 284.21,185.72 288.45,191.87 292.69,197.72 296.93,203.26 301.17,208.46 305.42,213.28 309.66,217.7 313.9,221.7 318.14,225.25"/><polyline points="268.56,158.41 272.81,165.32 277.05,172.11 281.29,178.7 285.53,185.08 289.77,191.2 294.01,197.04 298.26,202.57 302.5,207.76 306.74,212.57 310.98,216.99 315.22,220.99 319.46,224.54"/><polyline points="269.89,157.91 274.13,164.78 278.37,171.52 282.61,178.09 286.85,184.43 291.1,190.53 295.34,196.36 299.58,201.87 303.82,207.05 308.06,211.86 312.3,216.27 316.55,220.26 320.79,223.8"/><polyline points="271.21,157.42 275.45,164.24 279.7,170.94 283.94,177.47 288.18,183.79 292.42,189.86 296.66,195.67 300.9,201.17 305.15,206.33 309.39,211.13 313.63,215.54 317.87,219.52 322.11,223.06"/><polyline points="272.54,156.92 276.78,163.69 281.02,170.35 285.26,176.84 289.5,183.13 293.74,189.19 297.99,194.97 302.23,200.45 306.47,205.6 310.71,210.4 314.95,214.79 319.19,218.77 323.44,222.3"/><polyline points="273.86,156.42 278.1,163.15 282.34,169.76 286.59,176.22 290.83,182.48 295.07,188.51 299.31,194.27 303.55,199.73 307.79,204.87 312.04,209.65 316.28,214.03 320.52,218 324.76,221.52"/><polyline points="275.18,155.93 279.43,162.6 283.67,169.17 287.91,175.59 292.15,181.82 296.39,187.82 300.63,193.56 304.88,199 309.12,204.12 313.36,208.89 317.6,213.26 321.84,217.21 326.08,220.72"/><polyline points="276.51,155.43 280.75,162.06 284.99,168.58 289.23,174.96 293.47,181.16 297.72,187.13 301.96,192.84 306.2,198.26 310.44,203.37 314.68,208.11 318.92,212.47 323.17,216.41 327.41,219.9"/><polyline points="277.83,154.93 282.07,161.51 286.32,167.99 290.56,174.33 294.8,180.49 299.04,186.43 303.28,192.12 307.52,197.52 311.77,202.6 316.01,207.32 320.25,211.66 324.49,215.59 328.73,219.06"/><polyline points="279.16,154.44 283.4,160.96 287.64,167.4 291.88,173.7 296.12,179.82 300.36,185.73 304.61,191.38 308.85,196.76 313.09,201.82 317.33,206.52 321.57,210.84 325.81,214.75 330.06,218.2"/><polyline points="280.48,153.94 284.72,160.42 288.96,166.81 293.21,173.06 297.45,179.15 301.69,185.02 305.93,190.65 310.17,195.99 314.41,201.03 318.66,205.71 322.9,210.01 327.14,213.89 331.38,217.32"/><polyline points="281.8,153.44 286.05,159.87 290.29,166.21 294.53,172.42 298.77,178.47 303.01,184.3 307.25,189.9 311.5,195.22 315.74,200.22 319.98,204.88 324.22,209.16 328.46,213.01 332.7,216.41"/><polyline points="283.13,152.95 287.37,159.32 291.61,165.61 295.85,171.78 300.09,177.78 304.34,183.59 308.58,189.15 312.82,194.43 317.06,199.41 321.3,204.04 325.54,208.29 329.79,212.12 334.03,215.49"/><polyline points="284.45,152.45 288.69,158.77 292.94,165.02 297.18,171.14 301.42,177.1 305.66,182.86 309.9,188.39 314.14,193.64 318.39,198.59 322.63,203.19 326.87,207.4 331.11,211.2 335.35,214.55"/><polyline points="285.78,151.95 290.02,158.22 294.26,164.42 298.5,170.49 302.74,176.41 306.98,182.13 311.23,187.62 315.47,192.84 319.71,197.75 323.95,202.32 328.19,206.5 332.43,210.27 336.68,213.58"/><polyline points="287.1,151.46 291.34,157.67 295.58,163.82 299.83,169.84 304.07,175.71 308.31,181.39 312.55,186.84 316.79,192.03 321.03,196.9 325.27,201.44 329.52,205.59 333.76,209.32 338,212.6"/></g></g>
<g fill="none" stroke="#ff0000" stroke-width="1.6"><circle cx="220.4" cy="172.1" r="1.55"/><circle cx="253.6" cy="152.8" r="1.55"/><circle cx="286.9" cy="145.5" r="1.55"/><circle cx="237.9" cy="208.8" r="1.55"/><circle cx="254.5" cy="231.1" r="1.55"/><circle cx="271.5" cy="241.9" r="1.55"/><circle cx="304.9" cy="230.7" r="1.55"/><circle cx="338.1" cy="213.3" r="1.55"/><path d="M269.6,190.8 A1.55,1.55 0 1 1 271.1,192.4"/></g>
<rect x="290.4" y="144.3" width="47.4" height="11.1" fill="#fff" stroke="#8a8a8a" stroke-width="0.6"/>
<circle cx="299.2" cy="149.6" r="1.55" fill="none" stroke="#ff0000" stroke-width="1.7"/>
<text transform="translate(307.8,152.7) scale(0.94,1)" font-size="7.9" fill="#151515" stroke="#151515" stroke-width="0.18">Line 45°</text>
<text transform="translate(216.3,176.1) scale(0.94,1)" font-size="8.8" text-anchor="end">2.5</text>
<text transform="translate(216.3,189.2) scale(0.94,1)" font-size="8.8" text-anchor="end">2</text>
<text transform="translate(216.3,202.2) scale(0.94,1)" font-size="8.8" text-anchor="end">1.5</text>
<text transform="translate(216.3,214.6) scale(0.94,1)" font-size="8.8" text-anchor="end">1</text>
<text transform="translate(216.2,227) scale(0.94,1)" font-size="8.8" text-anchor="end">100</text>
<text transform="translate(259.2,248.1) scale(0.94,1)" font-size="8.8" text-anchor="end">50</text>
<text transform="translate(275.4,252.5) scale(0.94,1)" font-size="8.8" text-anchor="start">0.4</text>
<text transform="translate(308.2,243.2) scale(0.94,1)" font-size="8.8" text-anchor="start">0.6</text>
<text transform="translate(341.9,233.9) scale(0.94,1)" font-size="8.8" text-anchor="start">0.8</text>
<text x="199.9" y="152.6" font-size="10" fill="#999">×</text>
<text transform="translate(206.6,152.4) scale(0.94,1)" font-size="8.8">10<tspan dy="-3.3" font-size="6.8">4</tspan></text></g>
<g><polyline points="387.4,172.8 453.6,154.7 504.5,179.2" fill="none" stroke="#efefef" stroke-width="0.5"/>
<polyline points="387.4,184.6 453.6,166.5 504.5,191" fill="none" stroke="#efefef" stroke-width="0.5"/>
<polyline points="387.4,196.2 453.6,178.1 504.5,202.6" fill="none" stroke="#efefef" stroke-width="0.5"/>
<polyline points="387.4,208 453.6,189.9 504.5,214.4" fill="none" stroke="#efefef" stroke-width="0.5"/>
<line x1="496" y1="219.2" x2="496" y2="164.1" stroke="#efefef" stroke-width="0.5"/>
<line x1="420.5" y1="207.8" x2="420.5" y2="152.8" stroke="#efefef" stroke-width="0.5"/>
<polyline points="387.4,216.9 453.6,198.8 504.5,223.3" fill="none" stroke="#b0b0b0" stroke-width="0.6"/>
<polyline points="387.4,161.8 453.6,143.7 504.5,168.2" fill="none" stroke="#858585" stroke-width="0.7"/>
<line x1="453.6" y1="198.8" x2="453.6" y2="143.7" stroke="#858585" stroke-width="0.7"/>
<line x1="504.5" y1="223.3" x2="504.5" y2="168.2" stroke="#858585" stroke-width="0.7"/>
<line x1="387.4" y1="216.9" x2="387.4" y2="161.8" stroke="#858585" stroke-width="0.7"/>
<polyline points="387.4,216.9 438.3,241.4 504.5,223.3" fill="none" stroke="#858585" stroke-width="0.7"/>
<line x1="385.9" y1="172.9" x2="387.4" y2="172.9" stroke="#858585" stroke-width="0.6"/>
<line x1="385.9" y1="184.7" x2="387.4" y2="184.7" stroke="#858585" stroke-width="0.6"/>
<line x1="385.9" y1="196.3" x2="387.4" y2="196.3" stroke="#858585" stroke-width="0.6"/>
<line x1="385.9" y1="208.1" x2="387.4" y2="208.1" stroke="#858585" stroke-width="0.6"/>
<line x1="438.3" y1="241.4" x2="439.7" y2="242.1" stroke="#858585" stroke-width="0.6"/>
<line x1="471.4" y1="232.4" x2="472.8" y2="233" stroke="#858585" stroke-width="0.6"/>
<line x1="504.5" y1="223.3" x2="505.9" y2="224" stroke="#858585" stroke-width="0.6"/>
<line x1="387.4" y1="216.9" x2="385.9" y2="217.3" stroke="#858585" stroke-width="0.6"/>
<line x1="429.8" y1="237.3" x2="428.4" y2="237.7" stroke="#858585" stroke-width="0.6"/>
<defs><linearGradient id="c12g0" gradientUnits="userSpaceOnUse" x1="387.8" y1="181.8" x2="454" y2="156.6"><stop offset="0" stop-color="#edb33a"/><stop offset="0.25" stop-color="#f3be33"/><stop offset="0.5" stop-color="#e8c92a"/><stop offset="0.75" stop-color="#d8cd21"/><stop offset="1" stop-color="#cfce14"/></linearGradient><linearGradient id="c12g1" gradientUnits="userSpaceOnUse" x1="388.6" y1="183.4" x2="454.8" y2="157.8"><stop offset="0" stop-color="#dfb32d"/><stop offset="0.25" stop-color="#f3b53a"/><stop offset="0.5" stop-color="#ebc02e"/><stop offset="0.75" stop-color="#d9c524"/><stop offset="1" stop-color="#cdc91a"/></linearGradient><linearGradient id="c12g2" gradientUnits="userSpaceOnUse" x1="389.4" y1="184.9" x2="455.6" y2="158.9"><stop offset="0" stop-color="#cfb626"/><stop offset="0.25" stop-color="#e8b136"/><stop offset="0.5" stop-color="#ecb733"/><stop offset="0.75" stop-color="#dbbe27"/><stop offset="1" stop-color="#ccc31e"/></linearGradient><linearGradient id="c12g3" gradientUnits="userSpaceOnUse" x1="390.2" y1="186.4" x2="456.4" y2="160.1"><stop offset="0" stop-color="#bdba29"/><stop offset="0.25" stop-color="#dab22b"/><stop offset="0.5" stop-color="#eaaf38"/><stop offset="0.75" stop-color="#deb62b"/><stop offset="1" stop-color="#ccbc21"/></linearGradient><linearGradient id="c12g4" gradientUnits="userSpaceOnUse" x1="391" y1="187.8" x2="457.2" y2="161.2"><stop offset="0" stop-color="#a9bd34"/><stop offset="0.25" stop-color="#cab426"/><stop offset="0.5" stop-color="#e0ab35"/><stop offset="0.75" stop-color="#deae2f"/><stop offset="1" stop-color="#cdb623"/></linearGradient><linearGradient id="c12g5" gradientUnits="userSpaceOnUse" x1="391.8" y1="189.3" x2="458" y2="162.4"><stop offset="0" stop-color="#93c042"/><stop offset="0.25" stop-color="#b9b628"/><stop offset="0.5" stop-color="#d4ab2a"/><stop offset="0.75" stop-color="#dea733"/><stop offset="1" stop-color="#cfb026"/></linearGradient><linearGradient id="c12g6" gradientUnits="userSpaceOnUse" x1="392.6" y1="190.7" x2="458.8" y2="163.5"><stop offset="0" stop-color="#7ec151"/><stop offset="0.25" stop-color="#a6b831"/><stop offset="0.5" stop-color="#c6ad25"/><stop offset="0.75" stop-color="#d8a235"/><stop offset="1" stop-color="#d1aa29"/></linearGradient><linearGradient id="c12g7" gradientUnits="userSpaceOnUse" x1="393.4" y1="192.1" x2="459.6" y2="164.6"><stop offset="0" stop-color="#68c160"/><stop offset="0.25" stop-color="#93ba3d"/><stop offset="0.5" stop-color="#b7af25"/><stop offset="0.75" stop-color="#cfa12d"/><stop offset="1" stop-color="#d2a42c"/></linearGradient><linearGradient id="c12g8" gradientUnits="userSpaceOnUse" x1="394.2" y1="193.5" x2="460.4" y2="165.8"><stop offset="0" stop-color="#55bf6f"/><stop offset="0.25" stop-color="#7fbb4b"/><stop offset="0.5" stop-color="#a6b12c"/><stop offset="0.75" stop-color="#c4a226"/><stop offset="1" stop-color="#d29f30"/></linearGradient><linearGradient id="c12g9" gradientUnits="userSpaceOnUse" x1="395" y1="194.8" x2="461.2" y2="166.9"><stop offset="0" stop-color="#44bc7b"/><stop offset="0.25" stop-color="#6bba58"/><stop offset="0.5" stop-color="#95b236"/><stop offset="0.75" stop-color="#b8a322"/><stop offset="1" stop-color="#ce9a32"/></linearGradient><linearGradient id="c12g10" gradientUnits="userSpaceOnUse" x1="395.8" y1="196.1" x2="462" y2="168"><stop offset="0" stop-color="#36b886"/><stop offset="0.25" stop-color="#59b965"/><stop offset="0.5" stop-color="#84b341"/><stop offset="0.75" stop-color="#aba523"/><stop offset="1" stop-color="#c7992e"/></linearGradient><linearGradient id="c12g11" gradientUnits="userSpaceOnUse" x1="396.5" y1="197.4" x2="462.7" y2="169.1"><stop offset="0" stop-color="#2db38f"/><stop offset="0.25" stop-color="#49b671"/><stop offset="0.5" stop-color="#73b44d"/><stop offset="0.75" stop-color="#9da729"/><stop offset="1" stop-color="#bf9a27"/></linearGradient><linearGradient id="c12g12" gradientUnits="userSpaceOnUse" x1="397.3" y1="198.7" x2="463.5" y2="170.2"><stop offset="0" stop-color="#24ae98"/><stop offset="0.25" stop-color="#3bb37b"/><stop offset="0.5" stop-color="#61b359"/><stop offset="0.75" stop-color="#8fa932"/><stop offset="1" stop-color="#b69b22"/></linearGradient><linearGradient id="c12g13" gradientUnits="userSpaceOnUse" x1="398.1" y1="200" x2="464.3" y2="171.3"><stop offset="0" stop-color="#16a8a0"/><stop offset="0.25" stop-color="#30af84"/><stop offset="0.5" stop-color="#52b265"/><stop offset="0.75" stop-color="#81aa3c"/><stop offset="1" stop-color="#ad9d20"/></linearGradient><linearGradient id="c12g14" gradientUnits="userSpaceOnUse" x1="398.9" y1="201.2" x2="465.1" y2="172.4"><stop offset="0" stop-color="#05a3a7"/><stop offset="0.25" stop-color="#2aab8c"/><stop offset="0.5" stop-color="#43b06f"/><stop offset="0.75" stop-color="#72ab46"/><stop offset="1" stop-color="#a29f22"/></linearGradient><linearGradient id="c12g15" gradientUnits="userSpaceOnUse" x1="399.7" y1="202.4" x2="465.9" y2="173.5"><stop offset="0" stop-color="#019dad"/><stop offset="0.25" stop-color="#20a794"/><stop offset="0.5" stop-color="#37ad79"/><stop offset="0.75" stop-color="#63ab50"/><stop offset="1" stop-color="#98a128"/></linearGradient><linearGradient id="c12g16" gradientUnits="userSpaceOnUse" x1="400.5" y1="203.6" x2="466.7" y2="174.6"><stop offset="0" stop-color="#0a98b3"/><stop offset="0.25" stop-color="#12a29c"/><stop offset="0.5" stop-color="#2eaa81"/><stop offset="0.75" stop-color="#55ab5b"/><stop offset="1" stop-color="#8da32e"/></linearGradient><linearGradient id="c12g17" gradientUnits="userSpaceOnUse" x1="401.3" y1="204.8" x2="467.5" y2="175.6"><stop offset="0" stop-color="#1492b7"/><stop offset="0.25" stop-color="#049ea3"/><stop offset="0.5" stop-color="#28a689"/><stop offset="0.75" stop-color="#49aa65"/><stop offset="1" stop-color="#81a537"/></linearGradient><linearGradient id="c12g18" gradientUnits="userSpaceOnUse" x1="402.1" y1="206" x2="468.3" y2="176.7"><stop offset="0" stop-color="#188cba"/><stop offset="0.25" stop-color="#0199a9"/><stop offset="0.5" stop-color="#20a391"/><stop offset="0.75" stop-color="#3da86e"/><stop offset="1" stop-color="#76a640"/></linearGradient><linearGradient id="c12g19" gradientUnits="userSpaceOnUse" x1="402.9" y1="207.1" x2="469.1" y2="177.7"><stop offset="0" stop-color="#1c86bc"/><stop offset="0.25" stop-color="#0a94af"/><stop offset="0.5" stop-color="#139f98"/><stop offset="0.75" stop-color="#33a676"/><stop offset="1" stop-color="#6aa749"/></linearGradient><linearGradient id="c12g20" gradientUnits="userSpaceOnUse" x1="403.7" y1="208.2" x2="469.9" y2="178.8"><stop offset="0" stop-color="#1e80bd"/><stop offset="0.25" stop-color="#1390b4"/><stop offset="0.5" stop-color="#059c9f"/><stop offset="0.75" stop-color="#2ca47e"/><stop offset="1" stop-color="#5ea851"/></linearGradient><linearGradient id="c12g21" gradientUnits="userSpaceOnUse" x1="404.5" y1="209.3" x2="470.7" y2="179.8"><stop offset="0" stop-color="#207cc1"/><stop offset="0.25" stop-color="#188bb8"/><stop offset="0.5" stop-color="#0198a6"/><stop offset="0.75" stop-color="#27a285"/><stop offset="1" stop-color="#53a85a"/></linearGradient><linearGradient id="c12g22" gradientUnits="userSpaceOnUse" x1="405.3" y1="210.4" x2="471.5" y2="180.8"><stop offset="0" stop-color="#2377c4"/><stop offset="0.25" stop-color="#1b86ba"/><stop offset="0.5" stop-color="#0894ac"/><stop offset="0.75" stop-color="#209f8c"/><stop offset="1" stop-color="#49a863"/></linearGradient><linearGradient id="c12g23" gradientUnits="userSpaceOnUse" x1="406.1" y1="211.5" x2="472.3" y2="181.9"><stop offset="0" stop-color="#2572c8"/><stop offset="0.25" stop-color="#1e81bd"/><stop offset="0.5" stop-color="#1190b2"/><stop offset="0.75" stop-color="#169d94"/><stop offset="1" stop-color="#3fa76b"/></linearGradient><linearGradient id="c12g24" gradientUnits="userSpaceOnUse" x1="406.9" y1="212.5" x2="473.1" y2="182.9"><stop offset="0" stop-color="#266dcb"/><stop offset="0.25" stop-color="#207dc0"/><stop offset="0.5" stop-color="#168cb6"/><stop offset="0.75" stop-color="#089b9b"/><stop offset="1" stop-color="#36a672"/></linearGradient><linearGradient id="c12g25" gradientUnits="userSpaceOnUse" x1="407.7" y1="213.5" x2="473.9" y2="183.9"><stop offset="0" stop-color="#2769cd"/><stop offset="0.25" stop-color="#2378c3"/><stop offset="0.5" stop-color="#1a87ba"/><stop offset="0.75" stop-color="#0198a2"/><stop offset="1" stop-color="#30a579"/></linearGradient><linearGradient id="c12g26" gradientUnits="userSpaceOnUse" x1="408.5" y1="214.6" x2="474.7" y2="184.9"><stop offset="0" stop-color="#2b64cf"/><stop offset="0.25" stop-color="#2573c7"/><stop offset="0.5" stop-color="#1d83bc"/><stop offset="0.75" stop-color="#0495a8"/><stop offset="1" stop-color="#2ba380"/></linearGradient><linearGradient id="c12g27" gradientUnits="userSpaceOnUse" x1="409.3" y1="215.5" x2="475.5" y2="185.8"><stop offset="0" stop-color="#2f5fd1"/><stop offset="0.25" stop-color="#256fca"/><stop offset="0.5" stop-color="#1f7ebf"/><stop offset="0.75" stop-color="#0c92ae"/><stop offset="1" stop-color="#27a185"/></linearGradient><linearGradient id="c12g28" gradientUnits="userSpaceOnUse" x1="410.1" y1="216.5" x2="476.3" y2="186.8"><stop offset="0" stop-color="#335ad1"/><stop offset="0.25" stop-color="#266acd"/><stop offset="0.5" stop-color="#217ac2"/><stop offset="0.75" stop-color="#138fb3"/><stop offset="1" stop-color="#219f8c"/></linearGradient><linearGradient id="c12g29" gradientUnits="userSpaceOnUse" x1="410.9" y1="217.5" x2="477.1" y2="187.8"><stop offset="0" stop-color="#3656d0"/><stop offset="0.25" stop-color="#2966cf"/><stop offset="0.5" stop-color="#2475c5"/><stop offset="0.75" stop-color="#178bb7"/><stop offset="1" stop-color="#189e92"/></linearGradient><linearGradient id="c12g30" gradientUnits="userSpaceOnUse" x1="411.7" y1="218.4" x2="477.9" y2="188.7"><stop offset="0" stop-color="#3852cf"/><stop offset="0.25" stop-color="#2e61d0"/><stop offset="0.5" stop-color="#2571c9"/><stop offset="0.75" stop-color="#1a87ba"/><stop offset="1" stop-color="#0d9c98"/></linearGradient><linearGradient id="c12g31" gradientUnits="userSpaceOnUse" x1="412.5" y1="219.3" x2="478.7" y2="189.7"><stop offset="0" stop-color="#394ece"/><stop offset="0.25" stop-color="#325cd1"/><stop offset="0.5" stop-color="#266ccc"/><stop offset="0.75" stop-color="#1d83bc"/><stop offset="1" stop-color="#049a9e"/></linearGradient><linearGradient id="c12g32" gradientUnits="userSpaceOnUse" x1="413.2" y1="220.2" x2="479.4" y2="190.6"><stop offset="0" stop-color="#3a4bcd"/><stop offset="0.25" stop-color="#3558d0"/><stop offset="0.5" stop-color="#2867ce"/><stop offset="0.75" stop-color="#1f7fbe"/><stop offset="1" stop-color="#0198a3"/></linearGradient><linearGradient id="c12g33" gradientUnits="userSpaceOnUse" x1="414" y1="221.1" x2="480.2" y2="191.5"><stop offset="0" stop-color="#3a48cb"/><stop offset="0.25" stop-color="#3754d0"/><stop offset="0.5" stop-color="#2c63d0"/><stop offset="0.75" stop-color="#207bc1"/><stop offset="1" stop-color="#0495a8"/></linearGradient><linearGradient id="c12g34" gradientUnits="userSpaceOnUse" x1="414.8" y1="222" x2="481" y2="192.4"><stop offset="0" stop-color="#3b44c9"/><stop offset="0.25" stop-color="#3950cf"/><stop offset="0.5" stop-color="#305ed1"/><stop offset="0.75" stop-color="#2377c4"/><stop offset="1" stop-color="#0a93ad"/></linearGradient><linearGradient id="c12g35" gradientUnits="userSpaceOnUse" x1="415.6" y1="222.8" x2="481.8" y2="193.3"><stop offset="0" stop-color="#3b41c7"/><stop offset="0.25" stop-color="#3a4ccd"/><stop offset="0.5" stop-color="#3459d1"/><stop offset="0.75" stop-color="#2573c7"/><stop offset="1" stop-color="#1090b1"/></linearGradient><linearGradient id="c12g36" gradientUnits="userSpaceOnUse" x1="416.4" y1="223.6" x2="482.6" y2="194.2"><stop offset="0" stop-color="#3b3fc5"/><stop offset="0.25" stop-color="#3a49cc"/><stop offset="0.5" stop-color="#3755d0"/><stop offset="0.75" stop-color="#256fca"/><stop offset="1" stop-color="#158db5"/></linearGradient><linearGradient id="c12g37" gradientUnits="userSpaceOnUse" x1="417.2" y1="224.4" x2="483.4" y2="195.1"><stop offset="0" stop-color="#3b3cc2"/><stop offset="0.25" stop-color="#3b45ca"/><stop offset="0.5" stop-color="#3951cf"/><stop offset="0.75" stop-color="#266bcc"/><stop offset="1" stop-color="#188ab7"/></linearGradient><linearGradient id="c12g38" gradientUnits="userSpaceOnUse" x1="418" y1="225.2" x2="484.2" y2="196"><stop offset="0" stop-color="#3b39c0"/><stop offset="0.25" stop-color="#3b42c7"/><stop offset="0.5" stop-color="#3a4dce"/><stop offset="0.75" stop-color="#2867ce"/><stop offset="1" stop-color="#1a87ba"/></linearGradient><linearGradient id="c12g39" gradientUnits="userSpaceOnUse" x1="418.8" y1="226" x2="485" y2="196.8"><stop offset="0" stop-color="#3a37bd"/><stop offset="0.25" stop-color="#3b3fc5"/><stop offset="0.5" stop-color="#3a4acc"/><stop offset="0.75" stop-color="#2b63d0"/><stop offset="1" stop-color="#1c84bb"/></linearGradient><linearGradient id="c12g40" gradientUnits="userSpaceOnUse" x1="419.6" y1="226.8" x2="485.8" y2="197.6"><stop offset="0" stop-color="#3a34bb"/><stop offset="0.25" stop-color="#3b3cc3"/><stop offset="0.5" stop-color="#3b46ca"/><stop offset="0.75" stop-color="#2f5fd1"/><stop offset="1" stop-color="#1e81bd"/></linearGradient><linearGradient id="c12g41" gradientUnits="userSpaceOnUse" x1="420.4" y1="227.6" x2="486.6" y2="198.5"><stop offset="0" stop-color="#3a32b8"/><stop offset="0.25" stop-color="#3b3ac0"/><stop offset="0.5" stop-color="#3b43c8"/><stop offset="0.75" stop-color="#335bd1"/><stop offset="1" stop-color="#1f7ebf"/></linearGradient><linearGradient id="c12g42" gradientUnits="userSpaceOnUse" x1="421.2" y1="228.3" x2="487.4" y2="199.3"><stop offset="0" stop-color="#3930b5"/><stop offset="0.25" stop-color="#3a37bd"/><stop offset="0.5" stop-color="#3b40c6"/><stop offset="0.75" stop-color="#3657d0"/><stop offset="1" stop-color="#207cc1"/></linearGradient><linearGradient id="c12g43" gradientUnits="userSpaceOnUse" x1="422" y1="229" x2="488.2" y2="200.1"><stop offset="0" stop-color="#392fb2"/><stop offset="0.25" stop-color="#3a34bb"/><stop offset="0.5" stop-color="#3b3dc3"/><stop offset="0.75" stop-color="#3754d0"/><stop offset="1" stop-color="#2279c3"/></linearGradient><linearGradient id="c12g44" gradientUnits="userSpaceOnUse" x1="422.8" y1="229.7" x2="489" y2="200.9"><stop offset="0" stop-color="#392daf"/><stop offset="0.25" stop-color="#3a32b8"/><stop offset="0.5" stop-color="#3b3ac0"/><stop offset="0.75" stop-color="#3951cf"/><stop offset="1" stop-color="#2476c5"/></linearGradient><linearGradient id="c12g45" gradientUnits="userSpaceOnUse" x1="423.6" y1="230.4" x2="489.8" y2="201.6"><stop offset="0" stop-color="#382cac"/><stop offset="0.25" stop-color="#3930b4"/><stop offset="0.5" stop-color="#3a37be"/><stop offset="0.75" stop-color="#3a4dce"/><stop offset="1" stop-color="#2573c7"/></linearGradient><linearGradient id="c12g46" gradientUnits="userSpaceOnUse" x1="424.4" y1="231.1" x2="490.6" y2="202.4"><stop offset="0" stop-color="#382ba9"/><stop offset="0.25" stop-color="#392eb1"/><stop offset="0.5" stop-color="#3a34bb"/><stop offset="0.75" stop-color="#3a4acc"/><stop offset="1" stop-color="#2570c9"/></linearGradient><linearGradient id="c12g47" gradientUnits="userSpaceOnUse" x1="425.2" y1="231.8" x2="491.4" y2="203.1"><stop offset="0" stop-color="#3729a6"/><stop offset="0.25" stop-color="#382cae"/><stop offset="0.5" stop-color="#3a32b7"/><stop offset="0.75" stop-color="#3a48cb"/><stop offset="1" stop-color="#266ecb"/></linearGradient><linearGradient id="c12g48" gradientUnits="userSpaceOnUse" x1="426" y1="232.4" x2="492.2" y2="203.9"><stop offset="0" stop-color="#3728a4"/><stop offset="0.25" stop-color="#382baa"/><stop offset="0.5" stop-color="#3930b4"/><stop offset="0.75" stop-color="#3b45c9"/><stop offset="1" stop-color="#266bcc"/></linearGradient><linearGradient id="c12g49" gradientUnits="userSpaceOnUse" x1="426.8" y1="233" x2="493" y2="204.6"><stop offset="0" stop-color="#3727a1"/><stop offset="0.25" stop-color="#372aa7"/><stop offset="0.5" stop-color="#392eb0"/><stop offset="0.75" stop-color="#3b42c8"/><stop offset="1" stop-color="#2769cd"/></linearGradient><linearGradient id="c12g50" gradientUnits="userSpaceOnUse" x1="427.6" y1="233.7" x2="493.8" y2="205.3"><stop offset="0" stop-color="#36279f"/><stop offset="0.25" stop-color="#3728a4"/><stop offset="0.5" stop-color="#382cac"/><stop offset="0.75" stop-color="#3b40c6"/><stop offset="1" stop-color="#2867ce"/></linearGradient><linearGradient id="c12g51" gradientUnits="userSpaceOnUse" x1="428.4" y1="234.3" x2="494.6" y2="206"><stop offset="0" stop-color="#36269c"/><stop offset="0.25" stop-color="#3627a1"/><stop offset="0.5" stop-color="#382aa9"/><stop offset="0.75" stop-color="#3b3ec4"/><stop offset="1" stop-color="#2a64cf"/></linearGradient><linearGradient id="c12g52" gradientUnits="userSpaceOnUse" x1="429.2" y1="234.9" x2="495.4" y2="206.7"><stop offset="0" stop-color="#35259a"/><stop offset="0.25" stop-color="#36269e"/><stop offset="0.5" stop-color="#3729a5"/><stop offset="0.75" stop-color="#3b3bc2"/><stop offset="1" stop-color="#2d62d0"/></linearGradient><linearGradient id="c12g53" gradientUnits="userSpaceOnUse" x1="429.9" y1="235.5" x2="496.1" y2="207.3"><stop offset="0" stop-color="#352499"/><stop offset="0.25" stop-color="#36259b"/><stop offset="0.5" stop-color="#3728a1"/><stop offset="0.75" stop-color="#3b39c0"/><stop offset="1" stop-color="#2f60d1"/></linearGradient><linearGradient id="c12g54" gradientUnits="userSpaceOnUse" x1="430.7" y1="236" x2="496.9" y2="208"><stop offset="0" stop-color="#352497"/><stop offset="0.25" stop-color="#352499"/><stop offset="0.5" stop-color="#36269e"/><stop offset="0.75" stop-color="#3a37be"/><stop offset="1" stop-color="#315ed1"/></linearGradient><linearGradient id="c12g55" gradientUnits="userSpaceOnUse" x1="431.5" y1="236.6" x2="497.7" y2="208.6"><stop offset="0" stop-color="#352395"/><stop offset="0.25" stop-color="#352396"/><stop offset="0.5" stop-color="#36259b"/><stop offset="0.75" stop-color="#3a35bc"/><stop offset="1" stop-color="#335cd1"/></linearGradient><linearGradient id="c12g56" gradientUnits="userSpaceOnUse" x1="432.3" y1="237.2" x2="498.5" y2="209.2"><stop offset="0" stop-color="#342294"/><stop offset="0.25" stop-color="#342394"/><stop offset="0.5" stop-color="#352498"/><stop offset="0.75" stop-color="#3a34b9"/><stop offset="1" stop-color="#345ad1"/></linearGradient><linearGradient id="c12g57" gradientUnits="userSpaceOnUse" x1="433.1" y1="237.7" x2="499.3" y2="209.8"><stop offset="0" stop-color="#342293"/><stop offset="0.25" stop-color="#342292"/><stop offset="0.5" stop-color="#352396"/><stop offset="0.75" stop-color="#3a32b7"/><stop offset="1" stop-color="#3558d0"/></linearGradient><linearGradient id="c12g58" gradientUnits="userSpaceOnUse" x1="433.9" y1="238.2" x2="500.1" y2="210.4"><stop offset="0" stop-color="#342291"/><stop offset="0.25" stop-color="#342190"/><stop offset="0.5" stop-color="#342293"/><stop offset="0.75" stop-color="#3930b5"/><stop offset="1" stop-color="#3657d0"/></linearGradient><linearGradient id="c12g59" gradientUnits="userSpaceOnUse" x1="434.7" y1="238.7" x2="500.9" y2="210.9"><stop offset="0" stop-color="#342190"/><stop offset="0.25" stop-color="#33218f"/><stop offset="0.5" stop-color="#342191"/><stop offset="0.75" stop-color="#392fb3"/><stop offset="1" stop-color="#3756d0"/></linearGradient><linearGradient id="c12g60" gradientUnits="userSpaceOnUse" x1="435.5" y1="239.2" x2="501.7" y2="211.5"><stop offset="0" stop-color="#34218f"/><stop offset="0.25" stop-color="#33208d"/><stop offset="0.5" stop-color="#33218f"/><stop offset="0.75" stop-color="#392eb1"/><stop offset="1" stop-color="#3754d0"/></linearGradient><linearGradient id="c12g61" gradientUnits="userSpaceOnUse" x1="436.3" y1="239.7" x2="502.5" y2="212"><stop offset="0" stop-color="#33218e"/><stop offset="0.25" stop-color="#33208c"/><stop offset="0.5" stop-color="#33208d"/><stop offset="0.75" stop-color="#392daf"/><stop offset="1" stop-color="#3853d0"/></linearGradient><linearGradient id="c12g62" gradientUnits="userSpaceOnUse" x1="437.1" y1="240.2" x2="503.3" y2="212.5"><stop offset="0" stop-color="#33218e"/><stop offset="0.25" stop-color="#33208b"/><stop offset="0.5" stop-color="#33208b"/><stop offset="0.75" stop-color="#382cac"/><stop offset="1" stop-color="#3852cf"/></linearGradient><linearGradient id="c12g63" gradientUnits="userSpaceOnUse" x1="437.9" y1="240.7" x2="504.1" y2="213"><stop offset="0" stop-color="#33208d"/><stop offset="0.25" stop-color="#331f8a"/><stop offset="0.5" stop-color="#331f8a"/><stop offset="0.75" stop-color="#382bab"/><stop offset="1" stop-color="#3852cf"/></linearGradient></defs>
<clipPath id="c12"><polygon points="387.4,181.1 388.2,182.6 389,184.1 389.8,185.6 390.6,187.1 391.4,188.6 392.2,190 393,191.4 393.8,192.8 394.6,194.1 395.4,195.5 396.1,196.8 396.9,198.1 397.7,199.4 398.5,200.6 399.3,201.8 400.1,203 400.9,204.2 401.7,205.4 402.5,206.6 403.3,207.7 404.1,208.8 404.9,209.9 405.7,211 406.5,212 407.3,213 408.1,214.1 408.9,215 409.7,216 410.5,217 411.3,217.9 412.1,218.9 412.9,219.8 413.6,220.6 414.4,221.5 415.2,222.4 416,223.2 416.8,224 417.6,224.8 418.4,225.6 419.2,226.4 420,227.2 420.8,227.9 421.6,228.7 422.4,229.4 423.2,230.1 424,230.8 424.8,231.4 425.6,232.1 426.4,232.7 427.2,233.4 428,234 428.8,234.6 429.6,235.2 430.3,235.8 431.1,236.3 431.9,236.9 432.7,237.4 433.5,238 434.3,238.5 435.1,239 435.9,239.5 436.7,240 437.5,240.4 438.3,240.9 449.3,238.4 460.4,235.4 471.4,232.3 482.4,227.3 493.5,220.7 504.5,213.2 503.7,212.8 502.9,212.3 502.1,211.7 501.3,211.2 500.5,210.7 499.7,210.1 498.9,209.5 498.1,208.9 497.3,208.3 496.5,207.6 495.8,207 495,206.3 494.2,205.6 493.4,205 492.6,204.2 491.8,203.5 491,202.8 490.2,202 489.4,201.3 488.6,200.5 487.8,199.7 487,198.9 486.2,198.1 485.4,197.2 484.6,196.4 483.8,195.5 483,194.7 482.2,193.8 481.4,192.9 480.6,192 479.8,191.1 479.1,190.1 478.3,189.2 477.5,188.3 476.7,187.3 475.9,186.3 475.1,185.4 474.3,184.4 473.5,183.4 472.7,182.4 471.9,181.4 471.1,180.3 470.3,179.3 469.5,178.3 468.7,177.2 467.9,176.2 467.1,175.1 466.3,174 465.5,172.9 464.7,171.9 463.9,170.8 463.1,169.7 462.3,168.6 461.6,167.4 460.8,166.3 460,165.2 459.2,164.1 458.4,162.9 457.6,161.8 456.8,160.7 456,159.5 455.2,158.3 454.4,157.2 453.6,156 442.6,160.2 431.5,164.4 420.5,168.5 409.5,172.7 398.4,176.9"/></clipPath>
<g clip-path="url(#c12)" stroke-width="1" stroke-linejoin="round"><polygon points="387.4,181.1 398.4,176.9 409.5,172.7 420.5,168.5 431.5,164.4 442.6,160.2 453.6,156 454.4,157.2 443.4,161.4 432.3,165.7 421.3,169.9 410.3,174.1 399.2,178.4 388.2,182.6" fill="url(#c12g0)" stroke="url(#c12g0)"/><polygon points="388.2,182.6 399.2,178.4 410.3,174.1 421.3,169.9 432.3,165.7 443.4,161.4 454.4,157.2 455.2,158.3 444.2,162.7 433.1,167 422.1,171.3 411.1,175.6 400,179.8 389,184.1" fill="url(#c12g1)" stroke="url(#c12g1)"/><polygon points="389,184.1 400,179.8 411.1,175.6 422.1,171.3 433.1,167 444.2,162.7 455.2,158.3 456,159.5 445,163.9 433.9,168.3 422.9,172.6 411.9,177 400.8,181.3 389.8,185.6" fill="url(#c12g2)" stroke="url(#c12g2)"/><polygon points="389.8,185.6 400.8,181.3 411.9,177 422.9,172.6 433.9,168.3 445,163.9 456,159.5 456.8,160.7 445.7,165.1 434.7,169.5 423.7,174 412.6,178.3 401.6,182.7 390.6,187.1" fill="url(#c12g3)" stroke="url(#c12g3)"/><polygon points="390.6,187.1 401.6,182.7 412.6,178.3 423.7,174 434.7,169.5 445.7,165.1 456.8,160.7 457.6,161.8 446.5,166.3 435.5,170.8 424.5,175.3 413.4,179.7 402.4,184.1 391.4,188.6" fill="url(#c12g4)" stroke="url(#c12g4)"/><polygon points="391.4,188.6 402.4,184.1 413.4,179.7 424.5,175.3 435.5,170.8 446.5,166.3 457.6,161.8 458.4,162.9 447.3,167.5 436.3,172.1 425.3,176.6 414.2,181.1 403.2,185.5 392.2,190" fill="url(#c12g5)" stroke="url(#c12g5)"/><polygon points="392.2,190 403.2,185.5 414.2,181.1 425.3,176.6 436.3,172.1 447.3,167.5 458.4,162.9 459.2,164.1 448.1,168.7 437.1,173.4 426.1,177.9 415,182.4 404,186.9 393,191.4" fill="url(#c12g6)" stroke="url(#c12g6)"/><polygon points="393,191.4 404,186.9 415,182.4 426.1,177.9 437.1,173.4 448.1,168.7 459.2,164.1 460,165.2 448.9,169.9 437.9,174.6 426.9,179.2 415.8,183.7 404.8,188.3 393.8,192.8" fill="url(#c12g7)" stroke="url(#c12g7)"/><polygon points="393.8,192.8 404.8,188.3 415.8,183.7 426.9,179.2 437.9,174.6 448.9,169.9 460,165.2 460.8,166.3 449.7,171.1 438.7,175.8 427.7,180.5 416.6,185.1 405.6,189.6 394.6,194.1" fill="url(#c12g8)" stroke="url(#c12g8)"/><polygon points="394.6,194.1 405.6,189.6 416.6,185.1 427.7,180.5 438.7,175.8 449.7,171.1 460.8,166.3 461.6,167.4 450.5,172.3 439.5,177.1 428.5,181.8 417.4,186.4 406.4,190.9 395.4,195.5" fill="url(#c12g9)" stroke="url(#c12g9)"/><polygon points="395.4,195.5 406.4,190.9 417.4,186.4 428.5,181.8 439.5,177.1 450.5,172.3 461.6,167.4 462.3,168.6 451.3,173.5 440.3,178.3 429.2,183.1 418.2,187.6 407.2,192.2 396.1,196.8" fill="url(#c12g10)" stroke="url(#c12g10)"/><polygon points="396.1,196.8 407.2,192.2 418.2,187.6 429.2,183.1 440.3,178.3 451.3,173.5 462.3,168.6 463.1,169.7 452.1,174.6 441.1,179.5 430,184.3 419,188.9 408,193.5 396.9,198.1" fill="url(#c12g11)" stroke="url(#c12g11)"/><polygon points="396.9,198.1 408,193.5 419,188.9 430,184.3 441.1,179.5 452.1,174.6 463.1,169.7 463.9,170.8 452.9,175.8 441.9,180.7 430.8,185.5 419.8,190.2 408.8,194.8 397.7,199.4" fill="url(#c12g12)" stroke="url(#c12g12)"/><polygon points="397.7,199.4 408.8,194.8 419.8,190.2 430.8,185.5 441.9,180.7 452.9,175.8 463.9,170.8 464.7,171.9 453.7,176.9 442.7,181.9 431.6,186.8 420.6,191.4 409.6,196 398.5,200.6" fill="url(#c12g13)" stroke="url(#c12g13)"/><polygon points="398.5,200.6 409.6,196 420.6,191.4 431.6,186.8 442.7,181.9 453.7,176.9 464.7,171.9 465.5,172.9 454.5,178.1 443.5,183.1 432.4,188 421.4,192.6 410.4,197.3 399.3,201.8" fill="url(#c12g14)" stroke="url(#c12g14)"/><polygon points="399.3,201.8 410.4,197.3 421.4,192.6 432.4,188 443.5,183.1 454.5,178.1 465.5,172.9 466.3,174 455.3,179.2 444.3,184.3 433.2,189.2 422.2,193.8 411.2,198.5 400.1,203" fill="url(#c12g15)" stroke="url(#c12g15)"/><polygon points="400.1,203 411.2,198.5 422.2,193.8 433.2,189.2 444.3,184.3 455.3,179.2 466.3,174 467.1,175.1 456.1,180.3 445.1,185.5 434,190.4 423,195 412,199.7 400.9,204.2" fill="url(#c12g16)" stroke="url(#c12g16)"/><polygon points="400.9,204.2 412,199.7 423,195 434,190.4 445.1,185.5 456.1,180.3 467.1,175.1 467.9,176.2 456.9,181.5 445.8,186.6 434.8,191.6 423.8,196.2 412.7,200.9 401.7,205.4" fill="url(#c12g17)" stroke="url(#c12g17)"/><polygon points="401.7,205.4 412.7,200.9 423.8,196.2 434.8,191.6 445.8,186.6 456.9,181.5 467.9,176.2 468.7,177.2 457.7,182.6 446.6,187.8 435.6,192.7 424.6,197.4 413.5,202 402.5,206.6" fill="url(#c12g18)" stroke="url(#c12g18)"/><polygon points="402.5,206.6 413.5,202 424.6,197.4 435.6,192.7 446.6,187.8 457.7,182.6 468.7,177.2 469.5,178.3 458.5,183.7 447.4,188.9 436.4,193.9 425.4,198.5 414.3,203.2 403.3,207.7" fill="url(#c12g19)" stroke="url(#c12g19)"/><polygon points="403.3,207.7 414.3,203.2 425.4,198.5 436.4,193.9 447.4,188.9 458.5,183.7 469.5,178.3 470.3,179.3 459.3,184.8 448.2,190 437.2,195.1 426.2,199.7 415.1,204.3 404.1,208.8" fill="url(#c12g20)" stroke="url(#c12g20)"/><polygon points="404.1,208.8 415.1,204.3 426.2,199.7 437.2,195.1 448.2,190 459.3,184.8 470.3,179.3 471.1,180.3 460.1,185.8 449,191.2 438,196.2 427,200.8 415.9,205.4 404.9,209.9" fill="url(#c12g21)" stroke="url(#c12g21)"/><polygon points="404.9,209.9 415.9,205.4 427,200.8 438,196.2 449,191.2 460.1,185.8 471.1,180.3 471.9,181.4 460.9,186.9 449.8,192.3 438.8,197.3 427.8,201.9 416.7,206.5 405.7,211" fill="url(#c12g22)" stroke="url(#c12g22)"/><polygon points="405.7,211 416.7,206.5 427.8,201.9 438.8,197.3 449.8,192.3 460.9,186.9 471.9,181.4 472.7,182.4 461.7,188 450.6,193.4 439.6,198.4 428.6,203 417.5,207.6 406.5,212" fill="url(#c12g23)" stroke="url(#c12g23)"/><polygon points="406.5,212 417.5,207.6 428.6,203 439.6,198.4 450.6,193.4 461.7,188 472.7,182.4 473.5,183.4 462.4,189 451.4,194.4 440.4,199.5 429.3,204.1 418.3,208.6 407.3,213" fill="url(#c12g24)" stroke="url(#c12g24)"/><polygon points="407.3,213 418.3,208.6 429.3,204.1 440.4,199.5 451.4,194.4 462.4,189 473.5,183.4 474.3,184.4 463.2,190.1 452.2,195.5 441.2,200.6 430.1,205.1 419.1,209.7 408.1,214.1" fill="url(#c12g25)" stroke="url(#c12g25)"/><polygon points="408.1,214.1 419.1,209.7 430.1,205.1 441.2,200.6 452.2,195.5 463.2,190.1 474.3,184.4 475.1,185.4 464,191.1 453,196.6 442,201.7 430.9,206.2 419.9,210.7 408.9,215" fill="url(#c12g26)" stroke="url(#c12g26)"/><polygon points="408.9,215 419.9,210.7 430.9,206.2 442,201.7 453,196.6 464,191.1 475.1,185.4 475.9,186.3 464.8,192.1 453.8,197.6 442.8,202.7 431.7,207.2 420.7,211.7 409.7,216" fill="url(#c12g27)" stroke="url(#c12g27)"/><polygon points="409.7,216 420.7,211.7 431.7,207.2 442.8,202.7 453.8,197.6 464.8,192.1 475.9,186.3 476.7,187.3 465.6,193.1 454.6,198.7 443.6,203.8 432.5,208.2 421.5,212.7 410.5,217" fill="url(#c12g28)" stroke="url(#c12g28)"/><polygon points="410.5,217 421.5,212.7 432.5,208.2 443.6,203.8 454.6,198.7 465.6,193.1 476.7,187.3 477.5,188.3 466.4,194.1 455.4,199.7 444.4,204.8 433.3,209.2 422.3,213.7 411.3,217.9" fill="url(#c12g29)" stroke="url(#c12g29)"/><polygon points="411.3,217.9 422.3,213.7 433.3,209.2 444.4,204.8 455.4,199.7 466.4,194.1 477.5,188.3 478.3,189.2 467.2,195.1 456.2,200.7 445.2,205.8 434.1,210.2 423.1,214.6 412.1,218.9" fill="url(#c12g30)" stroke="url(#c12g30)"/><polygon points="412.1,218.9 423.1,214.6 434.1,210.2 445.2,205.8 456.2,200.7 467.2,195.1 478.3,189.2 479.1,190.1 468,196.1 457,201.7 446,206.8 434.9,211.2 423.9,215.6 412.9,219.8" fill="url(#c12g31)" stroke="url(#c12g31)"/><polygon points="412.9,219.8 423.9,215.6 434.9,211.2 446,206.8 457,201.7 468,196.1 479.1,190.1 479.8,191.1 468.8,197.1 457.8,202.7 446.7,207.8 435.7,212.2 424.7,216.5 413.6,220.6" fill="url(#c12g32)" stroke="url(#c12g32)"/><polygon points="413.6,220.6 424.7,216.5 435.7,212.2 446.7,207.8 457.8,202.7 468.8,197.1 479.8,191.1 480.6,192 469.6,198 458.6,203.7 447.5,208.8 436.5,213.1 425.5,217.4 414.4,221.5" fill="url(#c12g33)" stroke="url(#c12g33)"/><polygon points="414.4,221.5 425.5,217.4 436.5,213.1 447.5,208.8 458.6,203.7 469.6,198 480.6,192 481.4,192.9 470.4,199 459.4,204.7 448.3,209.8 437.3,214 426.3,218.3 415.2,222.4" fill="url(#c12g34)" stroke="url(#c12g34)"/><polygon points="415.2,222.4 426.3,218.3 437.3,214 448.3,209.8 459.4,204.7 470.4,199 481.4,192.9 482.2,193.8 471.2,199.9 460.2,205.6 449.1,210.8 438.1,215 427.1,219.2 416,223.2" fill="url(#c12g35)" stroke="url(#c12g35)"/><polygon points="416,223.2 427.1,219.2 438.1,215 449.1,210.8 460.2,205.6 471.2,199.9 482.2,193.8 483,194.7 472,200.8 461,206.6 449.9,211.7 438.9,215.9 427.9,220.1 416.8,224" fill="url(#c12g36)" stroke="url(#c12g36)"/><polygon points="416.8,224 427.9,220.1 438.9,215.9 449.9,211.7 461,206.6 472,200.8 483,194.7 483.8,195.5 472.8,201.7 461.8,207.5 450.7,212.6 439.7,216.8 428.7,220.9 417.6,224.8" fill="url(#c12g37)" stroke="url(#c12g37)"/><polygon points="417.6,224.8 428.7,220.9 439.7,216.8 450.7,212.6 461.8,207.5 472.8,201.7 483.8,195.5 484.6,196.4 473.6,202.6 462.6,208.4 451.5,213.6 440.5,217.6 429.5,221.8 418.4,225.6" fill="url(#c12g38)" stroke="url(#c12g38)"/><polygon points="418.4,225.6 429.5,221.8 440.5,217.6 451.5,213.6 462.6,208.4 473.6,202.6 484.6,196.4 485.4,197.2 474.4,203.5 463.3,209.3 452.3,214.5 441.3,218.5 430.2,222.6 419.2,226.4" fill="url(#c12g39)" stroke="url(#c12g39)"/><polygon points="419.2,226.4 430.2,222.6 441.3,218.5 452.3,214.5 463.3,209.3 474.4,203.5 485.4,197.2 486.2,198.1 475.2,204.4 464.1,210.2 453.1,215.4 442.1,219.4 431,223.4 420,227.2" fill="url(#c12g40)" stroke="url(#c12g40)"/><polygon points="420,227.2 431,223.4 442.1,219.4 453.1,215.4 464.1,210.2 475.2,204.4 486.2,198.1 487,198.9 476,205.2 464.9,211.1 453.9,216.2 442.9,220.2 431.8,224.2 420.8,227.9" fill="url(#c12g41)" stroke="url(#c12g41)"/><polygon points="420.8,227.9 431.8,224.2 442.9,220.2 453.9,216.2 464.9,211.1 476,205.2 487,198.9 487.8,199.7 476.8,206.1 465.7,212 454.7,217.1 443.7,221 432.6,225 421.6,228.7" fill="url(#c12g42)" stroke="url(#c12g42)"/><polygon points="421.6,228.7 432.6,225 443.7,221 454.7,217.1 465.7,212 476.8,206.1 487.8,199.7 488.6,200.5 477.6,206.9 466.5,212.8 455.5,218 444.5,221.8 433.4,225.8 422.4,229.4" fill="url(#c12g43)" stroke="url(#c12g43)"/><polygon points="422.4,229.4 433.4,225.8 444.5,221.8 455.5,218 466.5,212.8 477.6,206.9 488.6,200.5 489.4,201.3 478.4,207.7 467.3,213.7 456.3,218.8 445.3,222.6 434.2,226.5 423.2,230.1" fill="url(#c12g44)" stroke="url(#c12g44)"/><polygon points="423.2,230.1 434.2,226.5 445.3,222.6 456.3,218.8 467.3,213.7 478.4,207.7 489.4,201.3 490.2,202 479.2,208.6 468.1,214.5 457.1,219.6 446.1,223.4 435,227.3 424,230.8" fill="url(#c12g45)" stroke="url(#c12g45)"/><polygon points="424,230.8 435,227.3 446.1,223.4 457.1,219.6 468.1,214.5 479.2,208.6 490.2,202 491,202.8 479.9,209.4 468.9,215.4 457.9,220.5 446.8,224.2 435.8,228 424.8,231.4" fill="url(#c12g46)" stroke="url(#c12g46)"/><polygon points="424.8,231.4 435.8,228 446.8,224.2 457.9,220.5 468.9,215.4 479.9,209.4 491,202.8 491.8,203.5 480.7,210.1 469.7,216.2 458.7,221.3 447.6,225 436.6,228.7 425.6,232.1" fill="url(#c12g47)" stroke="url(#c12g47)"/><polygon points="425.6,232.1 436.6,228.7 447.6,225 458.7,221.3 469.7,216.2 480.7,210.1 491.8,203.5 492.6,204.2 481.5,210.9 470.5,217 459.5,222.1 448.4,225.7 437.4,229.4 426.4,232.7" fill="url(#c12g48)" stroke="url(#c12g48)"/><polygon points="426.4,232.7 437.4,229.4 448.4,225.7 459.5,222.1 470.5,217 481.5,210.9 492.6,204.2 493.4,205 482.3,211.7 471.3,217.7 460.3,222.8 449.2,226.4 438.2,230.1 427.2,233.4" fill="url(#c12g49)" stroke="url(#c12g49)"/><polygon points="427.2,233.4 438.2,230.1 449.2,226.4 460.3,222.8 471.3,217.7 482.3,211.7 493.4,205 494.2,205.6 483.1,212.4 472.1,218.5 461.1,223.6 450,227.2 439,230.8 428,234" fill="url(#c12g50)" stroke="url(#c12g50)"/><polygon points="428,234 439,230.8 450,227.2 461.1,223.6 472.1,218.5 483.1,212.4 494.2,205.6 495,206.3 483.9,213.1 472.9,219.3 461.9,224.4 450.8,227.9 439.8,231.4 428.8,234.6" fill="url(#c12g51)" stroke="url(#c12g51)"/><polygon points="428.8,234.6 439.8,231.4 450.8,227.9 461.9,224.4 472.9,219.3 483.9,213.1 495,206.3 495.8,207 484.7,213.8 473.7,220 462.7,225.1 451.6,228.6 440.6,232.1 429.6,235.2" fill="url(#c12g52)" stroke="url(#c12g52)"/><polygon points="429.6,235.2 440.6,232.1 451.6,228.6 462.7,225.1 473.7,220 484.7,213.8 495.8,207 496.5,207.6 485.5,214.5 474.5,220.7 463.4,225.8 452.4,229.3 441.4,232.7 430.3,235.8" fill="url(#c12g53)" stroke="url(#c12g53)"/><polygon points="430.3,235.8 441.4,232.7 452.4,229.3 463.4,225.8 474.5,220.7 485.5,214.5 496.5,207.6 497.3,208.3 486.3,215.2 475.3,221.5 464.2,226.6 453.2,229.9 442.2,233.4 431.1,236.3" fill="url(#c12g54)" stroke="url(#c12g54)"/><polygon points="431.1,236.3 442.2,233.4 453.2,229.9 464.2,226.6 475.3,221.5 486.3,215.2 497.3,208.3 498.1,208.9 487.1,215.9 476.1,222.2 465,227.3 454,230.6 443,234 431.9,236.9" fill="url(#c12g55)" stroke="url(#c12g55)"/><polygon points="431.9,236.9 443,234 454,230.6 465,227.3 476.1,222.2 487.1,215.9 498.1,208.9 498.9,209.5 487.9,216.6 476.9,222.8 465.8,228 454.8,231.2 443.8,234.6 432.7,237.4" fill="url(#c12g56)" stroke="url(#c12g56)"/><polygon points="432.7,237.4 443.8,234.6 454.8,231.2 465.8,228 476.9,222.8 487.9,216.6 498.9,209.5 499.7,210.1 488.7,217.2 477.7,223.5 466.6,228.6 455.6,231.9 444.6,235.2 433.5,238" fill="url(#c12g57)" stroke="url(#c12g57)"/><polygon points="433.5,238 444.6,235.2 455.6,231.9 466.6,228.6 477.7,223.5 488.7,217.2 499.7,210.1 500.5,210.7 489.5,217.8 478.5,224.2 467.4,229.3 456.4,232.5 445.4,235.7 434.3,238.5" fill="url(#c12g58)" stroke="url(#c12g58)"/><polygon points="434.3,238.5 445.4,235.7 456.4,232.5 467.4,229.3 478.5,224.2 489.5,217.8 500.5,210.7 501.3,211.2 490.3,218.4 479.3,224.8 468.2,229.9 457.2,233.1 446.2,236.3 435.1,239" fill="url(#c12g59)" stroke="url(#c12g59)"/><polygon points="435.1,239 446.2,236.3 457.2,233.1 468.2,229.9 479.3,224.8 490.3,218.4 501.3,211.2 502.1,211.7 491.1,219 480,225.5 469,230.6 458,233.7 446.9,236.9 435.9,239.5" fill="url(#c12g60)" stroke="url(#c12g60)"/><polygon points="435.9,239.5 446.9,236.9 458,233.7 469,230.6 480,225.5 491.1,219 502.1,211.7 502.9,212.3 491.9,219.6 480.8,226.1 469.8,231.2 458.8,234.3 447.7,237.4 436.7,240" fill="url(#c12g61)" stroke="url(#c12g61)"/><polygon points="436.7,240 447.7,237.4 458.8,234.3 469.8,231.2 480.8,226.1 491.9,219.6 502.9,212.3 503.7,212.8 492.7,220.2 481.6,226.7 470.6,231.8 459.6,234.8 448.5,237.9 437.5,240.4" fill="url(#c12g62)" stroke="url(#c12g62)"/><polygon points="437.5,240.4 448.5,237.9 459.6,234.8 470.6,231.8 481.6,226.7 492.7,220.2 503.7,212.8 504.5,213.2 493.5,220.7 482.4,227.3 471.4,232.3 460.4,235.4 449.3,238.4 438.3,240.9" fill="url(#c12g63)" stroke="url(#c12g63)"/><g fill="none" stroke="#000" stroke-width="0.5"><polyline stroke-opacity="0.27" points="387.4,181.07 403.95,174.81 420.5,168.55 437.05,162.29 453.6,156.03"/><polyline stroke-opacity="0.27" points="387.93,182.1 404.48,175.78 421.03,169.46 437.58,163.13 454.13,156.8"/><polyline stroke-opacity="0.27" points="388.46,183.12 405.01,176.75 421.56,170.37 438.11,163.98 454.66,157.58"/><polyline stroke-opacity="0.27" points="388.99,184.13 405.54,177.7 422.09,171.27 438.64,164.82 455.19,158.35"/><polyline stroke-opacity="0.27" points="389.52,185.13 406.07,178.66 422.62,172.17 439.17,165.66 455.72,159.12"/><polyline stroke-opacity="0.27" points="390.05,186.12 406.6,179.6 423.15,173.07 439.7,166.49 456.25,159.89"/><polyline stroke-opacity="0.27" points="390.58,187.1 407.13,180.54 423.68,173.96 440.23,167.33 456.78,160.65"/><polyline stroke-opacity="0.27" points="391.11,188.07 407.66,181.47 424.21,174.85 440.76,168.16 457.31,161.42"/><polyline stroke-opacity="0.27" points="391.64,189.03 408.19,182.39 424.74,175.73 441.29,168.99 457.84,162.18"/><polyline stroke-opacity="0.27" points="392.17,189.98 408.72,183.31 425.27,176.61 441.82,169.81 458.37,162.94"/><polyline stroke-opacity="0.27" points="392.7,190.92 409.25,184.21 425.8,177.49 442.35,170.64 458.9,163.69"/><polyline stroke-opacity="0.27" points="393.23,191.85 409.78,185.11 426.33,178.36 442.88,171.45 459.43,164.45"/><polyline stroke-opacity="0.27" points="393.76,192.77 410.31,186.01 426.86,179.22 443.41,172.27 459.96,165.2"/><polyline stroke-opacity="0.27" points="394.29,193.68 410.84,186.89 427.39,180.08 443.94,173.08 460.49,165.95"/><polyline stroke-opacity="0.27" points="394.82,194.58 411.37,187.77 427.92,180.94 444.47,173.89 461.02,166.7"/><polyline stroke-opacity="0.27" points="395.35,195.47 411.9,188.64 428.45,181.79 445,174.7 461.55,167.44"/><polyline stroke-opacity="0.27" points="395.88,196.35 412.43,189.51 428.98,182.63 445.53,175.5 462.08,168.19"/><polyline stroke-opacity="0.27" points="396.41,197.22 412.96,190.36 429.51,183.47 446.06,176.3 462.61,168.92"/><polyline stroke-opacity="0.27" points="396.94,198.08 413.49,191.21 430.04,184.3 446.59,177.09 463.14,169.66"/><polyline stroke-opacity="0.27" points="397.47,198.93 414.02,192.06 430.57,185.13 447.12,177.88 463.67,170.39"/><polyline stroke-opacity="0.27" points="398,199.77 414.55,192.89 431.1,185.96 447.65,178.67 464.2,171.13"/><polyline stroke-opacity="0.27" points="398.53,200.61 415.08,193.72 431.63,186.78 448.18,179.45 464.73,171.85"/><polyline stroke-opacity="0.27" points="399.06,201.43 415.61,194.54 432.16,187.59 448.71,180.23 465.26,172.58"/><polyline stroke-opacity="0.27" points="399.59,202.24 416.14,195.35 432.69,188.4 449.24,181.01 465.79,173.3"/><polyline stroke-opacity="0.27" points="400.12,203.05 416.68,196.16 433.23,189.2 449.78,181.78 466.33,174.02"/><polyline stroke-opacity="0.27" points="400.66,203.84 417.21,196.95 433.76,190 450.31,182.54 466.86,174.73"/><polyline stroke-opacity="0.27" points="401.19,204.63 417.74,197.75 434.29,190.79 450.84,183.31 467.39,175.45"/><polyline stroke-opacity="0.27" points="401.72,205.41 418.27,198.53 434.82,191.58 451.37,184.06 467.92,176.15"/><polyline stroke-opacity="0.27" points="402.25,206.17 418.8,199.31 435.35,192.36 451.9,184.82 468.45,176.86"/><polyline stroke-opacity="0.27" points="402.78,206.93 419.33,200.08 435.88,193.14 452.43,185.57 468.98,177.56"/><polyline stroke-opacity="0.27" points="403.31,207.68 419.86,200.84 436.41,193.91 452.96,186.32 469.51,178.26"/><polyline stroke-opacity="0.27" points="403.84,208.43 420.39,201.6 436.94,194.67 453.49,187.06 470.04,178.95"/><polyline stroke-opacity="0.27" points="404.37,209.16 420.92,202.34 437.47,195.43 454.02,187.79 470.57,179.64"/><polyline stroke-opacity="0.27" points="404.9,209.88 421.45,203.09 438,196.19 454.55,188.53 471.1,180.33"/><polyline stroke-opacity="0.27" points="405.43,210.6 421.98,203.82 438.53,196.93 455.08,189.26 471.63,181.01"/><polyline stroke-opacity="0.27" points="405.96,211.31 422.51,204.55 439.06,197.68 455.61,189.98 472.16,181.69"/><polyline stroke-opacity="0.27" points="406.49,212.01 423.04,205.27 439.59,198.42 456.14,190.7 472.69,182.37"/><polyline stroke-opacity="0.27" points="407.02,212.7 423.57,205.98 440.12,199.15 456.67,191.41 473.22,183.04"/><polyline stroke-opacity="0.27" points="407.55,213.38 424.1,206.69 440.65,199.88 457.2,192.12 473.75,183.71"/><polyline stroke-opacity="0.27" points="408.08,214.05 424.63,207.39 441.18,200.6 457.73,192.83 474.28,184.37"/><polyline stroke-opacity="0.27" points="408.61,214.72 425.16,208.08 441.71,201.31 458.26,193.53 474.81,185.03"/><polyline stroke-opacity="0.27" points="409.14,215.38 425.69,208.77 442.24,202.02 458.79,194.23 475.34,185.69"/><polyline stroke-opacity="0.27" points="409.67,216.03 426.22,209.45 442.77,202.73 459.32,194.92 475.87,186.34"/><polyline stroke-opacity="0.27" points="410.2,216.67 426.75,210.12 443.3,203.43 459.85,195.6 476.4,186.98"/><polyline stroke-opacity="0.27" points="410.73,217.3 427.28,210.79 443.83,204.12 460.38,196.29 476.93,187.62"/><polyline stroke-opacity="0.27" points="411.26,217.93 427.81,211.45 444.36,204.81 460.91,196.96 477.46,188.26"/><polyline stroke-opacity="0.27" points="411.79,218.55 428.34,212.1 444.89,205.49 461.44,197.63 477.99,188.89"/><polyline stroke-opacity="0.27" points="412.32,219.16 428.87,212.75 445.42,206.17 461.97,198.3 478.52,189.52"/><polyline stroke-opacity="0.27" points="412.85,219.76 429.4,213.39 445.95,206.84 462.5,198.96 479.05,190.14"/><polyline stroke-opacity="0.27" points="413.38,220.35 429.93,214.02 446.48,207.51 463.03,199.62 479.58,190.76"/><polyline stroke-opacity="0.27" points="413.91,220.94 430.46,214.65 447.01,208.17 463.56,200.27 480.11,191.38"/><polyline stroke-opacity="0.27" points="414.44,221.52 430.99,215.27 447.54,208.82 464.09,200.92 480.64,191.98"/><polyline stroke-opacity="0.27" points="414.97,222.09 431.52,215.89 448.07,209.47 464.62,201.56 481.17,192.59"/><polyline stroke-opacity="0.27" points="415.5,222.66 432.05,216.49 448.6,210.12 465.15,202.2 481.7,193.19"/><polyline stroke-opacity="0.27" points="416.03,223.22 432.58,217.09 449.13,210.75 465.68,202.83 482.23,193.78"/><polyline stroke-opacity="0.27" points="416.56,223.77 433.11,217.69 449.66,211.39 466.21,203.46 482.76,194.37"/><polyline stroke-opacity="0.27" points="417.09,224.31 433.64,218.28 450.19,212.01 466.74,204.08 483.29,194.95"/><polyline stroke-opacity="0.27" points="417.62,224.85 434.17,218.86 450.72,212.63 467.27,204.69 483.82,195.53"/><polyline stroke-opacity="0.27" points="418.15,225.38 434.7,219.43 451.25,213.25 467.8,205.3 484.35,196.1"/><polyline stroke-opacity="0.27" points="418.68,225.9 435.23,220 451.78,213.86 468.33,205.91 484.88,196.67"/><polyline stroke-opacity="0.27" points="419.21,226.41 435.76,220.57 452.31,214.46 468.86,206.51 485.41,197.23"/><polyline stroke-opacity="0.27" points="419.74,226.92 436.29,221.12 452.84,215.06 469.39,207.1 485.94,197.79"/><polyline stroke-opacity="0.27" points="420.27,227.43 436.82,221.67 453.37,215.66 469.92,207.69 486.47,198.34"/><polyline stroke-opacity="0.27" points="420.8,227.92 437.35,222.22 453.9,216.24 470.45,208.27 487,198.88"/><polyline stroke-opacity="0.27" points="421.33,228.41 437.88,222.76 454.43,216.83 470.98,208.85 487.53,199.42"/><polyline stroke-opacity="0.27" points="421.86,228.89 438.41,223.29 454.96,217.4 471.51,209.42 488.06,199.95"/><polyline stroke-opacity="0.27" points="422.39,229.37 438.94,223.82 455.49,217.97 472.04,209.99 488.59,200.48"/><polyline stroke-opacity="0.27" points="422.92,229.84 439.47,224.34 456.02,218.54 472.57,210.55 489.12,201"/><polyline stroke-opacity="0.27" points="423.45,230.3 440,224.85 456.55,219.1 473.1,211.1 489.65,201.52"/><polyline stroke-opacity="0.27" points="423.98,230.75 440.53,225.36 457.08,219.65 473.63,211.65 490.18,202.03"/><polyline stroke-opacity="0.27" points="424.51,231.2 441.06,225.86 457.61,220.2 474.16,212.19 490.71,202.53"/><polyline stroke-opacity="0.27" points="425.04,231.65 441.59,226.36 458.14,220.74 474.69,212.73 491.24,203.03"/><polyline stroke-opacity="0.27" points="425.57,232.09 442.12,226.85 458.68,221.27 475.23,213.26 491.78,203.52"/><polyline stroke-opacity="0.27" points="426.11,232.52 442.66,227.33 459.21,221.8 475.76,213.79 492.31,204"/><polyline stroke-opacity="0.27" points="426.64,232.94 443.19,227.81 459.74,222.33 476.29,214.31 492.84,204.48"/><polyline stroke-opacity="0.27" points="427.17,233.36 443.72,228.28 460.27,222.85 476.82,214.82 493.37,204.95"/><polyline stroke-opacity="0.27" points="427.7,233.78 444.25,228.75 460.8,223.36 477.35,215.33 493.9,205.42"/><polyline stroke-opacity="0.27" points="428.23,234.18 444.78,229.21 461.33,223.87 477.88,215.83 494.43,205.87"/><polyline stroke-opacity="0.27" points="428.76,234.59 445.31,229.67 461.86,224.37 478.41,216.32 494.96,206.33"/><polyline stroke-opacity="0.27" points="429.29,234.98 445.84,230.12 462.39,224.87 478.94,216.81 495.49,206.77"/><polyline stroke-opacity="0.27" points="429.82,235.37 446.37,230.56 462.92,225.36 479.47,217.3 496.02,207.21"/><polyline stroke-opacity="0.27" points="430.35,235.76 446.9,231 463.45,225.84 480,217.77 496.55,207.64"/><polyline stroke-opacity="0.27" points="430.88,236.14 447.43,231.43 463.98,226.32 480.53,218.24 497.08,208.06"/><polyline stroke-opacity="0.27" points="431.41,236.51 447.96,231.86 464.51,226.8 481.06,218.71 497.61,208.48"/><polyline stroke-opacity="0.27" points="431.94,236.88 448.49,232.28 465.04,227.26 481.59,219.17 498.14,208.89"/><polyline stroke-opacity="0.27" points="432.47,237.25 449.02,232.7 465.57,227.73 482.12,219.62 498.67,209.3"/><polyline stroke-opacity="0.27" points="433,237.6 449.55,233.11 466.1,228.18 482.65,220.07 499.2,209.69"/><polyline stroke-opacity="0.27" points="433.53,237.96 450.08,233.52 466.63,228.63 483.18,220.51 499.73,210.08"/><polyline stroke-opacity="0.27" points="434.06,238.31 450.61,233.92 467.16,229.08 483.71,220.94 500.26,210.46"/><polyline stroke-opacity="0.27" points="434.59,238.65 451.14,234.31 467.69,229.52 484.24,221.37 500.79,210.84"/><polyline stroke-opacity="0.27" points="435.12,238.99 451.67,234.7 468.22,229.95 484.77,221.79 501.32,211.2"/><polyline stroke-opacity="0.27" points="435.65,239.32 452.2,235.09 468.75,230.38 485.3,222.2 501.85,211.56"/><polyline stroke-opacity="0.27" points="436.18,239.65 452.73,235.46 469.28,230.8 485.83,222.61 502.38,211.92"/><polyline stroke-opacity="0.27" points="436.71,239.97 453.26,235.84 469.81,231.21 486.36,223.01 502.91,212.26"/><polyline stroke-opacity="0.27" points="437.24,240.29 453.79,236.21 470.34,231.62 486.89,223.4 503.44,212.6"/><polyline stroke-opacity="0.27" points="437.77,240.6 454.32,236.57 470.87,232.03 487.42,223.79 503.97,212.92"/><polyline stroke-opacity="0.27" points="438.3,240.91 454.85,236.88 471.4,232.35 487.95,224.17 504.5,213.25"/></g><g fill="none" stroke="#000" stroke-opacity="0.2" stroke-width="0.35"><polyline points="387.4,181.07 391.64,189.03 395.88,196.35 400.12,203.05 404.37,209.16 408.61,214.72 412.85,219.76 417.09,224.31 421.33,228.41 425.57,232.09 429.82,235.37 434.06,238.31 438.3,240.91"/><polyline points="388.72,180.57 392.97,188.5 397.21,195.81 401.45,202.5 405.69,208.62 409.93,214.2 414.17,219.27 418.42,223.85 422.66,227.99 426.9,231.7 431.14,235.03 435.38,238 439.62,240.65"/><polyline points="390.05,180.07 394.29,187.97 398.53,195.26 402.77,201.96 407.01,208.09 411.26,213.69 415.5,218.78 419.74,223.39 423.98,227.56 428.22,231.32 432.46,234.68 436.71,237.69 440.95,240.38"/><polyline points="391.37,179.57 395.61,187.44 399.86,194.72 404.1,201.41 408.34,207.55 412.58,213.17 416.82,218.28 421.06,222.93 425.31,227.13 429.55,230.92 433.79,234.33 438.03,237.38 442.27,240.1"/><polyline points="392.7,179.07 396.94,186.91 401.18,194.17 405.42,200.86 409.66,207.01 413.9,212.64 418.15,217.79 422.39,222.46 426.63,226.7 430.87,230.53 435.11,233.97 439.35,237.06 443.6,239.82"/><polyline points="394.02,178.56 398.26,186.38 402.5,193.63 406.75,200.32 410.99,206.47 415.23,212.12 419.47,217.28 423.71,221.99 427.95,226.26 432.19,230.13 436.44,233.61 440.68,236.73 444.92,239.53"/><polyline points="395.34,178.06 399.59,185.85 403.83,193.08 408.07,199.77 412.31,205.93 416.55,211.59 420.79,216.78 425.04,221.51 429.28,225.82 433.52,229.71 437.76,233.23 442,236.39 446.24,239.22"/><polyline points="396.67,177.56 400.91,185.32 405.15,192.53 409.39,199.22 413.63,205.39 417.88,211.06 422.12,216.27 426.36,221.03 430.6,225.36 434.84,229.3 439.08,232.85 443.33,236.04 447.57,238.87"/><polyline points="397.99,177.06 402.23,184.79 406.48,191.98 410.72,198.66 414.96,204.84 419.2,210.53 423.44,215.76 427.68,220.54 431.93,224.9 436.17,228.87 440.41,232.45 444.65,235.68 448.89,238.5"/><polyline points="399.32,176.56 403.56,184.25 407.8,191.44 412.04,198.11 416.28,204.29 420.52,209.99 424.77,215.23 429.01,220.04 433.25,224.43 437.49,228.43 441.73,232.04 445.97,235.3 450.22,238.14"/><polyline points="400.64,176.06 404.88,183.72 409.12,190.88 413.37,197.55 417.61,203.73 421.85,209.45 426.09,214.71 430.33,219.54 434.57,223.96 438.81,227.98 443.06,231.62 447.3,234.91 451.54,237.78"/><polyline points="401.96,175.56 406.21,183.19 410.45,190.33 414.69,196.99 418.93,203.18 423.17,208.9 427.41,214.18 431.66,219.04 435.9,223.48 440.14,227.53 444.38,231.2 448.62,234.51 452.86,237.42"/><polyline points="403.29,175.06 407.53,182.66 411.77,189.78 416.01,196.44 420.25,202.62 424.5,208.36 428.74,213.66 432.98,218.53 437.22,223 441.46,227.07 445.7,230.78 449.95,234.12 454.19,237.06"/><polyline points="404.61,174.56 408.85,182.12 413.1,189.23 417.34,195.88 421.58,202.07 425.82,207.81 430.06,213.13 434.3,218.02 438.55,222.52 442.79,226.62 447.03,230.35 451.27,233.72 455.51,236.69"/><polyline points="405.94,174.06 410.18,181.59 414.42,188.68 418.66,195.32 422.9,201.51 427.14,207.27 431.39,212.6 435.63,217.52 439.87,222.03 444.11,226.17 448.35,229.92 452.59,233.32 456.84,236.33"/><polyline points="407.26,173.56 411.5,181.06 415.74,188.13 419.99,194.76 424.23,200.96 428.47,206.72 432.71,212.07 436.95,217.01 441.19,221.55 445.44,225.71 449.68,229.5 453.92,232.92 458.16,235.97"/><polyline points="408.58,173.06 412.83,180.53 417.07,187.58 421.31,194.2 425.55,200.4 429.79,206.18 434.03,211.54 438.28,216.51 442.52,221.08 446.76,225.26 451,229.08 455.24,232.53 459.48,235.61"/><polyline points="409.91,172.55 414.15,179.99 418.39,187.03 422.63,193.65 426.87,199.85 431.12,205.64 435.36,211.02 439.6,216.01 443.84,220.6 448.08,224.82 452.32,228.66 456.57,232.14 460.81,235.25"/><polyline points="411.23,172.05 415.47,179.46 419.72,186.48 423.96,193.09 428.2,199.3 432.44,205.1 436.68,210.5 440.92,215.51 445.17,220.13 449.41,224.38 453.65,228.25 457.89,231.76 462.13,234.88"/><polyline points="412.56,171.55 416.8,178.93 421.04,185.93 425.28,192.54 429.52,198.74 433.76,204.56 438.01,209.98 442.25,215.01 446.49,219.66 450.73,223.93 454.97,227.84 459.21,231.38 463.46,234.52"/><polyline points="413.88,171.05 418.12,178.4 422.36,185.38 426.61,191.98 430.85,198.19 435.09,204.02 439.33,209.45 443.57,214.51 447.81,219.19 452.06,223.49 456.3,227.42 460.54,230.99 464.78,234.16"/><polyline points="415.2,170.55 419.45,177.86 423.69,184.83 427.93,191.42 432.17,197.64 436.41,203.48 440.65,208.93 444.9,214.01 449.14,218.71 453.38,223.05 457.62,227.01 461.86,230.61 466.1,233.8"/><polyline points="416.53,170.05 420.77,177.33 425.01,184.28 429.25,190.87 433.49,197.09 437.74,202.94 441.98,208.41 446.22,213.51 450.46,218.24 454.7,222.6 458.94,226.6 463.19,230.23 467.43,233.44"/><polyline points="417.85,169.55 422.09,176.8 426.34,183.73 430.58,190.31 434.82,196.54 439.06,202.39 443.3,207.89 447.54,213.01 451.79,217.77 456.03,222.16 460.27,226.19 464.51,229.85 468.75,233.07"/><polyline points="419.18,169.05 423.42,176.27 427.66,183.18 431.9,189.76 436.14,195.98 440.38,201.85 444.63,207.37 448.87,212.51 453.11,217.3 457.35,221.72 461.59,225.77 465.83,229.46 470.08,232.71"/><polyline points="420.5,168.55 424.74,175.73 428.98,182.63 433.23,189.2 437.47,195.43 441.71,201.31 445.95,206.84 450.19,212.01 454.43,216.83 458.68,221.27 462.92,225.36 467.16,229.08 471.4,232.35"/><polyline points="421.82,168.05 426.07,175.2 430.31,182.08 434.55,188.64 438.79,194.86 443.03,200.75 447.27,206.29 451.52,211.48 455.76,216.31 460,220.78 464.24,224.89 468.48,228.63 472.72,231.99"/><polyline points="423.15,167.55 427.39,174.66 431.63,181.52 435.87,188.06 440.11,194.28 444.36,200.17 448.6,205.72 452.84,210.91 457.08,215.76 461.32,220.24 465.56,224.36 469.81,228.11 474.05,231.49"/><polyline points="424.47,167.05 428.71,174.13 432.96,180.95 437.2,187.48 441.44,193.69 445.68,199.57 449.92,205.11 454.16,210.31 458.41,215.16 462.65,219.65 466.89,223.77 471.13,227.53 475.37,230.9"/><polyline points="425.8,166.55 430.04,173.59 434.28,180.38 438.52,186.89 442.76,193.08 447,198.95 451.25,204.49 455.49,209.69 459.73,214.54 463.97,219.03 468.21,223.15 472.45,226.9 476.7,230.27"/><polyline points="427.12,166.04 431.36,173.05 435.6,179.81 439.85,186.29 444.09,192.47 448.33,198.33 452.57,203.86 456.81,209.05 461.05,213.89 465.3,218.38 469.54,222.49 473.78,226.24 478.02,229.6"/><polyline points="428.44,165.54 432.69,172.51 436.93,179.24 441.17,185.69 445.41,191.85 449.65,197.69 453.89,203.21 458.14,208.4 462.38,213.23 466.62,217.71 470.86,221.82 475.1,225.55 479.34,228.9"/><polyline points="429.77,165.04 434.01,171.97 438.25,178.66 442.49,185.09 446.73,191.23 450.98,197.06 455.22,202.57 459.46,207.74 463.7,212.57 467.94,217.04 472.18,221.14 476.43,224.87 480.67,228.2"/><polyline points="431.09,164.54 435.33,171.43 439.58,178.09 443.82,184.49 448.06,190.61 452.3,196.43 456.54,201.93 460.78,207.09 465.03,211.92 469.27,216.38 473.51,220.47 477.75,224.18 481.99,227.5"/><polyline points="432.42,164.04 436.66,170.89 440.9,177.52 445.14,183.9 449.38,190 453.62,195.8 457.87,201.29 462.11,206.45 466.35,211.26 470.59,215.72 474.83,219.81 479.07,223.51 483.32,226.81"/><polyline points="433.74,163.54 437.98,170.34 442.22,176.94 446.47,183.3 450.71,189.37 454.95,195.16 459.19,200.64 463.43,205.79 467.67,210.59 471.92,215.04 476.16,219.12 480.4,222.81 484.64,226.09"/><polyline points="435.06,163.04 439.31,169.8 443.55,176.37 447.79,182.69 452.03,188.75 456.27,194.51 460.51,199.97 464.76,205.11 469,209.91 473.24,214.34 477.48,218.4 481.72,222.08 485.96,225.34"/><polyline points="436.39,162.54 440.63,169.26 444.87,175.79 449.11,182.08 453.35,188.11 457.6,193.86 461.84,199.3 466.08,204.42 470.32,209.2 474.56,213.62 478.8,217.67 483.05,221.32 487.29,224.57"/><polyline points="437.71,162.04 441.95,168.72 446.2,175.21 450.44,181.47 454.68,187.47 458.92,193.2 463.16,198.62 467.4,203.73 471.65,208.49 475.89,212.89 480.13,216.92 484.37,220.55 488.61,223.77"/><polyline points="439.04,161.54 443.28,168.17 447.52,174.63 451.76,180.86 456,186.83 460.24,192.53 464.49,197.94 468.73,203.02 472.97,207.77 477.21,212.15 481.45,216.15 485.69,219.76 489.94,222.95"/><polyline points="440.36,161.04 444.6,167.63 448.84,174.04 453.09,180.24 457.33,186.19 461.57,191.87 465.81,197.25 470.05,202.31 474.29,207.03 478.54,211.4 482.78,215.38 487.02,218.96 491.26,222.12"/><polyline points="441.68,160.54 445.93,167.09 450.17,173.46 454.41,179.62 458.65,185.54 462.89,191.2 467.13,196.55 471.38,201.6 475.62,206.3 479.86,210.64 484.1,214.6 488.34,218.15 492.58,221.28"/><polyline points="443.01,160.04 447.25,166.54 451.49,172.88 455.73,179.01 459.97,184.9 464.22,190.52 468.46,195.86 472.7,200.88 476.94,205.56 481.18,209.88 485.42,213.81 489.67,217.34 493.91,220.43"/><polyline points="444.33,159.53 448.57,166 452.82,172.3 457.06,178.39 461.3,184.25 465.54,189.85 469.78,195.16 474.02,200.16 478.27,204.82 482.51,209.12 486.75,213.03 490.99,216.53 495.23,219.59"/><polyline points="445.66,159.03 449.9,165.45 454.14,171.71 458.38,177.77 462.62,183.6 466.86,189.17 471.11,194.46 475.35,199.44 479.59,204.07 483.83,208.35 488.07,212.23 492.31,215.7 496.56,218.73"/><polyline points="446.98,158.53 451.22,164.91 455.46,171.13 459.71,177.15 463.95,182.95 468.19,188.49 472.43,193.75 476.67,198.71 480.91,203.32 485.16,207.57 489.4,211.42 493.64,214.86 497.88,217.85"/><polyline points="448.3,158.03 452.55,164.36 456.79,170.54 461.03,176.53 465.27,182.29 469.51,187.81 473.75,193.04 478,197.97 482.24,202.55 486.48,206.77 490.72,210.6 494.96,214 499.2,216.96"/><polyline points="449.63,157.53 453.87,163.82 458.11,169.95 462.35,175.9 466.59,181.64 470.84,187.12 475.08,192.32 479.32,197.22 483.56,201.78 487.8,205.97 492.04,209.77 496.29,213.14 500.53,216.05"/><polyline points="450.95,157.03 455.19,163.27 459.44,169.36 463.68,175.28 467.92,180.97 472.16,186.43 476.4,191.6 480.64,196.47 484.89,201 489.13,205.16 493.37,208.92 497.61,212.26 501.85,215.13"/><polyline points="452.28,156.53 456.52,162.72 460.76,168.78 465,174.65 469.24,180.31 473.48,185.73 477.73,190.88 481.97,195.71 486.21,200.21 490.45,204.34 494.69,208.07 498.93,211.36 503.18,214.19"/><polyline points="453.6,156.03 457.84,162.18 462.08,168.19 466.33,174.02 470.57,179.64 474.81,185.03 479.05,190.14 483.29,194.95 487.53,199.42 491.78,203.52 496.02,207.21 500.26,210.46 504.5,213.25"/></g></g>
<g fill="none" stroke="#ff0000" stroke-width="1.6"><circle cx="387.1" cy="174.1" r="1.55"/><circle cx="420.1" cy="159.9" r="1.55"/><circle cx="453.6" cy="143.5" r="1.55"/><circle cx="404" cy="216.1" r="1.55"/><circle cx="421.1" cy="234.1" r="1.55"/><circle cx="437.9" cy="240.4" r="1.55"/><circle cx="471.2" cy="230.7" r="1.55"/><circle cx="504.4" cy="215.8" r="1.55"/><path stroke-width="1.1" d="M436.9,193 l2.4,1.6"/></g>
<rect x="461.1" y="147.6" width="47" height="11.1" fill="#fff" stroke="#8a8a8a" stroke-width="0.6"/>
<circle cx="470.4" cy="153.3" r="1.55" fill="none" stroke="#ff0000" stroke-width="1.7"/>
<text transform="translate(479.5,155.9) scale(0.94,1)" font-size="7.9" fill="#151515" stroke="#151515" stroke-width="0.18">Line 90°</text>
<text transform="translate(382.8,175.4) scale(0.94,1)" font-size="8.8" text-anchor="end">2.5</text>
<text transform="translate(382.8,187.2) scale(0.94,1)" font-size="8.8" text-anchor="end">2</text>
<text transform="translate(382.8,198.8) scale(0.94,1)" font-size="8.8" text-anchor="end">1.5</text>
<text transform="translate(382.8,210.6) scale(0.94,1)" font-size="8.8" text-anchor="end">1</text>
<text transform="translate(382.7,227) scale(0.94,1)" font-size="8.8" text-anchor="end">100</text>
<text transform="translate(425.7,248.1) scale(0.94,1)" font-size="8.8" text-anchor="end">50</text>
<text transform="translate(441.9,252.5) scale(0.94,1)" font-size="8.8" text-anchor="start">0.4</text>
<text transform="translate(474.7,243.2) scale(0.94,1)" font-size="8.8" text-anchor="start">0.6</text>
<text transform="translate(508.4,233.9) scale(0.94,1)" font-size="8.8" text-anchor="start">0.8</text>
<text x="366.4" y="152.6" font-size="10" fill="#999">×</text>
<text transform="translate(373.1,152.4) scale(0.94,1)" font-size="8.8">10<tspan dy="-3.3" font-size="6.8">4</tspan></text></g>
<text transform="translate(42.4,52.6) rotate(-90)" font-size="9.1" text-anchor="middle">Stiffness (N/m)</text>
<text transform="translate(34.9,190.6) rotate(-90)" font-size="9.1" text-anchor="middle">Stiffness (N/m)</text>
<text x="3.4" y="257.7" font-size="9.1">Infill density (%)</text>
<text x="477.8" y="259.2" font-size="9.1">Nozzle size (mm)</text>
</svg>
</body></html>
